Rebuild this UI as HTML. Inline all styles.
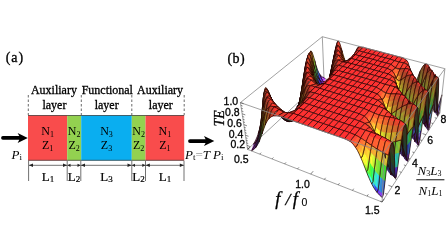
<!DOCTYPE html>
<html><head><meta charset="utf-8"><style>
html,body{margin:0;padding:0;background:#fff;overflow:hidden}
svg{display:block}
.s{font-family:"Liberation Serif",serif;fill:#000}
.h{stroke:#000;stroke-width:0.3px}
.t{font-family:"Liberation Sans",sans-serif;fill:#000;stroke:#000;stroke-width:0.3px}
.bx{stroke:#8a8a8a;stroke-width:0.8}
.m{fill:none;stroke:#200;stroke-width:0.8;stroke-opacity:0.85}

</style></head><body>
<svg width="448" height="252" viewBox="0 0 448 252">
<rect width="448" height="252" fill="#fff"/>

<text x="5.8" y="62.2" class="s h" font-size="14" letter-spacing="0.9">(a)</text>
<g class="s h" font-size="12" text-anchor="middle">
<text x="53.9" y="94">Auxiliary</text>
<text x="107.3" y="94">Functional</text>
<text x="160.1" y="94">Auxiliary</text>
<text x="54.4" y="108.6">layer</text>
<text x="106.7" y="108.6">layer</text>
<text x="160.8" y="108.6">layer</text>
</g>
<g stroke="#444" stroke-width="0.8" stroke-dasharray="2.5 2">
<line x1="28.3" y1="95" x2="28.3" y2="115"/>
<line x1="81.3" y1="95" x2="81.3" y2="115"/>
<line x1="131.8" y1="95" x2="131.8" y2="115"/>
<line x1="184.2" y1="95" x2="184.2" y2="115"/>
</g>
<rect x="28" y="115.3" width="39.2" height="45.2" fill="#f94c4c"/>
<rect x="67.2" y="115.3" width="14" height="45.2" fill="#93d150"/>
<rect x="81.2" y="115.3" width="50.6" height="45.2" fill="#0aaef0"/>
<rect x="131.8" y="115.3" width="13.7" height="45.2" fill="#93d150"/>
<rect x="145.5" y="115.3" width="38.7" height="45.2" fill="#f94c4c"/>
<g stroke="#333" stroke-width="0.7"><line x1="28" y1="115.5" x2="184.2" y2="115.5"/><line x1="28" y1="160.3" x2="184.2" y2="160.3"/></g>
<g class="s" font-size="12" text-anchor="middle">
<text x="47.6" y="135">N<tspan font-size="8" dy="2">1</tspan></text>
<text x="47.6" y="148.5">Z<tspan font-size="8" dy="2">1</tspan></text>
<text x="74.2" y="135">N<tspan font-size="8" dy="2">2</tspan></text>
<text x="74.2" y="148.5">Z<tspan font-size="8" dy="2">2</tspan></text>
<text x="106.5" y="135">N<tspan font-size="8" dy="2">3</tspan></text>
<text x="106.5" y="148.5">Z<tspan font-size="8" dy="2">3</tspan></text>
<text x="138.7" y="135">N<tspan font-size="8" dy="2">2</tspan></text>
<text x="138.7" y="148.5">Z<tspan font-size="8" dy="2">2</tspan></text>
<text x="164.8" y="135">N<tspan font-size="8" dy="2">1</tspan></text>
<text x="164.8" y="148.5">Z<tspan font-size="8" dy="2">1</tspan></text>
</g>
<path d="M2.9 136.1H19.3L17.6 132.9L27.8 137.9L17.6 143L19.3 139.7H2.9A1.8 1.8 0 0 1 2.9 136.1Z" fill="#000"/>
<path d="M190 139.2H205.6L204 136.1L214.3 141.1L204 146.1L205.6 143H190A1.9 1.9 0 0 1 190 139.2Z" fill="#000"/>
<text x="11.5" y="158.5" class="s" font-size="13"><tspan font-style="italic">P</tspan><tspan font-size="9" dy="1">i</tspan></text>
<text x="185" y="158.5" class="s" font-size="13"><tspan font-style="italic">P</tspan><tspan font-size="9" dy="1">t</tspan><tspan dy="-1" fill="#999">=</tspan><tspan font-style="italic">T P</tspan><tspan font-size="9" dy="1">i</tspan></text>
<g stroke="#333" stroke-width="0.7">
<line x1="28.6" y1="161" x2="28.6" y2="181"/><line x1="67.2" y1="161" x2="67.2" y2="181"/>
<line x1="80.8" y1="161" x2="80.8" y2="181"/><line x1="131.8" y1="161" x2="131.8" y2="181"/>
<line x1="145.5" y1="161" x2="145.5" y2="181"/><line x1="184" y1="161" x2="184" y2="181"/>
<line x1="29" y1="165.3" x2="67" y2="165.3"/><line x1="67.5" y1="165.3" x2="80.5" y2="165.3"/>
<line x1="81" y1="165.3" x2="131.5" y2="165.3"/><line x1="132" y1="165.3" x2="145.3" y2="165.3"/>
<line x1="145.8" y1="165.3" x2="183.8" y2="165.3"/>
</g>
<g fill="#222">
<path d="M29 165.3l4-1.8v3.6z"/><path d="M67 165.3l-4-1.8v3.6z"/>
<path d="M67.5 165.3l3-1.6v3.2z"/><path d="M80.5 165.3l-3-1.6v3.2z"/>
<path d="M81 165.3l4-1.8v3.6z"/><path d="M131.5 165.3l-4-1.8v3.6z"/>
<path d="M132 165.3l3-1.6v3.2z"/><path d="M145.3 165.3l-3-1.6v3.2z"/>
<path d="M145.8 165.3l4-1.8v3.6z"/><path d="M183.8 165.3l-4-1.8v3.6z"/>
</g>
<g class="s" font-size="13" text-anchor="middle" style="stroke:#000;stroke-width:0.2px">
<text x="48" y="180.5">L<tspan font-size="9" dy="1.5">1</tspan></text>
<text x="74" y="180.5">L<tspan font-size="9" dy="1.5">2</tspan></text>
<text x="106.5" y="180.5">L<tspan font-size="9" dy="1.5">3</tspan></text>
<text x="138.6" y="180.5">L<tspan font-size="9" dy="1.5">2</tspan></text>
<text x="164.9" y="180.5">L<tspan font-size="9" dy="1.5">1</tspan></text>
</g>
<line x1="324.0" y1="78.5" x2="322.3" y2="36.7" class="bx"/>
<line x1="324.0" y1="78.5" x2="247.6" y2="149.4" class="bx"/>
<line x1="324.0" y1="78.5" x2="439.9" y2="113.1" class="bx"/>
<g class="sf"><path d="M323.9 79.1l1.3 1.2 .3-.1-.3-1.3z" fill="#c332ff"/>
<path d="M322.6 77.1l1.3 2 1.3-.2 0-.1-1.2-1.3z" fill="#b131ff"/>
<path d="M325.2 80.3l.7 .4-.4-.5z" fill="#bd31ff"/>
<path d="M322.6 78.8l1.3 1.7 1.3-.2-1.3-1.2z" fill="#b231ff"/>
<path d="M323.9 80.5l1.3 1.1 1-.5-.3-.4-.7-.4z" fill="#c032ff"/>
<path d="M321.2 76.1l1.4 2.7 1.3 .3-1.3-2z" fill="#9530f4"/>
<path d="M322.5 80.4l1.3 1.5 1.4-.3-1.3-1.1z" fill="#b031ff"/>
<path d="M321.1 78l1.4 2.4 1.4 .1-1.3-1.7z" fill="#9730f7"/>
<path d="M319.7 74.3l1.4 3.7 1.5 .8-1.4-2.7z" fill="#6e2ee4"/>
<path d="M319.7 74.3L321.1 78.0L322.5 80.4L323.8 81.9L325.2 81.6L326.2 81.1M325.2 78.8L324.0 77.5L322.6 77.1L321.2 76.1L319.7 74.3" class="m"/>
<path d="M325.8 81.3l1.9 .2 1.9-2.2-1.2 .5-2.1 1.2z" fill="#952ccb"/>
<path d="M327.7 81.5l1.8-1.4 1.9-3.9-1.8 3.1z" fill="#5c2787"/>
<path d="M323.8 81.9l1.9 1.2 2-1.6-1.9-.2z" fill="#b130fa"/>
<path d="M325.7 83.1l1.9-.3 1.9-2.7-1.8 1.4z" fill="#7a2aaf"/>
<path d="M323.8 81.9L325.7 83.1L327.6 82.8L329.5 80.1L331.4 76.2L329.6 79.3L328.4 79.8M326.3 81.0L325.8 81.3L323.8 81.9" class="m"/>
<path d="M319.5 79.7l2.1 3.8 2 2 2-.9 2-1.8-1.9 .3-1.9-1.2-2.1-.4z" fill="#9730f4"/>
<path d="M321.7 81.5l2 2.3 2-.7-1.9-1.2z" fill="#a931ff"/>
<path d="M323.7 83.8l1.9 .8 2-1.8-1.9 .3z" fill="#972ee0"/>
<path d="M321.6 83.5l2 2 2-.9-1.9-.8z" fill="#9e31ff"/>
<path d="M319.5 79.7l2.1 3.8 2.1 .3-2-2.3z" fill="#802ff1"/>
<path d="M319.5 79.7l2.1 3.8 2 2 2-.9 2-1.8-1.9 .3-1.9-1.2-2.1-.4z" class="m"/>
<path d="M327.6 82.8l.9-.8 .9-1.5 .9-2.2 .9-3.2 .9-3.5 .9-4.1 .9-4.6 .8-5.1-.8 6.3-.8 5.3-.8 4-.9 2.8-.9 2.1-1 1.8-.9 1.5z" fill="#302f57"/>
<path d="M330.5 78.3l.9-2.2 .9-2.7-.9 2.8z" fill="#30224f"/>
<path d="M329.5 80.1l.9-1.7 1-2.3-.9 2.2z" fill="#35224c"/>
<path d="M328.6 81.6l.9-1.3 .9-1.9-.9 1.7z" fill="#532781"/>
<path d="M327.6 82.8l.9-.8 1-1.7-.9 1.3z" fill="#5b2789"/>
<path d="M331.4 76.1l.8-3.2 .9-3.5-.8 4z" fill="#232351"/>
<path d="M330.4 78.4l.9-2.6 .9-2.9-.8 3.2z" fill="#2a224f"/>
<path d="M329.5 80.3l.9-1.9 .9-2.6-.9 2.6z" fill="#30224e"/>
<path d="M328.5 82l.9-1.5 1-2.1-.9 1.9z" fill="#4c267e"/>
<path d="M330.4 78.4l.8-2.9 1-3.2-.9 3.5z" fill="#242350"/>
<path d="M331.3 75.8l.9-3.5 .9-3.8-.9 4.4z" fill="#233251"/>
<path d="M329.4 80.5l.9-2.2 .9-2.8-.8 2.9z" fill="#2b224e"/>
<path d="M332.2 72.9l.9-4.4 .8-4.4-.8 5.3z" fill="#234952"/>
<path d="M330.3 78.3l.9-3.2 .9-3.5-.9 3.9z" fill="#232c50"/>
<path d="M331.2 75.5l.9-3.9 .9-4.1-.8 4.8z" fill="#234151"/>
<path d="M332.2 72.3l.8-4.8 .9-4.6-.8 5.6z" fill="#235149"/>
<path d="M333.1 68.5l.8-5.6 .8-5.1-.8 6.3z" fill="#23522e"/>
<path d="M327.6 82.8l.9-.8 .9-1.5 .9-2.2 .9-3.2 .9-3.5 .9-4.1 .9-4.6 .8-5.1-.8 6.3-.8 5.3-.8 4-.9 2.8-.9 2.1-1 1.8-.9 1.5z" class="m"/>
<path d="M314.7 60.5l1.3 6.8 1.2 5.4 1.2 4 1.1 3 1.1 1.1 1.1 .7 1.1 .4 1 0-1-1.1-1-1.5-1-2.1-1.1-2.9-1.2-2.2-1.2-3-1.3-3.9z" fill="#4e57d4"/>
<path d="M321.8 80.4l1 1.5 1 0-1-1.1z" fill="#9e30fd"/>
<path d="M320.7 78.5l1.1 1.9 1 .4-1-1.5z" fill="#892ff0"/>
<path d="M319.7 75.8l1 2.7 1.1 .8-1-2.1z" fill="#662ee3"/>
<path d="M320.7 79.7l1 1.8 1.1 .4-1-1.5z" fill="#892ff1"/>
<path d="M318.5 72.1l1.2 3.7 1.1 1.4-1.1-2.9z" fill="#372dd7"/>
<path d="M319.6 77.2l1.1 2.5 1.1 .7-1.1-1.9z" fill="#672ee4"/>
<path d="M318.5 73.8l1.1 3.4 1.1 1.3-1-2.7z" fill="#3c2dd9"/>
<path d="M319.6 78.5l1 2.3 1.1 .7-1-1.8z" fill="#672fe6"/>
<path d="M317.3 69.1l1.2 4.7 1.2 2-1.2-3.7z" fill="#2d71d2"/>
<path d="M318.5 75.4l1.1 3.1 1.1 1.2-1.1-2.5z" fill="#3e2eda"/>
<path d="M317.3 71l1.2 4.4 1.1 1.8-1.1-3.4z" fill="#2d64d1"/>
<path d="M318.4 76.7l1.1 3 1.1 1.1-1-2.3z" fill="#3f2edb"/>
<path d="M317.2 72.7l1.2 4 1.2 1.8-1.1-3.1z" fill="#2d5cd1"/>
<path d="M316 65.2l1.3 5.8 1.2 2.8-1.2-4.7z" fill="#2dd1c2"/>
<path d="M316 67.3l1.2 5.4 1.3 2.7-1.2-4.4z" fill="#2dcdcf"/>
<path d="M314.7 60.5l1.3 6.8 1.3 3.7-1.3-5.8z" fill="#2dd046"/>
<path d="M314.7 60.5l1.3 6.8 1.2 5.4 1.2 4 1.1 3 1.1 1.1 1.1 .7 1.1 .4 1 0-1-1.1-1-1.5-1-2.1-1.1-2.9-1.2-2.2-1.2-3-1.3-3.9z" class="m"/>
<path d="M323.6 85.5l1.3 .5 1.2-.2 1.3-1.2 1.3-2.4 1.2-3.2 1.3-3.9-1.2 4-1.2 2.5-1.2 1.2-1.3 1.3-1.4 .9z" fill="#5c2896"/>
<path d="M326.3 84.1l1.2-.6 1.3-1.9-1.2 1.2z" fill="#67299b"/>
<path d="M324.9 85l1.3 0 1.3-1.5-1.2 .6z" fill="#7e2cc0"/>
<path d="M327.5 83.5l1.2-1.6 1.3-2.8-1.2 2.5z" fill="#4d2681"/>
<path d="M326.2 85l1.3-.9 1.2-2.2-1.2 1.6z" fill="#58278c"/>
<path d="M323.6 85.5l1.3 .5 1.3-1-1.3 0z" fill="#8d2ee0"/>
<path d="M328.7 81.9l1.2-2.9 1.3-3.9-1.2 4z" fill="#28224e"/>
<path d="M324.9 86l1.2-.2 1.4-1.7-1.3 .9z" fill="#6e2ab1"/>
<path d="M327.5 84.1l1.2-1.9 1.2-3.2-1.2 2.9z" fill="#40267d"/>
<path d="M326.1 85.8l1.3-1.2 1.3-2.4-1.2 1.9z" fill="#4d2787"/>
<path d="M323.6 85.5l1.3 .5 1.2-.2 1.3-1.2 1.3-2.4 1.2-3.2 1.3-3.9-1.2 4-1.2 2.5-1.2 1.2-1.3 1.3-1.4 .9z" class="m"/>
<path d="M319.2 83.5l2.1 3.2 2 1.6 2.1-1.2 2-2.5-1.9 1.4-1.9-.5-2.2-.2z" fill="#742ee4"/>
<path d="M321.4 85.3l2 1.7 2.1-1-1.9-.5z" fill="#8e30fa"/>
<path d="M323.4 87l2 .1 2-2.5-1.9 1.4z" fill="#6b2bba"/>
<path d="M319.2 83.5l2.1 3.2 2.1 .3-2-1.7z" fill="#622fef"/>
<path d="M321.3 86.7l2 1.6 2.1-1.2-2-.1z" fill="#752fee"/>
<path d="M319.2 83.5l2.1 3.2 2 1.6 2.1-1.2 2-2.5-1.9 1.4-1.9-.5-2.2-.2z" class="m"/>
<path d="M314.5 68.4l1.3 5.3 1.2 4.1 1.1 3.2 1.1 2.5 1.1 1.1 1.1 .7 1.1 .3 1.1-.1-1-.8-1-1.2-1.1-1.6-1-2.2-1.2-1.7-1.2-2.4-1.2-3.2z" fill="#4853d9"/>
<path d="M321.5 84.4l1 1.2 1.1-.1-1-.8z" fill="#9030fc"/>
<path d="M320.5 82.9l1 1.5 1.1 .3-1-1.2z" fill="#7e30f2"/>
<path d="M319.4 80.8l1.1 2.1 1.1 .6-1.1-1.6z" fill="#612fe7"/>
<path d="M318.3 78l1.1 2.8 1.1 1.1-1-2.2z" fill="#3d2edc"/>
<path d="M320.4 83.8l1 1.5 1.1 .3-1-1.2z" fill="#762ff2"/>
<path d="M319.3 81.8l1.1 2 1.1 .6-1-1.5z" fill="#5b2fe7"/>
<path d="M318.3 79.1l1 2.7 1.2 1.1-1.1-2.1z" fill="#3a2edc"/>
<path d="M317.1 75.6l1.2 3.5 1.1 1.7-1.1-2.8z" fill="#2d5bd3"/>
<path d="M319.3 82.7l1 1.9 1.1 .7-1-1.5z" fill="#542fe6"/>
<path d="M318.2 80.1l1.1 2.6 1.1 1.1-1.1-2z" fill="#352edc"/>
<path d="M317 76.8l1.2 3.3 1.1 1.7-1-2.7z" fill="#2d60d3"/>
<path d="M318.1 81l1.1 2.5 1.1 1.1-1-1.9z" fill="#2e2edb"/>
<path d="M315.9 72.4l1.1 4.4 1.3 2.3-1.2-3.5z" fill="#2db8cd"/>
<path d="M317 77.8l1.1 3.2 1.2 1.7-1.1-2.6z" fill="#2d68d3"/>
<path d="M315.8 73.7l1.2 4.1 1.2 2.3-1.2-3.3z" fill="#2dbbcd"/>
<path d="M314.5 68.4l1.3 5.3 1.2 3.1-1.1-4.4z" fill="#2ccb75"/>
<path d="M314.5 68.4l1.3 5.3 1.2 4.1 1.1 3.2 1.1 2.5 1.1 1.1 1.1 .7 1.1 .3 1.1-.1-1-.8-1-1.2-1.1-1.6-1-2.2-1.2-1.7-1.2-2.4-1.2-3.2z" class="m"/>
<path d="M327.4 84.6l.9-1.6 .9-2.4 .8-3.2 .9-4 .9-4.3 .9-4.7 .9-5 .9-5.1-.8 5.7-.9 5.7-.8 5.2-.8 4.2-1 3-.9 2.6-1 2.1z" fill="#284044"/>
<path d="M329.3 80.7l.9-2.8 .9-3.2-.9 3.4z" fill="#22274f"/>
<path d="M330.2 78.1l.9-3.4 .9-3.8-.8 4.2z" fill="#233a50"/>
<path d="M328.3 82.8l.9-2.1 1-2.8-.9 2.8z" fill="#26224e"/>
<path d="M329.2 80.7l.9-3 .9-3.5-.8 3.7z" fill="#22334f"/>
<path d="M328.3 83l.9-2.4 .9-2.9-.9 3z" fill="#22244e"/>
<path d="M330.2 77.9l.8-3.7 .9-4-.8 4.5z" fill="#234750"/>
<path d="M331.1 74.7l.8-4.5 .9-4.5-.8 5.2z" fill="#235143"/>
<path d="M329.2 80.6l.8-3.2 1-3.6-.9 3.9z" fill="#223f4f"/>
<path d="M330.1 77.7l.9-3.9 .9-4.2-.9 4.6z" fill="#23504c"/>
<path d="M331 74.2l.9-4.6 .9-4.6-.9 5.2z" fill="#235035"/>
<path d="M331.9 70.2l.9-5.2 .9-5-.9 5.7z" fill="#295123"/>
<path d="M330 77.4l.9-4 .9-4.3-.8 4.7z" fill="#235040"/>
<path d="M331 73.8l.8-4.7 .9-4.7-.8 5.2z" fill="#235028"/>
<path d="M331.9 69.6l.8-5.2 .9-5-.8 5.6z" fill="#335023"/>
<path d="M332.8 65l.8-5.6 .9-5.1-.8 5.7z" fill="#485023"/>
<path d="M327.4 84.6l.9-1.6 .9-2.4 .8-3.2 .9-4 .9-4.3 .9-4.7 .9-5 .9-5.1-.8 5.7-.9 5.7-.8 5.2-.8 4.2-1 3-.9 2.6-1 2.1z" class="m"/>
<path d="M323.3 88.3l.9 .1 1-.3 1-.9 .9-1.6 1-2.3 .9-2.8 1-3.3 .9-3.8-.9 4-.8 3.2-.9 2.4-.9 1.6-1 1.4-1 1.1-1.1 .8z" fill="#372b79"/>
<path d="M326.4 86l.9-1.1 1-1.9-.9 1.6z" fill="#432783"/>
<path d="M325.4 87.1l.9-.7 1-1.5-.9 1.1z" fill="#4c288f"/>
<path d="M324.3 87.9l1-.3 1-1.2-.9 .7z" fill="#5a2aad"/>
<path d="M326.3 86.4l.9-1.2 1-2.1-.9 1.8z" fill="#392681"/>
<path d="M325.3 87.6l.9-.8 1-1.6-.9 1.2z" fill="#412789"/>
<path d="M323.3 88.3l.9 .1 1.1-.8-1 .3z" fill="#652dcd"/>
<path d="M328.2 83.1l.9-2.5 .9-3.2-.8 3.2z" fill="#222e4e"/>
<path d="M327.2 85.2l.9-2 1-2.6-.9 2.5z" fill="#22224d"/>
<path d="M324.2 88.4l1-.3 1-1.3-.9 .8z" fill="#4d29a5"/>
<path d="M326.2 86.8l1-1.4 .9-2.2-.9 2z" fill="#30267f"/>
<path d="M325.2 88.1l1-.9 1-1.8-1 1.4z" fill="#382787"/>
<path d="M328.1 83.2l.9-2.7 1-3.3-.9 3.4z" fill="#22384e"/>
<path d="M329.1 80.6l.9-3.4 .9-3.8-.9 4z" fill="#224a4f"/>
<path d="M327.2 85.4l.9-2.1 .9-2.8-.9 2.7z" fill="#222a4d"/>
<path d="M326.2 87.2l.9-1.6 1-2.3-.9 2.1z" fill="#27267d"/>
<path d="M323.3 88.3l.9 .1 1-.3 1-.9 .9-1.6 1-2.3 .9-2.8 1-3.3 .9-3.8-.9 4-.8 3.2-.9 2.4-.9 1.6-1 1.4-1 1.1-1.1 .8z" class="m"/>
<path d="M331.2 75.1l.8-4.2 .8-5.2 .9-5.7 .8-5.7 .9-4.8 .9-4 1-3 1-1.6-1 1-.9 3.6-.9 5.7-.8 6.6-.8 5.1-.9 4.6-.9 4.1z" fill="#454728"/>
<path d="M331.2 75.1l.8-4.2 .9-4.3-.8 5z" fill="#235051"/>
<path d="M332.1 71.6l.8-5 .9-4.8-.8 5.7z" fill="#235139"/>
<path d="M333 67.5l.8-5.7 .9-5.2-.8 6.3z" fill="#275123"/>
<path d="M333.9 62.9l.8-6.3 .8-5.4-.8 6.6z" fill="#3f5223"/>
<path d="M332 70.9l.8-5.2 .9-4.9-.8 5.8z" fill="#23512a"/>
<path d="M332.9 66.6l.8-5.8 .9-5.2-.8 6.2z" fill="#335123"/>
<path d="M333.8 61.8l.8-6.2 .9-5.3-.8 6.3z" fill="#4b5123"/>
<path d="M334.7 56.6l.8-6.3 .9-4.8-.9 5.7z" fill="#504523"/>
<path d="M332.8 65.7l.9-5.7 .8-5.2-.8 6z" fill="#3e5023"/>
<path d="M333.7 60.8l.8-6 .9-5-.8 5.8z" fill="#504d23"/>
<path d="M334.6 55.6l.8-5.8 1-4.5-.9 5z" fill="#503e23"/>
<path d="M335.5 50.3l.9-5 .9-3.4-.9 3.6z" fill="#4e3222"/>
<path d="M333.7 60l.8-5.7 .9-4.8-.9 5.3z" fill="#4f4623"/>
<path d="M334.5 54.8l.9-5.3 .9-4-.9 4.3z" fill="#4e3922"/>
<path d="M336.4 45.3l.9-2.8 1-1.6-1 1z" fill="#7f3026"/>
<path d="M335.4 49.8l.9-4.3 1-3-.9 2.8z" fill="#723a25"/>
<path d="M331.2 75.1l.8-4.2 .8-5.2 .9-5.7 .8-5.7 .9-4.8 .9-4 1-3 1-1.6-1 1-.9 3.6-.9 5.7-.8 6.6-.8 5.1-.9 4.6-.9 4.1z" class="m"/>
<path d="M309.8 53.3l.8-2.1 1.3 4.1 1.3 6.6 1.3 6.5 1.4 4 1.2 3.2 1.2 2.4 1.2 1.7-1.1-3-1.2-4-1.2-5.4-1.3-6.8-1.4-4.8-1.3-3.8-1.2-1.1z" fill="#7bb456"/>
<path d="M317.2 74.2l1.1 3.8 1.2 1.7-1.1-3z" fill="#2d5ad2"/>
<path d="M316 69.2l1.2 5 1.2 2.5-1.2-4z" fill="#2dc1ce"/>
<path d="M315.9 70.9l1.2 4.7 1.2 2.4-1.1-3.8z" fill="#2dbace"/>
<path d="M314.7 62.8l1.3 6.4 1.2 3.5-1.2-5.4z" fill="#2dce5a"/>
<path d="M314.6 64.9l1.3 6 1.3 3.3-1.2-5z" fill="#2ccc68"/>
<path d="M314.6 66.7l1.3 5.7 1.2 3.2-1.2-4.7z" fill="#2ccc71"/>
<path d="M313.3 55.7l1.4 7.1 1.3 4.5-1.3-6.8z" fill="#83d02d"/>
<path d="M313.3 57.8l1.3 7.1 1.4 4.3-1.3-6.4z" fill="#71ce2d"/>
<path d="M313.3 59.9l1.3 6.8 1.3 4.2-1.3-6z" fill="#63cc2c"/>
<path d="M313.2 61.9l1.3 6.5 1.4 4-1.3-5.7z" fill="#58cb2c"/>
<path d="M312 51.9l1.3 5.9 1.4 5-1.4-7.1z" fill="#d0bb2d"/>
<path d="M311.9 53.4l1.4 6.5 1.3 5-1.3-7.1z" fill="#cfc42d"/>
<path d="M311.9 55.3l1.3 6.6 1.4 4.8-1.3-6.8z" fill="#cccd2d"/>
<path d="M310.8 50.8l1.1 2.6 1.4 4.4-1.3-5.9z" fill="#d0862d"/>
<path d="M310.6 51.2l1.3 4.1 1.4 4.6-1.4-6.5z" fill="#d08a2d"/>
<path d="M309.8 53.3l.8-2.1 1.3 2.2-1.1-2.6z" fill="#e6762f"/>
<path d="M309.8 53.3l.8-2.1 1.3 4.1 1.3 6.6 1.3 6.5 1.4 4 1.2 3.2 1.2 2.4 1.2 1.7-1.1-3-1.2-4-1.2-5.4-1.3-6.8-1.4-4.8-1.3-3.8-1.2-1.1z" class="m"/>
<path d="M342.6 55.8l1.1 2.8 1 2.5 1.1 2.2 1 1.8 1 1.1 1 .5 1-.3 .9-1-1 1-1 0-1-.7-1-1.5-1-1.8-1-2.1-1-2.3z" fill="#6fd22e"/>
<path d="M346.7 64.5l1.1 1.4 .9 .5-1-.7z" fill="#31e02e"/>
<path d="M347.8 65.9l1 .7 .9-.2-1 0z" fill="#2dd435"/>
<path d="M345.7 62.4l1 2.1 1 1.2-1-1.5z" fill="#48d82d"/>
<path d="M348.8 66.6l1-.2 .9-1-1 1z" fill="#2ca92a"/>
<path d="M346.8 64.7l1 1.3 1 .6-1-.7z" fill="#47df2e"/>
<path d="M345.7 62.8l1.1 1.9 1 1.2-1.1-1.4z" fill="#5bd82d"/>
<path d="M347.8 66l1 .7 1-.3-1 .2z" fill="#3dcf2d"/>
<path d="M344.7 60.3l1 2.5 1 1.7-1-2.1z" fill="#7ad32d"/>
<path d="M346.8 64.9l1 1.3 1 .5-1-.7z" fill="#5dde2e"/>
<path d="M345.8 63.1l1 1.8 1 1.1-1-1.3z" fill="#6fd82d"/>
<path d="M344.7 60.8l1.1 2.3 1 1.6-1.1-1.9z" fill="#8cd32d"/>
<path d="M343.7 58l1 2.8 1 2-1-2.5z" fill="#b2d02d"/>
<path d="M345.8 63.3l1 1.8 1 1.1-1-1.3z" fill="#84d92d"/>
<path d="M344.7 61.1l1.1 2.2 1 1.6-1-1.8z" fill="#9ed42d"/>
<path d="M343.7 58.6l1 2.5 1.1 2-1.1-2.3z" fill="#c2d12d"/>
<path d="M342.6 55.8l1.1 2.8 1 2.2-1-2.8z" fill="#d0bb2d"/>
<path d="M342.6 55.8l1.1 2.8 1 2.5 1.1 2.2 1 1.8 1 1.1 1 .5 1-.3 .9-1-1 1-1 0-1-.7-1-1.5-1-1.8-1-2.1-1-2.3z" class="m"/>
<path d="M318.8 85.9l2.1 3 2 1.2 2.2-1.3 2-3.2-1.9 2.5-1.9 .2-2.2-.3z" fill="#3d2dcd"/>
<path d="M321.1 88l2 1.3 2.1-1.2-1.9 .2z" fill="#562ee0"/>
<path d="M323.1 89.3l2-.5 2-3.2-1.9 2.5z" fill="#37289a"/>
<path d="M318.8 85.9l2.1 3 2.2 .4-2-1.3z" fill="#2f2fe6"/>
<path d="M320.9 88.9l2 1.2 2.2-1.3-2 .5z" fill="#372dd4"/>
<path d="M318.8 85.9l2.1 3 2 1.2 2.2-1.3 2-3.2-1.9 2.5-1.9 .2-2.2-.3z" class="m"/>
<path d="M314.2 73l1.2 4.3 1.2 3.5 1.1 2.8 1.1 2.3 1.1 1.3 1.2 .8 1.1 .3 1.1 0-1-.6-1-1-1.1-1.3-1-1.9-1.2-1.7-1.2-2.2-1.3-3z" fill="#3768d0"/>
<path d="M320.1 86l1.1 1.4 1.1 .3-1-1z" fill="#572fed"/>
<path d="M321.2 87.4l1 .9 1.1 0-1-.6z" fill="#6430f2"/>
<path d="M319.1 84.2l1 1.8 1.2 .7-1.1-1.3z" fill="#412ee4"/>
<path d="M318 81.8l1.1 2.4 1.1 1.2-1-1.9z" fill="#2e36db"/>
<path d="M320 86.6l1.1 1.4 1.1 .3-1-.9z" fill="#4a2feb"/>
<path d="M319 84.8l1 1.8 1.2 .8-1.1-1.4z" fill="#362ee2"/>
<path d="M317.9 82.5l1.1 2.3 1.1 1.2-1-1.8z" fill="#2e48d9"/>
<path d="M316.8 79.6l1.1 2.9 1.2 1.7-1.1-2.4z" fill="#2d83d2"/>
<path d="M318.9 85.4l1 1.8 1.2 .8-1.1-1.4z" fill="#2e33e0"/>
<path d="M317.8 83.1l1.1 2.3 1.1 1.2-1-1.8z" fill="#2d5dd8"/>
<path d="M316.7 80.3l1.1 2.8 1.2 1.7-1.1-2.3z" fill="#2d94d1"/>
<path d="M315.5 76.6l1.2 3.7 1.2 2.2-1.1-2.9z" fill="#2ccbbd"/>
<path d="M317.7 83.6l1.1 2.3 1.1 1.3-1-1.8z" fill="#2d74d6"/>
<path d="M316.6 80.8l1.1 2.8 1.2 1.8-1.1-2.3z" fill="#2da8cf"/>
<path d="M315.4 77.3l1.2 3.5 1.2 2.3-1.1-2.8z" fill="#2ccaac"/>
<path d="M314.2 73l1.2 4.3 1.3 3-1.2-3.7z" fill="#2cc859"/>
<path d="M314.2 73l1.2 4.3 1.2 3.5 1.1 2.8 1.1 2.3 1.1 1.3 1.2 .8 1.1 .3 1.1 0-1-.6-1-1-1.1-1.3-1-1.9-1.2-1.7-1.2-2.2-1.3-3z" class="m"/>
<path d="M346.8 65.1l1.1 1.2 1 .6 1-.2 1-1.6 1-1.8 1-2.5 .9-2.8 1-3.2-1.1 3.4-1 2.9-1 2.5-1 1.8-.9 1-1 .3-1-.5z" fill="#4f8a27"/>
<path d="M349.8 66.4l1-1 .9-1.8-1 1.8z" fill="#368327"/>
<path d="M348.8 66.7l1-.2 1-1.1-1 1z" fill="#3da629"/>
<path d="M350.8 65.4l1-1.7 .9-2.6-1 2.5z" fill="#497b26"/>
<path d="M349.8 66.5l1-1 1-1.8-1 1.7z" fill="#438327"/>
<path d="M347.8 66.2l1 .6 1-.3-1 .2z" fill="#52cd2d"/>
<path d="M351.8 63.7l1-2.5 .9-3-1 2.9z" fill="#617626"/>
<path d="M348.8 66.8l1.1-.2 .9-1.1-1 1z" fill="#4da629"/>
<path d="M350.8 65.5l1-1.8 1-2.5-1 2.5z" fill="#557b26"/>
<path d="M349.9 66.6l1-1 .9-1.9-1 1.8z" fill="#508427"/>
<path d="M346.8 65.1l1.1 1.2 .9 .5-1-.6z" fill="#73de2e"/>
<path d="M347.9 66.3l1 .6 1-.3-1.1 .2z" fill="#67cd2d"/>
<path d="M352.8 61.2l1-3.2 1-3.2-1.1 3.4z" fill="#4f4b22"/>
<path d="M351.8 63.7l1.1-2.9 .9-2.8-1 3.2z" fill="#4a4f23"/>
<path d="M348.9 66.9l1-.2 1-1.1-1 1z" fill="#5ea529"/>
<path d="M350.9 65.6l1-2.3 1-2.5-1.1 2.9z" fill="#435023"/>
<path d="M349.9 66.7l1-1.6 1-1.8-1 2.3z" fill="#3e5023"/>
<path d="M346.8 65.1l1.1 1.2 1 .6 1-.2 1-1.6 1-1.8 1-2.5 .9-2.8 1-3.2-1.1 3.4-1 2.9-1 2.5-1 1.8-.9 1-1 .3-1-.5z" class="m"/>
<path d="M338.3 45.8l1.1 1.7 1.1 2.5 1 2.8 1.1 3 1.1 2.2 1 2.3 1 2.1 1 1.8-1-2.2-1.1-2.7-1-3.2-1.1-3.6-1-2.6-1.1-2.2-1-1.4z" fill="#c69e2d"/>
<path d="M344.7 59.8l1 2.6 1 1.8-1-2.2z" fill="#6ad22d"/>
<path d="M343.6 56.8l1.1 3 1 2.2-1.1-2.7z" fill="#96cf2d"/>
<path d="M342.6 53.4l1 3.4 1 2.5-1-3.2z" fill="#cbcd2d"/>
<path d="M343.6 57.5l1.1 2.8 1 2.1-1-2.6z" fill="#a3cf2d"/>
<path d="M341.5 49.9l1.1 3.5 1 2.7-1.1-3.6z" fill="#cea82d"/>
<path d="M342.6 54.3l1 3.2 1.1 2.3-1.1-3z" fill="#cec82d"/>
<path d="M341.5 51l1.1 3.3 1 2.5-1-3.4z" fill="#cfa52d"/>
<path d="M342.6 55.1l1.1 2.9 1 2.3-1.1-2.8z" fill="#cfc22d"/>
<path d="M340.4 47.7l1.1 3.3 1.1 2.4-1.1-3.5z" fill="#d2822d"/>
<path d="M341.5 51.9l1.1 3.2 1 2.4-1-3.2z" fill="#d0a22d"/>
<path d="M340.5 48.9l1 3 1.1 2.4-1.1-3.3z" fill="#d3812d"/>
<path d="M341.5 52.8l1.1 3 1.1 2.2-1.1-2.9z" fill="#d19d2d"/>
<path d="M339.4 46.3l1.1 2.6 1 2.1-1.1-3.3z" fill="#da622e"/>
<path d="M340.5 50l1 2.8 1.1 2.3-1.1-3.2z" fill="#d57f2d"/>
<path d="M339.4 47.5l1.1 2.5 1 1.9-1-3z" fill="#dc622e"/>
<path d="M338.3 45.8l1.1 1.7 1.1 1.4-1.1-2.6z" fill="#eb4a2f"/>
<path d="M338.3 45.8l1.1 1.7 1.1 2.5 1 2.8 1.1 3 1.1 2.2 1 2.3 1 2.1 1 1.8-1-2.2-1.1-2.7-1-3.2-1.1-3.6-1-2.6-1.1-2.2-1-1.4z" class="m"/>
<path d="M302 96.4l.8-2.5 1-3.2-.8 3.1z" fill="#33224e"/>
<path d="M301 98.6l.8-1.9 1-2.8-.8 2.5z" fill="#37224c"/>
<path d="M299.9 100.6l.9-1.4 1-2.5-.8 1.9z" fill="#5a267f"/>
<path d="M299.2 102l.5-.7 1.1-2.1-.9 1.4-.3 .6z" fill="#622785"/>
<path d="M300.8 99.2l.8-2.2 1-3-.8 2.7z" fill="#35224c"/>
<path d="M301.8 96.7l.8-2.7 .9-3.6-.7 3.5z" fill="#2e224e"/>
<path d="M302.8 93.9l.7-3.5 .9-4.2-.6 4.5z" fill="#242350"/>
<path d="M300.6 99.7l.8-2.4 1-3.3-.8 3z" fill="#31224d"/>
<path d="M301.6 97l.8-3 .9-3.8-.7 3.8z" fill="#28224e"/>
<path d="M302.6 94l.7-3.8 .9-4.6-.7 4.8z" fill="#232b4f"/>
<path d="M303.5 90.4l.7-4.8 .8-5.4-.6 6z" fill="#234750"/>
<path d="M301.4 97.3l.7-3.2 .9-4.1-.6 4z" fill="#23224e"/>
<path d="M302.4 94l.6-4 .9-4.9-.6 5.1z" fill="#22374f"/>
<path d="M303.3 90.2l.6-5.1 .8-5.7-.5 6.2z" fill="#23504b"/>
<path d="M304.2 85.6l.5-6.2 .8-6.5-.5 7.3z" fill="#23502b"/>
<path d="M299.2 102.0L299.7 101.3L300.6 99.7L301.4 97.3L302.1 94.1L303.0 90.0L303.9 85.1L304.7 79.4L305.5 72.9L305.0 80.2L304.4 86.2L303.8 90.7L303.0 93.8L302.0 96.4L301.0 98.6L299.9 100.6L299.6 101.2" class="m"/>
<path d="M322.9 90.1l1 0 1-.6 .9-1.2 1-1.8 1-2.7 .9-3.2 1-3.7 .9-4.2-.9 4.2-.8 3.6-.9 2.9-.9 2.2-1 1.9-1 1.3-1.1 .9z" fill="#26416f"/>
<path d="M326.1 87.5l.9-1.7 1-2.4-.9 2.2z" fill="#26337c"/>
<path d="M325.1 88.8l.9-1 1-2-.9 1.7z" fill="#272884"/>
<path d="M324 89.7l1-.5 1-1.4-.9 1z" fill="#2b2894"/>
<path d="M327 85.8l.9-2.3 1-3-.9 2.9z" fill="#223c4d"/>
<path d="M322.9 90.1l1 0 1.1-.9-1 .5z" fill="#2d2bb8"/>
<path d="M325 89.2l.9-1.2 1-2-.9 1.8z" fill="#273682"/>
<path d="M323.9 90.1l1-.6 1-1.5-.9 1.2z" fill="#283291"/>
<path d="M326.9 86l.9-2.3 1-3.2-.9 3z" fill="#22454d"/>
<path d="M327.9 83.5l.9-3 .9-3.6-.8 3.6z" fill="#224e47"/>
<path d="M324.9 89.5l.9-1.2 1-2-.9 1.7z" fill="#274782"/>
<path d="M326.8 86.3l1-2.5 .9-3.2-.9 3.1z" fill="#224d4d"/>
<path d="M327.8 83.7l.9-3.1 1-3.7-.9 3.6z" fill="#224e3e"/>
<path d="M325.8 88.3l1-1.8 1-2.7-1 2.5z" fill="#26637a"/>
<path d="M328.8 80.5l.9-3.6 .9-4.2-.9 4.2z" fill="#224e2c"/>
<path d="M322.9 90.1l1 0 1-.6 .9-1.2 1-1.8 1-2.7 .9-3.2 1-3.7 .9-4.2-.9 4.2-.8 3.6-.9 2.9-.9 2.2-1 1.9-1 1.3-1.1 .9z" class="m"/>
<path d="M327.1 85.6l.9-2.2 .9-2.9 .8-3.6 .9-4.2 .9-4.5 1-4.6 .9-4.6 1-4.3-1 4.1-.8 4.8-.9 5.1-.8 4.7-.9 3.8-1 3.3-.9 2.8z" fill="#314c32"/>
<path d="M328.1 83.3l.8-2.8 1-3.5-.9 3.5z" fill="#22424e"/>
<path d="M327.1 85.6l.9-2.2 .9-2.9-.8 2.8z" fill="#22334d"/>
<path d="M329 80.5l.9-3.5 .9-3.9-.8 4.1z" fill="#224f49"/>
<path d="M330 77.2l.8-4.1 .9-4.4-.8 4.7z" fill="#224f34"/>
<path d="M328 83.4l.9-2.9 .9-3.6-.9 3.6z" fill="#224c4e"/>
<path d="M328.9 80.5l.9-3.6 .9-4-.8 4.1z" fill="#224f3f"/>
<path d="M329.9 77l.8-4.1 1-4.5-.9 4.7z" fill="#224f2a"/>
<path d="M330.8 73.1l.9-4.7 .9-4.8-.9 5.1z" fill="#304f22"/>
<path d="M328.9 80.5l.8-3.6 1-4.2-.9 4.2z" fill="#224e35"/>
<path d="M329.8 76.9l.9-4.2 .9-4.5-.9 4.7z" fill="#254f22"/>
<path d="M330.7 72.9l.9-4.7 .9-4.7-.8 4.9z" fill="#374e22"/>
<path d="M331.7 68.4l.8-4.9 .9-4.7-.8 4.8z" fill="#4a4e22"/>
<path d="M329.7 76.9l.9-4.2 .9-4.5-.8 4.5z" fill="#2b4e22"/>
<path d="M330.7 72.7l.8-4.5 1-4.6-.9 4.6z" fill="#3d4e22"/>
<path d="M331.6 68.2l.9-4.6 .9-4.6-.9 4.5z" fill="#4e4c22"/>
<path d="M327.1 85.6l.9-2.2 .9-2.9 .8-3.6 .9-4.2 .9-4.5 1-4.6 .9-4.6 1-4.3-1 4.1-.8 4.8-.9 5.1-.8 4.7-.9 3.8-1 3.3-.9 2.8z" class="m"/>
<path d="M298.4 103.6l.2-.2 1.4-2.6-.8 1.2z" fill="#68278a"/>
<path d="M298.2 104.2l.4-.8-.2 .2z" fill="#77299c"/>
<path d="M298.6 103.4l1.2-1.8 1.3-3.4-1.1 2.6z" fill="#57267f"/>
<path d="M297.6 105.3l.8-.8 1.4-2.9-1.2 1.8-.4 .8z" fill="#632787"/>
<path d="M296.8 107l.1-.1 1.5-2.4-.8 .8z" fill="#6f2893"/>
<path d="M299.8 101.6l1-2.9 1.3-4.6-1 4.1z" fill="#2f224c"/>
<path d="M298.4 104.5l1.1-2.1 1.3-3.7-1 2.9z" fill="#50267d"/>
<path d="M296.9 106.9l1.2-1.5 1.4-3-1.1 2.1z" fill="#5d2784"/>
<path d="M296.8 107.0L296.9 106.9L298.1 105.4L299.5 102.4L300.8 98.7L302.1 94.1L301.1 98.2L300.0 100.8L299.2 102.0" class="m"/>
<path d="M334.5 54.3l1.2-6 1.3-2.8 1.3 .3 1.4 .9 1.4 2.4 1.4 3.4-1.4-5-1.4-4.4-1.4-2.2-1.3 2.4-1.3 4.8z" fill="#ca472d"/>
<path d="M339.7 44.9l1.4 4.2 1.4 3.4-1.4-5z" fill="#d4782d"/>
<path d="M338.3 42.5l1.4 2.4 1.4 2.6-1.4-4.4z" fill="#e5502e"/>
<path d="M337 43.3l1.3-.8 1.4 .6-1.4-2.2z" fill="#ff4032"/>
<path d="M335.7 48.1l1.3-3.8 1.3-1.8-1.3 .8z" fill="#813226"/>
<path d="M334.5 54.3l1.2-6 1.3-4-1.3 3.8z" fill="#724025"/>
<path d="M338.3 44.1l1.4 2.6 1.4 2.4-1.4-4.2z" fill="#e4522e"/>
<path d="M337 44.3l1.3-.2 1.4 .8-1.4-2.4z" fill="#ff4032"/>
<path d="M335.7 48.3l1.3-2.8 1.3-1.4-1.3 .2z" fill="#8b3027"/>
<path d="M337 45.5l1.3 .3 1.4 .9-1.4-2.6z" fill="#ff3f32"/>
<path d="M334.5 54.3l1.2-6 1.3-2.8 1.3 .3 1.4 .9 1.4 2.4 1.4 3.4-1.4-5-1.4-4.4-1.4-2.2-1.3 2.4-1.3 4.8z" class="m"/>
<path d="M309.1 53.5l1.2 3 1.3 5.5 1.3 5.8 1.3 5.2 1.3 3.6 1.3 3 1.2 2.2 1.2 1.7-1.1-2.5-1.1-3.2-1.2-4.1-1.3-5.3-1.4-4.7-1.4-4.8-1.4-3.9z" fill="#6eb757"/>
<path d="M316.9 78.8l1.1 3 1.2 1.7-1.1-2.5z" fill="#2d74d2"/>
<path d="M315.7 74.8l1.2 4 1.2 2.2-1.1-3.2z" fill="#2cc1cc"/>
<path d="M314.5 69.8l1.2 5 1.3 3-1.2-4.1z" fill="#2ccb74"/>
<path d="M315.6 75.8l1.2 3.8 1.2 2.2-1.1-3z" fill="#2ccbcb"/>
<path d="M314.4 71l1.2 4.8 1.3 3-1.2-4z" fill="#2cca6f"/>
<path d="M313.1 63.7l1.4 6.1 1.3 3.9-1.3-5.3z" fill="#53ca2c"/>
<path d="M314.3 72.1l1.2 4.5 1.3 3-1.2-3.8z" fill="#2cc966"/>
<path d="M313.1 65.2l1.3 5.8 1.3 3.8-1.2-5z" fill="#51ca2c"/>
<path d="M313 66.6l1.3 5.5 1.3 3.7-1.2-4.8z" fill="#52c92c"/>
<path d="M311.7 58.9l1.4 6.3 1.4 4.6-1.4-6.1z" fill="#b7ca2c"/>
<path d="M312.9 67.8l1.3 5.2 1.3 3.6-1.2-4.5z" fill="#57c82c"/>
<path d="M311.7 60.5l1.3 6.1 1.4 4.4-1.3-5.8z" fill="#b3c92c"/>
<path d="M311.6 62l1.3 5.8 1.4 4.3-1.3-5.5z" fill="#b2c92c"/>
<path d="M310.3 55l1.4 5.5 1.4 4.7-1.4-6.3z" fill="#cb962c"/>
<path d="M310.3 56.5l1.3 5.5 1.4 4.6-1.3-6.1z" fill="#cb992c"/>
<path d="M309.1 53.5l1.2 3 1.4 4-1.4-5.5z" fill="#d0652d"/>
<path d="M309.1 53.5l1.2 3 1.3 5.5 1.3 5.8 1.3 5.2 1.3 3.6 1.3 3 1.2 2.2 1.2 1.7-1.1-2.5-1.1-3.2-1.2-4.1-1.3-5.3-1.4-4.7-1.4-4.8-1.4-3.9z" class="m"/>
<path d="M330.9 73.4l.8-4.7 .9-5.1 .8-4.8 1-4.1 .9-3.7 1-2.9 1-1.7 1-.6-1-.5-1 1.2-.9 3.1-.9 4.7-.9 5.1-.9 5-.9 4.7z" fill="#644224"/>
<path d="M330.9 73.4l.8-4.7 .9-4.8-.8 5.2z" fill="#275023"/>
<path d="M331.8 69.1l.8-5.2 .9-4.9-.8 5.4z" fill="#3b4f23"/>
<path d="M332.7 64.4l.8-5.4 1-4.9-.9 5.3z" fill="#4f4e22"/>
<path d="M333.6 59.4l.9-5.3 .9-4.5-.9 4.7z" fill="#4f4022"/>
<path d="M331.7 68.7l.9-5.1 .9-4.8-.9 5.1z" fill="#434f22"/>
<path d="M332.6 63.9l.9-5.1 .9-4.7-.9 4.9z" fill="#4e4822"/>
<path d="M333.5 59l.9-4.9 1-4.2-.9 4.2z" fill="#4e3c22"/>
<path d="M334.5 54.1l.9-4.2 .9-3.4-.9 3.1z" fill="#724025"/>
<path d="M332.6 63.6l.8-4.8 1-4.5-.9 4.5z" fill="#4e4422"/>
<path d="M333.5 58.8l.9-4.5 .9-4-.9 3.8z" fill="#704b25"/>
<path d="M335.4 49.9l.9-2.7 1-1.9-1 1.2z" fill="#7f3126"/>
<path d="M334.4 54.1l.9-3.8 1-3.1-.9 2.7z" fill="#743c25"/>
<path d="M336.3 47.2l1-.8 1-.6-1-.5z" fill="#ca312c"/>
<path d="M335.3 50.3l1-2.2 1-1.7-1 .8z" fill="#843027"/>
<path d="M333.4 58.8l1-4.1 .9-3.7-.9 3.3z" fill="#724725"/>
<path d="M334.4 54.3l.9-3.3 1-2.9-1 2.2z" fill="#773a26"/>
<path d="M330.9 73.4l.8-4.7 .9-5.1 .8-4.8 1-4.1 .9-3.7 1-2.9 1-1.7 1-.6-1-.5-1 1.2-.9 3.1-.9 4.7-.9 5.1-.9 5-.9 4.7z" class="m"/>
<path d="M303 93.8l.8-3.1 .6-4.5 .6-6 .5-7.3 .8-6.8 .8-6.4 .9-4.6 1.1-1.6-.9 1.6-.6 6.4-.5 8.6-.5 7.9-.8 5.1-.9 4.2-.9 3.6z" fill="#354534"/>
<path d="M303 93.8l.8-3.1 .9-3.9-.7 4.1z" fill="#2a234f"/>
<path d="M304 90.9l.7-4.1 .8-4.7-.6 5.2z" fill="#232951"/>
<path d="M304.9 87.3l.6-5.2 .8-5.6-.5 6.6z" fill="#234652"/>
<path d="M305.8 83.1l.5-6.6 .8-6.4-.5 7.9z" fill="#23523c"/>
<path d="M303.8 90.7l.6-4.5 .9-5.1-.6 5.7z" fill="#233851"/>
<path d="M304.7 86.8l.6-5.7 .8-6-.6 7z" fill="#23514b"/>
<path d="M305.5 82.1l.6-7 .7-6.7-.5 8.1z" fill="#235228"/>
<path d="M304.4 86.2l.6-6 .8-6.3-.5 7.2z" fill="#23513a"/>
<path d="M306.3 76.5l.5-8.1 .8-6.9-.5 8.6z" fill="#3d5223"/>
<path d="M305.3 81.1l.5-7.2 .7-6.9-.4 8.1z" fill="#2d5123"/>
<path d="M306.1 75.1l.4-8.1 .8-6.6-.5 8z" fill="#4b5123"/>
<path d="M305 80.2l.5-7.3 .8-6.8-.5 7.8z" fill="#395123"/>
<path d="M306.8 68.4l.5-8 .9-5.3-.6 6.4z" fill="#514223"/>
<path d="M305.8 73.9l.5-7.8 .8-6.4-.6 7.3z" fill="#504c23"/>
<path d="M306.5 67l.6-7.3 .9-4.6-.7 5.3z" fill="#503b23"/>
<path d="M307.3 60.4l.7-5.3 1.1-1.6-.9 1.6z" fill="#4d2e22"/>
<path d="M303 93.8l.8-3.1 .6-4.5 .6-6 .5-7.3 .8-6.8 .8-6.4 .9-4.6 1.1-1.6-.9 1.6-.6 6.4-.5 8.6-.5 7.9-.8 5.1-.9 4.2-.9 3.6z" class="m"/>
<path d="M295.4 109.4l.5-.2 2.2-3.8-1.4 1.5z" fill="#702897"/>
<path d="M294.7 110.8l1.2-1.6-.5 .2z" fill="#8a2bb8"/>
<path d="M294.7 110.8L295.9 109.2L298.1 105.4L296.7 106.9" class="m"/>
<path d="M342.7 58.2l1.4 2.8 1.4 2.6 1.4 1.5 1.4 1.2 1.3 0 1.3-1.2-1.3 1.7-1.4-.2-1.4-1.5-1.3-2.1-1.4-2.5z" fill="#919e29"/>
<path d="M345.5 63l1.4 2.3 1.3 1.3-1.4-1.5z" fill="#9fd92e"/>
<path d="M346.9 65.3l1.4 1.4 1.3 .1-1.4-.2z" fill="#8ddc2e"/>
<path d="M348.3 66.7l1.3-.4 1.3-1.2-1.3 1.7z" fill="#3c4c22"/>
<path d="M345.5 63.3l1.4 2.2 1.4 1.2-1.4-1.4z" fill="#bcda2e"/>
<path d="M346.9 65.5l1.4 .8 1.3 0-1.3 .4z" fill="#3a4221"/>
<path d="M344.1 60.5l1.4 2.8 1.4 2-1.4-2.3z" fill="#d5cf2d"/>
<path d="M345.5 63.6l1.4 1.5 1.4 1.2-1.4-.8z" fill="#3b3a21"/>
<path d="M344.1 61l1.4 2.6 1.4 1.9-1.4-2.2z" fill="#d7c02d"/>
<path d="M342.7 58.2l1.4 2.8 1.4 2.3-1.4-2.8z" fill="#d6a42d"/>
<path d="M342.7 58.2l1.4 2.8 1.4 2.6 1.4 1.5 1.4 1.2 1.3 0 1.3-1.2-1.3 1.7-1.4-.2-1.4-1.5-1.3-2.1-1.4-2.5z" class="m"/>
<path d="M313.6 75.1l1.3 3.7 1.1 3.2 1.2 2.6 1.1 2.2 1.2 1.6 1.2 1.1 1.1 .6 1.1 0-1-.4-1-.8-1.1-1.3-1-1.7-1.2-1.9-1.3-2.4-1.3-3z" fill="#2f9fb2"/>
<path d="M319.7 87.9l1.1 1.3 1.1 .5-1-.8z" fill="#2e4ae1"/>
<path d="M320.8 89.2l1 .9 1.1 0-1-.4z" fill="#2e39e2"/>
<path d="M318.7 86.2l1 1.7 1.2 1-1.1-1.3z" fill="#2e66db"/>
<path d="M317.6 84l1.1 2.2 1.1 1.4-1-1.7z" fill="#2d8dd4"/>
<path d="M319.6 88.2l1.1 1.3 1.1 .6-1-.9z" fill="#2e68de"/>
<path d="M318.5 86.5l1.1 1.7 1.2 1-1.1-1.3z" fill="#2d83d8"/>
<path d="M317.4 84.3l1.1 2.2 1.2 1.4-1-1.7z" fill="#2da8d2"/>
<path d="M316.3 81.6l1.1 2.7 1.3 1.9-1.1-2.2z" fill="#2dccc2"/>
<path d="M318.4 86.7l1.1 1.7 1.2 1.1-1.1-1.3z" fill="#2da1d5"/>
<path d="M317.3 84.5l1.1 2.2 1.2 1.5-1.1-1.7z" fill="#2dc5d0"/>
<path d="M316.2 81.8l1.1 2.7 1.2 2-1.1-2.2z" fill="#2ccba5"/>
<path d="M315 78.6l1.2 3.2 1.2 2.5-1.1-2.7z" fill="#2cc768"/>
<path d="M317.2 84.6l1.1 2.2 1.2 1.6-1.1-1.7z" fill="#2dcdb9"/>
<path d="M316 82l1.2 2.6 1.2 2.1-1.1-2.2z" fill="#2cc987"/>
<path d="M314.9 78.8l1.1 3.2 1.3 2.5-1.1-2.7z" fill="#2cc64c"/>
<path d="M313.6 75.1l1.3 3.7 1.3 3-1.2-3.2z" fill="#48c42c"/>
<path d="M313.6 75.1l1.3 3.7 1.1 3.2 1.2 2.6 1.1 2.2 1.2 1.6 1.2 1.1 1.1 .6 1.1 0-1-.4-1-.8-1.1-1.3-1-1.7-1.2-1.9-1.3-2.4-1.3-3z" class="m"/>
<path d="M318.3 86.8l2.1 3 2.1 1.3 2.2-1.1 2.1-3.5-1.9 3-2 .6-2.2-.6z" fill="#2b74c0"/>
<path d="M320.7 89.5l2 1.2 2.2-1.2-2 .6z" fill="#2d4dcf"/>
<path d="M322.7 90.7l2-.7 2.1-3.5-1.9 3z" fill="#27558e"/>
<path d="M318.3 86.8l2.1 3 2.3 .9-2-1.2z" fill="#2da3d8"/>
<path d="M320.4 89.8l2.1 1.3 2.2-1.1-2 .7z" fill="#2c8aca"/>
<path d="M318.3 86.8l2.1 3 2.1 1.3 2.2-1.1 2.1-3.5-1.9 3-2 .6-2.2-.6z" class="m"/>
<path d="M350.9 65.1l1-2.8 1.1-3.6 1-3.5 1.1-2.6 .9-1.6 1-1.6 1-1.4 .9-1.3-1 .7-1.1 1.5-1 2.6-1 3.3-1 3.2-.9 2.8-1 2.5z" fill="#5e3c24"/>
<path d="M353.8 58l1-3.6 1-2.9-1 3.3z" fill="#504023"/>
<path d="M352.9 60.8l1-3.6 .9-2.8-1 3.6z" fill="#514723"/>
<path d="M351.9 63.3l1-3.4 1-2.7-1 3.6z" fill="#524e23"/>
<path d="M350.9 65.1l1-2.8 1-2.4-1 3.4z" fill="#505323"/>
<path d="M354.8 54.4l1.1-3.1 .9-2.4-1 2.6z" fill="#4e3422"/>
<path d="M353.9 57.2l1-3.5 1-2.4-1.1 3.1z" fill="#513b23"/>
<path d="M352.9 59.9l1-3.6 1-2.6-1 3.5z" fill="#524123"/>
<path d="M351.9 62.3l1.1-3.6 .9-2.4-1 3.6z" fill="#544823"/>
<path d="M355.9 51.3l1-2.2 1-1.7-1.1 1.5z" fill="#7f3926"/>
<path d="M354.9 53.7l1-2.7 1-1.9-1 2.2z" fill="#4e2f22"/>
<path d="M356.9 49.1l1.1-1.1 .9-1.3-1 .7z" fill="#953228"/>
<path d="M353.9 56.3l1.1-3.2 .9-2.1-1 2.7z" fill="#513523"/>
<path d="M353 58.7l1-3.5 1-2.1-1.1 3.2z" fill="#533a23"/>
<path d="M355.9 51l1.1-1.6 1-1.4-1.1 1.1z" fill="#863427"/>
<path d="M355 53.1l1-2.1 1-1.6-1.1 1.6z" fill="#7e3826"/>
<path d="M354 55.2l1.1-2.6 .9-1.6-1 2.1z" fill="#4f2e23"/>
<path d="M350.9 65.1l1-2.8 1.1-3.6 1-3.5 1.1-2.6 .9-1.6 1-1.6 1-1.4 .9-1.3-1 .7-1.1 1.5-1 2.6-1 3.3-1 3.2-.9 2.8-1 2.5z" class="m"/>
<path d="M306.6 78l.5-7.9 .5-8.6 .6-6.4 .9-1.6 1.2 1.5 1.4 3.9 1.4 4.8 1.4 4.7-1.3-6.5-1.3-6.6-1.3-4.1-.8 2.1-.9 5.4-.7 6.7-.8 6.7z" fill="#8e5d28"/>
<path d="M306.6 78l.5-7.9 .8-6.9-.5 8.9z" fill="#2d5323"/>
<path d="M311.8 57.1l1.3 6.6 1.4 4.7-1.3-6.5z" fill="#c0cb2c"/>
<path d="M307.4 72.1l.5-8.9 .7-6.4-.4 8.6z" fill="#4c5323"/>
<path d="M308.2 65.4l.4-8.6 .9-4.4-.6 6.3z" fill="#534423"/>
<path d="M310.5 52.2l1.3 4.9 1.4 4.8-1.3-6.6z" fill="#ce8e2d"/>
<path d="M308.9 58.7l.6-6.3 1.1-1.2-.8 2.1z" fill="#513823"/>
<path d="M309.5 52.4l1-.2 1.4 3.1-1.3-4.1z" fill="#eb702f"/>
<path d="M307.1 70.1l.5-8.6 .8-5.9-.5 7.6z" fill="#524b23"/>
<path d="M310.4 53.6l1.3 5.3 1.4 4.8-1.3-6.6z" fill="#cd932d"/>
<path d="M307.9 63.2l.5-7.6 1-3.4-.8 4.6z" fill="#513b23"/>
<path d="M308.6 56.8l.8-4.6 1.1 0-1 .2z" fill="#4d3022"/>
<path d="M309.4 52.2l1 1.4 1.4 3.5-1.3-4.9z" fill="#da672e"/>
<path d="M309.2 52.7l1.1 2.3 1.4 3.9-1.3-5.3z" fill="#d3642d"/>
<path d="M308.4 55.6l.8-2.9 1.2 .9-1-1.4z" fill="#9a4528"/>
<path d="M307.6 61.5l.6-6.4 1-2.4-.8 2.9z" fill="#503323"/>
<path d="M308.2 55.1l.9-1.6 1.2 1.5-1.1-2.3z" fill="#fc5930"/>
<path d="M306.6 78l.5-7.9 .5-8.6 .6-6.4 .9-1.6 1.2 1.5 1.4 3.9 1.4 4.8 1.4 4.7-1.3-6.5-1.3-6.6-1.3-4.1-.8 2.1-.9 5.4-.7 6.7-.8 6.7z" class="m"/>
<path d="M338.4 50.6l1 1.4 1.1 1.8 1.1 2.2 1.1 2.2 1 1.7 1.1 1.9 1 1.8 1 1.5-1-1.8-1.1-2.2-1-2.5-1.1-2.8-1-2.1-1.1-1.7-1.1-1.1z" fill="#d7902e"/>
<path d="M344.8 61.5l1 2.1 1 1.5-1-1.8z" fill="#b2d42d"/>
<path d="M343.7 59l1.1 2.5 1 1.8-1.1-2.2z" fill="#d2d02d"/>
<path d="M342.6 56.4l1.1 2.6 1 2.1-1-2.5z" fill="#d1b42d"/>
<path d="M341.6 53.7l1 2.7 1.1 2.2-1.1-2.8z" fill="#d3982d"/>
<path d="M343.7 59.5l1.1 2.3 1 1.8-1-2.1z" fill="#d3c52d"/>
<path d="M342.7 57l1 2.5 1.1 2-1.1-2.5z" fill="#d3ac2d"/>
<path d="M341.6 54.5l1.1 2.5 1 2-1.1-2.6z" fill="#d4922d"/>
<path d="M340.5 52l1.1 2.5 1 1.9-1-2.7z" fill="#d8782d"/>
<path d="M342.7 57.6l1 2.3 1.1 1.9-1.1-2.3z" fill="#d4a42d"/>
<path d="M341.6 55.2l1.1 2.4 1 1.9-1-2.5z" fill="#d68c2d"/>
<path d="M340.5 52.9l1.1 2.3 1.1 1.8-1.1-2.5z" fill="#db742e"/>
<path d="M339.4 50.9l1.1 2 1.1 1.6-1.1-2.5z" fill="#e25d2e"/>
<path d="M341.6 56l1.1 2.2 1 1.7-1-2.3z" fill="#d9862d"/>
<path d="M340.5 53.8l1.1 2.2 1.1 1.6-1.1-2.4z" fill="#dd702e"/>
<path d="M339.4 52l1.1 1.8 1.1 1.4-1.1-2.3z" fill="#e55a2e"/>
<path d="M338.4 50.6l1 1.4 1.1 .9-1.1-2z" fill="#f44830"/>
<path d="M338.4 50.6l1 1.4 1.1 1.8 1.1 2.2 1.1 2.2 1 1.7 1.1 1.9 1 1.8 1 1.5-1-1.8-1.1-2.2-1-2.5-1.1-2.8-1-2.1-1.1-1.7-1.1-1.1z" class="m"/>
<path d="M334.4 54.7l1.2-3.6 1.4-1.3 1.4 .8 1.4 .6 1.4 1.9 1.4 2.7-1.4-3.9-1.4-3.6-1.5-2.5-1.3 1-1.4 3.1z" fill="#d9452e"/>
<path d="M339.8 49.8l1.4 3.3 1.4 2.7-1.4-3.9z" fill="#d9732e"/>
<path d="M338.4 47.4l1.4 2.4 1.4 2.1-1.4-3.6z" fill="#e7532f"/>
<path d="M337 46.8l1.4 .6 1.4 .9-1.5-2.5z" fill="#ff3f32"/>
<path d="M335.6 49.9l1.4-1.6 1.4-.9-1.4-.6z" fill="#b7322b"/>
<path d="M338.4 49l1.4 2.2 1.4 1.9-1.4-3.3z" fill="#ea522f"/>
<path d="M337 48.3l1.4 .7 1.4 .8-1.4-2.4z" fill="#ff3f32"/>
<path d="M334.4 54.7l1.2-3.6 1.4-2.8-1.4 1.6z" fill="#7e3526"/>
<path d="M335.6 51.1l1.4-1.3 1.4-.8-1.4-.7z" fill="#c8332c"/>
<path d="M337 49.8l1.4 .8 1.4 .6-1.4-2.2z" fill="#ff3e32"/>
<path d="M334.4 54.7l1.2-3.6 1.4-1.3 1.4 .8 1.4 .6 1.4 1.9 1.4 2.7-1.4-3.9-1.4-3.6-1.5-2.5-1.3 1-1.4 3.1z" class="m"/>
<path d="M284.8 114.4l4 1.8 .8-.6-3.7-1.7z" fill="#aa2fe6"/>
<path d="M284.8 114.4L288.8 116.2L289.6 115.6M285.9 113.9L284.8 114.4" class="m"/>
<path d="M346.9 65.1l1.1-.1 1-1.3 1.1-2.2 1-2.7 1-1.2 1-1.6 1-1.7 1-1.7-1.1 2.6-1 3.5-1.1 3.6-1 2.8-.9 1.1-1 .3-1-.4z" fill="#534723"/>
<path d="M350 66.2l1-2.2 .9-1.7-1 2.8z" fill="#4c5423"/>
<path d="M349 66.5l1-1.5 1-1-1 2.2z" fill="#4c5423"/>
<path d="M351 64l1-3.2 1-2.1-1.1 3.6z" fill="#554d23"/>
<path d="M348 66.1l1-.8 1-.3-1 1.5z" fill="#4e5223"/>
<path d="M350 65l1-2.6 1-1.6-1 3.2z" fill="#565123"/>
<path d="M349 65.3l1-1.9 1-1-1 2.6z" fill="#575123"/>
<path d="M352 60.8l1-3.5 1-2.1-1 3.5z" fill="#544023"/>
<path d="M346.9 65.1l1.1-.1 1 .3-1 .8z" fill="#4f4d22"/>
<path d="M351 62.4l1-3.3 1-1.8-1 3.5z" fill="#564423"/>
<path d="M348 65l1-1.3 1-.3-1 1.9z" fill="#554e23"/>
<path d="M350 63.4l1.1-2.8 .9-1.5-1 3.3z" fill="#574723"/>
<path d="M353 57.3l1.1-3 1-1.7-1.1 2.6z" fill="#523323"/>
<path d="M352 59.1l1.1-3.1 1-1.7-1.1 3z" fill="#543623"/>
<path d="M349 63.7l1.1-2.2 1-.9-1.1 2.8z" fill="#584723"/>
<path d="M351.1 60.6l1-3 1-1.6-1.1 3.1z" fill="#563a23"/>
<path d="M350.1 61.5l1-2.7 1-1.2-1 3z" fill="#573b23"/>
<path d="M346.9 65.1l1.1-.1 1-1.3 1.1-2.2 1-2.7 1-1.2 1-1.6 1-1.7 1-1.7-1.1 2.6-1 3.5-1.1 3.6-1 2.8-.9 1.1-1 .3-1-.4z" class="m"/>
<path d="M297 107.4l.9-1.2 1-2.4-.8 1.6z" fill="#582782"/>
<path d="M295.9 109.2l.9-.9 1.1-2.1-.9 1.2z" fill="#612789"/>
<path d="M294.8 110.7l.9-.6 1.1-1.8-.9 .9-1 1.4z" fill="#6c2892"/>
<path d="M297.9 106.2l.8-1.8 1.1-2.8-.9 2.2z" fill="#49267c"/>
<path d="M294.1 112l.5-.3 1.1-1.6-.9 .6z" fill="#7a29a3"/>
<path d="M296.8 108.3l.9-1.4 1-2.5-.8 1.8z" fill="#542681"/>
<path d="M295.7 110.1l.9-1 1.1-2.2-.9 1.4z" fill="#5d2787"/>
<path d="M294.6 111.7l.9-.7 1.1-1.9-.9 1z" fill="#66288e"/>
<path d="M297.7 106.9l.8-1.8 1-3-.8 2.3z" fill="#43267b"/>
<path d="M298.7 104.4l.8-2.3 1-3.5-.7 3z" fill="#29224b"/>
<path d="M296.6 109.1l.9-1.4 1-2.6-.8 1.8z" fill="#502680"/>
<path d="M295.5 111l.9-1.1 1.1-2.2-.9 1.4z" fill="#592786"/>
<path d="M297.5 107.7l.8-1.9 1-3.1-.8 2.4z" fill="#3c267a"/>
<path d="M298.5 105.1l.8-2.4 1-3.7-.8 3.1z" fill="#25224b"/>
<path d="M296.4 109.9l.9-1.5 1-2.6-.8 1.9z" fill="#4b267f"/>
<path d="M299.5 102.1l.8-3.1 .9-4.2-.7 3.8z" fill="#222d4c"/>
<path d="M294.1 112.0L294.6 111.7L295.5 111.0L296.4 109.9L297.3 108.4L298.3 105.8L299.3 102.7L300.3 99.0L301.2 94.8L300.5 98.6L299.8 101.6L298.9 103.8L298.1 105.4L297.0 107.4L295.9 109.2L294.9 110.6" class="m"/>
<path d="M308.6 58.2l1.2 3.5 1.3 4.5 1.3 4.6 1.2 4.3 1.4 3.5 1.3 3 1.3 2.4 1.2 1.9-1.1-2.3-1.1-2.8-1.2-3.5-1.2-4.3-1.4-4.2-1.4-4.4-1.4-3.8z" fill="#78b945"/>
<path d="M316.4 81.3l1.2 2.7 1.2 1.9-1.1-2.3z" fill="#2dbfce"/>
<path d="M315.3 77.9l1.1 3.4 1.3 2.3-1.1-2.8z" fill="#2cc998"/>
<path d="M314 73.7l1.3 4.2 1.3 2.9-1.2-3.5z" fill="#2cc749"/>
<path d="M315.1 78.3l1.2 3.3 1.3 2.4-1.2-2.7z" fill="#2cc881"/>
<path d="M312.8 68.8l1.2 4.9 1.4 3.6-1.2-4.3z" fill="#5fc72c"/>
<path d="M313.9 74.3l1.2 4 1.3 3-1.1-3.4z" fill="#2cc636"/>
<path d="M312.7 69.6l1.2 4.7 1.4 3.6-1.3-4.2z" fill="#6ac72c"/>
<path d="M313.8 74.8l1.2 3.8 1.3 3-1.2-3.3z" fill="#36c52c"/>
<path d="M311.4 64.4l1.3 5.2 1.3 4.1-1.2-4.9z" fill="#bac82c"/>
<path d="M312.5 70.3l1.3 4.5 1.3 3.5-1.2-4z" fill="#77c62c"/>
<path d="M311.3 65.4l1.2 4.9 1.4 4-1.2-4.7z" fill="#c3c72c"/>
<path d="M312.4 70.8l1.2 4.3 1.4 3.5-1.2-3.8z" fill="#86c52c"/>
<path d="M310 60.6l1.3 4.8 1.4 4.2-1.3-5.2z" fill="#c9952c"/>
<path d="M311.1 66.2l1.3 4.6 1.4 4-1.3-4.5z" fill="#c6c02c"/>
<path d="M309.8 61.7l1.3 4.5 1.4 4.1-1.2-4.9z" fill="#c9912c"/>
<path d="M308.6 58.2l1.2 3.5 1.5 3.7-1.3-4.8z" fill="#cd652d"/>
<path d="M308.6 58.2l1.2 3.5 1.3 4.5 1.3 4.6 1.2 4.3 1.4 3.5 1.3 3 1.3 2.4 1.2 1.9-1.1-2.3-1.1-2.8-1.2-3.5-1.2-4.3-1.4-4.2-1.4-4.4-1.4-3.8z" class="m"/>
<path d="M298.1 105.4l.8-1.6 .9-2.2 .7-3 .7-3.8 .9-4.8 .9-5.6 .8-6.2 .8-6.4-.6 6.4-.6 6.2-.6 5.4-.7 4.3-.9 3.5-1 3-1.1 2.6z" fill="#293847"/>
<path d="M299.1 103.2l.9-2.1 1-3.2-.8 2.7z" fill="#30224b"/>
<path d="M300.2 100.6l.8-2.7 .9-3.7-.7 3.4z" fill="#28224d"/>
<path d="M298.1 105.4l.8-1.6 1.1-2.7-.9 2.1z" fill="#4f267d"/>
<path d="M301.2 97.6l.7-3.4 .9-4.4-.7 4.3z" fill="#222a4e"/>
<path d="M298.9 103.8l.9-2.2 .9-3.4-.7 2.9z" fill="#2c224b"/>
<path d="M300 101.1l.7-2.9 1-3.9-.7 3.6z" fill="#24224d"/>
<path d="M301 97.9l.7-3.6 .9-4.6-.7 4.5z" fill="#22334e"/>
<path d="M301.9 94.2l.7-4.5 .8-5.3-.6 5.4z" fill="#224e4f"/>
<path d="M299.8 101.6l.7-3 1-4.1-.8 3.7z" fill="#22264d"/>
<path d="M300.7 98.2l.8-3.7 .8-4.7-.6 4.5z" fill="#223c4e"/>
<path d="M301.7 94.3l.6-4.5 .9-5.5-.6 5.4z" fill="#224e46"/>
<path d="M300.5 98.6l.7-3.8 .9-4.8-.6 4.5z" fill="#22444d"/>
<path d="M302.6 89.7l.6-5.4 .8-6.1-.6 6.2z" fill="#224f28"/>
<path d="M301.5 94.5l.6-4.5 .9-5.6-.7 5.4z" fill="#224e3d"/>
<path d="M302.3 89.8l.7-5.4 .8-6.2-.6 6.1z" fill="#254e22"/>
<path d="M303.2 84.3l.6-6.1 .8-6.4-.6 6.4z" fill="#3e4e22"/>
<path d="M298.1 105.4l.8-1.6 .9-2.2 .7-3 .7-3.8 .9-4.8 .9-5.6 .8-6.2 .8-6.4-.6 6.4-.6 6.2-.6 5.4-.7 4.3-.9 3.5-1 3-1.1 2.6z" class="m"/>
<path d="M322.5 91.1l1-.1 1-.6 1-1.1 1-1.8 1-2.6 1-3.3 .9-3.7 1-4.1-.9 3.7-.9 3.5-.9 3-.9 2.5-1 2-1.1 1.5-1.1 .8z" fill="#287865"/>
<path d="M325.8 88.5l.9-1.8 1-2.7-.9 2.5z" fill="#26737a"/>
<path d="M324.7 90l1-1.2 1-2.1-.9 1.8z" fill="#266981"/>
<path d="M323.6 90.8l1-.6 1.1-1.4-1 1.2z" fill="#286c8f"/>
<path d="M325.7 88.8l.9-1.9 1-2.6-.9 2.4z" fill="#267b72"/>
<path d="M322.5 91.1l1-.1 1.1-.8-1 .6z" fill="#2b8ab4"/>
<path d="M324.6 90.2l1-1.2 1-2.1-.9 1.9z" fill="#277b82"/>
<path d="M323.5 91l1-.6 1.1-1.4-1 1.2z" fill="#288190"/>
<path d="M326.6 86.9l.9-2.4 1-3.2-.9 3z" fill="#26764c"/>
<path d="M327.6 84.3l.9-3 1-3.8-.9 3.5z" fill="#25732f"/>
<path d="M325.6 89l.9-1.8 1-2.7-.9 2.4z" fill="#267b64"/>
<path d="M324.5 90.4l1-1.1 1-2.1-.9 1.8z" fill="#278278"/>
<path d="M326.5 87.2l1-2.3 1-3.3-1 2.9z" fill="#26773f"/>
<path d="M327.5 84.5l1-2.9 .9-3.7-.9 3.4z" fill="#287425"/>
<path d="M325.5 89.3l1-1.8 1-2.6-1 2.3z" fill="#267c57"/>
<path d="M328.5 81.3l.9-3.4 1-4.1-.9 3.7z" fill="#407225"/>
<path d="M322.5 91.1l1-.1 1-.6 1-1.1 1-1.8 1-2.6 1-3.3 .9-3.7 1-4.1-.9 3.7-.9 3.5-.9 3-.9 2.5-1 2-1.1 1.5-1.1 .8z" class="m"/>
<path d="M326.8 86.5l.9-2.5 .9-3 .9-3.5 .9-3.7 1-4.2 .9-4.3 1-4 1-3.6-1 2.8-.9 3.7-.9 4.2-.9 4.3-.9 4.2-1 3.7-.9 3.2z" fill="#4a5c28"/>
<path d="M327.8 83.8l.9-3 .9-3.8-.9 3.6z" fill="#224d36"/>
<path d="M328.7 80.6l.9-3.6 1-4.2-.9 4.1z" fill="#224d24"/>
<path d="M329.7 76.9l.9-4.1 .9-4.4-.9 4.3z" fill="#314e22"/>
<path d="M328.7 80.8l.9-3.6 .9-4.1-.9 3.9z" fill="#274d22"/>
<path d="M329.6 77l.9-3.9 .9-4.5-.8 4.2z" fill="#374d22"/>
<path d="M330.6 72.8l.8-4.2 1-4.4-.9 4.2z" fill="#667025"/>
<path d="M328.6 81l.9-3.5 .9-4.1-.8 3.8z" fill="#377125"/>
<path d="M329.6 77.2l.8-3.8 1-4.4-.9 4.1z" fill="#527025"/>
<path d="M330.5 73.1l.9-4.1 1-4.3-1 3.9z" fill="#6f7025"/>
<path d="M331.4 68.6l1-3.9 .9-4.2-.9 3.7z" fill="#715f25"/>
<path d="M329.5 77.5l.9-3.7 1-4.2-1 3.8z" fill="#5a7125"/>
<path d="M330.4 73.4l1-3.8 .9-4.3-.9 3.7z" fill="#716d25"/>
<path d="M331.4 69l.9-3.7 1-4-.9 3.4z" fill="#725c25"/>
<path d="M332.4 64.7l.9-3.4 1-3.6-1 2.8z" fill="#754c26"/>
<path d="M326.8 86.5l.9-2.5 .9-3 .9-3.5 .9-3.7 1-4.2 .9-4.3 1-4 1-3.6-1 2.8-.9 3.7-.9 4.2-.9 4.3-.9 4.2-1 3.7-.9 3.2z" class="m"/>
<path d="M355.1 52.6l4.2-1.6 3.9-3.7-4.3-.6z" fill="#d0362d"/>
<path d="M355.1 52.6l4.2-1.6 3.9-3.7-4.3-.6z" class="m"/>
<path d="M330.6 72.7l.9-4.3 .9-4.2 .9-3.7 1-2.8 1-3 1-2.3 1-1.3 1.1-.5-1.1-.7-1 .3-1 1.6-.9 2.9-1 4.3-.9 4.6-1 4.6z" fill="#804426"/>
<path d="M330.6 72.7l.9-4.3 .9-4.6-.9 4.4z" fill="#434d22"/>
<path d="M332.5 63.6l.9-4.3 .9-4.1-.9 3.8z" fill="#715425"/>
<path d="M333.4 59l.9-3.8 1-3.4-.9 2.9z" fill="#744425"/>
<path d="M331.5 68.4l.9-4.2 .9-4.3-.9 3.9z" fill="#706225"/>
<path d="M332.4 63.8l.9-3.9 1-4-.9 3.4z" fill="#725125"/>
<path d="M334.3 55.2l1-2.6 1-2.4-1 1.6z" fill="#7d3626"/>
<path d="M333.4 59.3l.9-3.4 1-3.3-1 2.6z" fill="#764226"/>
<path d="M335.3 52.6l1-1.3 1-1.4-1 .3z" fill="#962f28"/>
<path d="M332.4 64.2l.9-3.7 1-3.7-1 3.1z" fill="#734e25"/>
<path d="M334.3 55.9l1-2.3 1-2.3-1 1.3z" fill="#803526"/>
<path d="M333.3 59.9l1-3.1 1-3.2-1 2.3z" fill="#784026"/>
<path d="M336.3 51.3l1-.2 1.1-.5-1.1-.7z" fill="#fa3430"/>
<path d="M335.3 53.6l1-1.2 1-1.3-1 .2z" fill="#9e2f29"/>
<path d="M334.3 56.8l1-2.1 1-2.3-1 1.2z" fill="#833427"/>
<path d="M333.3 60.5l1-2.8 1-3-1 2.1z" fill="#7a3f26"/>
<path d="M330.6 72.7l.9-4.3 .9-4.2 .9-3.7 1-2.8 1-3 1-2.3 1-1.3 1.1-.5-1.1-.7-1 .3-1 1.6-.9 2.9-1 4.3-.9 4.6-1 4.6z" class="m"/>
<path d="M292.1 114.3l1.1-.2 2.3-3.1-1.5 .9z" fill="#822ab1"/>
<path d="M288.8 116.2l2 .2 2.4-2.3-1.1 .2-3 1.7z" fill="#982dcf"/>
<path d="M293.2 114.1l1.9-1.3 2.2-4.4-1.8 2.6z" fill="#5e278b"/>
<path d="M290.8 116.4l2-.5 2.3-3.1-1.9 1.3z" fill="#782aac"/>
<path d="M288.8 116.2L290.8 116.4L292.8 115.9L295.1 112.8L297.3 108.4L295.5 111.0L294.0 111.9M289.1 116.0L288.8 116.2" class="m"/>
<path d="M434.7 112.2l.4 .8 .8-.1 .8-3.1-1.3 2-.3 .2z" fill="#8e2cc5"/>
<path d="M436.9 113.5l1.4-7.7-1.6 4-.8 3.1z" fill="#61288f"/>
<path d="M435.3 111.5l.7 3.1-.5-1.1z" fill="#a72fea"/>
<path d="M437.5 114.7l.8-3.8-1.4 2.6z" fill="#7529a0"/>
<path d="M434.7 106l.6 5.5 .2 2-.4-.5-.4-.8z" fill="#2b2035"/>
<path d="M436.7 114.6l.5 1.7 1.1-.8 .1-.4-.1 .2-1.3 .2z" fill="#c132ff"/>
<path d="M438.3 115.3l.1-.2 1.6-8.3-1.7 4.1-.8 3.8z" fill="#5e288e"/>
<path d="M436.9 113.5l1.4-2.6 1.8-10.3-1.8 5.2-1.4 7.7z" fill="#472789"/>
<path d="M436 109.8l.7 4.8 .3 .9-.9-.8z" fill="#2c2034"/>
<path d="M435.5 103.4l.5 6.4 .1 4.9-.1-.1-.7-3.1z" fill="#282137"/>
<path d="M438.3 110.9l1.7-4.1 1.9-12-1.8 5.8z" fill="#273987"/>
<path d="M436.9 107.2l.5 5.9 .2 3.6-.4-.4-.5-1.7z" fill="#2b2137"/>
<path d="M435.1 96.1l.4 7.3-.2 8.1-.6-5.5z" fill="#212637"/>
<path d="M436.4 100.2l.5 7-.2 7.4-.7-4.8z" fill="#222137"/>
<path d="M436 92.9l.4 7.3-.4 9.6-.5-6.4z" fill="#213638"/>
<path d="M435.5 86.1l.5 6.8-.5 10.5-.4-7.3z" fill="#213722"/>
<path d="M435.5 86.1L436.0 92.9L436.4 100.2L436.9 107.2L437.4 113.1L437.6 116.7M438.3 115.5L438.4 115.1L440.0 106.8L441.9 94.8L440.1 100.6L438.3 105.8L436.7 109.8L435.4 111.8M435.1 112.0L434.7 112.2L434.7 106.0L435.1 96.1L435.5 86.1" class="m"/>
<path d="M359.3 51l4.3 1.1 3.8-3.6-4.2-1.2z" fill="#ff3131"/>
<path d="M359.3 51l4.3 1.1 3.8-3.6-4.2-1.2z" class="m"/>
<path d="M412 79.1l.7 7.2 .5 8.2 .7 6.8 .9 3.3 1.1-5.8 1.6-10.5 1.5-10 1.4-7.6-1.5 3.5-1.5 4.3-1.6 5-1.5 4.9-1.2 6.9-.7-1.3-.2-7.4z" fill="#31636f"/>
<path d="M412.4 94l.9 4.3 1.1-5.1-1.3 2.1z" fill="#37b5ff"/>
<path d="M412.8 94.6l.7 5.7 .9-2.6-1.1 .6z" fill="#3061f2"/>
<path d="M413.3 98.3l1.1-.6 1.5-9.2-1.5 4.7z" fill="#286b91"/>
<path d="M413.5 100.3l1.1 1.3 1.3-7.9-1.5 4z" fill="#29419e"/>
<path d="M413.1 95.3l1.3-2.1 1.4-9.7-1.5 4.9z" fill="#278b7d"/>
<path d="M413.9 101.3l.9 3.3 1.1-5.8-1.3 2.8z" fill="#3930fe"/>
<path d="M413.2 94.5l.7 6.8 .7 .3-1.1-1.3z" fill="#20232f"/>
<path d="M412.2 86.6l.6 8 .5 3.7-.9-4.3z" fill="#203031"/>
<path d="M414.6 101.6l1.3-2.8 1.6-10.5-1.6 5.4z" fill="#276e88"/>
<path d="M414.4 97.7l1.5-4 1.6-10.5-1.6 5.3z" fill="#278569"/>
<path d="M414.4 93.2l1.5-4.7 1.5-10-1.6 5z" fill="#278336"/>
<path d="M412.7 86.3l.5 8.2 .3 5.8-.7-5.7z" fill="#203331"/>
<path d="M415.9 93.7l1.6-5.4 1.5-10-1.5 4.9z" fill="#2e8327"/>
<path d="M415.9 88.5l1.6-5.3 1.4-9-1.5 4.3z" fill="#538227"/>
<path d="M412 79.1l.7 7.2 .1 8.3-.6-8z" fill="#223320"/>
<path d="M417.5 83.2l1.5-4.9 1.4-7.6-1.5 3.5z" fill="#838127"/>
<path d="M412 79.1l.7 7.2 .5 8.2 .7 6.8 .9 3.3 1.1-5.8 1.6-10.5 1.5-10 1.4-7.6-1.5 3.5-1.5 4.3-1.6 5-1.5 4.9-1.2 6.9-.7-1.3-.2-7.4z" class="m"/>
<path d="M363.6 52.1l4.3 1.2 3.8-3.7-4.3-1.1z" fill="#ff3131"/>
<path d="M363.6 52.1l4.3 1.2 3.8-3.7-4.3-1.1z" class="m"/>
<path d="M305.5 72.9l.5-7.4 .7-5.8 .8-2.5 1.1 1 1.4 2.4 1.4 3.8 1.4 4.4 1.4 4.2-1.3-5.2-1.3-5.8-1.3-5.5-1.2-3-1.1 1.6-.9 4.6-.8 6.4z" fill="#ac5a2a"/>
<path d="M311.5 63.3l1.3 5.5 1.4 4.2-1.3-5.2z" fill="#b5c82c"/>
<path d="M310.2 58l1.3 5.3 1.4 4.5-1.3-5.8z" fill="#ca992c"/>
<path d="M310.1 59.3l1.3 5.1 1.4 4.4-1.3-5.5z" fill="#c9982c"/>
<path d="M309 54.6l1.2 3.4 1.4 4-1.3-5.5z" fill="#cf662d"/>
<path d="M305.5 72.9l.5-7.4 .9-6-.6 6.6z" fill="#504523"/>
<path d="M308 55.1l1-.5 1.3 1.9-1.2-3z" fill="#ff5631"/>
<path d="M306.3 66.1l.6-6.6 .9-3.9-.7 4.1z" fill="#4e3522"/>
<path d="M308.8 55.8l1.3 3.5 1.4 4-1.3-5.3z" fill="#ce672d"/>
<path d="M307.8 55.6l1 .2 1.4 2.2-1.2-3.4z" fill="#f44f30"/>
<path d="M308.7 57l1.3 3.6 1.4 3.8-1.3-5.1z" fill="#cd662d"/>
<path d="M306 65.5l.7-5.8 1-3.4-.8 3.2z" fill="#4d3022"/>
<path d="M306.9 59.5l.8-3.2 1.1-.5-1-.2z" fill="#843527"/>
<path d="M307.7 56.3l1 .7 1.4 2.3-1.3-3.5z" fill="#ec4c2f"/>
<path d="M306.7 59.7l.8-2.5 1.2-.2-1-.7z" fill="#953528"/>
<path d="M307.5 57.2l1.1 1 1.4 2.4-1.3-3.6z" fill="#e84a2f"/>
<path d="M305.5 72.9l.5-7.4 .7-5.8 .8-2.5 1.1 1 1.4 2.4 1.4 3.8 1.4 4.4 1.4 4.2-1.3-5.2-1.3-5.8-1.3-5.5-1.2-3-1.1 1.6-.9 4.6-.8 6.4z" class="m"/>
<path d="M302.1 94.1l.7-4.3 .6-5.4 .6-6.2 .6-6.4 .8-6.1 .9-4.8 1.1-2.7 1.2 0-1.1-1-.8 2.5-.7 5.8-.5 7.4-.8 6.5-.8 5.7-.9 4.9z" fill="#484529"/>
<path d="M302.1 94.1l.7-4.3 .9-5.1-.7 5.3z" fill="#22434f"/>
<path d="M303 90l.7-5.3 .8-5.9-.6 6.3z" fill="#23503e"/>
<path d="M303.9 85.1l.6-6.3 .8-6.6-.6 7.2z" fill="#275023"/>
<path d="M302.8 89.8l.6-5.4 .8-6-.5 6.3z" fill="#224f33"/>
<path d="M304.7 79.4l.6-7.2 .7-6.7-.5 7.4z" fill="#435023"/>
<path d="M303.7 84.7l.5-6.3 .8-6.6-.5 7z" fill="#304f22"/>
<path d="M304.5 78.8l.5-7 .8-6.6-.5 7z" fill="#4c4f22"/>
<path d="M303.4 84.4l.6-6.2 .8-6.5-.6 6.7z" fill="#384f22"/>
<path d="M305.3 72.2l.5-7 .9-5.5-.7 5.8z" fill="#4f3f22"/>
<path d="M304.2 78.4l.6-6.7 .8-6.4-.6 6.5z" fill="#4e4b22"/>
<path d="M305 71.8l.6-6.5 .9-5.1-.7 5z" fill="#4e3a22"/>
<path d="M304 78.2l.6-6.4 .8-6.1-.6 6z" fill="#4e4622"/>
<path d="M305.8 65.2l.7-5 1-3-.8 2.5z" fill="#4b2d22"/>
<path d="M304.8 71.7l.6-6 .9-4.8-.7 4.4z" fill="#4c3722"/>
<path d="M306.5 60.2l.9-2 1.2 0-1.1-1z" fill="#b4372b"/>
<path d="M305.6 65.3l.7-4.4 1.1-2.7-.9 2z" fill="#753725"/>
<path d="M302.1 94.1l.7-4.3 .6-5.4 .6-6.2 .6-6.4 .8-6.1 .9-4.8 1.1-2.7 1.2 0-1.1-1-.8 2.5-.7 5.8-.5 7.4-.8 6.5-.8 5.7-.9 4.9z" class="m"/>
<path d="M313 75.6l1.2 3.2 1.2 2.8 1.2 2.5 1.1 2.1 1.3 2.1 1.2 1.5 1.2 .9 1.1 .4-1-.4-1.1-.9-1-1.3-1.1-1.7-1.3-2.2-1.3-2.6-1.3-3.1z" fill="#3ec76c"/>
<path d="M319.2 88.5l1.1 1.3 1.2 .9-1.1-.9z" fill="#2dcbd3"/>
<path d="M320.3 89.8l1.1 .9 1.1 .4-1-.4z" fill="#2dbbd3"/>
<path d="M318.1 86.8l1.1 1.7 1.2 1.3-1-1.3z" fill="#2dcfbd"/>
<path d="M317 84.6l1.1 2.2 1.3 1.7-1.1-1.7z" fill="#2ccb96"/>
<path d="M319.1 88.4l1.1 1.4 1.2 .9-1.1-.9z" fill="#2dd0b4"/>
<path d="M318 86.7l1.1 1.7 1.2 1.4-1.1-1.3z" fill="#2ccc98"/>
<path d="M316.9 84.5l1.1 2.2 1.2 1.8-1.1-1.7z" fill="#2cc973"/>
<path d="M315.7 82l1.2 2.5 1.2 2.3-1.1-2.2z" fill="#2cc645"/>
<path d="M317.9 86.5l1.1 1.8 1.2 1.5-1.1-1.4z" fill="#2cca71"/>
<path d="M316.7 84.4l1.2 2.1 1.2 1.9-1.1-1.7z" fill="#2cc74e"/>
<path d="M315.6 81.8l1.1 2.6 1.3 2.3-1.1-2.2z" fill="#34c42c"/>
<path d="M314.4 78.9l1.2 2.9 1.3 2.7-1.2-2.5z" fill="#5bc32c"/>
<path d="M315.4 81.6l1.2 2.5 1.3 2.4-1.2-2.1z" fill="#4fc32c"/>
<path d="M314.2 78.8l1.2 2.8 1.3 2.8-1.1-2.6z" fill="#74c22c"/>
<path d="M313 75.6l1.2 3.2 1.4 3-1.2-2.9z" fill="#a0c22c"/>
<path d="M313 75.6l1.2 3.2 1.2 2.8 1.2 2.5 1.1 2.1 1.3 2.1 1.2 1.5 1.2 .9 1.1 .4-1-.4-1.1-.9-1-1.3-1.1-1.7-1.3-2.2-1.3-2.6-1.3-3.1z" class="m"/>
<path d="M317.7 86.2l1.5 2.3 1.4 1.6 1.5 1 1.5 .1 1.5-1.2 1.4-2.5-1.3 2.2-1.3 1.2-1.4 .2-1.5-.6-1.6-1.7z" fill="#278a79"/>
<path d="M321 90.5l1.4 .7 1.5-.3-1.4 .2z" fill="#2cb7c7"/>
<path d="M322.4 91.2l1.3-.1 1.5-1.4-1.3 1.2z" fill="#2aaaaa"/>
<path d="M323.7 91.1l1.4-1.1 1.4-2.5-1.3 2.2z" fill="#27866f"/>
<path d="M319.4 88.8l1.4 1.6 1.6 .8-1.4-.7z" fill="#2dcfaa"/>
<path d="M320.8 90.4l1.4 .8 1.5-.1-1.3 .1z" fill="#2cc5a9"/>
<path d="M322.2 91.2l1.4 0 1.5-1.2-1.4 1.1z" fill="#2aaf8c"/>
<path d="M319.2 88.5l1.4 1.6 1.6 1.1-1.4-.8z" fill="#213b2d"/>
<path d="M317.7 86.2l1.5 2.3 1.6 1.9-1.4-1.6z" fill="#213827"/>
<path d="M320.6 90.1l1.5 1 1.5 .1-1.4 0z" fill="#213e30"/>
<path d="M317.7 86.2l1.5 2.3 1.4 1.6 1.5 1 1.5 .1 1.5-1.2 1.4-2.5-1.3 2.2-1.3 1.2-1.4 .2-1.5-.6-1.6-1.7z" class="m"/>
<path d="M338.4 55.2l1.1 1 1.1 1.3 1.1 1.4 1 1.4 1.1 1 1.1 1.3 1 1.3 1 1.2-1-.9-1.1-1.8-1-2.1-1.1-2.1-1.1-1.5-1-1.1-1.1-.5z" fill="#cf682d"/>
<path d="M344.9 62.6l1 1.3 1 1.2-1-.9z" fill="#393421"/>
<path d="M343.8 60.7l1.1 1.9 1 1.6-1.1-1.8z" fill="#d8a72d"/>
<path d="M342.7 58.7l1.1 2 1 1.7-1-2.1z" fill="#d9932d"/>
<path d="M341.6 56.7l1.1 2 1.1 1.6-1.1-2.1z" fill="#db7f2e"/>
<path d="M343.8 61.2l1.1 1.4 1 1.3-1-1.3z" fill="#372f21"/>
<path d="M342.7 59.3l1.1 1.9 1.1 1.4-1.1-1.9z" fill="#db8b2e"/>
<path d="M341.6 57.4l1.1 1.9 1.1 1.4-1.1-2z" fill="#df782e"/>
<path d="M340.6 55.6l1 1.8 1.1 1.3-1.1-2z" fill="#e4662e"/>
<path d="M342.7 59.9l1.1 1.4 1.1 1.3-1.1-1.4z" fill="#db7e2e"/>
<path d="M341.6 58.2l1.1 1.7 1.1 1.3-1.1-1.9z" fill="#e2722e"/>
<path d="M340.6 56.5l1 1.7 1.1 1.1-1.1-1.9z" fill="#e8612f"/>
<path d="M339.5 55.1l1.1 1.4 1 .9-1-1.8z" fill="#f1512f"/>
<path d="M341.7 58.9l1 1.4 1.1 1-1.1-1.4z" fill="#e4692e"/>
<path d="M340.6 57.5l1.1 1.4 1 1-1.1-1.7z" fill="#ed5c2f"/>
<path d="M339.5 56.2l1.1 1.3 1 .7-1-1.7z" fill="#f64d30"/>
<path d="M338.4 55.2l1.1 1 1.1 .3-1.1-1.4z" fill="#ff4131"/>
<path d="M338.4 55.2l1.1 1 1.1 1.3 1.1 1.4 1 1.4 1.1 1 1.1 1.3 1 1.3 1 1.2-1-.9-1.1-1.8-1-2.1-1.1-2.1-1.1-1.5-1-1.1-1.1-.5z" class="m"/>
<path d="M279.2 112.6l2.2 2.7 2.2 1.9 2.7 0 2.5-1-2-.7-2-1.1-2.7-.1z" fill="#972feb"/>
<path d="M282.1 114.3l2.1 1.7 2.6-.5-2-1.1z" fill="#a630f4"/>
<path d="M284.2 116l2.1 1.2 2.5-1-2-.7z" fill="#aa2ff0"/>
<path d="M279.2 112.6l2.2 2.7 2.8 .7-2.1-1.7z" fill="#7f2ee2"/>
<path d="M281.4 115.3l2.2 1.9 2.7 0-2.1-1.2z" fill="#8e2fe8"/>
<path d="M279.2 112.6l2.2 2.7 2.2 1.9 2.7 0 2.5-1-2-.7-2-1.1-2.7-.1z" class="m"/>
<path d="M367.9 53.3l4.4 1.1 3.7-3.7-4.3-1.1z" fill="#ff3131"/>
<path d="M367.9 53.3l4.4 1.1 3.7-3.7-4.3-1.1z" class="m"/>
<path d="M351.1 58.8l2.1-4 2.2-.1 1.9-1.9 2-1.8-2.1-.4-2.1 2-2 3.4z" fill="#a73029"/>
<path d="M353.1 56l2.1-3.3 2-2.1-2.1 2z" fill="#863427"/>
<path d="M355.2 52.7l2.1 .1 2-1.8-2.1-.4z" fill="#eb312f"/>
<path d="M351.1 58.8l2.1-4 2-2.1-2.1 3.3z" fill="#502b23"/>
<path d="M353.2 54.8l2.2-.1 1.9-1.9-2.1-.1z" fill="#db312e"/>
<path d="M351.1 58.8l2.1-4 2.2-.1 1.9-1.9 2-1.8-2.1-.4-2.1 2-2 3.4z" class="m"/>
<path d="M334.3 57.7l2-2.8 2.1 .3 2.2 .4 2.1 2.6-2.2-4.4-2.1-3.2-2.1 1.8z" fill="#e4452f"/>
<path d="M338.4 52.9l2.2 2.7 2.1 2.6-2.2-4.4z" fill="#ed5a2f"/>
<path d="M336.3 52.4l2.1 .5 2.1 .9-2.1-3.2z" fill="#ff4332"/>
<path d="M334.3 57.7l2-2.8 2.1-2-2.1-.5z" fill="#a63529"/>
<path d="M336.3 54.9l2.1 .3 2.2 .4-2.2-2.7z" fill="#ff4032"/>
<path d="M334.3 57.7l2-2.8 2.1 .3 2.2 .4 2.1 2.6-2.2-4.4-2.1-3.2-2.1 1.8z" class="m"/>
<path d="M342.7 60.3l1.5 1.1 1.4 .2 1.4-.9 1.4-.2 1.4-.6 1.3-1.1-1.4 3.5-1.4 2.4-1.4 .4-1.3-1.6-1.4-1.8z" fill="#4c3822"/>
<path d="M345.6 63.5l1.4 .3 1.3 .9-1.4 .4z" fill="#494022"/>
<path d="M347 63.8l1.4-1.3 1.3-.2-1.4 2.4z" fill="#544523"/>
<path d="M344.2 61.7l1.4 .9 1.4 1.2-1.4-.3z" fill="#3f3321"/>
<path d="M348.4 62.5l1.4-2.6 1.3-1.1-1.4 3.5z" fill="#573c23"/>
<path d="M345.6 62.6l1.4-.5 1.4 .4-1.4 1.3z" fill="#513d23"/>
<path d="M347 62.1l1.4-1.6 1.4-.6-1.4 2.6z" fill="#553823"/>
<path d="M342.7 60.3l1.5 1.1 1.4 1.2-1.4-.9z" fill="#3b2b21"/>
<path d="M344.2 61.4l1.4 .2 1.4 .5-1.4 .5z" fill="#493222"/>
<path d="M345.6 61.6l1.4-.9 1.4-.2-1.4 1.6z" fill="#513223"/>
<path d="M342.7 60.3l1.5 1.1 1.4 .2 1.4-.9 1.4-.2 1.4-.6 1.3-1.1-1.4 3.5-1.4 2.4-1.4 .4-1.3-1.6-1.4-1.8z" class="m"/>
<path d="M372.3 54.4l4.4 1.2 3.7-3.8-4.4-1.1z" fill="#ff3131"/>
<path d="M372.3 54.4l4.4 1.2 3.7-3.8-4.4-1.1z" class="m"/>
<path d="M283.6 117.2l4.2 2.2 5-3.5-4 .3z" fill="#902edc"/>
<path d="M283.6 117.2l4.2 2.2 5-3.5-4 .3z" class="m"/>
<path d="M292.8 115.9l.9-.5 .9-.9 .9-1.2 .9-1.6 1.1-2.9 1-3.4 1-3.9 .9-4.4-.7 3.7-.8 3.1-.8 2.6-.8 1.9-1.1 2.4-1.1 2-1.2 1.7z" fill="#3e2a7b"/>
<path d="M296.2 110.8l.8-1.6 1.1-2.7-.8 1.9z" fill="#45267f"/>
<path d="M295.1 112.8l.9-1.2 1-2.4-.8 1.6z" fill="#512784"/>
<path d="M293.9 114.5l.9-.9 1.2-2-.9 1.2z" fill="#5a278b"/>
<path d="M292.8 115.9l.9-.5 1.1-1.8-.9 .9z" fill="#652899"/>
<path d="M297 109.2l.9-2 1-3.3-.8 2.6z" fill="#312679"/>
<path d="M296 111.6l.8-1.6 1.1-2.8-.9 2z" fill="#40267e"/>
<path d="M294.8 113.6l.9-1.2 1.1-2.4-.8 1.6z" fill="#4d2784"/>
<path d="M293.7 115.4l.9-.9 1.1-2.1-.9 1.2z" fill="#56278a"/>
<path d="M296.8 110l.9-2 1-3.3-.8 2.5z" fill="#2b2679"/>
<path d="M295.7 112.4l.9-1.5 1.1-2.9-.9 2z" fill="#3a267e"/>
<path d="M294.6 114.5l.9-1.2 1.1-2.4-.9 1.5z" fill="#472784"/>
<path d="M296.6 110.9l.9-2.1 1-3.4-.8 2.6z" fill="#262679"/>
<path d="M295.5 113.3l.9-1.6 1.1-2.9-.9 2.1z" fill="#35267e"/>
<path d="M297.7 108l.8-2.6 1-3.9-.8 3.2z" fill="#264175"/>
<path d="M298.7 104.7l.8-3.2 .9-4.4-.7 3.7z" fill="#22434b"/>
<path d="M292.8 115.9l.9-.5 .9-.9 .9-1.2 .9-1.6 1.1-2.9 1-3.4 1-3.9 .9-4.4-.7 3.7-.8 3.1-.8 2.6-.8 1.9-1.1 2.4-1.1 2-1.2 1.7z" class="m"/>
<path d="M355.4 54.7l4.3 1.2 3.9-3.8-4.3-1.1z" fill="#ff3131"/>
<path d="M355.4 54.7l4.3 1.2 3.9-3.8-4.3-1.1z" class="m"/>
<path d="M413.8 78.4l.8 4.8 .7 6.2 .7 7.3 .6 7.5 .1 6.7 .9-1.8 1.5-9.2 1.6-11.3-1.6 5.4-1.6 5.4-1.5 4.1-1.2 1.1-.5-3.3-.1-8.8-.1-8.4z" fill="#313469"/>
<path d="M414.3 101.3l.8 5 .9-2.8-1.2 1.1z" fill="#4930f7"/>
<path d="M415.1 106.3l1 1 1.4-7.9-1.5 4.1z" fill="#352899"/>
<path d="M415.5 106.7l.9 3.1 1.1-5.2-1.4 2.7z" fill="#6731ff"/>
<path d="M414.8 100.3l.7 6.4 .6 .6-1-1z" fill="#222031"/>
<path d="M416.4 109.8l1.2-.7 1.5-9.2-1.6 4.7z" fill="#33288f"/>
<path d="M416 105.9l.7 5 .9-1.8-1.2 .7z" fill="#632ee0"/>
<path d="M416.1 107.3l1.4-2.7 1.6-10.6-1.6 5.4z" fill="#274489"/>
<path d="M415.4 98.7l.6 7.2 .4 3.9-.9-3.1z" fill="#202134"/>
<path d="M414.2 92.5l.6 7.8 .3 6-.8-5z" fill="#202c34"/>
<path d="M417.5 104.6l1.6-4.7 1.6-11.3-1.6 5.4z" fill="#27867c"/>
<path d="M416 96.7l.6 7.5 .1 6.7-.7-5z" fill="#202836"/>
<path d="M414.8 91l.6 7.7 .1 8-.7-6.4z" fill="#203435"/>
<path d="M415.3 89.4l.7 7.3 0 9.2-.6-7.2z" fill="#20362d"/>
<path d="M414.1 84.1l.7 6.9 0 9.3-.6-7.8z" fill="#213520"/>
<path d="M414.6 83.2l.7 6.2 .1 9.3-.6-7.7z" fill="#283520"/>
<path d="M413.8 78.4l.8 4.8 .2 7.8-.7-6.9z" fill="#343320"/>
<path d="M413.8 78.4l.8 4.8 .7 6.2 .7 7.3 .6 7.5 .1 6.7 .9-1.8 1.5-9.2 1.6-11.3-1.6 5.4-1.6 5.4-1.5 4.1-1.2 1.1-.5-3.3-.1-8.8-.1-8.4z" class="m"/>
<path d="M376.7 55.6l4.4 1.2 3.6-3.8-4.3-1.2z" fill="#ff3131"/>
<path d="M376.7 55.6l4.4 1.2 3.6-3.8-4.3-1.2z" class="m"/>
<path d="M308.1 62.8l1.2 2.6 1.3 3.3 1.2 3.5 1.2 3.4 1.4 3.3 1.3 3.1 1.3 2.6 1.3 2.2-1.1-2.2-1.2-2.6-1.1-3.2-1.3-3.7-1.3-3.8-1.4-3.7-1.4-3.1z" fill="#96ac30"/>
<path d="M315.9 82l1.1 2.6 1.3 2.2-1.1-2.2z" fill="#2cc767"/>
<path d="M314.7 78.9l1.2 3.1 1.3 2.6-1.2-2.6z" fill="#2cc52f"/>
<path d="M313.5 75.4l1.2 3.5 1.3 3.1-1.1-3.2z" fill="#5cc32c"/>
<path d="M314.5 79l1.2 3 1.3 2.6-1.1-2.6z" fill="#42c42c"/>
<path d="M312.3 71.3l1.2 4.1 1.4 3.4-1.3-3.7z" fill="#97c42c"/>
<path d="M313.3 75.5l1.2 3.5 1.4 3-1.2-3.1z" fill="#71c22c"/>
<path d="M312.1 71.7l1.2 3.8 1.4 3.4-1.2-3.5z" fill="#a9c42c"/>
<path d="M313.2 75.6l1.2 3.3 1.3 3.1-1.2-3z" fill="#88c22c"/>
<path d="M310.9 67.6l1.2 4.1 1.4 3.7-1.2-4.1z" fill="#c5ad2c"/>
<path d="M312 72l1.2 3.6 1.3 3.4-1.2-3.5z" fill="#bdc32c"/>
<path d="M310.7 68.2l1.3 3.8 1.3 3.5-1.2-3.8z" fill="#c5a22c"/>
<path d="M311.8 72.2l1.2 3.4 1.4 3.3-1.2-3.3z" fill="#c3b72c"/>
<path d="M309.5 64.5l1.2 3.7 1.4 3.5-1.2-4.1z" fill="#c87d2c"/>
<path d="M310.6 68.7l1.2 3.5 1.4 3.4-1.2-3.6z" fill="#c5972c"/>
<path d="M309.3 65.4l1.3 3.3 1.4 3.3-1.3-3.8z" fill="#c9752c"/>
<path d="M308.1 62.8l1.2 2.6 1.4 2.8-1.2-3.7z" fill="#d2582d"/>
<path d="M308.1 62.8l1.2 2.6 1.3 3.3 1.2 3.5 1.2 3.4 1.4 3.3 1.3 3.1 1.3 2.6 1.3 2.2-1.1-2.2-1.2-2.6-1.1-3.2-1.3-3.7-1.3-3.8-1.4-3.7-1.4-3.1z" class="m"/>
<path d="M408.3 65.3l1 1.7 1 2.6 1 3.9 .7 5.6 .2 7.5 .2 7.4 .7 1.3 1.2-6.9-1.4 3.2-1-1.2-.7-5.7-.6-7.6-.4-5.6-.5-3.6-.7-1.9z" fill="#364338"/>
<path d="M412.1 92.6l1 2.7 1.2-6.9-1.4 3.2z" fill="#2ca4c8"/>
<path d="M411.5 85.9l.6 6.7 .8-1-1-1.2z" fill="#2eddd7"/>
<path d="M411.8 86.5l.6 7.5 .7 1.3-1-2.7z" fill="#202e2f"/>
<path d="M410.9 78l.6 7.9 .4 4.5-.7-5.7z" fill="#203023"/>
<path d="M411.2 78.6l.6 7.9 .3 6.1-.6-6.7z" fill="#203123"/>
<path d="M410.2 71.5l.7 6.5 .3 6.7-.6-7.6z" fill="#2b3120"/>
<path d="M411.6 79l.6 7.6 .2 7.4-.6-7.5z" fill="#203221"/>
<path d="M410.5 72.3l.7 6.3 .3 7.3-.6-7.9z" fill="#2c3120"/>
<path d="M410.9 73l.7 6 .2 7.5-.6-7.9z" fill="#2e3220"/>
<path d="M409.7 67.9l.8 4.4 .4 5.7-.7-6.5z" fill="#302c20"/>
<path d="M411.3 73.5l.7 5.6 .2 7.5-.6-7.6z" fill="#303220"/>
<path d="M410 68.8l.9 4.2 .3 5.6-.7-6.3z" fill="#302c20"/>
<path d="M409 66l1 2.8 .5 3.5-.8-4.4z" fill="#2f2620"/>
<path d="M410.3 69.6l1 3.9 .3 5.5-.7-6z" fill="#312b20"/>
<path d="M409.3 67l1 2.6 .6 3.4-.9-4.2z" fill="#2f2620"/>
<path d="M408.3 65.3l1 1.7 .7 1.8-1-2.8z" fill="#e3562e"/>
<path d="M408.3 65.3l1 1.7 1 2.6 1 3.9 .7 5.6 .2 7.5 .2 7.4 .7 1.3 1.2-6.9-1.4 3.2-1-1.2-.7-5.7-.6-7.6-.4-5.6-.5-3.6-.7-1.9z" class="m"/>
<path d="M326.5 87.5l.9-2.2 .9-2.7 1-3 .9-3 1-3.9 1-3.8 1-3.6 1-3.2-1 2.1-.9 2.7-1 3.3-.9 3.6-1 4.1-.9 3.7-1 3.3z" fill="#5f6b26"/>
<path d="M326.5 87.5l.9-2.2 1-3.2-.9 2.8z" fill="#267833"/>
<path d="M327.5 84.9l.9-2.8 1-3.7-.9 3.2z" fill="#307525"/>
<path d="M328.5 81.6l.9-3.2 .9-4-.9 3.5z" fill="#487325"/>
<path d="M329.4 77.9l.9-3.5 1-4.2-.9 3.6z" fill="#627225"/>
<path d="M327.4 85.3l.9-2.7 1-3.6-.9 3.1z" fill="#387526"/>
<path d="M328.4 82.1l.9-3.1 1-4-.9 3.4z" fill="#4f7425"/>
<path d="M329.4 78.4l.9-3.4 1-4.1-1 3.5z" fill="#697325"/>
<path d="M330.3 74.4l1-3.5 1-4-1 3.3z" fill="#736725"/>
<path d="M328.3 82.6l1-3 1-3.9-1 3.3z" fill="#567525"/>
<path d="M329.3 79l1-3.3 .9-3.9-.9 3.2z" fill="#6f7425"/>
<path d="M330.3 75l.9-3.2 1-4-.9 3.1z" fill="#756525"/>
<path d="M331.3 70.9l.9-3.1 1-3.6-.9 2.7z" fill="#765626"/>
<path d="M329.3 79.6l.9-3 1-3.9-.9 3z" fill="#757526"/>
<path d="M330.3 75.7l.9-3 1-3.8-1 2.9z" fill="#766426"/>
<path d="M331.2 71.8l1-2.9 1-3.6-1 2.5z" fill="#775526"/>
<path d="M332.2 67.8l1-2.5 1-3.2-1 2.1z" fill="#7b4826"/>
<path d="M326.5 87.5l.9-2.2 .9-2.7 1-3 .9-3 1-3.9 1-3.8 1-3.6 1-3.2-1 2.1-.9 2.7-1 3.3-.9 3.6-1 4.1-.9 3.7-1 3.3z" class="m"/>
<path d="M297.3 108.4l.8-1.9 .8-2.6 .8-3.1 .7-3.7 .9-5.1 .9-5.6 .8-5.9 .9-5.8-.7 5-.6 5.4-.7 5.2-.7 4.5-.9 4.2-1 3.7-1 3.1z" fill="#28413e"/>
<path d="M297.3 108.4l.8-1.9 1-3.2-.8 2.5z" fill="#36267a"/>
<path d="M298.3 105.8l.8-2.5 1-3.7-.8 3.1z" fill="#22224b"/>
<path d="M299.3 102.7l.8-3.1 .9-4.4-.7 3.8z" fill="#22334c"/>
<path d="M300.3 99l.7-3.8 .9-4.9-.7 4.5z" fill="#224b4d"/>
<path d="M298.1 106.5l.8-2.6 1-3.8-.8 3.2z" fill="#22264b"/>
<path d="M299.1 103.3l.8-3.2 .9-4.4-.7 3.9z" fill="#22394c"/>
<path d="M300.1 99.6l.7-3.9 .9-5-.7 4.5z" fill="#224c48"/>
<path d="M301 95.2l.7-4.5 .9-5.6-.7 5.2z" fill="#224d2f"/>
<path d="M298.9 103.9l.8-3.1 .9-4.5-.7 3.8z" fill="#223f4b"/>
<path d="M299.9 100.1l.7-3.8 .9-5-.7 4.4z" fill="#224c42"/>
<path d="M300.8 95.7l.7-4.4 .9-5.6-.7 5z" fill="#224c29"/>
<path d="M299.7 100.8l.7-3.7 .9-5.1-.7 4.3z" fill="#224b3d"/>
<path d="M301.7 90.7l.7-5 .8-6-.6 5.4z" fill="#334c22"/>
<path d="M300.6 96.3l.7-4.3 .9-5.6-.7 4.9z" fill="#224c24"/>
<path d="M301.5 91.3l.7-4.9 .8-5.9-.6 5.2z" fill="#364b22"/>
<path d="M302.4 85.7l.6-5.2 .9-5.8-.7 5z" fill="#4b4a22"/>
<path d="M297.3 108.4l.8-1.9 .8-2.6 .8-3.1 .7-3.7 .9-5.1 .9-5.6 .8-5.9 .9-5.8-.7 5-.6 5.4-.7 5.2-.7 4.5-.9 4.2-1 3.7-1 3.1z" class="m"/>
<path d="M322.1 91.1l1 .2 1-.3 1-.8 1-1.3 1.1-2.2 1-3 1-3.4 1-3.7-.9 3-1 3-.9 2.7-.9 2.2-1.1 2-1.1 1.2-1.1 .6z" fill="#2f7e39"/>
<path d="M325.4 89.5l1-1.7 1-2.5-.9 2.2z" fill="#267d49"/>
<path d="M324.3 90.7l1-1 1.1-1.9-1 1.7z" fill="#27845a"/>
<path d="M323.2 91.3l1-.4 1.1-1.2-1 1z" fill="#299d6a"/>
<path d="M326.4 87.8l.9-2.1 1-3.1-.9 2.7z" fill="#267927"/>
<path d="M325.3 89.7l1-1.5 1-2.5-.9 2.1z" fill="#267e3c"/>
<path d="M324.2 90.9l1-.9 1.1-1.8-1 1.5z" fill="#27864a"/>
<path d="M327.3 85.7l1-2.6 1-3.5-1 3z" fill="#407626"/>
<path d="M326.3 88.2l1-2 1-3.1-1 2.6z" fill="#2e7a26"/>
<path d="M323.1 91.3l1-.3 1.1-1-1 .9z" fill="#29a356"/>
<path d="M325.2 90l1-1.5 1.1-2.3-1 2z" fill="#26802e"/>
<path d="M324.1 91l1-.8 1.1-1.7-1 1.5z" fill="#278839"/>
<path d="M327.3 86.2l.9-2.5 1-3.4-.9 2.8z" fill="#487826"/>
<path d="M328.3 83.1l.9-2.8 1-3.7-.9 3z" fill="#5d7626"/>
<path d="M326.2 88.5l1-1.8 1-3-.9 2.5z" fill="#377b26"/>
<path d="M325.1 90.2l1-1.3 1.1-2.2-1 1.8z" fill="#2c8127"/>
<path d="M322.1 91.1l1 .2 1-.3 1-.8 1-1.3 1.1-2.2 1-3 1-3.4 1-3.7-.9 3-1 3-.9 2.7-.9 2.2-1.1 2-1.1 1.2-1.1 .6z" class="m"/>
<path d="M330.4 73.8l.9-3.6 1-3.3 .9-2.7 1-2.1 1.1-2.7 1-2 1.1-1.4 1-.8-1.1-.5-1 .2-1 .9-1 1.9-1 3.6-1 4-.9 4.3z" fill="#8a4127"/>
<path d="M330.4 73.8l.9-3.6 1-4.1-.9 3.5z" fill="#726a25"/>
<path d="M331.4 69.6l.9-3.5 1-3.9-1 3.1z" fill="#745925"/>
<path d="M332.3 65.3l1-3.1 1-3.5-1 2.6z" fill="#764a26"/>
<path d="M333.3 61.3l1-2.6 1-2.9-1 1.9z" fill="#7c3e26"/>
<path d="M334.3 58.7l1-1.7 1-2.1-1 .9z" fill="#873327"/>
<path d="M331.3 70.2l1-3.3 .9-3.8-.9 3z" fill="#755826"/>
<path d="M333.3 62.2l1-2.4 1-2.8-1 1.7z" fill="#7d3d26"/>
<path d="M332.3 66.1l.9-3 1.1-3.3-1 2.4z" fill="#784926"/>
<path d="M335.3 57l1-.9 1-1.4-1 .2z" fill="#ad302a"/>
<path d="M336.3 56.1l1.1-.1 1-.8-1.1-.5z" fill="#f33230"/>
<path d="M334.3 59.8l1-1.6 1-2.1-1 .9z" fill="#893327"/>
<path d="M333.2 63.1l1-2.2 1.1-2.7-1 1.6z" fill="#7f3c26"/>
<path d="M332.3 66.9l.9-2.7 1-3.3-1 2.2z" fill="#794826"/>
<path d="M335.3 58.2l1-.8 1.1-1.4-1.1 .1z" fill="#af302a"/>
<path d="M334.2 60.9l1.1-1.5 1-2-1 .8z" fill="#8b3327"/>
<path d="M333.2 64.2l1-2.1 1.1-2.7-1.1 1.5z" fill="#813c26"/>
<path d="M330.4 73.8l.9-3.6 1-3.3 .9-2.7 1-2.1 1.1-2.7 1-2 1.1-1.4 1-.8-1.1-.5-1 .2-1 .9-1 1.9-1 3.6-1 4-.9 4.3z" class="m"/>
<path d="M359.7 55.9l4.4 1.2 3.8-3.8-4.3-1.2z" fill="#ff3131"/>
<path d="M359.7 55.9l4.4 1.2 3.8-3.8-4.3-1.2z" class="m"/>
<path d="M381.1 56.8l4.4 1.1 3.7-3.8-4.5-1.1z" fill="#ff3131"/>
<path d="M381.1 56.8l4.4 1.1 3.7-3.8-4.5-1.1z" class="m"/>
<path d="M287.8 119.4l2 .3 2-.5 2.4-3 2.2-4.5-1.8 2.8-1.8 1.4-2.5 2.3z" fill="#682aaa"/>
<path d="M290.3 118.2l2-.5 2.3-3.2-1.8 1.4z" fill="#6e2aaa"/>
<path d="M287.8 119.4l2 .3 2.5-2-2 .5z" fill="#802ccb"/>
<path d="M292.3 117.7l1.9-1.5 2.2-4.5-1.8 2.8z" fill="#4d2789"/>
<path d="M289.8 119.7l2-.5 2.4-3-1.9 1.5z" fill="#642aab"/>
<path d="M287.8 119.4l2 .3 2-.5 2.4-3 2.2-4.5-1.8 2.8-1.8 1.4-2.5 2.3z" class="m"/>
<path d="M433.9 107.9l.8 4.3 .4-.2-1-.5z" fill="#2b2033"/>
<path d="M433.4 101.5l.5 6.4 .2 3.6-.1-.2-.7-2.4z" fill="#292035"/>
<path d="M433 94.1l.4 7.4-.1 7.4-.6-5.3z" fill="#202236"/>
<path d="M434.2 99l.5 7 0 6.2-.8-4.3z" fill="#252136"/>
<path d="M432.5 86.5l.5 7.6-.3 9.5-.5-7.1z" fill="#203633"/>
<path d="M433.8 91.5l.4 7.5-.3 8.9-.5-6.4z" fill="#212f37"/>
<path d="M433.3 84.3l.5 7.2-.4 10-.4-7.4z" fill="#213727"/>
<path d="M434.6 88.8l.5 7.3-.4 9.9-.5-7z" fill="#213731"/>
<path d="M432.7 78.2l.6 6.1-.3 9.8-.5-7.6z" fill="#2d3620"/>
<path d="M434.1 82.2l.5 6.6-.4 10.2-.4-7.5z" fill="#263721"/>
<path d="M433.4 76.8l.7 5.4-.3 9.3-.5-7.2z" fill="#363620"/>
<path d="M434.8 80.2l.7 5.9-.4 10-.5-7.3z" fill="#303721"/>
<path d="M432.5 72.8l.9 4-.1 7.5-.6-6.1z" fill="#352e20"/>
<path d="M434 75.6l.8 4.6-.2 8.6-.5-6.6z" fill="#363120"/>
<path d="M433.1 72.5l.9 3.1 .1 6.6-.7-5.4z" fill="#352a20"/>
<path d="M432.1 70.7l1 1.8 .3 4.3-.9-4z" fill="#332420"/>
<path d="M432.1 70.7L433.1 72.5L434.0 75.6L434.8 80.2L435.5 86.1L435.1 96.1L434.7 106.0L434.7 112.2L435.1 112.0M434.0 111.3L433.3 108.9L432.7 103.6L432.2 96.5L432.5 86.5L432.7 78.2L432.5 72.8L432.1 70.7" class="m"/>
<path d="M347 60.7l2.1-2.1 2.2-.1 2.1-1.9 2-1.9-2.2 .1-2.1 4-2 1.4z" fill="#922e28"/>
<path d="M349.1 60.2l2.1-3.4 2-2-2.1 4z" fill="#522c23"/>
<path d="M351.2 56.8l2.2-.2 2-1.9-2.2 .1z" fill="#d4312d"/>
<path d="M347 60.7l2.1-2.1 2.1-1.8-2.1 3.4z" fill="#4f2a22"/>
<path d="M349.1 58.6l2.2-.1 2.1-1.9-2.2 .2z" fill="#d3312d"/>
<path d="M347 60.7l2.1-2.1 2.2-.1 2.1-1.9 2-1.9-2.2 .1-2.1 4-2 1.4z" class="m"/>
<path d="M416.6 104.2l.6 6.3 .9 3.6 1.1 .5 1.4-2.2 1.6-10.5 1.7-11.6 1.6-9.7 1.4-7.1-1.5 2.7-1.5 3.4-1.6 4.1-1.6 4.9-1.6 11.3-1.5 9.2-.9 1.8z" fill="#485b65"/>
<path d="M416.7 110.9l1.1 1.5 1.2-6.8-1.4 3.5z" fill="#4f29a1"/>
<path d="M417.2 110.5l.9 3.6 1-3.4-1.3 1.7z" fill="#9233ff"/>
<path d="M418.1 114.1l1.1 .5 1.4-7.8-1.5 3.9z" fill="#4e2898"/>
<path d="M417.8 112.4l1.3-1.7 1.5-10-1.6 4.9z" fill="#30278d"/>
<path d="M416.6 104.2l.6 6.3 .6 1.9-1.1-1.5z" fill="#242034"/>
<path d="M417.6 109.1l1.4-3.5 1.7-11.1-1.6 5.4z" fill="#275189"/>
<path d="M419.2 114.6l1.4-2.2 1.6-10.5-1.6 4.9z" fill="#2e278d"/>
<path d="M419.1 110.7l1.5-3.9 1.7-11.4-1.7 5.3z" fill="#275c89"/>
<path d="M419 105.6l1.6-4.9 1.7-11.4-1.6 5.2z" fill="#27876d"/>
<path d="M419.1 99.9l1.6-5.4 1.6-10.8-1.6 4.9z" fill="#27862c"/>
<path d="M420.6 106.8l1.6-4.9 1.7-11.6-1.6 5.1z" fill="#278964"/>
<path d="M420.6 100.7l1.7-5.3 1.6-10.8-1.6 4.7z" fill="#2e8727"/>
<path d="M420.7 94.5l1.6-5.2 1.6-9.7-1.6 4.1z" fill="#5d8727"/>
<path d="M422.3 95.4l1.6-5.1 1.6-9.7-1.6 4z" fill="#678827"/>
<path d="M422.3 89.3l1.6-4.7 1.5-8.4-1.5 3.4z" fill="#888127"/>
<path d="M423.9 84.6l1.6-4 1.4-7.1-1.5 2.7z" fill="#8a6727"/>
<path d="M416.6 104.2l.6 6.3 .9 3.6 1.1 .5 1.4-2.2 1.6-10.5 1.7-11.6 1.6-9.7 1.4-7.1-1.5 2.7-1.5 3.4-1.6 4.1-1.6 4.9-1.6 11.3-1.5 9.2-.9 1.8z" class="m"/>
<path d="M364.1 57.1l4.4 1.1 3.8-3.8-4.4-1.1z" fill="#ff3131"/>
<path d="M364.1 57.1l4.4 1.1 3.8-3.8-4.4-1.1z" class="m"/>
<path d="M385.5 57.9l4.5 1.2 3.6-3.8-4.4-1.2z" fill="#ff3131"/>
<path d="M385.5 57.9l4.5 1.2 3.6-3.8-4.4-1.2z" class="m"/>
<path d="M414.8 104.6l1.2-1.1 1.5-4.1 1.6-5.4 1.6-5.4 1.6-9.7 1.3-7.2 1.1-4.9 1-2.9-1.3 .7-1.3 1.4-1.3 2-1.4 2.7-1.4 7.6-1.5 10-1.6 10.5z" fill="#656a38"/>
<path d="M414.8 104.6l1.2-1.1 1.5-9.7-1.6 5z" fill="#273b8d"/>
<path d="M416 103.5l1.5-4.1 1.6-11.1-1.6 5.5z" fill="#277e86"/>
<path d="M415.9 98.8l1.6-5 1.6-10.8-1.6 5.3z" fill="#278453"/>
<path d="M417.5 99.4l1.6-5.4 1.6-10.8-1.6 5.1z" fill="#27853e"/>
<path d="M417.5 93.8l1.6-5.5 1.5-9.8-1.5 4.5z" fill="#408427"/>
<path d="M417.5 88.3l1.6-5.3 1.4-8.7-1.5 4z" fill="#668327"/>
<path d="M419.1 94l1.6-5.4 1.6-9.7-1.6 4.3z" fill="#508527"/>
<path d="M419 78.3l1.5-4 1.3-6.3-1.4 2.7z" fill="#856727"/>
<path d="M419.1 88.3l1.6-5.1 1.4-8.5-1.5 3.8z" fill="#778527"/>
<path d="M419.1 83l1.5-4.5 1.4-7.4-1.5 3.2z" fill="#857827"/>
<path d="M420.5 74.3l1.5-3.2 1.1-5.1-1.3 2z" fill="#885327"/>
<path d="M420.6 78.5l1.5-3.8 1.3-6.1-1.4 2.5z" fill="#876027"/>
<path d="M420.7 83.2l1.6-4.3 1.3-7.2-1.5 3z" fill="#877127"/>
<path d="M422 71.1l1.4-2.5 1-4-1.3 1.4z" fill="#8c4227"/>
<path d="M422.1 74.7l1.5-3 1.1-4.9-1.3 1.8z" fill="#8a4c27"/>
<path d="M423.4 68.6l1.3-1.8 1-2.9-1.3 .7z" fill="#933628"/>
<path d="M414.8 104.6l1.2-1.1 1.5-4.1 1.6-5.4 1.6-5.4 1.6-9.7 1.3-7.2 1.1-4.9 1-2.9-1.3 .7-1.3 1.4-1.3 2-1.4 2.7-1.4 7.6-1.5 10-1.6 10.5z" class="m"/>
<path d="M304.6 71.8l.7-5.4 .8-3.6 .9-1 1.1 1 1.4 1.7 1.4 3.1 1.4 3.7 1.3 3.8-1.2-4.3-1.3-4.6-1.3-4.5-1.2-3.5-1.2 0-1.1 2.7-.9 4.8z" fill="#c2542c"/>
<path d="M311 66.9l1.3 4.4 1.3 3.8-1.2-4.3z" fill="#c6b72c"/>
<path d="M309.7 62.7l1.3 4.2 1.4 3.9-1.3-4.6z" fill="#c88c2c"/>
<path d="M308.5 59.4l1.2 3.3 1.4 3.5-1.3-4.5z" fill="#cd622d"/>
<path d="M309.6 63.7l1.3 3.9 1.4 3.7-1.3-4.4z" fill="#c8852c"/>
<path d="M307.4 58.2l1.1 1.2 1.3 2.3-1.2-3.5z" fill="#e6482f"/>
<path d="M308.4 60.6l1.2 3.1 1.4 3.2-1.3-4.2z" fill="#ce5f2d"/>
<path d="M304.6 71.8l.7-5.4 .9-4.6-.8 3.9z" fill="#4b3422"/>
<path d="M306.3 60.9l1-1.5 1.2 0-1.1-1.2z" fill="#cb392c"/>
<path d="M307.3 59.4l1.1 1.2 1.3 2.1-1.2-3.3z" fill="#e7472f"/>
<path d="M305.4 65.7l.8-3.9 1.1-2.4-1 1.5z" fill="#783526"/>
<path d="M308.3 61.7l1.2 2.8 1.4 3.1-1.3-3.9z" fill="#d05c2d"/>
<path d="M306.2 61.8l1-1.3 1.2 .1-1.1-1.2z" fill="#d8392d"/>
<path d="M307.2 60.5l1.1 1.2 1.3 2-1.2-3.1z" fill="#e9452f"/>
<path d="M305.3 66.4l.8-3.6 1.1-2.3-1 1.3z" fill="#7b3326"/>
<path d="M306.1 62.8l.9-1 1.3-.1-1.1-1.2z" fill="#df382e"/>
<path d="M307 61.8l1.1 1 1.4 1.7-1.2-2.8z" fill="#ed432f"/>
<path d="M304.6 71.8l.7-5.4 .8-3.6 .9-1 1.1 1 1.4 1.7 1.4 3.1 1.4 3.7 1.3 3.8-1.2-4.3-1.3-4.6-1.3-4.5-1.2-3.5-1.2 0-1.1 2.7-.9 4.8z" class="m"/>
<path d="M419.3 94l.6 6.4 .7 6.8 .6 6.6 .7 5.4 .5 2.7 1.2-5.5 1.7-11 1.8-12-1.7 4.9-1.6 5.1-1.7 4.9-1.5 4.1-1.1 4.5-.4-4 .1-9.4z" fill="#3c326f"/>
<path d="M419.5 116.9l1.2-.1 1.4-8.5-1.5 4.1z" fill="#4f2895"/>
<path d="M419.9 117.4l1 2.1 1.2-5.2-1.4 2.5z" fill="#752bc0"/>
<path d="M419.1 112.9l.8 4.5 .8-.6-1.2 .1z" fill="#292033"/>
<path d="M420.9 119.5l1.3-.5 1.5-8.8-1.6 4.1z" fill="#522895"/>
<path d="M420.5 116.3l.9 4 .8-1.3-1.3 .5z" fill="#892ee0"/>
<path d="M421.4 120.3l1 1.6 1.2-5.5-1.4 2.6z" fill="#702aaf"/>
<path d="M420.7 116.8l1.4-2.5 1.7-10.9-1.7 4.9z" fill="#2e278e"/>
<path d="M419.8 110.4l.7 5.9 .4 3.2-1-2.1z" fill="#282036"/>
<path d="M422.2 119l1.4-2.6 1.7-11-1.6 4.8z" fill="#30288f"/>
<path d="M421.2 113.8l.7 5.4 .5 2.7-1-1.6z" fill="#2a2036"/>
<path d="M422.1 114.3l1.6-4.1 1.7-11.9-1.6 5.1z" fill="#27658c"/>
<path d="M419.2 103.5l.6 6.9 .1 7-.8-4.5z" fill="#212337"/>
<path d="M420.6 107.2l.6 6.6 .2 6.5-.9-4z" fill="#222138"/>
<path d="M423.7 110.2l1.6-4.8 1.8-12-1.7 4.9z" fill="#278b61"/>
<path d="M419.9 100.4l.7 6.8-.1 9.1-.7-5.9z" fill="#213338"/>
<path d="M419.3 94l.6 6.4-.1 10-.6-6.9z" fill="#213826"/>
<path d="M419.3 94l.6 6.4 .7 6.8 .6 6.6 .7 5.4 .5 2.7 1.2-5.5 1.7-11 1.8-12-1.7 4.9-1.6 5.1-1.7 4.9-1.5 4.1-1.1 4.5-.4-4 .1-9.4z" class="m"/>
<path d="M368.5 58.2l4.4 1.2 3.8-3.8-4.4-1.2z" fill="#ff3131"/>
<path d="M368.5 58.2l4.4 1.2 3.8-3.8-4.4-1.2z" class="m"/>
<path d="M334.2 62.1l4.2-2 4.3 .2-4.3-5.1z" fill="#ff4d31"/>
<path d="M334.2 62.1l4.2-2 4.3 .2-4.3-5.1z" class="m"/>
<path d="M390 59.1l4.5 1.6 3.6-4.1-4.5-1.3z" fill="#ff3331"/>
<path d="M390 59.1l4.5 1.6 3.6-4.1-4.5-1.3z" class="m"/>
<path d="M351.3 58.5l4.4 1.2 4-3.8-4.3-1.2z" fill="#ff3131"/>
<path d="M351.3 58.5l4.4 1.2 4-3.8-4.3-1.2z" class="m"/>
<path d="M301.2 94.8l.7-4.5 .7-5.2 .6-5.4 .7-5 .9-5.4 1-4 1.1-2.3 1.2-.2-1.1-1-.9 1-.8 3.6-.7 5.4-.8 6.4-.8 6.2-.9 5.6z" fill="#584125"/>
<path d="M301.2 94.8l.7-4.5 .9-5.6-.7 5.3z" fill="#224d35"/>
<path d="M302.1 90l.7-5.3 .8-6.2-.6 5.9z" fill="#2b4d22"/>
<path d="M303 84.4l.6-5.9 .8-6.3-.6 6z" fill="#434d22"/>
<path d="M301.9 90.3l.7-5.2 .8-6.1-.6 5.7z" fill="#2f4d22"/>
<path d="M303.8 78.2l.6-6 .9-5.8-.7 5.4z" fill="#4d4322"/>
<path d="M302.8 84.7l.6-5.7 .8-6.2-.6 5.7z" fill="#474c22"/>
<path d="M303.6 78.5l.6-5.7 .9-5.6-.7 5z" fill="#4c4022"/>
<path d="M302.6 85.1l.6-5.4 .9-6-.7 5.3z" fill="#4a4c22"/>
<path d="M304.4 72.2l.7-5 1-4.4-.8 3.6z" fill="#4a3222"/>
<path d="M303.4 79l.7-5.3 .8-5.5-.7 4.6z" fill="#4b3d22"/>
<path d="M304.2 72.8l.7-4.6 1-4.2-.8 3.2z" fill="#724125"/>
<path d="M305.1 67.2l.8-3.2 1.1-2.2-.9 1z" fill="#7d3226"/>
<path d="M305.9 64l1-1 1.2-.2-1.1-1z" fill="#dd362e"/>
<path d="M304.1 73.7l.7-4.4 1-4-.9 2.9z" fill="#734025"/>
<path d="M304.9 68.2l.9-2.9 1.1-2.3-1 1z" fill="#7f3226"/>
<path d="M301.2 94.8l.7-4.5 .7-5.2 .6-5.4 .7-5 .9-5.4 1-4 1.1-2.3 1.2-.2-1.1-1-.9 1-.8 3.6-.7 5.4-.8 6.4-.8 6.2-.9 5.6z" class="m"/>
<path d="M394.5 60.7l4.6 1.4 3.5-4.5-4.5-1z" fill="#ff3531"/>
<path d="M394.5 60.7l4.6 1.4 3.5-4.5-4.5-1z" class="m"/>
<path d="M372.9 59.4l4.4 1.2 3.8-3.8-4.4-1.2z" fill="#ff3131"/>
<path d="M372.9 59.4l4.4 1.2 3.8-3.8-4.4-1.2z" class="m"/>
<path d="M338.4 60.1l2.2 1.1 2.2 .8 2.1-.9 2.1-.4-2.1 1-2.2-1.4-2.1-1z" fill="#c5402c"/>
<path d="M340.6 59.3l2.2 1.6 2.1 .8-2.2-1.4z" fill="#e8572f"/>
<path d="M342.8 60.9l2.1 .2 2.1-.4-2.1 1z" fill="#472a22"/>
<path d="M338.4 60.1l2.2 1.1 2.2-.3-2.2-1.6z" fill="#ff4031"/>
<path d="M340.6 61.2l2.2 .8 2.1-.9-2.1-.2z" fill="#e53f2e"/>
<path d="M338.4 60.1l2.2 1.1 2.2 .8 2.1-.9 2.1-.4-2.1 1-2.2-1.4-2.1-1z" class="m"/>
<path d="M277.5 111.9l1.6 2.4 1.6 2 1.5 1.6 1.9 1.2 1.9 .5 1.8-.2-1.4-.5-1.4-.7-1.4-1-1.9-.8-2-1.6z" fill="#5731d1"/>
<path d="M281.7 116.4l1.5 1.3 1.8 .5-1.4-1z" fill="#772edd"/>
<path d="M283.2 117.7l1.4 1.1 1.8 .1-1.4-.7z" fill="#7f2edf"/>
<path d="M284.6 118.8l1.4 .8 1.8-.2-1.4-.5z" fill="#812edd"/>
<path d="M279.7 114.8l1.5 1.7 2 1.2-1.5-1.3z" fill="#4a2dcf"/>
<path d="M281.2 116.5l1.5 1.5 1.9 .8-1.4-1.1z" fill="#592dd3"/>
<path d="M282.7 118l1.4 1.1 1.9 .5-1.4-.8z" fill="#632dd5"/>
<path d="M280.7 116.3l1.5 1.6 1.9 1.2-1.4-1.1z" fill="#392cc8"/>
<path d="M279.1 114.3l1.6 2 2 1.7-1.5-1.5z" fill="#2c2ec5"/>
<path d="M277.5 111.9l1.6 2.4 2.1 2.2-1.5-1.7z" fill="#2c4ec1"/>
<path d="M277.5 111.9l1.6 2.4 1.6 2 1.5 1.6 1.9 1.2 1.9 .5 1.8-.2-1.4-.5-1.4-.7-1.4-1-1.9-.8-2-1.6z" class="m"/>
<path d="M355.7 59.7l4.4 1.2 4-3.8-4.4-1.2z" fill="#ff3131"/>
<path d="M355.7 59.7l4.4 1.2 4-3.8-4.4-1.2z" class="m"/>
<path d="M272.3 100.6l1.4 3.5 1.3 3 1.3 2.6 1.2 2.2 1.7 2.3 1.5 1.5 1.5 1 1.4 .5-1.1-.9-1.1-1-1.1-1.2-1.1-1.5-1.6-1.7-1.6-2.5-1.8-3.4z" fill="#3a5dbe"/>
<path d="M280 114.3l1.1 1.3 1.4 .7-1.1-1z" fill="#642dd7"/>
<path d="M281.1 115.6l1.1 1.1 1.4 .5-1.1-.9z" fill="#712edb"/>
<path d="M278.8 112.8l1.2 1.5 1.4 1-1.1-1.2z" fill="#542dd3"/>
<path d="M277.6 110.9l1.2 1.9 1.5 1.3-1.1-1.5z" fill="#412dcd"/>
<path d="M279.6 114.3l1.1 1.4 1.5 1-1.1-1.1z" fill="#4d2dd0"/>
<path d="M278.4 112.7l1.2 1.6 1.5 1.3-1.1-1.3z" fill="#3e2ccc"/>
<path d="M277.2 110.7l1.2 2 1.6 1.6-1.2-1.5z" fill="#2c2dc7"/>
<path d="M276 108.4l1.2 2.3 1.6 2.1-1.2-1.9z" fill="#2c50c2"/>
<path d="M278 112.4l1.2 1.8 1.5 1.5-1.1-1.4z" fill="#2c32c5"/>
<path d="M276.8 110.3l1.2 2.1 1.6 1.9-1.2-1.6z" fill="#2c53c1"/>
<path d="M275.5 107.9l1.3 2.4 1.6 2.4-1.2-2z" fill="#2b7bbd"/>
<path d="M274.2 105l1.3 2.9 1.7 2.8-1.2-2.3z" fill="#2ba9b9"/>
<path d="M276.3 109.7l1.2 2.2 1.7 2.3-1.2-1.8z" fill="#2b80bb"/>
<path d="M275 107.1l1.3 2.6 1.7 2.7-1.2-2.1z" fill="#2ba9b8"/>
<path d="M273.7 104.1l1.3 3 1.8 3.2-1.3-2.4z" fill="#2bb595"/>
<path d="M272.3 100.6l1.4 3.5 1.8 3.8-1.3-2.9z" fill="#2bb55e"/>
<path d="M272.3 100.6l1.4 3.5 1.3 3 1.3 2.6 1.2 2.2 1.7 2.3 1.5 1.5 1.5 1 1.4 .5-1.1-.9-1.1-1-1.1-1.2-1.1-1.5-1.6-1.7-1.6-2.5-1.8-3.4z" class="m"/>
<path d="M399.1 62.1l4.6 .7 3.3-2.2-4.4-3z" fill="#ff3a32"/>
<path d="M399.1 62.1l4.6 .7 3.3-2.2-4.4-3z" class="m"/>
<path d="M403.7 62.8l1.2 .3 1.1 .4 1.2 .7 1.1 1.1 .7 .7 .7 1.9 .5 3.6 .4 5.6-.7-6.7-.9-4.8-.9-3.1-1.1-1.9-.7 0-.9 .4-.8 .8z" fill="#d2402d"/>
<path d="M409.3 66.8l.9 4.7 .4 5.6-.7-6.7z" fill="#302c20"/>
<path d="M408.4 63.8l.9 3 .6 3.6-.9-4.8z" fill="#2e2620"/>
<path d="M407.3 61.8l1.1 2 .6 1.8-.9-3.1z" fill="#e25c2e"/>
<path d="M408.7 64.9l1 3 .5 3.6-.9-4.7z" fill="#2e2620"/>
<path d="M406.3 60.6l1 1.2 .8 .7-1.1-1.9z" fill="#fc4b30"/>
<path d="M407.6 63l1.1 1.9 .6 1.9-.9-3z" fill="#e25b2e"/>
<path d="M406.6 61.8l1 1.2 .8 .8-1.1-2z" fill="#fb4a30"/>
<path d="M405.4 61l1.2 .8 .7 0-1-1.2z" fill="#ff3f32"/>
<path d="M408 64.2l1 1.8 .7 1.9-1-3z" fill="#e2592e"/>
<path d="M406.9 63l1.1 1.2 .7 .7-1.1-1.9z" fill="#fb4930"/>
<path d="M404.6 61.8l1.1 .5 .9-.5-1.2-.8z" fill="#ff3732"/>
<path d="M405.7 62.3l1.2 .7 .7 0-1-1.2z" fill="#ff3e32"/>
<path d="M403.7 62.8l1.2 .3 .8-.8-1.1-.5z" fill="#ff3231"/>
<path d="M407.2 64.2l1.1 1.1 .7 .7-1-1.8z" fill="#fc4730"/>
<path d="M404.9 63.1l1.1 .4 .9-.5-1.2-.7z" fill="#ff3632"/>
<path d="M406 63.5l1.2 .7 .8 0-1.1-1.2z" fill="#ff3d32"/>
<path d="M403.7 62.8l1.2 .3 1.1 .4 1.2 .7 1.1 1.1 .7 .7 .7 1.9 .5 3.6 .4 5.6-.7-6.7-.9-4.8-.9-3.1-1.1-1.9-.7 0-.9 .4-.8 .8z" class="m"/>
<path d="M317 84.7l1.6 2.3 1.5 1.8 1.4 1.3 1.6 .9 1.6-.3 1.4-1.8-1.3 1.6-1.4 .7-1.3-.1-1.7-1.3-1.6-2.2z" fill="#274823"/>
<path d="M320.4 89.8l1.5 1 1.5 .4-1.3-.1z" fill="#213e27"/>
<path d="M321.9 90.8l1.4 .4 1.5-.7-1.4 .7z" fill="#224728"/>
<path d="M323.3 91.2l1.4-.5 1.4-1.8-1.3 1.6z" fill="#28992a"/>
<path d="M318.8 87.6l1.5 1.7 1.6 1.5-1.5-1z" fill="#253b21"/>
<path d="M320.3 89.3l1.4 1.2 1.6 .7-1.4-.4z" fill="#243d21"/>
<path d="M321.7 90.5l1.4 .5 1.6-.3-1.4 .5z" fill="#254422"/>
<path d="M318.6 87l1.5 1.8 1.6 1.7-1.4-1.2z" fill="#2c3a21"/>
<path d="M317 84.7l1.6 2.3 1.7 2.3-1.5-1.7z" fill="#2e3821"/>
<path d="M320.1 88.8l1.4 1.3 1.6 .9-1.4-.5z" fill="#2b3d21"/>
<path d="M317 84.7l1.6 2.3 1.5 1.8 1.4 1.3 1.6 .9 1.6-.3 1.4-1.8-1.3 1.6-1.4 .7-1.3-.1-1.7-1.3-1.6-2.2z" class="m"/>
<path d="M312.3 75.7l1.2 2.5 1.2 2.3 1.2 2.2 1.1 2 1.3 2.2 1.3 1.9 1.3 1.4 1.2 .9-1.1-.7-1.1-1-1.1-1.4-1.1-1.8-1.3-2.4-1.3-2.7-1.4-2.8z" fill="#464d23"/>
<path d="M318.7 87.7l1.1 1.4 1.2 1.3-1.1-1z" fill="#213923"/>
<path d="M319.8 89.1l1.1 1.1 1.2 .9-1.1-.7z" fill="#213b27"/>
<path d="M317.5 85.9l1.2 1.8 1.2 1.7-1.1-1.4z" fill="#223821"/>
<path d="M316.4 83.8l1.1 2.1 1.3 2.1-1.1-1.8z" fill="#253620"/>
<path d="M318.5 87.3l1.1 1.5 1.3 1.4-1.1-1.1z" fill="#243921"/>
<path d="M317.4 85.5l1.1 1.8 1.3 1.8-1.1-1.4z" fill="#263821"/>
<path d="M316.2 83.5l1.2 2 1.3 2.2-1.2-1.8z" fill="#2a3621"/>
<path d="M317.2 85.1l1.1 1.8 1.3 1.9-1.1-1.5z" fill="#2b3821"/>
<path d="M316.1 83.1l1.1 2 1.3 2.2-1.1-1.8z" fill="#2e3721"/>
<path d="M314.9 80.8l1.2 2.3 1.3 2.4-1.2-2z" fill="#313620"/>
<path d="M313.7 78.3l1.2 2.5 1.3 2.7-1.1-2.4z" fill="#c2be2c"/>
<path d="M315.9 82.7l1.1 2 1.3 2.2-1.1-1.8z" fill="#333721"/>
<path d="M314.7 80.5l1.2 2.2 1.3 2.4-1.1-2z" fill="#363620"/>
<path d="M313.5 78.2l1.2 2.3 1.4 2.6-1.2-2.3z" fill="#c4ad2c"/>
<path d="M312.3 75.7l1.2 2.5 1.4 2.6-1.2-2.5z" fill="#c6982c"/>
<path d="M312.3 75.7l1.2 2.5 1.2 2.3 1.2 2.2 1.1 2 1.3 2.2 1.3 1.9 1.3 1.4 1.2 .9-1.1-.7-1.1-1-1.1-1.4-1.1-1.8-1.3-2.4-1.3-2.7-1.4-2.8z" class="m"/>
<path d="M377.3 60.6l4.5 1.3 3.7-4-4.4-1.1z" fill="#ff3131"/>
<path d="M377.3 60.6l4.5 1.3 3.7-4-4.4-1.1z" class="m"/>
<path d="M291.8 119.2l1-.5 .9-.9 .9-1.1 .9-1.4 1.1-2.8 1.1-3.4 1-3.8 1-4.4-.8 3.3-.8 3-.8 2.5-.9 2-1.1 2.5-1.1 2-1.2 1.7z" fill="#303780"/>
<path d="M295.3 114.2l.9-1.6 1.1-2.9-.9 2z" fill="#30267e"/>
<path d="M294.2 116.2l.9-1.2 1.1-2.4-.9 1.6z" fill="#3c2784"/>
<path d="M293 117.9l.9-.9 1.2-2-.9 1.2z" fill="#46278a"/>
<path d="M291.8 119.2l1-.5 1.1-1.7-.9 .9z" fill="#51289a"/>
<path d="M296.2 112.6l.8-2 1.1-3.4-.8 2.5z" fill="#26347a"/>
<path d="M295.1 115l.9-1.5 1-2.9-.8 2z" fill="#2b267f"/>
<path d="M293.9 117l1-1.1 1.1-2.4-.9 1.5z" fill="#372784"/>
<path d="M292.8 118.7l.9-.9 1.2-1.9-1 1.1z" fill="#40278b"/>
<path d="M296 113.5l.8-2 1.1-3.4-.9 2.5z" fill="#263c7a"/>
<path d="M294.9 115.9l.9-1.5 1-2.9-.8 2z" fill="#26277f"/>
<path d="M297 110.6l.9-2.5 1-3.9-.8 3z" fill="#265a77"/>
<path d="M293.7 117.8l.9-1.1 1.2-2.3-.9 1.5z" fill="#312785"/>
<path d="M295.8 114.4l.8-1.9 1.1-3.4-.9 2.4z" fill="#26457b"/>
<path d="M294.6 116.7l.9-1.4 1.1-2.8-.8 1.9z" fill="#262e80"/>
<path d="M296.8 111.5l.9-2.4 1-3.8-.8 2.8z" fill="#266177"/>
<path d="M297.9 108.1l.8-2.8 1-4.4-.8 3.3z" fill="#257467"/>
<path d="M291.8 119.2l1-.5 .9-.9 .9-1.1 .9-1.4 1.1-2.8 1.1-3.4 1-3.8 1-4.4-.8 3.3-.8 3-.8 2.5-.9 2-1.1 2.5-1.1 2-1.2 1.7z" class="m"/>
<path d="M282.2 117.9l2.2 1.8 2.1 1.2 2.8-.1 2.5-1.6-2 .5-2-.3-2.7 .1z" fill="#612dcd"/>
<path d="M285.1 119.5l2.1 .9 2.6-.7-2-.3z" fill="#782dd4"/>
<path d="M287.2 120.4l2.1 .4 2.5-1.6-2 .5z" fill="#6e2cca"/>
<path d="M282.2 117.9l2.2 1.8 2.8 .7-2.1-.9z" fill="#4d2dce"/>
<path d="M284.4 119.7l2.1 1.2 2.8-.1-2.1-.4z" fill="#522cca"/>
<path d="M282.2 117.9l2.2 1.8 2.1 1.2 2.8-.1 2.5-1.6-2 .5-2-.3-2.7 .1z" class="m"/>
<path d="M342.8 62l4.4 .5 4.1-4-4.3 2.2z" fill="#c7372c"/>
<path d="M342.8 62l4.4 .5 4.1-4-4.3 2.2z" class="m"/>
<path d="M360.1 60.9l4.4 1.3 4-4-4.4-1.1z" fill="#ff3131"/>
<path d="M360.1 60.9l4.4 1.3 4-4-4.4-1.1z" class="m"/>
<path d="M330.2 76.6l1-2.9 1-2.6 1-2.1 1-1.8 1-2.5 1.1-2 1.1-1.6 1-1-1-.3-1.1 .2-1 .7-1.1 1.4-1 3.2-1 3.6-1 3.8z" fill="#8d4027"/>
<path d="M330.2 76.6l1-2.9 1-3.8-1 2.8z" fill="#776326"/>
<path d="M333.2 65.3l1-1.9 1.1-2.7-1.1 1.4z" fill="#823c27"/>
<path d="M331.2 72.7l1-2.8 1-3.4-1 2.4z" fill="#795426"/>
<path d="M332.2 68.9l1-2.4 1-3.1-1 1.9z" fill="#7c4726"/>
<path d="M334.2 63.4l1.1-1.3 1-2.1-1 .7z" fill="#8d3427"/>
<path d="M333.2 66.5l1-1.9 1.1-2.5-1.1 1.3z" fill="#843c27"/>
<path d="M331.2 73.7l1-2.6 1-3.4-1 2.2z" fill="#7a5426"/>
<path d="M332.2 69.9l1-2.2 1-3.1-1 1.9z" fill="#7e4726"/>
<path d="M335.3 62.1l1-.7 1.1-1.6-1.1 .2z" fill="#b1312a"/>
<path d="M336.3 61.4l1.1-.3 1-1-1-.3z" fill="#da302e"/>
<path d="M334.2 64.6l1.1-1.2 1-2-1 .7z" fill="#8e3428"/>
<path d="M333.2 67.7l1-1.7 1.1-2.6-1.1 1.2z" fill="#853d27"/>
<path d="M332.2 71.1l1-2.1 1-3-1 1.7z" fill="#7f4726"/>
<path d="M335.3 63.4l1-.7 1.1-1.6-1.1 .3z" fill="#af312a"/>
<path d="M334.2 66l1-1.3 1.1-2-1 .7z" fill="#8e3527"/>
<path d="M333.2 69l1-1.8 1-2.5-1 1.3z" fill="#843c27"/>
<path d="M330.2 76.6l1-2.9 1-2.6 1-2.1 1-1.8 1-2.5 1.1-2 1.1-1.6 1-1-1-.3-1.1 .2-1 .7-1.1 1.4-1 3.2-1 3.6-1 3.8z" class="m"/>
<path d="M381.8 61.9l4.6 1.2 3.6-4-4.5-1.2z" fill="#ff3131"/>
<path d="M381.8 61.9l4.6 1.2 3.6-4-4.5-1.2z" class="m"/>
<path d="M326.1 88.9l1-1.7 1-2.1 1-2.3 1-2.9 1-3.4 1-3.3 1.1-3.2 1-2.8-1 1.8-1 2.1-1 2.6-1 2.9-1 3.7-1 3.4-1 3z" fill="#6e6a26"/>
<path d="M327.2 86.7l1-2.3 1-3.3-1 2.6z" fill="#507926"/>
<path d="M328.2 83.7l1-2.6 1-3.7-1 2.9z" fill="#647726"/>
<path d="M326.1 88.9l1-1.7 1.1-2.8-1 2.3z" fill="#407d26"/>
<path d="M329.2 80.3l1-2.9 1-3.7-1 2.9z" fill="#767226"/>
<path d="M328.2 84.4l.9-2.5 1-3.5-.9 2.7z" fill="#6a7826"/>
<path d="M327.1 87.2l1-2.1 1-3.2-.9 2.5z" fill="#577a26"/>
<path d="M329.2 81.1l.9-2.7 1.1-3.7-1 2.7z" fill="#777126"/>
<path d="M330.2 77.4l1-2.7 1-3.6-1 2.6z" fill="#786226"/>
<path d="M328.1 85.1l1-2.3 1-3.4-1 2.5z" fill="#707926"/>
<path d="M329.1 81.9l1-2.5 1-3.6-1 2.6z" fill="#796f26"/>
<path d="M330.1 78.4l1-2.6 1-3.5-.9 2.4z" fill="#796126"/>
<path d="M331.2 74.7l.9-2.4 1.1-3.3-1 2.1z" fill="#7b5326"/>
<path d="M332.1 72.3l1.1-2.3 1-2.8-1 1.8z" fill="#7e4626"/>
<path d="M329.1 82.8l1-2.9 1-3.4-1 2.9z" fill="#766a26"/>
<path d="M330.1 79.4l1-2.9 1-3.3-1 2.6z" fill="#775d26"/>
<path d="M331.1 75.8l1-2.6 1.1-3.2-1.1 2.3z" fill="#7a5126"/>
<path d="M326.1 88.9l1-1.7 1-2.1 1-2.3 1-2.9 1-3.4 1-3.3 1.1-3.2 1-2.8-1 1.8-1 2.1-1 2.6-1 2.9-1 3.7-1 3.4-1 3z" class="m"/>
<path d="M296.4 111.7l.9-2 .8-2.5 .8-3 .8-3.3 .9-4.9 .9-5.2 .9-5.5 .9-5.4-.7 4-.8 4.5-.7 4.4-.7 4.3-.9 4.4-1 3.9-1 3.4z" fill="#315e46"/>
<path d="M296.4 111.7l.9-2 1-3.4-.8 2.5z" fill="#262b7a"/>
<path d="M297.5 108.8l.8-2.5 1-3.9-.8 3z" fill="#264a76"/>
<path d="M298.5 105.4l.8-3 .9-4.5-.7 3.6z" fill="#22474a"/>
<path d="M299.5 101.5l.7-3.6 .9-5.1-.7 4.3z" fill="#224b38"/>
<path d="M297.3 109.7l.8-2.5 1-3.9-.8 3z" fill="#265276"/>
<path d="M298.3 106.3l.8-3 .9-4.5-.7 3.6z" fill="#257372"/>
<path d="M299.3 102.4l.7-3.6 .9-5-.7 4.1z" fill="#224a35"/>
<path d="M298.1 107.2l.8-3 .9-4.4-.7 3.5z" fill="#25746c"/>
<path d="M300.2 97.9l.7-4.1 .9-5.4-.7 4.4z" fill="#264a22"/>
<path d="M299.1 103.3l.7-3.5 1-4.9-.8 3.9z" fill="#257243"/>
<path d="M300 98.8l.8-3.9 .9-5.4-.8 4.3z" fill="#307025"/>
<path d="M298.9 104.2l.8-3.3 .9-4.9-.8 3.8z" fill="#25723f"/>
<path d="M300.9 93.8l.8-4.3 .9-5.6-.8 4.5z" fill="#547025"/>
<path d="M299.8 99.8l.8-3.8 .9-5.2-.7 4.1z" fill="#337125"/>
<path d="M300.8 94.9l.7-4.1 .9-5.5-.7 4.2z" fill="#567025"/>
<path d="M301.7 89.5l.7-4.2 .9-5.4-.7 4z" fill="#716925"/>
<path d="M296.4 111.7l.9-2 .8-2.5 .8-3 .8-3.3 .9-4.9 .9-5.2 .9-5.5 .9-5.4-.7 4-.8 4.5-.7 4.4-.7 4.3-.9 4.4-1 3.9-1 3.4z" class="m"/>
<path d="M409.6 69.7l1.1 1.1 1.1 1.6 1 2.5 1 3.5 .3 5.7 .1 8.4 .1 8.8 .5 3.3-.9-3.3-.7-6.8-.5-8.2-.7-7.2-.4-5.2-.5-2.8-.7-1.2z" fill="#392e24"/>
<path d="M413.7 93.7l.6 7.6 .5 3.3-.9-3.3z" fill="#202633"/>
<path d="M413.1 85.7l.6 8 .2 7.6-.7-6.8z" fill="#20342e"/>
<path d="M413.6 85l.6 7.5 .1 8.8-.6-7.6z" fill="#203428"/>
<path d="M412.5 79l.6 6.7 .1 8.8-.5-8.2z" fill="#263320"/>
<path d="M412.9 78.8l.7 6.2 .1 8.7-.6-8z" fill="#2b3420"/>
<path d="M411.6 73.9l.9 5.1 .2 7.3-.7-7.2z" fill="#323220"/>
<path d="M413.3 78.6l.8 5.5 .1 8.4-.6-7.5z" fill="#303420"/>
<path d="M412 74.3l.9 4.5 .2 6.9-.6-6.7z" fill="#333020"/>
<path d="M411.1 71.1l.9 3.2 .5 4.7-.9-5.1z" fill="#312920"/>
<path d="M412.4 74.6l.9 4 .3 6.4-.7-6.2z" fill="#332e20"/>
<path d="M411.4 71.8l1 2.8 .5 4.2-.9-4.5z" fill="#312820"/>
<path d="M412.8 74.9l1 3.5 .3 5.7-.8-5.5z" fill="#332c20"/>
<path d="M410.4 69.9l1 1.9 .6 2.5-.9-3.2z" fill="#312420"/>
<path d="M411.8 72.4l1 2.5 .5 3.7-.9-4z" fill="#312720"/>
<path d="M410.7 70.8l1.1 1.6 .6 2.2-1-2.8z" fill="#312420"/>
<path d="M409.6 69.7l1.1 1.1 .7 1-1-1.9z" fill="#f34430"/>
<path d="M409.6 69.7l1.1 1.1 1.1 1.6 1 2.5 1 3.5 .3 5.7 .1 8.4 .1 8.8 .5 3.3-.9-3.3-.7-6.8-.5-8.2-.7-7.2-.4-5.2-.5-2.8-.7-1.2z" class="m"/>
<path d="M364.5 62.2l4.5 1.2 3.9-4-4.4-1.2z" fill="#ff3131"/>
<path d="M364.5 62.2l4.5 1.2 3.9-4-4.4-1.2z" class="m"/>
<path d="M307.6 67.4l1.2 1.3 1.1 2.1 1.2 2.4 1.2 2.5 1.4 2.6 1.4 2.8 1.3 2.7 1.3 2.4-1.1-2.1-1.2-2.5-1.2-2.8-1.2-3.2-1.4-3.2-1.4-2.7-1.3-1.8z" fill="#bf922c"/>
<path d="M314 78.6l1.2 2.8 1.4 2.7-1.2-2.5z" fill="#8fc22c"/>
<path d="M312.8 75.6l1.2 3 1.4 3-1.2-2.8z" fill="#b9c22c"/>
<path d="M311.6 72.4l1.2 3.2 1.4 3.2-1.2-3.2z" fill="#c3a92c"/>
<path d="M313.9 78.5l1.2 2.6 1.3 2.7-1.2-2.4z" fill="#abc22c"/>
<path d="M312.7 75.6l1.2 2.9 1.3 2.9-1.2-2.8z" fill="#c3b62c"/>
<path d="M311.5 72.6l1.2 3 1.3 3-1.2-3z" fill="#c49c2c"/>
<path d="M310.2 69.7l1.3 2.9 1.3 3-1.2-3.2z" fill="#c8812c"/>
<path d="M312.5 75.6l1.2 2.7 1.4 2.8-1.2-2.6z" fill="#c4a72c"/>
<path d="M311.3 72.9l1.2 2.7 1.4 2.9-1.2-2.9z" fill="#c68f2c"/>
<path d="M310.1 70.2l1.2 2.7 1.4 2.7-1.2-3z" fill="#ca762c"/>
<path d="M308.9 67.9l1.2 2.3 1.4 2.4-1.3-2.9z" fill="#d25e2d"/>
<path d="M311.1 73.2l1.2 2.5 1.4 2.6-1.2-2.7z" fill="#c9822c"/>
<path d="M309.9 70.8l1.2 2.4 1.4 2.4-1.2-2.7z" fill="#ce6c2d"/>
<path d="M308.8 68.7l1.1 2.1 1.4 2.1-1.2-2.7z" fill="#d7572d"/>
<path d="M307.6 67.4l1.2 1.3 1.3 1.5-1.2-2.3z" fill="#e8452f"/>
<path d="M307.6 67.4l1.2 1.3 1.1 2.1 1.2 2.4 1.2 2.5 1.4 2.6 1.4 2.8 1.3 2.7 1.3 2.4-1.1-2.1-1.2-2.5-1.2-2.8-1.2-3.2-1.4-3.2-1.4-2.7-1.3-1.8z" class="m"/>
<path d="M421.9 119.2l.9 3.7 1.1 1.4 1.2-.6 1.5-2.3 1.7-10.8 1.9-12.5 1.8-11 1.5-8-1.6 2.6-1.5 3.3-1.6 4-1.7 4.4-1.8 12-1.7 11-1.2 5.5z" fill="#535e6d"/>
<path d="M421.9 119.2l.9 3.7 .8-1.6-1.2 .6z" fill="#962fea"/>
<path d="M422.4 121.9l1.2-.6 1.6-8.9-1.6 4z" fill="#562895"/>
<path d="M422.8 122.9l1.1 1.4 1.2-5.5-1.5 2.5z" fill="#732aac"/>
<path d="M423.9 124.3l1.2-.6 1.5-8.7-1.5 3.8z" fill="#5b2897"/>
<path d="M423.6 121.3l1.5-2.5 1.7-11-1.6 4.6z" fill="#342890"/>
<path d="M425.1 123.7l1.5-2.3 1.7-10.8-1.7 4.4z" fill="#3c2892"/>
<path d="M423.6 116.4l1.6-4 1.8-12-1.7 5z" fill="#27628d"/>
<path d="M425.1 118.8l1.5-3.8 1.9-12.1-1.7 4.9z" fill="#28588f"/>
<path d="M425.2 112.4l1.6-4.6 1.9-12.2-1.7 4.8z" fill="#278d68"/>
<path d="M426.6 115l1.7-4.4 1.9-12.5-1.7 4.8z" fill="#288e74"/>
<path d="M425.3 105.4l1.7-5 1.8-11.4-1.7 4.4z" fill="#388c27"/>
<path d="M426.8 107.8l1.7-4.9 1.8-11.8-1.6 4.5z" fill="#338d27"/>
<path d="M427 100.4l1.7-4.8 1.7-10.6-1.6 4z" fill="#708d27"/>
<path d="M428.5 102.9l1.7-4.8 1.8-11-1.7 4z" fill="#6b8e28"/>
<path d="M428.7 95.6l1.6-4.5 1.6-9.4-1.5 3.3z" fill="#8e7e27"/>
<path d="M430.3 91.1l1.7-4 1.5-8-1.6 2.6z" fill="#8f6428"/>
<path d="M421.9 119.2l.9 3.7 1.1 1.4 1.2-.6 1.5-2.3 1.7-10.8 1.9-12.5 1.8-11 1.5-8-1.6 2.6-1.5 3.3-1.6 4-1.7 4.4-1.8 12-1.7 11-1.2 5.5z" class="m"/>
<path d="M386.4 63.1l4.5 1.3 3.6-3.7-4.5-1.6z" fill="#ff3331"/>
<path d="M386.4 63.1l4.5 1.3 3.6-3.7-4.5-1.6z" class="m"/>
<path d="M425.4 126.7l1.2-.4 1.5-8.4-1.5 3.5-1.2 5.3z" fill="#612899"/>
<path d="M424.9 124.1l.9 3.4 .8-1.2-1.2 .4 0 0z" fill="#9b2ee2"/>
<path d="M425.8 127.5l.7 1 .5 0 1-4.2-1.4 2z" fill="#882cc2"/>
<path d="M428 129l.1 0 1.5-7.9-1.6 3.2-1 4.2z" fill="#67299c"/>
<path d="M427.4 129.5l.5 .9 .8-.1 .8-2.9-1.4 1.6z" fill="#a62fe9"/>
<path d="M426.5 126.1l.9 3.4 .7-.5-.1 0-1.2-.2z" fill="#2d2035"/>
<path d="M426.6 126.3l1.4-2 1.8-10.6-1.7 4.2z" fill="#462894"/>
<path d="M425.7 121.2l.8 4.9 .3 2.7-.3-.3-.7-1z" fill="#2c2137"/>
<path d="M428.1 129l1.4-1.6 1.7-10.2-1.6 3.9z" fill="#522896"/>
<path d="M427.3 122.9l.8 4.8 .3 3.1-.5-.4-.5-.9z" fill="#2c2138"/>
<path d="M428 124.3l1.6-3.2 1.9-12-1.7 4.6z" fill="#283392"/>
<path d="M425.1 115.4l.6 5.8 .1 6.3-.9-3.4z" fill="#262139"/>
<path d="M426.7 117.1l.6 5.8 .1 6.6-.9-3.4z" fill="#26213a"/>
<path d="M429.6 121.1l1.6-3.9 2-12.9-1.7 4.8z" fill="#288291"/>
<path d="M426 110.9l.7 6.2-.2 9-.8-4.9z" fill="#21293a"/>
<path d="M425.3 104.8l.7 6.1-.3 10.3-.6-5.8z" fill="#213a34"/>
<path d="M425.3 104.8L426.0 110.9L426.7 117.1L427.3 122.9L428.1 127.7L428.4 130.8M428.7 130.3L429.5 127.4L431.2 117.2L433.2 104.3L431.5 109.1L429.8 113.7L428.1 117.9L426.6 121.4L425.4 126.7L424.9 124.1L425.1 115.4L425.3 104.8" class="m"/>
<path d="M321.5 90.1l1.5 .7 1.4 .1 1.4-1.3 1.4-2.1 1.5-3.4 1.4-4.2-1.3 3.7-1.4 2.9-1.3 2.4-1.4 1.8-1.6 .3z" fill="#497826"/>
<path d="M324.7 90.7l1.3-1.3 1.4-2.9-1.3 2.4z" fill="#3a8427"/>
<path d="M323.1 91l1.4-.2 1.5-1.4-1.3 1.3z" fill="#41a529"/>
<path d="M326 89.4l1.4-2.1 1.4-3.7-1.4 2.9z" fill="#537e26"/>
<path d="M324.5 90.8l1.4-1 1.5-2.5-1.4 2.1z" fill="#4b8827"/>
<path d="M321.5 90.1l1.5 .7 1.5 0-1.4 .2z" fill="#2c4221"/>
<path d="M327.4 87.3l1.3-3.2 1.4-4.2-1.3 3.7z" fill="#6f7826"/>
<path d="M325.9 89.8l1.3-2.3 1.5-3.4-1.3 3.2z" fill="#3e4c22"/>
<path d="M324.4 90.9l1.4-1.3 1.4-2.1-1.3 2.3z" fill="#3b4d22"/>
<path d="M321.5 90.1l1.5 .7 1.4 .1 1.4-1.3 1.4-2.1 1.5-3.4 1.4-4.2-1.3 3.7-1.4 2.9-1.3 2.4-1.4 1.8-1.6 .3z" class="m"/>
<path d="M286.5 120.9l2.1 .6 2.1-.1 2.5-2.1 2.3-4-1.8 2.5-1.9 1.4-2.5 1.6z" fill="#442aad"/>
<path d="M289.3 120.8l2-.3 2.4-2.7-1.9 1.4z" fill="#532aaf"/>
<path d="M291.3 120.5l1.9-1.2 2.3-4-1.8 2.5z" fill="#33278b"/>
<path d="M286.5 120.9l2.1 .6 2.7-1-2 .3z" fill="#4d2cc7"/>
<path d="M288.6 121.5l2.1-.1 2.5-2.1-1.9 1.2z" fill="#3c2bb4"/>
<path d="M286.5 120.9l2.1 .6 2.1-.1 2.5-2.1 2.3-4-1.8 2.5-1.9 1.4-2.5 1.6z" class="m"/>
<path d="M347.2 62.5l4.4 1.2 4.1-4-4.4-1.2z" fill="#ff3131"/>
<path d="M347.2 62.5l4.4 1.2 4.1-4-4.4-1.2z" class="m"/>
<path d="M415.6 78.4l1 2.4 1 3.4 .9 4.3 .8 5.5-.1 9.5-.1 9.4 .4 4 1.1-4.5-1.4 2.2-1.1-.5-.9-3.6-.6-6.3 0-9.6-.1-8.1-.4-5.3z" fill="#2f2f37"/>
<path d="M418.5 114.2l1 2.7 1.1-4.5-1.4 2.2z" fill="#9030fe"/>
<path d="M417.8 108.9l.7 5.3 .7 .4-1.1-.5z" fill="#272033"/>
<path d="M417.2 101.9l.6 7 .3 5.2-.9-3.6z" fill="#212036"/>
<path d="M418.5 106.5l.6 6.4 .4 4-1-2.7z" fill="#252036"/>
<path d="M416.6 94.6l.6 7.3 0 8.6-.6-6.3z" fill="#213436"/>
<path d="M417.9 99.3l.6 7.2 0 7.7-.7-5.3z" fill="#212b37"/>
<path d="M417.2 92.4l.7 6.9-.1 9.6-.6-7z" fill="#21372c"/>
<path d="M418.6 96.6l.6 6.9-.1 9.4-.6-6.4z" fill="#213735"/>
<path d="M416.5 86.5l.7 5.9 0 9.5-.6-7.3z" fill="#283620"/>
<path d="M417.9 90.4l.7 6.2-.1 9.9-.6-7.2z" fill="#223721"/>
<path d="M417 85.2l.9 5.2 0 8.9-.7-6.9z" fill="#303620"/>
<path d="M418.5 88.5l.8 5.5-.1 9.5-.6-6.9z" fill="#2c3721"/>
<path d="M416.1 81.2l.9 4 .2 7.2-.7-5.9z" fill="#353120"/>
<path d="M417.6 84.2l.9 4.3 .1 8.1-.7-6.2z" fill="#363420"/>
<path d="M416.6 80.8l1 3.4 .3 6.2-.9-5.2z" fill="#352d20"/>
<path d="M415.6 78.4l1 2.4 .4 4.4-.9-4z" fill="#332720"/>
<path d="M415.6 78.4l1 2.4 1 3.4 .9 4.3 .8 5.5-.1 9.5-.1 9.4 .4 4 1.1-4.5-1.4 2.2-1.1-.5-.9-3.6-.6-6.3 0-9.6-.1-8.1-.4-5.3z" class="m"/>
<path d="M390.9 64.4l4.5 3.5 3.7-5.8-4.6-1.4z" fill="#ff4234"/>
<path d="M390.9 64.4l4.5 3.5 3.7-5.8-4.6-1.4z" class="m"/>
<path d="M420.7 88.6l1.6-4.9 1.6-4.1 1.5-3.4 1.5-2.7 1.1-4.5 .9-2 .6 .3 .5 3.1-.9-3.4-1.1-2-1.1-1-1.2-.1-1 2.9-1.1 4.9-1.3 7.2z" fill="#a34329"/>
<path d="M420.7 88.6l1.6-4.9 1.5-8.4-1.5 3.6z" fill="#868627"/>
<path d="M422.3 78.9l1.5-3.6 1.2-5.9-1.4 2.3z" fill="#895a27"/>
<path d="M422.3 83.7l1.6-4.1 1.3-7.1-1.4 2.8z" fill="#886b27"/>
<path d="M428.5 65.8l1 1.5 .5 3.1-.9-3.4z" fill="#322320"/>
<path d="M424.7 66.8l1.3-1.1 .9-1.7-1.2-.1z" fill="#ab312a"/>
<path d="M423.6 71.7l1.4-2.3 1-3.7-1.3 1.1z" fill="#8f3e28"/>
<path d="M426 65.7l1.3-.3 .7-.4-1.1-1z" fill="#fe3630"/>
<path d="M427.3 65.4l1.2 .4 .6 1.2-1.1-2z" fill="#f83b30"/>
<path d="M423.8 75.3l1.4-2.8 1.2-4.7-1.4 1.6z" fill="#8d4727"/>
<path d="M425 69.4l1.4-1.6 .9-2.4-1.3 .3z" fill="#973328"/>
<path d="M423.9 79.6l1.5-3.4 1.2-5.8-1.4 2.1z" fill="#8b5527"/>
<path d="M426.4 67.8l1.3-.8 .8-1.2-1.2-.4z" fill="#c4312c"/>
<path d="M427.7 67l1.2 0 .6 .3-1-1.5z" fill="#ff3932"/>
<path d="M425.2 72.5l1.4-2.1 1.1-3.4-1.3 .8z" fill="#923a28"/>
<path d="M425.4 76.2l1.5-2.7 1.1-4.5-1.4 1.4z" fill="#8f4328"/>
<path d="M426.6 70.4l1.4-1.4 .9-2-1.2 0z" fill="#a13129"/>
<path d="M420.7 88.6l1.6-4.9 1.6-4.1 1.5-3.4 1.5-2.7 1.1-4.5 .9-2 .6 .3 .5 3.1-.9-3.4-1.1-2-1.1-1-1.2-.1-1 2.9-1.1 4.9-1.3 7.2z" class="m"/>
<path d="M426.9 73.5l1.4-2 1.3-1.2 1.3-.3 1.2 .7 .4 2.1 .2 5.4-.2 8.3-.3 10-.4-7.8-.5-7.3-.6-6.3-.7-4.7-.5-3.1-.6-.3-.9 2z" fill="#652e24"/>
<path d="M432 79.7l.5 6.8-.3 10-.4-7.8z" fill="#243620"/>
<path d="M431.3 74.2l.7 5.5-.2 9-.5-7.3z" fill="#343520"/>
<path d="M430.5 70.1l.8 4.1 0 7.2-.6-6.3z" fill="#342d20"/>
<path d="M431.9 73.4l.8 4.8-.2 8.3-.5-6.8z" fill="#353220"/>
<path d="M429.5 67.3l1 2.8 .2 5-.7-4.7z" fill="#332720"/>
<path d="M431 70l.9 3.4 .1 6.3-.7-5.5z" fill="#342a20"/>
<path d="M430 67.9l1 2.1 .3 4.2-.8-4.1z" fill="#322520"/>
<path d="M428.9 67l1.1 .9 .5 2.2-1-2.8z" fill="#332220"/>
<path d="M431.6 70.1l.9 2.7 .2 5.4-.8-4.8z" fill="#342720"/>
<path d="M430.5 68.7l1.1 1.4 .3 3.3-.9-3.4z" fill="#332320"/>
<path d="M428 69l1.3-.6 .7-.5-1.1-.9z" fill="#ef352f"/>
<path d="M429.3 68.4l1.2 .3 .5 1.3-1-2.1z" fill="#f93b30"/>
<path d="M426.9 73.5l1.4-2 1-3.1-1.3 .6z" fill="#953728"/>
<path d="M428.3 71.5l1.3-1.2 .9-1.6-1.2-.3z" fill="#b2322a"/>
<path d="M430.9 70l1.2 .7 .4 2.1-.9-2.7z" fill="#332220"/>
<path d="M429.6 70.3l1.3-.3 .7 .1-1.1-1.4z" fill="#ff3932"/>
<path d="M426.9 73.5l1.4-2 1.3-1.2 1.3-.3 1.2 .7 .4 2.1 .2 5.4-.2 8.3-.3 10-.4-7.8-.5-7.3-.6-6.3-.7-4.7-.5-3.1-.6-.3-.9 2z" class="m"/>
<path d="M369 63.4l4.5 1.2 3.8-4-4.4-1.2z" fill="#ff3131"/>
<path d="M369 63.4l4.5 1.2 3.8-4-4.4-1.2z" class="m"/>
<path d="M334.2 67.2l4.3-1.9 4.3-3.3-4.4-1.9z" fill="#d9392d"/>
<path d="M334.2 67.2l4.3-1.9 4.3-3.3-4.4-1.9z" class="m"/>
<path d="M303.9 74.7l1.1-5.1 1.2-2.4 1.4 .2 1.7 .9 1.9 3.1 1.8 4.2-1.6-4.6-1.7-4.6-1.6-3.6-1.6 .7-1.4 4.3z" fill="#ca4a2c"/>
<path d="M309.5 67.4l1.7 4 1.8 4.2-1.6-4.6z" fill="#c8812c"/>
<path d="M308 64.3l1.5 3.1 1.9 3.6-1.7-4.6z" fill="#d35d2d"/>
<path d="M306.5 63.5l1.5 .8 1.7 2.1-1.6-3.6z" fill="#f64530"/>
<path d="M305.1 67.8l1.3-2.5 1.6-1-1.5-.8z" fill="#a23329"/>
<path d="M307.8 65.8l1.5 2.5 1.9 3.1-1.7-4z" fill="#d9552d"/>
<path d="M303.9 74.7l1.1-5.1 1.4-4.3-1.3 2.5z" fill="#773c26"/>
<path d="M306.4 65.3l1.4 .5 1.7 1.6-1.5-3.1z" fill="#ff4231"/>
<path d="M305 69.6l1.2-2.4 1.6-1.4-1.4-.5z" fill="#9c3229"/>
<path d="M306.2 67.2l1.4 .2 1.7 .9-1.5-2.5z" fill="#ff3f32"/>
<path d="M303.9 74.7l1.1-5.1 1.2-2.4 1.4 .2 1.7 .9 1.9 3.1 1.8 4.2-1.6-4.6-1.7-4.6-1.6-3.6-1.6 .7-1.4 4.3z" class="m"/>
<path d="M351.6 63.7l4.4 1.2 4.1-4-4.4-1.2z" fill="#ff3131"/>
<path d="M351.6 63.7l4.4 1.2 4.1-4-4.4-1.2z" class="m"/>
<path d="M395.4 67.9l4.7 1.1 3.6-6.2-4.6-.7z" fill="#fb4230"/>
<path d="M395.4 67.9l4.7 1.1 3.6-6.2-4.6-.7z" class="m"/>
<path d="M373.5 64.6l4.6 1.3 3.7-4-4.5-1.3z" fill="#ff3131"/>
<path d="M373.5 64.6l4.6 1.3 3.7-4-4.5-1.3z" class="m"/>
<path d="M420.6 112.4l1.5-4.1 1.7-4.9 1.6-5.1 1.7-4.9 1.7-10.1 1.3-7.3 1.2-4.2 .8-1.1-1.2-.7-1.3 .3-1.3 1.2-1.4 2-1.4 7.1-1.6 9.7-1.7 11.6z" fill="#766631"/>
<path d="M420.6 112.4l1.5-4.1 1.8-11.6-1.7 5.2z" fill="#27638a"/>
<path d="M422.1 108.3l1.7-4.9 1.7-11.7-1.6 5z" fill="#278a60"/>
<path d="M422.2 101.9l1.7-5.2 1.7-11-1.7 4.6z" fill="#358927"/>
<path d="M423.8 103.4l1.6-5.1 1.8-11.1-1.7 4.5z" fill="#388a27"/>
<path d="M423.9 96.7l1.6-5 1.6-9.9-1.5 3.9z" fill="#6d8a27"/>
<path d="M423.9 90.3l1.7-4.6 1.4-8.4-1.5 3.3z" fill="#8a7e27"/>
<path d="M425.4 98.3l1.7-4.9 1.7-10.1-1.6 3.9z" fill="#708b27"/>
<path d="M425.5 91.7l1.7-4.5 1.5-8.7-1.6 3.3z" fill="#8b7c27"/>
<path d="M425.5 80.6l1.5-3.3 1.3-5.8-1.4 2z" fill="#8d5127"/>
<path d="M425.6 85.7l1.5-3.9 1.4-7.1-1.5 2.6z" fill="#8c6427"/>
<path d="M427 77.3l1.5-2.6 1.1-4.4-1.3 1.2z" fill="#914028"/>
<path d="M427.1 81.8l1.6-3.3 1.2-5.7-1.4 1.9z" fill="#8e4f28"/>
<path d="M427.2 87.2l1.6-3.9 1.3-7.3-1.4 2.5z" fill="#8d6227"/>
<path d="M428.5 74.7l1.4-1.9 1-2.8-1.3 .3z" fill="#993528"/>
<path d="M429.9 72.8l1.4-1 .8-1.1-1.2-.7z" fill="#c6332c"/>
<path d="M428.7 78.5l1.4-2.5 1.2-4.2-1.4 1z" fill="#933e28"/>
<path d="M420.6 112.4l1.5-4.1 1.7-4.9 1.6-5.1 1.7-4.9 1.7-10.1 1.3-7.3 1.2-4.2 .8-1.1-1.2-.7-1.3 .3-1.3 1.2-1.4 2-1.4 7.1-1.6 9.7-1.7 11.6z" class="m"/>
<path d="M300.4 97.1l.7-4.3 .7-4.4 .8-4.5 .7-4 1-4.9 1-3.9 1.1-2.7 1.2-1-1.1-.4-1 1-.8 2.6-.8 4.1-.9 5.8-.8 5.9-.9 5.6z" fill="#6a4a25"/>
<path d="M300.4 97.1l.7-4.3 .9-5.5-.7 4.7z" fill="#244b22"/>
<path d="M301.3 92l.7-4.7 .9-5.8-.7 4.9z" fill="#384b22"/>
<path d="M302.2 86.4l.7-4.9 .8-5.7-.7 4.7z" fill="#4a4822"/>
<path d="M301.1 92.8l.7-4.4 .9-5.7-.7 4.6z" fill="#3a4a22"/>
<path d="M303 80.5l.7-4.7 1-5.2-.8 4.1z" fill="#705325"/>
<path d="M302 87.3l.7-4.6 .9-5.6-.7 4.4z" fill="#6f6925"/>
<path d="M302.9 81.5l.7-4.4 .9-5.1-.8 3.8z" fill="#715325"/>
<path d="M301.8 88.4l.8-4.5 .9-5.5-.8 4.3z" fill="#706925"/>
<path d="M303.7 75.8l.8-3.8 1-4-.8 2.6z" fill="#754026"/>
<path d="M302.7 82.7l.8-4.3 .9-4.9-.8 3.6z" fill="#725325"/>
<path d="M303.6 77.1l.8-3.6 1-4-.9 2.5z" fill="#764026"/>
<path d="M304.5 72l.9-2.5 1.1-2.5-1 1z" fill="#813326"/>
<path d="M302.6 83.9l.7-4 1-4.9-.8 3.4z" fill="#725425"/>
<path d="M305.4 69.5l1-1.1 1.2-1-1.1-.4z" fill="#b7302b"/>
<path d="M303.5 78.4l.8-3.4 1-3.9-.9 2.4z" fill="#774126"/>
<path d="M304.4 73.5l.9-2.4 1.1-2.7-1 1.1z" fill="#813326"/>
<path d="M300.4 97.1l.7-4.3 .7-4.4 .8-4.5 .7-4 1-4.9 1-3.9 1.1-2.7 1.2-1-1.1-.4-1 1-.8 2.6-.8 4.1-.9 5.8-.8 5.9-.9 5.6z" class="m"/>
<path d="M400.1 69l4.8-.5 3.4-3.2-4.6-2.5z" fill="#fb3e30"/>
<path d="M400.1 69l4.8-.5 3.4-3.2-4.6-2.5z" class="m"/>
<path d="M356 64.9l4.5 1.3 4-4-4.4-1.3z" fill="#ff3131"/>
<path d="M356 64.9l4.5 1.3 4-4-4.4-1.3z" class="m"/>
<path d="M338.5 65.3l4.4 1.2 4.3-4-4.4-.5z" fill="#f23230"/>
<path d="M338.5 65.3l4.4 1.2 4.3-4-4.4-.5z" class="m"/>
<path d="M378.1 65.9l4.5 1.2 3.8-4-4.6-1.2z" fill="#ff3131"/>
<path d="M378.1 65.9l4.5 1.2 3.8-4-4.6-1.2z" class="m"/>
<path d="M404.9 68.5l1.2 0 1.1 .2 1.2 .4 1.2 .6 .8 .2 .7 1.2 .5 2.8 .4 5.2-.7-5.6-1-3.9-1-2.6-1-1.7-.8 .1-.9 .6-.8 1.1z" fill="#d3392d"/>
<path d="M410.7 70.4l.9 3.5 .4 5.2-.7-5.6z" fill="#312a20"/>
<path d="M409.7 68l1 2.4 .6 3.1-1-3.9z" fill="#302520"/>
<path d="M408.6 66.4l1.1 1.6 .6 1.6-1-2.6z" fill="#e6522f"/>
<path d="M407.5 65.4l1.1 1 .7 .6-1-1.7z" fill="#ff4431"/>
<path d="M410 68.9l1.1 2.2 .5 2.8-.9-3.5z" fill="#302520"/>
<path d="M408.9 67.5l1.1 1.4 .7 1.5-1-2.4z" fill="#e94e2f"/>
<path d="M407.8 66.6l1.1 .9 .8 .5-1.1-1.6z" fill="#ff4131"/>
<path d="M406.6 66l1.2 .6 .8-.2-1.1-1z" fill="#ff3932"/>
<path d="M409.2 68.6l1.2 1.3 .7 1.2-1.1-2.2z" fill="#ee492f"/>
<path d="M405.8 67.1l1.1 .2 .9-.7-1.2-.6z" fill="#ff3331"/>
<path d="M406.9 67.3l1.2 .5 .8-.3-1.1-.9z" fill="#ff3732"/>
<path d="M408.1 67.8l1.1 .8 .8 .3-1.1-1.4z" fill="#ff3e31"/>
<path d="M404.9 68.5l1.2 0 .8-1.2-1.1-.2z" fill="#eb312f"/>
<path d="M406.1 68.5l1.1 .2 .9-.9-1.2-.5z" fill="#ff3231"/>
<path d="M407.2 68.7l1.2 .4 .8-.5-1.1-.8z" fill="#ff3532"/>
<path d="M408.4 69.1l1.2 .6 .8 .2-1.2-1.3z" fill="#ff3b31"/>
<path d="M404.9 68.5l1.2 0 1.1 .2 1.2 .4 1.2 .6 .8 .2 .7 1.2 .5 2.8 .4 5.2-.7-5.6-1-3.9-1-2.6-1-1.7-.8 .1-.9 .6-.8 1.1z" class="m"/>
<path d="M360.5 66.2l4.5 1.2 4-4-4.5-1.2z" fill="#ff3131"/>
<path d="M360.5 66.2l4.5 1.2 4-4-4.5-1.2z" class="m"/>
<path d="M423.4 121.8l.9 3.5 .8-1.6-1.2 .6z" fill="#9c2feb"/>
<path d="M424.3 125.3l1 1.4 .1 0 1.2-5.3-1.5 2.3z" fill="#7a2ab2"/>
<path d="M422.7 116.7l.7 5.1 .5 2.5-1.1-1.4z" fill="#2b2036"/>
<path d="M424.2 119.2l.7 4.9 .5 2.6-.1 0-1-1.4z" fill="#2b2137"/>
<path d="M422 110.4l.7 6.3 .1 6.2-.9-3.7z" fill="#242138"/>
<path d="M423.5 113.1l.7 6.1 .1 6.1-.9-3.5z" fill="#262139"/>
<path d="M422.9 106.6l.6 6.5-.1 8.7-.7-5.1z" fill="#212b39"/>
<path d="M424.4 109l.7 6.4-.2 8.7-.7-4.9z" fill="#212939"/>
<path d="M422.2 100.2l.7 6.4-.2 10.1-.7-6.3z" fill="#213931"/>
<path d="M423.7 102.7l.7 6.3-.2 10.2-.7-6.1z" fill="#213933"/>
<path d="M423 97l.7 5.7-.2 10.4-.6-6.5z" fill="#233921"/>
<path d="M424.6 99.1l.7 5.7-.2 10.6-.7-6.4z" fill="#223a21"/>
<path d="M422.2 92.1l.8 4.9-.1 9.6-.7-6.4z" fill="#323821"/>
<path d="M423.8 94.1l.8 5-.2 9.9-.7-6.3z" fill="#313921"/>
<path d="M422.8 90.1l1 4-.1 8.6-.7-5.7z" fill="#383521"/>
<path d="M421.8 87l1 3.1 .2 6.9-.8-4.9z" fill="#372e21"/>
<path d="M421.8 87.0L422.8 90.1L423.8 94.1L424.6 99.1L425.3 104.8L425.1 115.4L424.9 124.1L425.4 126.7L426.6 121.4L425.1 123.7L423.9 124.3L422.8 122.9L421.9 119.2L422.0 110.4L422.2 100.2L422.2 92.1L421.8 87.0" class="m"/>
<path d="M290.7 121.4l1-.3 1-.6 .9-.8 1-1.1 1.2-2.3 1.1-2.9 1-3.5 1.1-4-.9 2.8-.8 2.5-.9 2.2-.9 1.9-1.1 2.2-1.2 1.8-1.2 1.3z" fill="#274d84"/>
<path d="M294.4 117.5l.9-1.4 1.1-2.7-.9 1.9z" fill="#263881"/>
<path d="M293.2 119.3l.9-1 1.2-2.2-.9 1.4z" fill="#272987"/>
<path d="M292 120.6l.9-.6 1.2-1.7-.9 1z" fill="#2a2892"/>
<path d="M295.3 116.1l.9-1.7 1.1-3.2-.9 2.2z" fill="#26567d"/>
<path d="M294.1 118.3l1-1.3 1.1-2.6-.9 1.7z" fill="#274282"/>
<path d="M290.7 121.4l1-.3 1.2-1.1-.9 .6z" fill="#2d2aa8"/>
<path d="M292.9 120l1-1 1.2-2-1 1.3z" fill="#273688"/>
<path d="M291.7 121.1l1-.6 1.2-1.5-1 1z" fill="#283298"/>
<path d="M295.1 117l.9-1.6 1.1-3.1-.9 2.1z" fill="#265f7e"/>
<path d="M296.2 114.4l.9-2.1 1-3.6-.8 2.5z" fill="#26777a"/>
<path d="M293.9 119l.9-1.2 1.2-2.4-.9 1.6z" fill="#274e84"/>
<path d="M292.7 120.5l.9-.8 1.2-1.9-.9 1.2z" fill="#27458a"/>
<path d="M296 115.4l.9-2 1-3.5-.8 2.4z" fill="#267b78"/>
<path d="M294.8 117.8l1-1.5 1.1-2.9-.9 2z" fill="#266980"/>
<path d="M297.1 112.3l.8-2.4 1.1-4-.9 2.8z" fill="#267858"/>
<path d="M293.6 119.7l1-1.1 1.2-2.3-1 1.5z" fill="#275b85"/>
<path d="M290.7 121.4l1-.3 1-.6 .9-.8 1-1.1 1.2-2.3 1.1-2.9 1-3.5 1.1-4-.9 2.8-.8 2.5-.9 2.2-.9 1.9-1.1 2.2-1.2 1.8-1.2 1.3z" class="m"/>
<path d="M382.6 67.1l4.6 1.3 3.7-4-4.5-1.3z" fill="#ff3131"/>
<path d="M382.6 67.1l4.6 1.3 3.7-4-4.5-1.3z" class="m"/>
<path d="M342.9 66.5l4.5 1.2 4.2-4-4.4-1.2z" fill="#ff3131"/>
<path d="M342.9 66.5l4.5 1.2 4.2-4-4.4-1.2z" class="m"/>
<path d="M330.1 79.9l1.3-4.1 1.3-3.3 1.4-1.9 1.5-2 1.4-1.8 1.5-1.5-1.5-.2-1.4 .5-1.4 1.6-1.4 3.8-1.4 4.4z" fill="#933c28"/>
<path d="M332.8 71l1.4-2.5 1.4-2.9-1.4 1.6z" fill="#843b27"/>
<path d="M331.4 75.4l1.4-3.5 1.4-3.4-1.4 2.5z" fill="#7c4626"/>
<path d="M330.1 79.9l1.3-4.1 1.4-3.9-1.4 3.5z" fill="#775326"/>
<path d="M334.2 68.5l1.4-1.4 1.4-2-1.4 .5z" fill="#a03429"/>
<path d="M332.8 71.9l1.3-2.3 1.5-2.5-1.4 1.4z" fill="#873827"/>
<path d="M335.6 67.1l1.4-.3 1.5-1.5-1.5-.2z" fill="#d3312d"/>
<path d="M331.4 75.8l1.3-3.3 1.4-2.9-1.3 2.3z" fill="#7d4126"/>
<path d="M334.1 69.6l1.5-1 1.4-1.8-1.4 .3z" fill="#af332a"/>
<path d="M332.7 72.5l1.4-1.9 1.5-2-1.5 1z" fill="#8c3427"/>
<path d="M330.1 79.9l1.3-4.1 1.3-3.3 1.4-1.9 1.5-2 1.4-1.8 1.5-1.5-1.5-.2-1.4 .5-1.4 1.6-1.4 3.8-1.4 4.4z" class="m"/>
<path d="M433.5 79.1l1.4-1.7 1.3-.8 1.3 .4 1.1 1.7 .1 5.2-.3 9.2-.6 10.8-.4 9.2-.5-5.9-.5-7-.4-7.3-.5-6.8 .1-7.6-.3-3.8-.7 .2z" fill="#452f24"/>
<path d="M437.4 96.7l.4 7.2-.4 9.2-.5-5.9z" fill="#212f38"/>
<path d="M436.9 89.7l.5 7-.5 10.5-.5-7z" fill="#213829"/>
<path d="M436.3 83.5l.6 6.2-.5 10.5-.4-7.3z" fill="#2b3821"/>
<path d="M437.8 86.6l.6 6.5-.6 10.8-.4-7.2z" fill="#273821"/>
<path d="M435.6 78.5l.7 5-.3 9.4-.5-6.8z" fill="#373521"/>
<path d="M437.1 81.3l.7 5.3-.4 10.1-.5-7z" fill="#373821"/>
<path d="M436.3 77.3l.8 4-.2 8.4-.6-6.2z" fill="#372f21"/>
<path d="M437.9 79.6l.8 4.3-.3 9.2-.6-6.5z" fill="#383121"/>
<path d="M435.3 74.7l1 2.6 0 6.2-.7-5z" fill="#352820"/>
<path d="M436.9 76.7l1 2.9-.1 7-.7-5.3z" fill="#362921"/>
<path d="M435.8 75.2l1.1 1.5 .2 4.6-.8-4z" fill="#352420"/>
<path d="M434.6 74.9l1.2 .3 .5 2.1-1-2.6z" fill="#352220"/>
<path d="M437.5 77l1.1 1.7 .1 5.2-.8-4.3z" fill="#352520"/>
<path d="M433.5 79.1l1.4-1.7 .9-2.2-1.2-.3z" fill="#a33329"/>
<path d="M436.2 76.6l1.3 .4 .4 2.6-1-2.9z" fill="#352220"/>
<path d="M434.9 77.4l1.3-.8 .7 .1-1.1-1.5z" fill="#ff3b31"/>
<path d="M433.5 79.1l1.4-1.7 1.3-.8 1.3 .4 1.1 1.7 .1 5.2-.3 9.2-.6 10.8-.4 9.2-.5-5.9-.5-7-.4-7.3-.5-6.8 .1-7.6-.3-3.8-.7 .2z" class="m"/>
<path d="M295.5 115.3l.9-1.9 .9-2.2 .8-2.5 .9-2.8 .9-4.5 1-4.8 1-5 .9-5-.8 3.3-.8 3.6-.8 3.8-.7 3.6-1 4.4-1 3.8-1.1 3.4z" fill="#357044"/>
<path d="M295.5 115.3l.9-1.9 1.1-3.2-.9 2.3z" fill="#264d7c"/>
<path d="M296.6 112.5l.9-2.3 1-3.8-.8 2.7z" fill="#266978"/>
<path d="M297.7 109.1l.8-2.7 1-4.3-.8 3.2z" fill="#267562"/>
<path d="M298.7 105.3l.8-3.2 .9-4.8-.7 3.6z" fill="#25733b"/>
<path d="M296.4 113.4l.9-2.2 1-3.7-.8 2.7z" fill="#267079"/>
<path d="M297.5 110.2l.8-2.7 1-4.2-.8 3.1z" fill="#26765e"/>
<path d="M298.5 106.4l.8-3.1 1-4.7-.8 3.5z" fill="#257438"/>
<path d="M299.5 102.1l.8-3.5 .9-5.1-.8 3.8z" fill="#377225"/>
<path d="M297.3 111.2l.8-2.5 1-4.1-.8 2.9z" fill="#26775b"/>
<path d="M298.3 107.5l.8-2.9 1-4.6-.8 3.3z" fill="#257535"/>
<path d="M299.3 103.3l.8-3.3 1-5-.8 3.6z" fill="#397325"/>
<path d="M298.1 108.7l.9-2.8 .9-4.5-.8 3.2z" fill="#267633"/>
<path d="M300.3 98.6l.8-3.6 .9-5.1-.8 3.6z" fill="#5a7325"/>
<path d="M299.1 104.6l.8-3.2 1-4.8-.8 3.4z" fill="#3a7425"/>
<path d="M300.1 100l.8-3.4 1-5-.8 3.4z" fill="#5a7425"/>
<path d="M301.1 95l.8-3.4 .9-5-.8 3.3z" fill="#746e25"/>
<path d="M295.5 115.3l.9-1.9 .9-2.2 .8-2.5 .9-2.8 .9-4.5 1-4.8 1-5 .9-5-.8 3.3-.8 3.6-.8 3.8-.7 3.6-1 4.4-1 3.8-1.1 3.4z" class="m"/>
<path d="M391.9 70.6l2.2 3 2.1 4.6 1.9-4.2 2-5-2.4-.1-2.3-1-1.8 1.8z" fill="#ff7134"/>
<path d="M393.6 69.7l2.2 3 1.9-3.8-2.3-1z" fill="#ff6b36"/>
<path d="M395.8 72.7l2.3 1.3 2-5-2.4-.1z" fill="#ff6b32"/>
<path d="M394.1 73.6l2.1 4.6 1.9-4.2-2.3-1.3z" fill="#ff9136"/>
<path d="M391.9 70.6l2.2 3 1.7-.9-2.2-3z" fill="#ff5e33"/>
<path d="M391.9 70.6l2.2 3 2.1 4.6 1.9-4.2 2-5-2.4-.1-2.3-1-1.8 1.8z" class="m"/>
<path d="M387.2 68.4l4.7 2.2 3.5-2.7-4.5-3.5z" fill="#ff4033"/>
<path d="M387.2 68.4l4.7 2.2 3.5-2.7-4.5-3.5z" class="m"/>
<path d="M365 67.4l4.6 1.3 3.9-4.1-4.5-1.2z" fill="#ff3131"/>
<path d="M365 67.4l4.6 1.3 3.9-4.1-4.5-1.2z" class="m"/>
<path d="M275.4 107.4l1.2 2.4 1.3 2 1.2 1.8 1.2 1.5 1.7 2.3 1.6 1.7 1.5 1.2 1.4 .6-1-.5-1.1-.7-1.1-.8-1.1-1-1.6-1.6-1.6-2.2-1.8-3z" fill="#243459"/>
<path d="M280.6 116.3l1.2 1.3 1.5 1.3-1.1-1z" fill="#2b41bf"/>
<path d="M281.8 117.6l1.1 1 1.5 1.1-1.1-.8z" fill="#2c31c1"/>
<path d="M282.9 118.6l1.1 .9 1.5 .9-1.1-.7z" fill="#2d2cc2"/>
<path d="M284 119.5l1.1 .8 1.4 .6-1-.5z" fill="#312cc2"/>
<path d="M280.1 115.7l1.2 1.3 1.6 1.6-1.1-1z" fill="#212e3b"/>
<path d="M281.3 117l1.1 1.2 1.6 1.3-1.1-.9z" fill="#212b3c"/>
<path d="M279 114.1l1.1 1.6 1.7 1.9-1.2-1.3z" fill="#21313a"/>
<path d="M282.4 118.2l1.2 .9 1.5 1.2-1.1-.8z" fill="#21283d"/>
<path d="M280.8 116.2l1.2 1.2 1.6 1.7-1.2-.9z" fill="#21353c"/>
<path d="M279.6 114.7l1.2 1.5 1.6 2-1.1-1.2z" fill="#21383b"/>
<path d="M278.4 113.1l1.2 1.6 1.7 2.3-1.2-1.3z" fill="#213b3a"/>
<path d="M277.2 111.1l1.2 2 1.7 2.6-1.1-1.6z" fill="#213a34"/>
<path d="M279.1 113.6l1.2 1.5 1.7 2.3-1.2-1.2z" fill="#213c35"/>
<path d="M277.9 111.8l1.2 1.8 1.7 2.6-1.2-1.5z" fill="#213b30"/>
<path d="M276.6 109.8l1.3 2 1.7 2.9-1.2-1.6z" fill="#213a2a"/>
<path d="M275.4 107.4l1.2 2.4 1.8 3.3-1.2-2z" fill="#213924"/>
<path d="M275.4 107.4l1.2 2.4 1.3 2 1.2 1.8 1.2 1.5 1.7 2.3 1.6 1.7 1.5 1.2 1.4 .6-1-.5-1.1-.7-1.1-.8-1.1-1-1.6-1.6-1.6-2.2-1.8-3z" class="m"/>
<path d="M396.2 78.2l1.5 2.2 1.5 .4 1.7-.8 1.4-5.3 1.3-3.6 1.3-2.6-1.6 .1-1.6 .2-1.6 .2-1.3 3.2-1.3 3.7z" fill="#cd622d"/>
<path d="M398.8 72.2l1.6-.3 1.3-3.1-1.6 .2z" fill="#cd4b2d"/>
<path d="M397.5 75.9l1.5 .2 1.4-4.2-1.6 .3z" fill="#e36b2e"/>
<path d="M400.4 71.9l1.6-.4 1.3-2.9-1.6 .2z" fill="#c5422c"/>
<path d="M396.2 78.2l1.5 2.2 1.3-4.3-1.5-.2z" fill="#ffb936"/>
<path d="M399 76.1l1.7-.6 1.3-4-1.6 .4z" fill="#bd562b"/>
<path d="M402 71.5l1.6-.4 1.3-2.6-1.6 .1z" fill="#c63b2c"/>
<path d="M397.7 80.4l1.5 .4 1.5-5.3-1.7 .6z" fill="#dd862e"/>
<path d="M400.7 75.5l1.6-.8 1.3-3.6-1.6 .4z" fill="#b64a2b"/>
<path d="M399.2 80.8l1.7-.8 1.4-5.3-1.6 .8z" fill="#ae642a"/>
<path d="M396.2 78.2l1.5 2.2 1.5 .4 1.7-.8 1.4-5.3 1.3-3.6 1.3-2.6-1.6 .1-1.6 .2-1.6 .2-1.3 3.2-1.3 3.7z" class="m"/>
<path d="M347.4 67.7l4.4 1.3 4.2-4.1-4.4-1.2z" fill="#ff3131"/>
<path d="M347.4 67.7l4.4 1.3 4.2-4.1-4.4-1.2z" class="m"/>
<path d="M316.4 83.5l1.5 2 1.5 1.7 1.5 1 1.7 1.4 1.6 .6 1.6-.6-1.4 1.3-1.4-.1-1.5-.7-1.7-1.9-1.7-2.3z" fill="#3a3e21"/>
<path d="M319.8 88.2l1.5 1.4 1.7 1.2-1.5-.7z" fill="#323c21"/>
<path d="M321.3 89.6l1.5 .9 1.6 .4-1.4-.1z" fill="#323f21"/>
<path d="M322.8 90.5l1.4-.3 1.6-.6-1.4 1.3z" fill="#3e4e22"/>
<path d="M318.1 85.9l1.5 1.8 1.7 1.9-1.5-1.4z" fill="#393a21"/>
<path d="M319.6 87.7l1.5 1.5 1.7 1.3-1.5-.9z" fill="#383c21"/>
<path d="M321.1 89.2l1.5 .4 1.6 .6-1.4 .3z" fill="#424722"/>
<path d="M317.9 85.5l1.5 1.7 1.7 2-1.5-1.5z" fill="#3a3621"/>
<path d="M316.4 83.5l1.5 2 1.7 2.2-1.5-1.8z" fill="#383221"/>
<path d="M319.4 87.2l1.5 1 1.7 1.4-1.5-.4z" fill="#3f3c21"/>
<path d="M316.4 83.5l1.5 2 1.5 1.7 1.5 1 1.7 1.4 1.6 .6 1.6-.6-1.4 1.3-1.4-.1-1.5-.7-1.7-1.9-1.7-2.3z" class="m"/>
<path d="M280.3 115.1l1.6 1.8 1.5 1.4 1.5 1.2 2.1 1.6 1.9 .6 1.8-.3-1.4 .2-1.4-.2-1.4-.5-1.9-.9-2.1-1.9z" fill="#263069"/>
<path d="M284.6 120l1.4 .8 1.9 .6-1.4-.5z" fill="#2f2bbf"/>
<path d="M286 120.8l1.5 .6 1.8 .2-1.4-.2z" fill="#302bbf"/>
<path d="M287.5 121.4l1.4 .3 1.8-.3-1.4 .2z" fill="#2c2bbf"/>
<path d="M282.5 118.1l1.5 1.2 2 1.5-1.4-.8z" fill="#212c3e"/>
<path d="M284 119.3l1.5 1 2 1.1-1.5-.6z" fill="#212b3f"/>
<path d="M285.5 120.3l1.5 .8 1.9 .6-1.4-.3z" fill="#212a40"/>
<path d="M280.3 115.1l1.6 1.8 2.1 2.4-1.5-1.2z" fill="#213d3c"/>
<path d="M281.9 116.9l1.5 1.4 2.1 2-1.5-1z" fill="#213a3e"/>
<path d="M283.4 118.3l1.5 1.2 2.1 1.6-1.5-.8z" fill="#21383f"/>
<path d="M280.3 115.1l1.6 1.8 1.5 1.4 1.5 1.2 2.1 1.6 1.9 .6 1.8-.3-1.4 .2-1.4-.2-1.4-.5-1.9-.9-2.1-1.9z" class="m"/>
<path d="M311.7 76.8l1.1 1.7 1.2 1.7 1.2 1.7 1.2 1.6 1.3 1.8 1.3 1.8 1.3 1.7 1.2 1.3-1.1-.9-1.1-1.2-1.1-1.5-1.2-1.8-1.3-2.3-1.3-2.2-1.4-2z" fill="#785826"/>
<path d="M319.1 87.5l1.2 1.3 1.2 1.3-1.1-.9z" fill="#313b21"/>
<path d="M318 86l1.1 1.5 1.3 1.7-1.1-1.2z" fill="#333921"/>
<path d="M316.9 84.3l1.1 1.7 1.3 2-1.1-1.5z" fill="#353821"/>
<path d="M315.7 82.4l1.2 1.9 1.3 2.2-1.2-1.8z" fill="#373721"/>
<path d="M317.8 85.6l1.2 1.5 1.3 1.7-1.2-1.3z" fill="#383921"/>
<path d="M316.7 83.9l1.1 1.7 1.3 1.9-1.1-1.5z" fill="#383721"/>
<path d="M315.5 82.1l1.2 1.8 1.3 2.1-1.1-1.7z" fill="#373421"/>
<path d="M316.5 83.7l1.2 1.6 1.3 1.8-1.2-1.5z" fill="#383421"/>
<path d="M315.4 81.9l1.1 1.8 1.3 1.9-1.1-1.7z" fill="#373121"/>
<path d="M314.2 80.1l1.2 1.8 1.3 2-1.2-1.8z" fill="#c98f2c"/>
<path d="M313 78.2l1.2 1.9 1.3 2-1.1-1.9z" fill="#cc802c"/>
<path d="M315.2 81.9l1.2 1.6 1.3 1.8-1.2-1.6z" fill="#ca8e2c"/>
<path d="M314 80.2l1.2 1.7 1.3 1.8-1.1-1.8z" fill="#cd812d"/>
<path d="M312.8 78.5l1.2 1.7 1.4 1.7-1.2-1.8z" fill="#d1732d"/>
<path d="M311.7 76.8l1.1 1.7 1.4 1.6-1.2-1.9z" fill="#d6652d"/>
<path d="M311.7 76.8l1.1 1.7 1.2 1.7 1.2 1.7 1.2 1.6 1.3 1.8 1.3 1.8 1.3 1.7 1.2 1.3-1.1-.9-1.1-1.2-1.1-1.5-1.2-1.8-1.3-2.3-1.3-2.2-1.4-2z" class="m"/>
<path d="M325.8 89.6l1-2.3 .9-3.1 1-3.3 1-3 1.1-1.9 1.1-1.9 1.1-1.8 1.1-1.7-1 1.3-1.1 2.1-1 2.8-.9 3.1-1.1 3.2-1 2.8-1.1 2.2z" fill="#533f23"/>
<path d="M329 83.1l1-3.2 1-3.1-.9 3.1z" fill="#4e4422"/>
<path d="M328 85.9l.9-3.1 1.1-2.9-1 3.2z" fill="#504b23"/>
<path d="M326.9 88.1l1-2.8 1-2.5-.9 3.1z" fill="#4f5123"/>
<path d="M325.8 89.6l1-2.3 1.1-2-1 2.8z" fill="#4c5323"/>
<path d="M330 79.9l1-3.2 1-2.7-1 2.8z" fill="#4e3a22"/>
<path d="M328.9 82.8l1-3.4 1.1-2.7-1 3.2z" fill="#504123"/>
<path d="M327.9 85.3l.9-3.3 1.1-2.6-1 3.4z" fill="#524723"/>
<path d="M326.8 87.3l.9-3.1 1.1-2.2-.9 3.3z" fill="#544d23"/>
<path d="M331 76.7l1-2.6 1.1-2.2-1.1 2.1z" fill="#4c3022"/>
<path d="M329.9 79.4l1-3 1.1-2.3-1 2.6z" fill="#4f3623"/>
<path d="M328.8 82l1-3.3 1.1-2.3-1 3z" fill="#523b23"/>
<path d="M327.7 84.2l1-3.3 1.1-2.2-1 3.3z" fill="#544123"/>
<path d="M332 74.1l1-1.8 1.1-1.7-1 1.3z" fill="#843727"/>
<path d="M330.9 76.4l1-2.3 1.1-1.8-1 1.8z" fill="#4c2c22"/>
<path d="M329.8 78.7l1-2.7 1.1-1.9-1 2.3z" fill="#503023"/>
<path d="M328.7 80.9l1-3 1.1-1.9-1 2.7z" fill="#523523"/>
<path d="M325.8 89.6l1-2.3 .9-3.1 1-3.3 1-3 1.1-1.9 1.1-1.9 1.1-1.8 1.1-1.7-1 1.3-1.1 2.1-1 2.8-.9 3.1-1.1 3.2-1 2.8-1.1 2.2z" class="m"/>
<path d="M369.6 68.7l4.6 1.3 3.9-4.1-4.6-1.3z" fill="#ff3131"/>
<path d="M369.6 68.7l4.6 1.3 3.9-4.1-4.6-1.3z" class="m"/>
<path d="M269.8 95l1.5 3.5 1.4 3.3 1.3 3 1.4 2.6 1.8 3.7 1.8 3 1.6 2.2 1.6 1.6-1.1-1.2-1.2-1.3-1.2-1.6-1.2-1.9-1.7-3.1-1.9-4-2-4.8z" fill="#274a4d"/>
<path d="M279.4 114.8l1.2 1.5 1.6 1.6-1.1-1.2z" fill="#2b56bd"/>
<path d="M278.3 113.1l1.1 1.7 1.7 1.9-1.2-1.3z" fill="#2b6fbb"/>
<path d="M277 111.1l1.3 2 1.6 2.3-1.2-1.6z" fill="#2b8cb9"/>
<path d="M275.8 108.8l1.2 2.3 1.7 2.7-1.2-1.9z" fill="#2bafb6"/>
<path d="M277.7 112.3l1.3 1.8 1.6 2.2-1.2-1.5z" fill="#21353a"/>
<path d="M276.5 110.1l1.2 2.2 1.7 2.5-1.1-1.7z" fill="#213937"/>
<path d="M275.2 107.7l1.3 2.4 1.8 3-1.3-2z" fill="#213830"/>
<path d="M273.9 104.8l1.3 2.9 1.8 3.4-1.2-2.3z" fill="#213729"/>
<path d="M275.9 108.9l1.3 2.2 1.8 3-1.3-1.8z" fill="#21392e"/>
<path d="M274.6 106.3l1.3 2.6 1.8 3.4-1.2-2.2z" fill="#213827"/>
<path d="M273.3 103.3l1.3 3 1.9 3.8-1.3-2.4z" fill="#223721"/>
<path d="M271.9 100l1.4 3.3 1.9 4.4-1.3-2.9z" fill="#283721"/>
<path d="M274 104.8l1.4 2.6 1.8 3.7-1.3-2.2z" fill="#243821"/>
<path d="M272.7 101.8l1.3 3 1.9 4.1-1.3-2.6z" fill="#293821"/>
<path d="M271.3 98.5l1.4 3.3 1.9 4.5-1.3-3z" fill="#303721"/>
<path d="M269.8 95l1.5 3.5 2 4.8-1.4-3.3z" fill="#363721"/>
<path d="M269.8 95l1.5 3.5 1.4 3.3 1.3 3 1.4 2.6 1.8 3.7 1.8 3 1.6 2.2 1.6 1.6-1.1-1.2-1.2-1.3-1.2-1.6-1.2-1.9-1.7-3.1-1.9-4-2-4.8z" class="m"/>
<path d="M427.1 93.4l1.7-4.4 1.6-4 1.5-3.3 1.6-2.6 1.1-4.2 .7-.2 .3 3.8-.1 7.6-.7-5.9-.8-4.6-.9-3.1-1-1.8-.8 1.1-1.2 4.2-1.3 7.3z" fill="#943d28"/>
<path d="M434.7 74.9l.9 3.6-.1 7.6-.7-5.9z" fill="#362c20"/>
<path d="M427.1 93.4l1.7-4.4 1.5-9-1.5 3.3z" fill="#8c7c27"/>
<path d="M433.7 72.7l1 2.2 .1 5.3-.8-4.6z" fill="#342620"/>
<path d="M432.5 71.7l1.2 1 .3 2.9-.9-3.1z" fill="#342320"/>
<path d="M431.3 71.8l1.2-.1 .6 .8-1-1.8z" fill="#ff3b31"/>
<path d="M428.8 83.3l1.5-3.3 1.3-5.8-1.5 1.8z" fill="#904d28"/>
<path d="M428.8 89l1.6-4 1.4-7.5-1.5 2.5z" fill="#8e6228"/>
<path d="M430.1 76l1.5-1.8 .9-2.5-1.2 .1z" fill="#9c3329"/>
<path d="M434.1 73.4l1.2 1.3 .3 3.8-.9-3.6z" fill="#342420"/>
<path d="M431.6 74.2l1.3-.9 .8-.6-1.2-1z" fill="#dd352e"/>
<path d="M432.9 73.3l1.2 .1 .6 1.5-1-2.2z" fill="#f43c30"/>
<path d="M430.3 80l1.5-2.5 1.1-4.2-1.3 .9z" fill="#953d28"/>
<path d="M430.4 85l1.5-3.3 1.3-6-1.4 1.8z" fill="#914d28"/>
<path d="M431.8 77.5l1.4-1.8 .9-2.3-1.2-.1z" fill="#9f3329"/>
<path d="M433.2 75.7l1.4-.8 .7-.2-1.2-1.3z" fill="#f73830"/>
<path d="M431.9 81.7l1.6-2.6 1.1-4.2-1.4 .8z" fill="#963d28"/>
<path d="M427.1 93.4l1.7-4.4 1.6-4 1.5-3.3 1.6-2.6 1.1-4.2 .7-.2 .3 3.8-.1 7.6-.7-5.9-.8-4.6-.9-3.1-1-1.8-.8 1.1-1.2 4.2-1.3 7.3z" class="m"/>
<path d="M351.8 69l4.6 1.3 4.1-4.1-4.5-1.3z" fill="#ff3131"/>
<path d="M351.8 69l4.6 1.3 4.1-4.1-4.5-1.3z" class="m"/>
<path d="M334.1 70.6l4.4 0 4.4-4.1-4.4-1.2z" fill="#ed332f"/>
<path d="M334.1 70.6l4.4 0 4.4-4.1-4.4-1.2z" class="m"/>
<path d="M307.1 72.6l1.1 .4 1.1 1 1.2 1.3 1.2 1.5 1.3 1.4 1.4 2 1.3 2.2 1.3 2.3-1.1-2-1.2-2.2-1.2-2.3-1.2-2.5-1.3-2.1-1.4-1.4-1.3-.4z" fill="#d0622d"/>
<path d="M314.5 80.3l1.2 2.1 1.3 2.3-1.1-2z" fill="#363320"/>
<path d="M313.3 78.1l1.2 2.2 1.4 2.4-1.2-2.2z" fill="#c69d2c"/>
<path d="M312.2 75.8l1.1 2.3 1.4 2.4-1.2-2.3z" fill="#c88a2c"/>
<path d="M311 73.6l1.2 2.2 1.3 2.4-1.2-2.5z" fill="#cc762c"/>
<path d="M313.2 78.1l1.2 2.1 1.3 2.2-1.2-2.1z" fill="#c88e2c"/>
<path d="M312 76l1.2 2.1 1.3 2.2-1.2-2.2z" fill="#cc7d2c"/>
<path d="M310.8 74l1.2 2 1.3 2.1-1.1-2.3z" fill="#d16b2d"/>
<path d="M309.6 72.2l1.2 1.8 1.4 1.8-1.2-2.2z" fill="#d95a2d"/>
<path d="M311.8 76.4l1.2 1.8 1.4 2-1.2-2.1z" fill="#d0712d"/>
<path d="M310.6 74.6l1.2 1.8 1.4 1.7-1.2-2.1z" fill="#d7612d"/>
<path d="M309.5 73l1.1 1.6 1.4 1.4-1.2-2z" fill="#e0522e"/>
<path d="M308.3 71.8l1.2 1.2 1.3 1-1.2-1.8z" fill="#ef442f"/>
<path d="M310.5 75.3l1.2 1.5 1.3 1.4-1.2-1.8z" fill="#de572e"/>
<path d="M307.1 72.6l1.1 .4 1.3 0-1.2-1.2z" fill="#ff3832"/>
<path d="M309.3 74l1.2 1.3 1.3 1.1-1.2-1.8z" fill="#e94a2f"/>
<path d="M308.2 73l1.1 1 1.3 .6-1.1-1.6z" fill="#fa3f30"/>
<path d="M307.1 72.6l1.1 .4 1.1 1 1.2 1.3 1.2 1.5 1.3 1.4 1.4 2 1.3 2.2 1.3 2.3-1.1-2-1.2-2.2-1.2-2.3-1.2-2.5-1.3-2.1-1.4-1.4-1.3-.4z" class="m"/>
<path d="M303.3 79.9l1.2-4.1 1.2-2.4 1.4-.8 1.7-.8 1.7 1.2 1.8 2.7-1.6-3.3-1.6-3-1.5-2-1.6 1.7-1.4 4.5z" fill="#cd3e2d"/>
<path d="M308.9 70.5l1.6 2.5 1.8 2.7-1.6-3.3z" fill="#d75c2d"/>
<path d="M306 69.1l1.4-.1 1.7 .4-1.5-2z" fill="#ff3d32"/>
<path d="M307.4 69l1.5 1.5 1.8 1.9-1.6-3z" fill="#ec472f"/>
<path d="M304.6 73.6l1.3-2.4 1.5-2.2-1.4 .1z" fill="#8e3128"/>
<path d="M303.3 79.9l1.2-4.1 1.4-4.6-1.3 2.4z" fill="#7b3f26"/>
<path d="M305.9 71.2l1.4-.4 1.6-.3-1.5-1.5z" fill="#ff3931"/>
<path d="M307.3 70.8l1.5 1 1.7 1.2-1.6-2.5z" fill="#f94130"/>
<path d="M304.5 75.8l1.2-2.4 1.6-2.6-1.4 .4z" fill="#8c3227"/>
<path d="M305.7 73.4l1.4-.8 1.7-.8-1.5-1z" fill="#e9352f"/>
<path d="M303.3 79.9l1.2-4.1 1.2-2.4 1.4-.8 1.7-.8 1.7 1.2 1.8 2.7-1.6-3.3-1.6-3-1.5-2-1.6 1.7-1.4 4.5z" class="m"/>
<path d="M397.1 87.3l.9 4.9 1 4.6 1 3 1.1 .7 1.3-7.5 1.3-7.2 1.1-5.5 1.1-3.8-1.3 .7-1.2 .9-1.3 1-1.2 .9-1.1 5-1.1 4.2-.9 .8z" fill="#aeab2c"/>
<path d="M399 96.8l1 3 1.1-5.2-1.2 .4z" fill="#a2ff36"/>
<path d="M400 99.8l1.1 .7 1.3-7.5-1.3 1.6z" fill="#65be2b"/>
<path d="M398.8 93.4l1.1 1.6 1.2-6-1.3 .8z" fill="#cbf830"/>
<path d="M397.8 90l1 3.4 1-3.6-1.1-.6z" fill="#ffff36"/>
<path d="M398.7 89.2l1.1 .6 1.2-5.7-1.2 .9z" fill="#d0be2d"/>
<path d="M398 92.2l1 4.6 .9-1.8-1.1-1.6z" fill="#b9ff32"/>
<path d="M399.9 95l1.2-.4 1.3-7.1-1.3 1.5z" fill="#99ad2a"/>
<path d="M399.8 85l1.2-.9 1.1-5-1.2 .9z" fill="#aa792a"/>
<path d="M399.8 89.8l1.3-.8 1.2-6.1-1.3 1.2z" fill="#aa942a"/>
<path d="M401.1 94.6l1.3-1.6 1.3-7.2-1.3 1.7z" fill="#a19e29"/>
<path d="M401 84.1l1.3-1.2 1.1-4.8-1.3 1z" fill="#a46a29"/>
<path d="M397.1 87.3l.9 4.9 .8 1.2-1-3.4z" fill="#d7da2e"/>
<path d="M401.1 89l1.3-1.5 1.1-5.9-1.2 1.3z" fill="#a28029"/>
<path d="M402.3 82.9l1.2-1.3 1.1-4.4-1.2 .9z" fill="#a15d29"/>
<path d="M402.4 87.5l1.3-1.7 1.1-5.5-1.3 1.3z" fill="#9f6f29"/>
<path d="M403.5 81.6l1.3-1.3 1.1-3.8-1.3 .7z" fill="#a15229"/>
<path d="M397.1 87.3l.9 4.9 1 4.6 1 3 1.1 .7 1.3-7.5 1.3-7.2 1.1-5.5 1.1-3.8-1.3 .7-1.2 .9-1.3 1-1.2 .9-1.1 5-1.1 4.2-.9 .8z" class="m"/>
<path d="M410.9 75l1.2 .2 1.2 .6 1.2 1 1.1 1.6 .5 2.8 .4 5.3 .1 8.1 0 9.6-.6-7.5-.7-7.3-.7-6.2-.8-4.8-.6-3.2-.6-1.3-.8 0z" fill="#633024"/>
<path d="M415.9 87.9l.7 6.7 0 9.6-.6-7.5z" fill="#203622"/>
<path d="M415.1 82.4l.8 5.5 .1 8.8-.7-7.3z" fill="#2e3520"/>
<path d="M414.2 78.3l.9 4.1 .2 7-.7-6.2z" fill="#343020"/>
<path d="M415.6 81.7l.9 4.8 .1 8.1-.7-6.7z" fill="#353520"/>
<path d="M413.2 75.2l1 3.1 .4 4.9-.8-4.8z" fill="#322a20"/>
<path d="M414.7 78.2l.9 3.5 .3 6.2-.8-5.5z" fill="#342d20"/>
<path d="M413.7 75.6l1 2.6 .4 4.2-.9-4.1z" fill="#322720"/>
<path d="M412.6 73.9l1.1 1.7 .5 2.7-1-3.1z" fill="#322420"/>
<path d="M415.1 78.2l1 3 .4 5.3-.9-4.8z" fill="#342a20"/>
<path d="M414.1 76.1l1 2.1 .5 3.5-.9-3.5z" fill="#332620"/>
<path d="M412.9 74.8l1.2 1.3 .6 2.1-1-2.6z" fill="#332320"/>
<path d="M411.8 73.9l1.1 .9 .8 .8-1.1-1.7z" fill="#f53f30"/>
<path d="M414.5 76.8l1.1 1.6 .5 2.8-1-3z" fill="#332420"/>
<path d="M413.3 75.8l1.2 1 .6 1.4-1-2.1z" fill="#e7422f"/>
<path d="M410.9 75l1.2 .2 .8-.4-1.1-.9z" fill="#ff3532"/>
<path d="M412.1 75.2l1.2 .6 .8 .3-1.2-1.3z" fill="#ff3a31"/>
<path d="M410.9 75l1.2 .2 1.2 .6 1.2 1 1.1 1.6 .5 2.8 .4 5.3 .1 8.1 0 9.6-.6-7.5-.7-7.3-.7-6.2-.8-4.8-.6-3.2-.6-1.3-.8 0z" class="m"/>
<path d="M374.2 70l4.6 1.3 3.8-4.2-4.5-1.2z" fill="#ff3131"/>
<path d="M374.2 70l4.6 1.3 3.8-4.2-4.5-1.2z" class="m"/>
<path d="M400.9 80l2.5-1.9 2.5-1.6 1.9-4.8 1.8-2-2.4-1-2.3-.2-1.9 4.3z" fill="#c43f2c"/>
<path d="M403 72.8l2.4-.8 1.8-3.3-2.3-.2z" fill="#c9382c"/>
<path d="M405.4 72l2.4-.3 1.8-2-2.4-1z" fill="#ef352f"/>
<path d="M400.9 80l2.5-1.9 2-6.1-2.4 .8z" fill="#a94e2a"/>
<path d="M403.4 78.1l2.5-1.6 1.9-4.8-2.4 .3z" fill="#b0402a"/>
<path d="M400.9 80l2.5-1.9 2.5-1.6 1.9-4.8 1.8-2-2.4-1-2.3-.2-1.9 4.3z" class="m"/>
<path d="M299.7 100.9l.7-3.6 .8-3.8 .8-3.6 .8-3.3 1-4.7 1.1-4 1-3.2 1.2-2.1-1 .4-1 1.3-.9 2.4-.9 3.2-.9 5.4-.9 5.5-.9 5.2z" fill="#725726"/>
<path d="M299.7 100.9l.7-3.6 1-5.2-.8 3.9z" fill="#367225"/>
<path d="M300.6 96l.8-3.9 .9-5.3-.8 4z" fill="#587125"/>
<path d="M301.5 90.8l.8-4 .9-5.3-.8 3.8z" fill="#726a25"/>
<path d="M300.4 97.3l.8-3.8 .9-5.2-.7 3.8z" fill="#597225"/>
<path d="M302.4 85.3l.8-3.8 1-4.8-.9 3.2z" fill="#735525"/>
<path d="M301.4 92.1l.7-3.8 1-5.2-.8 3.7z" fill="#726b25"/>
<path d="M302.3 86.8l.8-3.7 1-4.7-.9 3.1z" fill="#755725"/>
<path d="M301.2 93.5l.8-3.6 1-5.1-.9 3.5z" fill="#736c25"/>
<path d="M303.2 81.5l.9-3.1 1-4.1-.9 2.4z" fill="#794526"/>
<path d="M302.1 88.3l.9-3.5 .9-4.7-.8 3z" fill="#765926"/>
<path d="M303.1 83.1l.8-3 1.1-4-.9 2.3z" fill="#7a4726"/>
<path d="M304.1 78.4l.9-2.3 1.1-3.1-1 1.3z" fill="#823827"/>
<path d="M302 89.9l.8-3.3 1-4.7-.8 2.9z" fill="#775b26"/>
<path d="M303 84.8l.8-2.9 1.1-4-1 2.2z" fill="#7b4926"/>
<path d="M305 76.1l.9-1.4 1.2-2.1-1 .4z" fill="#913028"/>
<path d="M303.9 80.1l1-2.2 1-3.2-.9 1.4z" fill="#833a27"/>
<path d="M299.7 100.9l.7-3.6 .8-3.8 .8-3.6 .8-3.3 1-4.7 1.1-4 1-3.2 1.2-2.1-1 .4-1 1.3-.9 2.4-.9 3.2-.9 5.4-.9 5.5-.9 5.2z" class="m"/>
<path d="M398.4 89.4l1 4 .9 5.1 .9 6.1 .8 6.6 .5 4.6 1.1-4.8 1.5-10 1.4-9.2-1.4 2.5-1.4 2.7-1.3 2.3-1.3 1.2-1 3.1-.6-3.9-.5-6z" fill="#329352"/>
<path d="M401.6 111.7l.9 4.1 1.1-4.8-1.2 .8z" fill="#37ffff"/>
<path d="M401.3 110l1.1 1.8 1.3-7.9-1.3 2z" fill="#2dce91"/>
<path d="M400.4 105.6l.9 4.4 1.1-4.1-1.2 .1z" fill="#36ffbf"/>
<path d="M400.1 103.6l1.1 2.4 1.2-6.7-1.3 1.2z" fill="#31ff3e"/>
<path d="M400.7 105.8l.9 5.9 .8 .1-1.1-1.8z" fill="#2dd2a7"/>
<path d="M401.2 106l1.2-.1 1.3-8.9-1.3 2.3z" fill="#2eaa2a"/>
<path d="M402.4 111.8l1.2-.8 1.5-10-1.4 2.9z" fill="#29a35d"/>
<path d="M399.5 99.7l.9 5.9 .8 .4-1.1-2.4z" fill="#2dd43e"/>
<path d="M402.4 105.9l1.3-2 1.4-9.6-1.4 2.7z" fill="#499e29"/>
<path d="M401.2 104.6l.8 6.6 .5 4.6-.9-4.1z" fill="#20342d"/>
<path d="M399.9 99.4l.8 6.4 .6 4.2-.9-4.4z" fill="#203222"/>
<path d="M403.7 103.9l1.4-2.9 1.4-9.2-1.4 2.5z" fill="#6b9928"/>
<path d="M400.3 98.5l.9 6.1 .4 7.1-.9-5.9z" fill="#233520"/>
<path d="M399 93.7l.9 5.7 .5 6.2-.9-5.9z" fill="#2a3320"/>
<path d="M399.4 93.4l.9 5.1 .4 7.3-.8-6.4z" fill="#2f3420"/>
<path d="M398.4 89.4l1 4 .5 6-.9-5.7z" fill="#333020"/>
<path d="M398.4 89.4l1 4 .9 5.1 .9 6.1 .8 6.6 .5 4.6 1.1-4.8 1.5-10 1.4-9.2-1.4 2.5-1.4 2.7-1.3 2.3-1.3 1.2-1 3.1-.6-3.9-.5-6z" class="m"/>
<path d="M284.9 119.5l2.2 1.2 2.2 .6 2.8-.1 2.5-2.6-1.9 1.9-2 .9-2.8 .1z" fill="#264478"/>
<path d="M287.9 121.5l2.1 .2 2.7-1.2-2 .9z" fill="#2b43b8"/>
<path d="M290 121.7l2.1-.5 2.5-2.6-1.9 1.9z" fill="#295ca0"/>
<path d="M284.9 119.5l2.2 1.2 2.9 1-2.1-.2z" fill="#213642"/>
<path d="M287.1 120.7l2.2 .6 2.8-.1-2.1 .5z" fill="#223c47"/>
<path d="M284.9 119.5l2.2 1.2 2.2 .6 2.8-.1 2.5-2.6-1.9 1.9-2 .9-2.8 .1z" class="m"/>
<path d="M426.6 121.4l1.5-3.5 1.7-4.2 1.7-4.6 1.7-4.8 1.9-12.1 1.7-9.1 1.1-4.7 .7 .3-1.1-1.7-1.3-.4-1.3 .8-1.4 1.7-1.5 8-1.8 11-1.9 12.5z" fill="#796836"/>
<path d="M426.6 121.4l1.5-3.5 1.9-12.1-1.7 4.8z" fill="#284990"/>
<path d="M428.1 117.9l1.7-4.2 1.9-12.7-1.7 4.8z" fill="#289087"/>
<path d="M428.3 110.6l1.7-4.8 1.9-12.3-1.7 4.6z" fill="#298f28"/>
<path d="M429.8 113.7l1.7-4.6 1.9-12.7-1.7 4.6z" fill="#289039"/>
<path d="M430 105.8l1.7-4.8 1.9-11.6-1.7 4.1z" fill="#628f28"/>
<path d="M431.5 109.1l1.7-4.8 1.9-12.1-1.7 4.2z" fill="#559028"/>
<path d="M430.2 98.1l1.7-4.6 1.7-9.8-1.6 3.4z" fill="#8f8328"/>
<path d="M431.7 101l1.7-4.6 1.8-10.5-1.6 3.5z" fill="#908928"/>
<path d="M431.9 93.5l1.7-4.1 1.5-8.4-1.5 2.7z" fill="#906728"/>
<path d="M432 87.1l1.6-3.4 1.3-6.3-1.4 1.7z" fill="#924e28"/>
<path d="M433.4 96.4l1.7-4.2 1.7-9.1-1.6 2.8z" fill="#916c28"/>
<path d="M433.6 83.7l1.5-2.7 1.1-4.4-1.3 .8z" fill="#973d28"/>
<path d="M433.6 89.4l1.6-3.5 1.4-6.7-1.5 1.8z" fill="#935028"/>
<path d="M435.1 81l1.5-1.8 .9-2.2-1.3-.4z" fill="#a43429"/>
<path d="M436.6 79.2l1.3-.8 .7 .3-1.1-1.7z" fill="#ff3c31"/>
<path d="M435.2 85.9l1.6-2.8 1.1-4.7-1.3 .8z" fill="#983f28"/>
<path d="M426.6 121.4l1.5-3.5 1.7-4.2 1.7-4.6 1.7-4.8 1.9-12.1 1.7-9.1 1.1-4.7 .7 .3-1.1-1.7-1.3-.4-1.3 .8-1.4 1.7-1.5 8-1.8 11-1.9 12.5z" class="m"/>
<path d="M392.8 76.6l1.1 1.5 1.1 2.1 1.1 3.1 1 4 .7 2.7 .9-.8 1.1-4.2 1.1-5-1.3 .7-1.2 .1-1.1-.8-1.1-1.8-.8-.1-.9-.8-.8-.6z" fill="#eca830"/>
<path d="M397.5 83.6l1.1 1.3 1-4.2-1.2 .1z" fill="#ffd633"/>
<path d="M396.4 81.1l1.1 2.5 .9-2.8-1.1-.8z" fill="#ffe736"/>
<path d="M397.6 87l1.1 2.2 1.1-4.2-1.2-.1z" fill="#ffff36"/>
<path d="M398.6 84.9l1.2 .1 1.1-5-1.3 .7z" fill="#c1922c"/>
<path d="M396.6 83.6l1 3.4 1-2.1-1.1-1.3z" fill="#fff534"/>
<path d="M395.4 78.1l1 3 .9-1.1-1.1-1.8z" fill="#ffac33"/>
<path d="M396.8 85.8l1 4.2 .9-.8-1.1-2.2z" fill="#ffec31"/>
<path d="M395.6 80.1l1 3.5 .9 0-1.1-2.5z" fill="#faae30"/>
<path d="M395.8 81.9l1 3.9 .8 1.2-1-3.4z" fill="#e0aa2e"/>
<path d="M394.5 77.3l1.1 2.8 .8 1-1-3z" fill="#ec822f"/>
<path d="M396.1 83.3l1 4 .7 2.7-1-4.2z" fill="#d0a42d"/>
<path d="M394.8 78.8l1 3.1 .8 1.7-1-3.5z" fill="#dd822e"/>
<path d="M393.7 76.7l1.1 2.1 .8 1.3-1.1-2.8z" fill="#e9672f"/>
<path d="M395 80.2l1.1 3.1 .7 2.5-1-3.9z" fill="#d5802d"/>
<path d="M393.9 78.1l1.1 2.1 .8 1.7-1-3.1z" fill="#e3672e"/>
<path d="M392.8 76.6l1.1 1.5 .9 .7-1.1-2.1z" fill="#f85530"/>
<path d="M392.8 76.6l1.1 1.5 1.1 2.1 1.1 3.1 1 4 .7 2.7 .9-.8 1.1-4.2 1.1-5-1.3 .7-1.2 .1-1.1-.8-1.1-1.8-.8-.1-.9-.8-.8-.6z" class="m"/>
<path d="M356.4 70.3l4.5 1.3 4.1-4.2-4.5-1.2z" fill="#ff3131"/>
<path d="M356.4 70.3l4.5 1.3 4.1-4.2-4.5-1.2z" class="m"/>
<path d="M255.9 139.6l.9-1.2 1.1-3.1-.8 1.5z" fill="#542784"/>
<path d="M254.7 142l.9-.8 1.2-2.8-.9 1.2z" fill="#60278a"/>
<path d="M257.1 136.8l.8-1.5 1.1-3.7-.7 2z" fill="#45267f"/>
<path d="M253.5 144.1l.8-.5 1.3-2.4-.9 .8-1.1 1.9z" fill="#6b2893"/>
<path d="M255.6 141.2l.8-1.1 1.2-3.1-.8 1.4z" fill="#552786"/>
<path d="M254.3 143.6l.9-.8 1.2-2.7-.8 1.1z" fill="#60278b"/>
<path d="M256.8 138.4l.8-1.4 1.1-3.6-.8 1.9z" fill="#452680"/>
<path d="M257.9 135.3l.8-1.9 1-4.2-.7 2.4z" fill="#31267b"/>
<path d="M255.2 142.8l.8-1 1.2-3.1-.8 1.4z" fill="#552787"/>
<path d="M256.4 140.1l.8-1.4 1.1-3.5-.7 1.8z" fill="#462681"/>
<path d="M257.6 137l.7-1.8 1.1-4.1-.7 2.3z" fill="#33267c"/>
<path d="M258.7 133.4l.7-2.3 .9-4.8-.6 2.9z" fill="#263579"/>
<path d="M256 141.8l.9-1.3 1.1-3.4-.8 1.6z" fill="#472783"/>
<path d="M257.2 138.7l.8-1.6 1.1-4-.8 2.1z" fill="#34267d"/>
<path d="M258.3 135.2l.8-2.1 .9-4.7-.6 2.7z" fill="#26317a"/>
<path d="M259.4 131.1l.6-2.7 .9-5.5-.6 3.4z" fill="#266078"/>
<path d="M253.5 144.1L254.3 143.6L255.2 142.8L256.0 141.8L256.9 140.5L258.0 137.1L259.1 133.1L260.0 128.4L260.9 122.9L260.3 126.3L259.7 129.2L259.0 131.6L258.3 133.6L257.1 136.8L255.9 139.6L254.7 142.0L253.6 143.9" class="m"/>
<path d="M338.5 70.6l4.5 1.3 4.4-4.2-4.5-1.2z" fill="#ff3131"/>
<path d="M338.5 70.6l4.5 1.3 4.4-4.2-4.5-1.2z" class="m"/>
<path d="M252.4 147.5l.2-.1 2.6-4.6-1.7 1.3z" fill="#7729a1"/>
<path d="M252.2 148l.4-.6-.2 .1z" fill="#8c2bba"/>
<path d="M252.6 147.4l1.8-1.3 2.5-5.6-1.7 2.3z" fill="#5f278d"/>
<path d="M251.1 150.8l.7-.2 2.6-4.5-1.8 1.3-.4 .6z" fill="#7929a6"/>
<path d="M251.1 150.8L251.8 150.6L254.4 146.1L256.9 140.5L255.2 142.8L253.5 144.1" class="m"/>
<path d="M378.8 71.3l4.6 1.3 3.8-4.2-4.6-1.3z" fill="#ff3131"/>
<path d="M378.8 71.3l4.6 1.3 3.8-4.2-4.6-1.3z" class="m"/>
<path d="M405.9 76.5l2.5-1.1 2.5-.4 1.7-1.1 1.2 4.5-2-6-2.2-2.7-1.8 2z" fill="#ea402f"/>
<path d="M410.2 72.1l2.4 1.8 1.2 4.5-2-6z" fill="#e2512e"/>
<path d="M407.8 71.7l2.4 .4 1.6 .3-2.2-2.7z" fill="#ff3e32"/>
<path d="M405.9 76.5l2.5-1.1 1.8-3.3-2.4-.4z" fill="#c7382c"/>
<path d="M408.4 75.4l2.5-.4 1.7-1.1-2.4-1.8z" fill="#ff3a31"/>
<path d="M405.9 76.5l2.5-1.1 2.5-.4 1.7-1.1 1.2 4.5-2-6-2.2-2.7-1.8 2z" class="m"/>
<path d="M402 111.2l.8 5.8 1 3.8 1.1 1.1 1.3-1.3 1.6-11 1.5-10.9 1.4-8.4 1.2-5.8-1.3 1.4-1.4 1.7-1.3 1.9-1.4 2.3-1.4 9.2-1.5 10-1.1 4.8z" fill="#558d62"/>
<path d="M402.8 117l1 3.8 1.1-4.9-1.3 1.2z" fill="#379bff"/>
<path d="M402.5 115.8l1.1 1.3 1.4-8.6-1.4 2.5z" fill="#2ba5b7"/>
<path d="M403.8 120.8l1.1 1.1 1.4-8.8-1.4 2.8z" fill="#2a5dae"/>
<path d="M402 111.2l.8 5.8 .8 .1-1.1-1.3z" fill="#2d9ece"/>
<path d="M403.6 117.1l1.3-1.2 1.5-10.7-1.4 3.3z" fill="#29a08e"/>
<path d="M404.9 121.9l1.3-1.3 1.6-11-1.5 3.5z" fill="#297c9e"/>
<path d="M403.6 111l1.4-2.5 1.5-10.5-1.4 3z" fill="#299b2b"/>
<path d="M404.9 115.9l1.4-2.8 1.6-11.3-1.5 3.4z" fill="#289955"/>
<path d="M405 108.5l1.4-3.3 1.5-10.1-1.4 2.9z" fill="#509828"/>
<path d="M406.3 113.1l1.5-3.5 1.5-10.9-1.4 3.1z" fill="#359728"/>
<path d="M405.1 101l1.4-3 1.4-8.5-1.4 2.3z" fill="#909828"/>
<path d="M406.4 105.2l1.5-3.4 1.4-9.3-1.4 2.6z" fill="#7a9728"/>
<path d="M406.5 98l1.4-2.9 1.3-7.5-1.3 1.9z" fill="#988528"/>
<path d="M407.9 101.8l1.4-3.1 1.4-8.4-1.4 2.2z" fill="#979028"/>
<path d="M407.9 95.1l1.4-2.6 1.3-6.6-1.4 1.7z" fill="#997228"/>
<path d="M409.3 92.5l1.4-2.2 1.2-5.8-1.3 1.4z" fill="#9b6129"/>
<path d="M402 111.2l.8 5.8 1 3.8 1.1 1.1 1.3-1.3 1.6-11 1.5-10.9 1.4-8.4 1.2-5.8-1.3 1.4-1.4 1.7-1.3 1.9-1.4 2.3-1.4 9.2-1.5 10-1.1 4.8z" class="m"/>
<path d="M404.2 101.6l.9 4.7 .9 5.5 .8 5.9 .9 6 .2 7.4 1-1.9 1.5-10.2 1.7-12.2-1.5 3.6-1.5 3.8-1.5 3.6-1.4 2.8-1.1 4.4-.4-5.7-.2-9.8z" fill="#2f3c72"/>
<path d="M405.1 125l1.1 1.1 1.4-8.3-1.4 2.8z" fill="#2a2aad"/>
<path d="M405.5 124.7l1 3.7 1-3.4-1.3 1.1z" fill="#6334ff"/>
<path d="M406.5 128.4l1.1 1.4 1.3-7.4-1.4 2.6z" fill="#432ab0"/>
<path d="M404.7 119.3l.8 5.4 .7 1.4-1.1-1.1z" fill="#212034"/>
<path d="M407 127.2l.9 3.9 1-1.9-1.3 .6z" fill="#6a2ff1"/>
<path d="M406.2 126.1l1.3-1.1 1.6-10.8-1.5 3.6z" fill="#294b9e"/>
<path d="M407.6 129.8l1.3-.6 1.5-10.2-1.5 3.4z" fill="#2d29a0"/>
<path d="M406.1 121.9l.9 5.3 .6 2.6-1.1-1.4z" fill="#232136"/>
<path d="M407.5 125l1.4-2.6 1.7-12-1.5 3.8z" fill="#288499"/>
<path d="M405.3 115.7l.8 6.2 .4 6.5-1-3.7z" fill="#212a39"/>
<path d="M406.8 117.7l.9 6 .2 7.4-.9-3.9z" fill="#21293a"/>
<path d="M408.9 122.4l1.5-3.4 1.7-12.2-1.5 3.6z" fill="#28986c"/>
<path d="M404.5 109.5l.8 6.2 .2 9-.8-5.4z" fill="#213934"/>
<path d="M406 111.8l.8 5.9 .2 9.5-.9-5.3z" fill="#213a37"/>
<path d="M405.1 106.3l.9 5.5 .1 10.1-.8-6.2z" fill="#213922"/>
<path d="M404.2 101.6l.9 4.7 .2 9.4-.8-6.2z" fill="#2d3921"/>
<path d="M404.2 101.6l.9 4.7 .9 5.5 .8 5.9 .9 6 .2 7.4 1-1.9 1.5-10.2 1.7-12.2-1.5 3.6-1.5 3.8-1.5 3.6-1.4 2.8-1.1 4.4-.4-5.7-.2-9.8z" class="m"/>
<path d="M320.9 88.2l1.1-.3 1.1-1 1-1.8 1-2.1 1.2-.7 1.1-1.2 1.2-1.5 1.1-1.7-1 3-1 3.3-.9 3.1-1 2.3-1.2 .6-1.2-.1-1.2-.8z" fill="#554823"/>
<path d="M324.6 90.2l1-1.8 1.2-1.1-1 2.3z" fill="#4c5423"/>
<path d="M323.4 90.1l1.1-1.2 1.1-.5-1 1.8z" fill="#4e5423"/>
<path d="M325.6 88.4l1-2.6 1.1-1.6-.9 3.1z" fill="#565123"/>
<path d="M324.5 88.9l1-2.1 1.1-1-1 2.6z" fill="#575223"/>
<path d="M322.2 89.3l1-.7 1.3 .3-1.1 1.2z" fill="#535223"/>
<path d="M326.6 85.8l1-3.1 1.1-1.8-1 3.3z" fill="#564523"/>
<path d="M323.2 88.6l1.1-1.5 1.2-.3-1 2.1z" fill="#574f23"/>
<path d="M325.5 86.8l.9-2.8 1.2-1.3-1 3.1z" fill="#574723"/>
<path d="M320.9 88.2l1.1-.3 1.2 .7-1 .7z" fill="#504923"/>
<path d="M327.6 82.7l1-3.1 1.1-1.7-1 3z" fill="#543823"/>
<path d="M324.3 87.1l1-2.3 1.1-.8-.9 2.8z" fill="#584723"/>
<path d="M322 87.9l1.1-1 1.2 .2-1.1 1.5z" fill="#554923"/>
<path d="M326.4 84l1-2.9 1.2-1.5-1 3.1z" fill="#563b23"/>
<path d="M323.1 86.9l1-1.8 1.2-.3-1 2.3z" fill="#574423"/>
<path d="M325.3 84.8l1-2.5 1.1-1.2-1 2.9z" fill="#573c23"/>
<path d="M324.1 85.1l1-2.1 1.2-.7-1 2.5z" fill="#573b23"/>
<path d="M320.9 88.2l1.1-.3 1.1-1 1-1.8 1-2.1 1.2-.7 1.1-1.2 1.2-1.5 1.1-1.7-1 3-1 3.3-.9 3.1-1 2.3-1.2 .6-1.2-.1-1.2-.8z" class="m"/>
<path d="M360.9 71.6l4.6 1.3 4.1-4.2-4.6-1.3z" fill="#ff3131"/>
<path d="M360.9 71.6l4.6 1.3 4.1-4.2-4.6-1.3z" class="m"/>
<path d="M264.9 88.6l1-.8 1.2 1.2 1.3 2.7 1.4 3.3 2.1 5 2 4.8 1.9 4 1.7 3.1-1.2-2.2-1.3-2.6-1.3-3-1.4-3.5-2.1-5-2-4.8-1.8-2.8z" fill="#819e34"/>
<path d="M274.5 106l1.3 2.8 1.7 3.1-1.2-2.2z" fill="#2bb492"/>
<path d="M273.1 102.9l1.4 3.1 1.8 3.7-1.3-2.6z" fill="#2ab361"/>
<path d="M271.7 99.3l1.4 3.6 1.9 4.2-1.3-3z" fill="#2cb32a"/>
<path d="M270.2 95.6l1.5 3.7 2 4.8-1.4-3.5z" fill="#5cb32b"/>
<path d="M271.1 97.9l1.4 3.6 2 4.5-1.4-3.1z" fill="#56b22a"/>
<path d="M269.6 94.2l1.5 3.7 2 5-1.4-3.6z" fill="#86b32a"/>
<path d="M268.2 90.8l1.4 3.4 2.1 5.1-1.5-3.7z" fill="#b3ae2a"/>
<path d="M269 92.9l1.4 3.6 2.1 5-1.4-3.6z" fill="#b1b22a"/>
<path d="M267.6 89.8l1.4 3.1 2.1 5-1.5-3.7z" fill="#b3942a"/>
<path d="M266.4 88l1.2 1.8 2 4.4-1.4-3.4z" fill="#b47c2b"/>
<path d="M268.4 91.7l1.4 3.3 2.1 5-1.5-3.5z" fill="#b2962a"/>
<path d="M267.1 89l1.3 2.7 2 4.8-1.4-3.6z" fill="#b47c2b"/>
<path d="M265.9 87.8l1.2 1.2 1.9 3.9-1.4-3.1z" fill="#bb6a2b"/>
<path d="M264.9 88.6l1-.8 1.2 1.2 1.3 2.7 1.4 3.3 2.1 5 2 4.8 1.9 4 1.7 3.1-1.2-2.2-1.3-2.6-1.3-3-1.4-3.5-2.1-5-2-4.8-1.8-2.8z" class="m"/>
<path d="M383.4 72.6l4.7 1.3 3.8-3.3-4.7-2.2z" fill="#ff3531"/>
<path d="M383.4 72.6l4.7 1.3 3.8-3.3-4.7-2.2z" class="m"/>
<path d="M343 71.9l4.6 1.3 4.2-4.2-4.4-1.3z" fill="#ff3131"/>
<path d="M343 71.9l4.6 1.3 4.2-4.2-4.4-1.3z" class="m"/>
<path d="M388.1 73.9l2.4 1 2.3 1.7 1.7 .7 1.7 .9-2.1-4.6-2.2-3-1.9 1.4z" fill="#ff4e32"/>
<path d="M392.3 73.7l2.2 3.6 1.7 .9-2.1-4.6z" fill="#fd6930"/>
<path d="M390 72l2.3 1.7 1.8-.1-2.2-3z" fill="#ff4932"/>
<path d="M390.5 74.9l2.3 1.7 1.7 .7-2.2-3.6z" fill="#ff4c32"/>
<path d="M388.1 73.9l2.4 1 1.8-1.2-2.3-1.7z" fill="#ff3a32"/>
<path d="M388.1 73.9l2.4 1 2.3 1.7 1.7 .7 1.7 .9-2.1-4.6-2.2-3-1.9 1.4z" class="m"/>
<path d="M294.6 118.6l.9-1.4 .9-1.7 .9-1.9 .9-2.2 1.1-3.8 1-4.3 1-4.6 1.1-4.6-.9 2.8-.9 3-.8 3-.8 3-1.1 4-1 3.5-1.1 2.9z" fill="#35793f"/>
<path d="M295.8 116.3l.9-1.8 1-3.3-.8 2.2z" fill="#267d73"/>
<path d="M294.6 118.6l.9-1.4 1.2-2.7-.9 1.8z" fill="#267481"/>
<path d="M296.9 113.4l.8-2.2 1.1-3.9-.9 2.6z" fill="#267954"/>
<path d="M297.9 109.9l.9-2.6 1-4.4-.8 3z" fill="#267731"/>
<path d="M295.5 117.2l.9-1.7 1.1-3.1-.8 2.1z" fill="#267e6e"/>
<path d="M296.7 114.5l.8-2.1 1.1-3.7-.9 2.5z" fill="#267a51"/>
<path d="M297.7 111.2l.9-2.5 1-4.2-.8 2.8z" fill="#26782f"/>
<path d="M298.8 107.3l.8-2.8 1-4.6-.8 3z" fill="#3b7626"/>
<path d="M296.4 115.5l.9-1.9 1.1-3.6-.9 2.4z" fill="#267c4d"/>
<path d="M297.5 112.4l.9-2.4 1.1-4-.9 2.7z" fill="#26792e"/>
<path d="M298.6 108.7l.9-2.7 1-4.4-.9 2.9z" fill="#3b7726"/>
<path d="M299.6 104.5l.9-2.9 1-4.7-.9 3z" fill="#587626"/>
<path d="M297.3 113.6l.9-2.2 1.1-3.8-.9 2.4z" fill="#267a2b"/>
<path d="M298.4 110l.9-2.4 1-4.3-.8 2.7z" fill="#3b7826"/>
<path d="M299.5 106l.8-2.7 1-4.6-.8 2.9z" fill="#577726"/>
<path d="M300.5 101.6l.8-2.9 1.1-4.6-.9 2.8z" fill="#777926"/>
<path d="M294.6 118.6l.9-1.4 .9-1.7 .9-1.9 .9-2.2 1.1-3.8 1-4.3 1-4.6 1.1-4.6-.9 2.8-.9 3-.8 3-.8 3-1.1 4-1 3.5-1.1 2.9z" class="m"/>
<path d="M401.1 100.5l1.3-1.2 1.3-2.3 1.4-2.7 1.4-2.5 1.3-6.8 1.1-4.7 1-3.2 1-2.1-1.2 .1-1.3 .3-1.2 .4-1.3 .7-1.1 3.8-1.1 5.5-1.3 7.2z" fill="#9c6429"/>
<path d="M401.1 100.5l1.3-1.2 1.3-8.4-1.3 2.1z" fill="#6da329"/>
<path d="M402.4 99.3l1.3-2.3 1.4-8.3-1.4 2.2z" fill="#879c29"/>
<path d="M402.4 93l1.3-2.1 1.3-6.8-1.3 1.7z" fill="#9d8829"/>
<path d="M403.7 97l1.4-2.7 1.3-7.6-1.3 2z" fill="#9a9128"/>
<path d="M403.7 85.8l1.3-1.7 1.1-4.8-1.3 1z" fill="#9e6129"/>
<path d="M403.7 90.9l1.4-2.2 1.2-6.1-1.3 1.5z" fill="#9b7529"/>
<path d="M404.8 80.3l1.3-1 1.1-3.5-1.3 .7z" fill="#a14729"/>
<path d="M405 84.1l1.3-1.5 1.1-4.3-1.3 1z" fill="#9f5429"/>
<path d="M406.1 79.3l1.3-1 1-2.9-1.2 .4z" fill="#a53f29"/>
<path d="M405.1 94.3l1.4-2.5 1.3-6.8-1.4 1.7z" fill="#997d28"/>
<path d="M405.1 88.7l1.3-2 1.2-5.4-1.3 1.3z" fill="#9c6529"/>
<path d="M407.4 78.3l1.3-.7 1-2.5-1.3 .3z" fill="#af392a"/>
<path d="M406.3 82.6l1.3-1.3 1.1-3.7-1.3 .7z" fill="#a04929"/>
<path d="M408.7 77.6l1.2-.5 1-2.1-1.2 .1z" fill="#bd352b"/>
<path d="M406.4 86.7l1.4-1.7 1.1-4.7-1.3 1z" fill="#9d5729"/>
<path d="M407.6 81.3l1.3-1 1-3.2-1.2 .5z" fill="#a14029"/>
<path d="M401.1 100.5l1.3-1.2 1.3-2.3 1.4-2.7 1.4-2.5 1.3-6.8 1.1-4.7 1-3.2 1-2.1-1.2 .1-1.3 .3-1.2 .4-1.3 .7-1.1 3.8-1.1 5.5-1.3 7.2z" class="m"/>
<path d="M365.5 72.9l4.7 1.3 4-4.2-4.6-1.3z" fill="#ff3131"/>
<path d="M365.5 72.9l4.7 1.3 4-4.2-4.6-1.3z" class="m"/>
<path d="M329.7 77.9l2.1-3.2 2.2 .2 2.3-2.2 2.2-2.1-2.2-.5-2.2 .5-2.2 3.5z" fill="#c4322c"/>
<path d="M331.9 74.1l2.2-1.8 2.2-2.2-2.2 .5z" fill="#aa332a"/>
<path d="M334.1 72.3l2.2 .4 2.2-2.1-2.2-.5z" fill="#f63130"/>
<path d="M329.7 77.9l2.1-3.2 2.3-2.4-2.2 1.8z" fill="#883427"/>
<path d="M331.8 74.7l2.2 .2 2.3-2.2-2.2-.4z" fill="#e9312f"/>
<path d="M329.7 77.9l2.1-3.2 2.2 .2 2.3-2.2 2.2-2.1-2.2-.5-2.2 .5-2.2 3.5z" class="m"/>
<path d="M407.7 123.7l.8 5.3 1 4.1 1 2.5 1.2 .8 1.3-7.4 1.8-12.2 1.7-11.9 1.5-9.3-1.4 2.3-1.5 2.6-1.5 3-1.5 3.3-1.7 12.2-1.5 10.2-1 1.9z" fill="#485f72"/>
<path d="M407.9 131.1l1.1 1.9 1.2-6-1.3 2.2z" fill="#622ccc"/>
<path d="M409.5 133.1l1 2.5 1.1-4.1-1.4 1.5z" fill="#9e33ff"/>
<path d="M409 133l1.2 0 1.5-9.1-1.5 3.1z" fill="#4529a3"/>
<path d="M408.5 129l1 4.1 .7-.1-1.2 0z" fill="#282035"/>
<path d="M410.5 135.6l1.2 .8 1.3-7.4-1.4 2.5z" fill="#5d2aab"/>
<path d="M407.7 123.7l.8 5.3 .5 4-1.1-1.9z" fill="#242139"/>
<path d="M408.9 129.2l1.3-2.2 1.7-11.8-1.5 3.8z" fill="#29549b"/>
<path d="M410.2 133l1.4-1.5 1.6-11.1-1.5 3.5z" fill="#2a299d"/>
<path d="M411.6 131.5l1.4-2.5 1.8-12.2-1.6 3.6z" fill="#295e9b"/>
<path d="M410.2 127l1.5-3.1 1.7-12.3-1.5 3.6z" fill="#289599"/>
<path d="M410.4 119l1.5-3.8 1.7-11.7-1.5 3.3z" fill="#28982c"/>
<path d="M411.7 123.9l1.5-3.5 1.8-12.3-1.6 3.5z" fill="#28995c"/>
<path d="M411.9 115.2l1.5-3.6 1.7-11.1-1.5 3z" fill="#569828"/>
<path d="M413.2 120.4l1.6-3.6 1.7-11.9-1.5 3.2z" fill="#329928"/>
<path d="M413.4 111.6l1.6-3.5 1.6-10.2-1.5 2.6z" fill="#829928"/>
<path d="M415 108.1l1.5-3.2 1.5-9.3-1.4 2.3z" fill="#9a8d28"/>
<path d="M407.7 123.7l.8 5.3 1 4.1 1 2.5 1.2 .8 1.3-7.4 1.8-12.2 1.7-11.9 1.5-9.3-1.4 2.3-1.5 2.6-1.5 3-1.5 3.3-1.7 12.2-1.5 10.2-1 1.9z" class="m"/>
<path d="M289.3 121.3l1.4 0 1.4-.3 1.4-.6 1.7-1.7 1.6-3 1.4-4.3-1.2 2.8-1.2 2.4-1.2 2-1.7 2-1.7 .9z" fill="#267671"/>
<path d="M292.9 120.6l1.3-1.2 1.6-2.8-1.2 2z" fill="#276f88"/>
<path d="M291.2 121.5l1.3-.5 1.7-1.6-1.3 1.2z" fill="#297c9e"/>
<path d="M294.2 119.4l1.3-1.6 1.5-3.6-1.2 2.4z" fill="#278379"/>
<path d="M292.5 121l1.4-1 1.6-2.2-1.3 1.6z" fill="#27898c"/>
<path d="M289.3 121.3l1.4 0 1.8-.3-1.3 .5z" fill="#22454a"/>
<path d="M295.5 117.8l1.3-2.1 1.4-4.3-1.2 2.8z" fill="#267f51"/>
<path d="M290.7 121.3l1.4-.3 1.8-1-1.4 1z" fill="#224b4a"/>
<path d="M293.9 120l1.3-1.3 1.6-3-1.3 2.1z" fill="#27866c"/>
<path d="M292.1 121l1.4-.6 1.7-1.7-1.3 1.3z" fill="#28987f"/>
<path d="M289.3 121.3l1.4 0 1.4-.3 1.4-.6 1.7-1.7 1.6-3 1.4-4.3-1.2 2.8-1.2 2.4-1.2 2-1.7 2-1.7 .9z" class="m"/>
<path d="M347.6 73.2l4.5 1.3 4.3-4.2-4.6-1.3z" fill="#ff3131"/>
<path d="M347.6 73.2l4.5 1.3 4.3-4.2-4.6-1.3z" class="m"/>
<path d="M417.2 82l1.2 .3 1.2 .9 1.2 1.5 1 2.3 .4 5.1 0 8.1-.2 10.2-.1 8.8-.7-5.4-.6-6.6-.7-6.8-.6-6.4-.2-7-.5-4.1-.6-1.5z" fill="#3e2f24"/>
<path d="M421.4 103.7l.6 6.7-.1 8.8-.7-5.4z" fill="#212e38"/>
<path d="M420.7 97.3l.7 6.4-.2 10.1-.6-6.6z" fill="#21382c"/>
<path d="M419.9 91.7l.8 5.6-.1 9.9-.7-6.8z" fill="#283821"/>
<path d="M421.4 94.5l.8 5.7-.2 10.2-.6-6.7z" fill="#253821"/>
<path d="M419.1 87l.8 4.7 0 8.7-.6-6.4z" fill="#363721"/>
<path d="M420.6 89.7l.8 4.8 0 9.2-.7-6.4z" fill="#333821"/>
<path d="M419.7 85.8l.9 3.9 .1 7.6-.8-5.6z" fill="#373221"/>
<path d="M421.2 88.1l1 4 0 8.1-.8-5.7z" fill="#383421"/>
<path d="M418.6 82.9l1.1 2.9 .2 5.9-.8-4.7z" fill="#362b20"/>
<path d="M420.2 85l1 3.1 .2 6.4-.8-4.8z" fill="#362d21"/>
<path d="M419.1 82.8l1.1 2.2 .4 4.7-.9-3.9z" fill="#352720"/>
<path d="M418 81.4l1.1 1.4 .6 3-1.1-2.9z" fill="#352420"/>
<path d="M420.8 84.7l1 2.3 .4 5.1-1-4z" fill="#362820"/>
<path d="M419.6 83.2l1.2 1.5 .4 3.4-1-3.1z" fill="#352520"/>
<path d="M418.4 82.3l1.2 .9 .6 1.8-1.1-2.2z" fill="#352220"/>
<path d="M417.2 82l1.2 .3 .7 .5-1.1-1.4z" fill="#ff3931"/>
<path d="M417.2 82l1.2 .3 1.2 .9 1.2 1.5 1 2.3 .4 5.1 0 8.1-.2 10.2-.1 8.8-.7-5.4-.6-6.6-.7-6.8-.6-6.4-.2-7-.5-4.1-.6-1.5z" class="m"/>
<path d="M370.2 74.2l4.6 1.3 4-4.2-4.6-1.3z" fill="#ff3131"/>
<path d="M370.2 74.2l4.6 1.3 4-4.2-4.6-1.3z" class="m"/>
<path d="M258.3 133.6l.7-2 .7-2.4 .6-2.9 .6-3.4 .7-6.3 .7-7.2 .6-7.4 .8-6.8-.6 4-.4 4.9-.4 5.2-.4 5-.7 6.1-.9 5.2-1 4.4z" fill="#355a48"/>
<path d="M258.3 133.6l.7-2 1-4.3-.7 2.7z" fill="#30267a"/>
<path d="M259.3 130l.7-2.7 .9-5.1-.6 3.4z" fill="#263975"/>
<path d="M260.3 125.6l.6-3.4 .7-6-.4 4.2z" fill="#224347"/>
<path d="M259 131.6l.7-2.4 .9-5-.6 3.1z" fill="#263777"/>
<path d="M260 127.3l.6-3.1 .8-5.9-.5 3.9z" fill="#256874"/>
<path d="M261.2 120.4l.4-4.2 .7-6.9-.4 5z" fill="#224830"/>
<path d="M259.7 129.2l.6-2.9 .8-5.7-.5 3.6z" fill="#266576"/>
<path d="M260.9 122.2l.5-3.9 .7-6.8-.5 4.7z" fill="#224732"/>
<path d="M260.6 124.2l.5-3.6 .7-6.6-.4 4.3z" fill="#26754f"/>
<path d="M261.6 116.2l.5-4.7 .6-7.4-.4 5.2z" fill="#2d4822"/>
<path d="M260.3 126.3l.6-3.4 .7-6.3-.5 4z" fill="#267759"/>
<path d="M261.4 118.3l.4-4.3 .7-7.4-.4 4.9z" fill="#367525"/>
<path d="M261.1 120.6l.5-4 .7-7.2-.5 4.6z" fill="#2f7726"/>
<path d="M262.1 111.5l.4-4.9 .6-7.4-.4 4.9z" fill="#6b7526"/>
<path d="M261.8 114l.5-4.6 .6-7.4-.4 4.6z" fill="#647726"/>
<path d="M262.5 106.6l.4-4.6 .8-6.8-.6 4z" fill="#796226"/>
<path d="M258.3 133.6l.7-2 .7-2.4 .6-2.9 .6-3.4 .7-6.3 .7-7.2 .6-7.4 .8-6.8-.6 4-.4 4.9-.4 5.2-.4 5-.7 6.1-.9 5.2-1 4.4z" class="m"/>
<path d="M352.1 74.5l4.6 1.4 4.2-4.3-4.5-1.3z" fill="#ff3131"/>
<path d="M352.1 74.5l4.6 1.4 4.2-4.3-4.5-1.3z" class="m"/>
<path d="M299 105.9l.8-3 .8-3 .9-3 .9-2.8 1-4.5 1-4.1 1.1-3.5 1.2-2.8-1.1 .9-1 1.5-.9 2.2-.9 2.8-.9 5-1 5-1 4.8z" fill="#746026"/>
<path d="M299 105.9l.8-3 1-4.7-.9 3.2z" fill="#3a7526"/>
<path d="M299.9 101.4l.9-3.2 .9-4.9-.8 3.3z" fill="#597425"/>
<path d="M300.9 96.6l.8-3.3 1-4.9-.8 3.2z" fill="#767126"/>
<path d="M299.8 102.9l.8-3 1-4.8-.8 3.1z" fill="#597526"/>
<path d="M301.9 91.6l.8-3.2 1-4.6-.9 2.8z" fill="#785e26"/>
<path d="M300.8 98.2l.8-3.1 1-4.8-.9 3z" fill="#777326"/>
<path d="M301.7 93.3l.9-3 1-4.6-.9 2.7z" fill="#796026"/>
<path d="M300.6 99.9l.9-3 1-4.7-.9 2.9z" fill="#787626"/>
<path d="M302.7 88.4l.9-2.7 1-4.1-.9 2.2z" fill="#7d4f26"/>
<path d="M301.6 95.1l.9-2.9 1-4.5-.9 2.6z" fill="#7a6326"/>
<path d="M302.6 90.3l.9-2.6 1-4.2-.9 2.2z" fill="#7e5226"/>
<path d="M303.6 85.7l.9-2.2 1.1-3.4-1 1.5z" fill="#844327"/>
<path d="M301.5 96.9l.9-2.8 1-4.5-.9 2.6z" fill="#7b6626"/>
<path d="M302.5 92.2l.9-2.6 1-4.1-.9 2.2z" fill="#7f5526"/>
<path d="M303.5 87.7l.9-2.2 1.1-3.5-1 1.5z" fill="#844627"/>
<path d="M304.5 83.5l1-1.5 1.2-2.8-1.1 .9z" fill="#8c3927"/>
<path d="M299 105.9l.8-3 .8-3 .9-3 .9-2.8 1-4.5 1-4.1 1.1-3.5 1.2-2.8-1.1 .9-1 1.5-.9 2.2-.9 2.8-.9 5-1 5-1 4.8z" class="m"/>
<path d="M393.9 81.8l1.1 1.1 1.2 1.5 1.1 2.1 1.1 2.9 .6 4.3 .5 6 .6 3.9 1-3.1-1.1-.7-1-3-1-4.6-.9-4.9-.7-3-.8-1.8-.9-.7z" fill="#594b25"/>
<path d="M399.2 99l.9 4.6 1-3.1-1.1-.7z" fill="#4dff34"/>
<path d="M398.3 93.4l.9 5.6 .8 .8-1-3z" fill="#7ad72d"/>
<path d="M398.6 93.9l.9 5.8 .6 3.9-.9-4.6z" fill="#273120"/>
<path d="M397.4 88.4l.9 5 .7 3.4-1-4.6z" fill="#2e2f20"/>
<path d="M397.7 88.9l.9 5 .6 5.1-.9-5.6z" fill="#313120"/>
<path d="M396.4 84.3l1 4.1 .6 3.8-.9-4.9z" fill="#2f2b20"/>
<path d="M396.7 85.2l1 3.7 .6 4.5-.9-5z" fill="#312c20"/>
<path d="M398 89.2l1 4.5 .5 6-.9-5.8z" fill="#333120"/>
<path d="M395.6 82.5l1.1 2.7 .7 3.2-1-4.1z" fill="#302720"/>
<path d="M397 85.9l1 3.3 .6 4.7-.9-5z" fill="#312b20"/>
<path d="M395.9 83.5l1.1 2.4 .7 3-1-3.7z" fill="#302720"/>
<path d="M397.3 86.5l1.1 2.9 .6 4.3-1-4.5z" fill="#322a20"/>
<path d="M394.7 81.8l1.2 1.7 .8 1.7-1.1-2.7z" fill="#e25c2e"/>
<path d="M396.2 84.4l1.1 2.1 .7 2.7-1-3.3z" fill="#312620"/>
<path d="M395 82.9l1.2 1.5 .8 1.5-1.1-2.4z" fill="#e6572f"/>
<path d="M393.9 81.8l1.1 1.1 .9 .6-1.2-1.7z" fill="#fb4b30"/>
<path d="M393.9 81.8l1.1 1.1 1.2 1.5 1.1 2.1 1.1 2.9 .6 4.3 .5 6 .6 3.9 1-3.1-1.1-.7-1-3-1-4.6-.9-4.9-.7-3-.8-1.8-.9-.7z" class="m"/>
<path d="M334 74.9l4.6 1.3 4.4-4.3-4.5-1.3z" fill="#ff3131"/>
<path d="M334 74.9l4.6 1.3 4.4-4.3-4.5-1.3z" class="m"/>
<path d="M302.8 86.6l1.2-3.6 1.3-2.5 1.4-1.3 1.5-2.4 1.7-.8 1.8 .8-1.6-2-1.5-1.5-1.5-.7-1.5 3-1.4 4.9z" fill="#bf392c"/>
<path d="M305.6 75.6l1.4-.9 1.6-1.4-1.5-.7z" fill="#cb322c"/>
<path d="M302.8 86.6l1.2-3.6 1.4-5-1.2 2.5z" fill="#7e4826"/>
<path d="M307 74.7l1.4 .2 1.7-.1-1.5-1.5z" fill="#ff3932"/>
<path d="M304.2 80.5l1.2-2.5 1.6-3.3-1.4 .9z" fill="#8a3627"/>
<path d="M308.4 74.9l1.5 1.1 1.8 .8-1.6-2z" fill="#fb4130"/>
<path d="M305.4 78l1.4-1.2 1.6-1.9-1.4-.2z" fill="#b6322b"/>
<path d="M304 83l1.3-2.5 1.5-3.7-1.4 1.2z" fill="#8a3a27"/>
<path d="M306.8 76.8l1.4 0 1.7-.8-1.5-1.1z" fill="#ff3631"/>
<path d="M305.3 80.5l1.4-1.3 1.5-2.4-1.4 0z" fill="#a7322a"/>
<path d="M302.8 86.6l1.2-3.6 1.3-2.5 1.4-1.3 1.5-2.4 1.7-.8 1.8 .8-1.6-2-1.5-1.5-1.5-.7-1.5 3-1.4 4.9z" class="m"/>
<path d="M251.8 150.6l1-.5 .9-.6 .9-.8 .9-.9 1.2-3 1.1-3.5 1.1-4 1-4.6-.7 2.4-.7 2.1-.8 1.8-.8 1.5-1.2 3-1.3 2.6-1.2 2.4z" fill="#492988"/>
<path d="M254.4 146.1l.9-.9 1.2-2.9-.8 1.2z" fill="#57278a"/>
<path d="M255.7 143.5l.8-1.2 1.2-3.3-.8 1.5z" fill="#492784"/>
<path d="M253.2 148.5l.9-.7 1.2-2.6-.9 .9z" fill="#612890"/>
<path d="M251.8 150.6l1-.5 1.3-2.3-.9 .7z" fill="#70299e"/>
<path d="M254.1 147.8l.9-.8 1.2-2.8-.9 1z" fill="#57278b"/>
<path d="M255.3 145.2l.9-1 1.2-3.3-.9 1.4z" fill="#4a2786"/>
<path d="M252.8 150.1l.9-.6 1.3-2.5-.9 .8z" fill="#632894"/>
<path d="M256.5 142.3l.9-1.4 1.1-3.7-.8 1.8z" fill="#382680"/>
<path d="M255 147l.8-1 1.2-3.1-.8 1.3z" fill="#4c2787"/>
<path d="M253.7 149.5l.9-.8 1.2-2.7-.8 1z" fill="#58278d"/>
<path d="M256.2 144.2l.8-1.3 1.2-3.7-.8 1.7z" fill="#3a2782"/>
<path d="M257.4 140.9l.8-1.7 1-4.1-.7 2.1z" fill="#27267f"/>
<path d="M254.6 148.7l.9-.9 1.2-3-.9 1.2z" fill="#4d2789"/>
<path d="M255.8 146l.9-1.2 1.1-3.5-.8 1.6z" fill="#3c2784"/>
<path d="M257 142.9l.8-1.6 1.1-4-.7 1.9z" fill="#292681"/>
<path d="M258.2 139.2l.7-1.9 1-4.6-.7 2.4z" fill="#26467f"/>
<path d="M251.8 150.6l1-.5 .9-.6 .9-.8 .9-.9 1.2-3 1.1-3.5 1.1-4 1-4.6-.7 2.4-.7 2.1-.8 1.8-.8 1.5-1.2 3-1.3 2.6-1.2 2.4z" class="m"/>
<path d="M374.8 75.5l4.7 1.4 3.9-4.3-4.6-1.3z" fill="#ff3131"/>
<path d="M374.8 75.5l4.7 1.4 3.9-4.3-4.6-1.3z" class="m"/>
<path d="M414.7 141.5l1.1 1.2 1.3-5.9-1.4 1.9z" fill="#772bb7"/>
<path d="M415.8 142.7l1.3 0 1.5-8.4-1.5 2.5z" fill="#6529a7"/>
<path d="M416.3 142.9l1.1 2.1 1-3.2-1.3 .9z" fill="#be33ff"/>
<path d="M415.3 139.7l1 3.2 .8-.2-1.3 0z" fill="#2d2137"/>
<path d="M417.4 145l1 .8 .2 .1 1.2-5.9-1.4 1.8z" fill="#792ab3"/>
<path d="M414.4 135.6l.9 4.1 .5 3-1.1-1.2z" fill="#2c2139"/>
<path d="M417.1 142.7l1.3-.9 1.7-10.5-1.5 3z" fill="#4f29a2"/>
<path d="M415.7 138.7l1.4-1.9 1.7-11.8-1.5 3.3z" fill="#2c299e"/>
<path d="M417.1 139.7l.9 3.7 .6 2.5-.2-.1-1-.8z" fill="#2e2139"/>
<path d="M418.4 141.8l1.4-1.8 1.9-11.9-1.6 3.2z" fill="#3229a0"/>
<path d="M416.2 135.2l.9 4.5 .3 5.3-1.1-2.1z" fill="#2b213c"/>
<path d="M417.1 136.8l1.5-2.5 1.8-12.8-1.6 3.5z" fill="#295d9d"/>
<path d="M415.3 130.2l.9 5 .1 7.7-1-3.2z" fill="#23213c"/>
<path d="M418.6 134.3l1.5-3 1.9-13.2-1.6 3.4z" fill="#299d9b"/>
<path d="M414.5 125.1l.8 5.1 0 9.5-.9-4.1z" fill="#212e3d"/>
<path d="M420.1 131.3l1.6-3.2 1.9-13.3-1.6 3.3z" fill="#299d5d"/>
<path d="M414.5 125.1L415.3 130.2L416.2 135.2L417.1 139.7L418.0 143.4L418.6 145.9M418.6 145.9L419.8 140.0L421.7 128.1L423.6 114.8L422.0 118.1L420.4 121.5L418.8 125.0L417.3 128.3L415.7 138.7L414.7 141.5L414.4 135.6L414.5 125.1" class="m"/>
<path d="M356.7 75.9l4.7 1.3 4.1-4.3-4.6-1.3z" fill="#ff3131"/>
<path d="M356.7 75.9l4.7 1.3 4.1-4.3-4.6-1.3z" class="m"/>
<path d="M406.5 91.8l1.8-3 1.8-2.4 1.8-1.9 1.5-4.7 1.2-2.1 1 .7-1.5-2-1.6-1.1-1.6-.3-1.3 3-1.4 5.2z" fill="#c0412c"/>
<path d="M406.5 91.8l1.8-3 1.6-7.2-1.7 1.6z" fill="#9b6429"/>
<path d="M409.6 78l1.7-.6 1.2-2.1-1.6-.3z" fill="#cd332d"/>
<path d="M411.3 77.4l1.6-.1 1.2-.9-1.6-1.1z" fill="#ff3631"/>
<path d="M408.2 83.2l1.7-1.6 1.4-4.2-1.7 .6z" fill="#a14029"/>
<path d="M412.9 77.3l1.7 .4 1 .7-1.5-2z" fill="#ff3c31"/>
<path d="M408.3 88.8l1.8-2.4 1.5-5.9-1.7 1.1z" fill="#9d5129"/>
<path d="M409.9 81.6l1.7-1.1 1.3-3.2-1.6 .1z" fill="#b1382a"/>
<path d="M411.6 80.5l1.8-.7 1.2-2.1-1.7-.4z" fill="#ce342d"/>
<path d="M410.1 86.4l1.8-1.9 1.5-4.7-1.8 .7z" fill="#a04229"/>
<path d="M406.5 91.8l1.8-3 1.8-2.4 1.8-1.9 1.5-4.7 1.2-2.1 1 .7-1.5-2-1.6-1.1-1.6-.3-1.3 3-1.4 5.2z" class="m"/>
<path d="M306.7 79.2l2.1-.3 2.3 1.2 2.6 .6 2.7 2.8-2.4-3.3-2.3-3.4-2.6-.6z" fill="#f14c30"/>
<path d="M311.4 78.1l2.3 2.6 2.7 2.8-2.4-3.3z" fill="#db652e"/>
<path d="M309.1 76.2l2.3 1.9 2.6 2.1-2.3-3.4z" fill="#ec502f"/>
<path d="M306.7 79.2l2.1-.3 2.6-.8-2.3-1.9z" fill="#ff3a31"/>
<path d="M308.8 78.9l2.3 1.2 2.6 .6-2.3-2.6z" fill="#ff4331"/>
<path d="M306.7 79.2l2.1-.3 2.3 1.2 2.6 .6 2.7 2.8-2.4-3.3-2.3-3.4-2.6-.6z" class="m"/>
<path d="M338.6 76.2l4.5 1.3 4.5-4.3-4.6-1.3z" fill="#ff3131"/>
<path d="M338.6 76.2l4.5 1.3 4.5-4.3-4.6-1.3z" class="m"/>
<path d="M311.1 80.1l1.5 1.2 1.6 1.4 1.5 1.3 1.8 1 1.7 1.5 1.7 1.7-1.5-1-1.5-1.7-1.5-2-1.8-2-1.8-1.3z" fill="#ba5a2b"/>
<path d="M316.1 83.4l1.6 1.8 1.7 2-1.5-1.7z" fill="#cc8b2c"/>
<path d="M317.7 85.2l1.5 1.3 1.7 1.7-1.5-1z" fill="#3d3321"/>
<path d="M314.6 81.5l1.5 1.9 1.8 2.1-1.5-2z" fill="#d07d2d"/>
<path d="M314.4 81.9l1.5 1.7 1.8 1.6-1.6-1.8z" fill="#d86d2d"/>
<path d="M315.9 83.6l1.6 1.4 1.7 1.5-1.5-1.3z" fill="#3b2c21"/>
<path d="M312.8 80.2l1.6 1.7 1.7 1.5-1.5-1.9z" fill="#df5f2e"/>
<path d="M311.1 80.1l1.5 1.2 1.8 .6-1.6-1.7z" fill="#f54830"/>
<path d="M312.6 81.3l1.6 1.4 1.7 .9-1.5-1.7z" fill="#ea532f"/>
<path d="M314.2 82.7l1.5 1.3 1.8 1-1.6-1.4z" fill="#de5b2e"/>
<path d="M311.1 80.1l1.5 1.2 1.6 1.4 1.5 1.3 1.8 1 1.7 1.5 1.7 1.7-1.5-1-1.5-1.7-1.5-2-1.8-2-1.8-1.3z" class="m"/>
<path d="M379.5 76.9l4.8 1.3 3.8-4.3-4.7-1.3z" fill="#ff3131"/>
<path d="M379.5 76.9l4.8 1.3 3.8-4.3-4.7-1.3z" class="m"/>
<path d="M399.8 90.6l1.1 1.7 1.2 2.4 1 3 1.1 3.9 .3 7.9 .2 9.8 .4 5.7 1.1-4.4-1.3 1.3-1.1-1.1-1-3.8-.8-5.8-.4-8.4-.4-6.6-.6-3.9z" fill="#2c3234"/>
<path d="M404.1 121.3l1 3.7 1.1-4.4-1.3 1.3z" fill="#3b37ff"/>
<path d="M403.3 115.7l.8 5.6 .8 .6-1.1-1.1z" fill="#202431"/>
<path d="M402.5 109.2l.8 6.5 .5 5.1-1-3.8z" fill="#203336"/>
<path d="M403.9 112.9l.8 6.4 .4 5.7-1-3.7z" fill="#212d37"/>
<path d="M401.6 102.8l.9 6.4 .3 7.8-.8-5.8z" fill="#213627"/>
<path d="M403 106.5l.9 6.4 .2 8.4-.8-5.6z" fill="#21382f"/>
<path d="M402.2 100.8l.8 5.7 .3 9.2-.8-6.5z" fill="#243721"/>
<path d="M403.6 103.9l.9 5.6 .2 9.8-.8-6.4z" fill="#213821"/>
<path d="M401.2 96.2l1 4.6 .3 8.4-.9-6.4z" fill="#323621"/>
<path d="M402.7 99.1l.9 4.8 .3 9-.9-6.4z" fill="#2f3821"/>
<path d="M401.6 95.3l1.1 3.8 .3 7.4-.8-5.7z" fill="#363421"/>
<path d="M403.1 97.7l1.1 3.9 .3 7.9-.9-5.6z" fill="#383621"/>
<path d="M400.6 92.3l1 3 .6 5.5-1-4.6z" fill="#352d20"/>
<path d="M402.1 94.7l1 3 .5 6.2-.9-4.8z" fill="#362f20"/>
<path d="M400.9 92.3l1.2 2.4 .6 4.4-1.1-3.8z" fill="#342a20"/>
<path d="M399.8 90.6l1.1 1.7 .7 3-1-3z" fill="#342720"/>
<path d="M399.8 90.6l1.1 1.7 1.2 2.4 1 3 1.1 3.9 .3 7.9 .2 9.8 .4 5.7 1.1-4.4-1.3 1.3-1.1-1.1-1-3.8-.8-5.8-.4-8.4-.4-6.6-.6-3.9z" class="m"/>
<path d="M410.6 107.1l1.1 3.7 .9 4.4 1 4.8 .9 5.1-.1 10.5 .3 5.9 1-2.8 1.6-10.4-1.5 3.1-1.5 2.6-1.4 1.8-1.2 .6-.7-1.9-.1-9.1 0-10.4z" fill="#412f64"/>
<path d="M411 134.5l1 3.2 .9-1.9-1.2 .6z" fill="#9230f9"/>
<path d="M412 137.7l1.1 1.6 1.2-5.3-1.4 1.8z" fill="#7f2dd2"/>
<path d="M413.1 139.3l1.2 .3 1.5-8.2-1.5 2.6z" fill="#612aa7"/>
<path d="M413.6 139.1l1.1 2.4 1-2.8-1.4 .9z" fill="#b333ff"/>
<path d="M412.7 135.4l.9 3.7 .7 .5-1.2-.3z" fill="#2c2137"/>
<path d="M414.3 139.6l1.4-.9 1.6-10.4-1.5 3.1z" fill="#4929a1"/>
<path d="M411.8 130.7l.9 4.7 .4 3.9-1.1-1.6z" fill="#29213a"/>
<path d="M410.9 125.4l.9 5.3 .2 7-1-3.2z" fill="#22213b"/>
<path d="M413.5 130.7l.9 4.9 .3 5.9-1.1-2.4z" fill="#27213b"/>
<path d="M412.7 125.5l.8 5.2 .1 8.4-.9-3.7z" fill="#21253c"/>
<path d="M411.8 120.1l.9 5.4 0 9.9-.9-4.7z" fill="#21383c"/>
<path d="M410.9 115l.9 5.1 0 10.6-.9-5.3z" fill="#213c2d"/>
<path d="M413.6 120l.9 5.1-.1 10.5-.9-4.9z" fill="#213d38"/>
<path d="M412.6 115.2l1 4.8-.1 10.7-.8-5.2z" fill="#213c25"/>
<path d="M411.7 110.8l.9 4.4 .1 10.3-.9-5.4z" fill="#2c3c21"/>
<path d="M410.6 107.1l1.1 3.7 .1 9.3-.9-5.1z" fill="#373b21"/>
<path d="M410.6 107.1l1.1 3.7 .9 4.4 1 4.8 .9 5.1-.1 10.5 .3 5.9 1-2.8 1.6-10.4-1.5 3.1-1.5 2.6-1.4 1.8-1.2 .6-.7-1.9-.1-9.1 0-10.4z" class="m"/>
<path d="M325.1 83l2.1-3.6 2.2-.2 2.4-2.2 2.2-2.1-2.2-.2-2.1 3.2-2.3 3.2z" fill="#942e28"/>
<path d="M327.4 81.1l2.1-4 2.3-2.4-2.1 3.2z" fill="#4f2b22"/>
<path d="M329.5 77.1l2.3-.1 2.2-2.1-2.2-.2z" fill="#da312e"/>
<path d="M325.1 83l2.1-3.6 2.3-2.3-2.1 4z" fill="#522c23"/>
<path d="M327.2 79.4l2.2-.2 2.4-2.2-2.3 .1z" fill="#d3312d"/>
<path d="M325.1 83l2.1-3.6 2.2-.2 2.4-2.2 2.2-2.1-2.2-.2-2.1 3.2-2.3 3.2z" class="m"/>
<path d="M411.9 84.5l1.4-1.1 1.3-.8 1.3-.5 1.3-.1 .8-.6 .6 1.5 .5 4.1 .2 7-.8-5.5-.9-4.3-1-3.4-1-2.4-.8-.8-.8 .8-1 2.3z" fill="#952f28"/>
<path d="M418.1 83.4l1 3.6 .2 7-.8-5.5z" fill="#363020"/>
<path d="M417.1 80.7l1 2.7 .4 5.1-.9-4.3z" fill="#342920"/>
<path d="M416 78.8l1.1 1.9 .5 3.5-1-3.4z" fill="#342520"/>
<path d="M414.8 77.6l1.2 1.2 .6 2-1-2.4z" fill="#342320"/>
<path d="M417.6 80.9l1 2 .5 4.1-1-3.6z" fill="#342620"/>
<path d="M416.4 79.5l1.2 1.4 .5 2.5-1-2.7z" fill="#342420"/>
<path d="M415.2 78.7l1.2 .8 .7 1.2-1.1-1.9z" fill="#ed3d2f"/>
<path d="M414 78.4l1.2 .3 .8 .1-1.2-1.2z" fill="#ff3731"/>
<path d="M413 80.7l1.3-.4 .9-1.6-1.2-.3z" fill="#d1322d"/>
<path d="M414.3 80.3l1.3-.1 .8-.7-1.2-.8z" fill="#ff3431"/>
<path d="M416.8 80.5l1.2 .9 .6 1.5-1-2z" fill="#352220"/>
<path d="M415.6 80.2l1.2 .3 .8 .4-1.2-1.4z" fill="#ff3831"/>
<path d="M411.9 84.5l1.4-1.1 1-3.1-1.3 .4z" fill="#a33a29"/>
<path d="M413.3 83.4l1.3-.8 1-2.4-1.3 .1z" fill="#b5352b"/>
<path d="M414.6 82.6l1.3-.5 .9-1.6-1.2-.3z" fill="#cf322d"/>
<path d="M415.9 82.1l1.3-.1 .8-.6-1.2-.9z" fill="#ff3531"/>
<path d="M411.9 84.5l1.4-1.1 1.3-.8 1.3-.5 1.3-.1 .8-.6 .6 1.5 .5 4.1 .2 7-.8-5.5-.9-4.3-1-3.4-1-2.4-.8-.8-.8 .8-1 2.3z" class="m"/>
<path d="M406.2 120.6l1.4-2.8 1.5-3.6 1.5-3.8 1.5-3.6 1.5-10.1 1.4-7.3 1.2-4.7 1-2.7-1.3 .1-1.3 .5-1.3 .8-1.4 1.1-1.2 5.8-1.4 8.4-1.5 10.9z" fill="#827130"/>
<path d="M406.2 120.6l1.4-2.8 1.6-11.8-1.4 3.6z" fill="#289980"/>
<path d="M407.6 117.8l1.5-3.6 1.6-11.7-1.5 3.5z" fill="#289741"/>
<path d="M407.8 109.6l1.4-3.6 1.6-10.2-1.5 2.9z" fill="#619728"/>
<path d="M409.1 114.2l1.5-3.8 1.6-10.9-1.5 3z" fill="#469728"/>
<path d="M409.2 106l1.5-3.5 1.5-9.2-1.4 2.5z" fill="#8c9728"/>
<path d="M410.6 110.4l1.5-3.6 1.5-10.1-1.4 2.8z" fill="#739728"/>
<path d="M409.3 98.7l1.5-2.9 1.3-7.4-1.4 1.9z" fill="#997b28"/>
<path d="M410.7 102.5l1.5-3 1.4-8.3-1.4 2.1z" fill="#988628"/>
<path d="M410.7 90.3l1.4-1.9 1.2-5-1.4 1.1z" fill="#9c5229"/>
<path d="M410.8 95.8l1.4-2.5 1.3-6.4-1.4 1.5z" fill="#9a6828"/>
<path d="M412.1 88.4l1.4-1.5 1.1-4.3-1.3 .8z" fill="#9f4629"/>
<path d="M412.2 99.5l1.4-2.8 1.4-7.3-1.4 1.8z" fill="#9a7128"/>
<path d="M412.2 93.3l1.4-2.1 1.2-5.6-1.3 1.3z" fill="#9c5829"/>
<path d="M413.5 86.9l1.3-1.3 1.1-3.5-1.3 .5z" fill="#a23c29"/>
<path d="M413.6 91.2l1.4-1.8 1.2-4.7-1.4 .9z" fill="#9e4a29"/>
<path d="M414.8 85.6l1.4-.9 1-2.7-1.3 .1z" fill="#b0352a"/>
<path d="M406.2 120.6l1.4-2.8 1.5-3.6 1.5-3.8 1.5-3.6 1.5-10.1 1.4-7.3 1.2-4.7 1-2.7-1.3 .1-1.3 .5-1.3 .8-1.4 1.1-1.2 5.8-1.4 8.4-1.5 10.9z" class="m"/>
<path d="M361.4 77.2l4.6 1.3 4.2-4.3-4.7-1.3z" fill="#ff3131"/>
<path d="M361.4 77.2l4.6 1.3 4.2-4.3-4.7-1.3z" class="m"/>
<path d="M384.3 78.2l4.8 1.4 3.7-3-4.7-2.7z" fill="#ff3732"/>
<path d="M384.3 78.2l4.8 1.4 3.7-3-4.7-2.7z" class="m"/>
<path d="M343.1 77.5l4.7 1.4 4.3-4.4-4.5-1.3z" fill="#ff3131"/>
<path d="M343.1 77.5l4.7 1.4 4.3-4.4-4.5-1.3z" class="m"/>
<path d="M315.7 84l1.5 .7 1.5 .2 1.5-.5 1.7-.4 1.6-.4 1.6-.6-1.4 2.8-1.3 1.9-1.5 .5-1.7-1.7-1.7-1.5z" fill="#4c3422"/>
<path d="M319.2 86.5l1.5 .1 1.7 1.1-1.5 .5z" fill="#4c3e22"/>
<path d="M320.7 86.6l1.4-1.1 1.6 .3-1.3 1.9z" fill="#543f23"/>
<path d="M317.5 85l1.5 .5 1.7 1.1-1.5-.1z" fill="#443222"/>
<path d="M322.1 85.5l1.4-1.9 1.6-.6-1.4 2.8z" fill="#563823"/>
<path d="M319 85.5l1.4-.4 1.7 .4-1.4 1.1z" fill="#503623"/>
<path d="M320.4 85.1l1.5-1.1 1.6-.4-1.4 1.9z" fill="#523223"/>
<path d="M315.7 84l1.5 .7 1.8 .8-1.5-.5z" fill="#3e2921"/>
<path d="M317.2 84.7l1.5 .2 1.7 .2-1.4 .4z" fill="#482d22"/>
<path d="M318.7 84.9l1.5-.5 1.7-.4-1.5 1.1z" fill="#4d2c22"/>
<path d="M315.7 84l1.5 .7 1.5 .2 1.5-.5 1.7-.4 1.6-.4 1.6-.6-1.4 2.8-1.3 1.9-1.5 .5-1.7-1.7-1.7-1.5z" class="m"/>
<path d="M389.1 79.6l1.6 .5 1.6 .7 1.6 1 1.1 .1 1.1 1.7 1 3.7-1.4-5.2-1.4-3.4-1.5-2.1-1.2 .6-1.3 1.1z" fill="#f74b31"/>
<path d="M394.7 80.4l1.4 3.2 1 3.7-1.4-5.2z" fill="#d5752d"/>
<path d="M393.1 78.4l1.6 2 1 1.7-1.4-3.4z" fill="#ee5a2f"/>
<path d="M391.6 77.2l1.5 1.2 1.2 .3-1.5-2.1z" fill="#ff4931"/>
<path d="M393.5 80.2l1.5 1.7 1.1 1.7-1.4-3.2z" fill="#ef562f"/>
<path d="M390.3 78.3l1.6 .7 1.2-.6-1.5-1.2z" fill="#ff3c32"/>
<path d="M391.9 79l1.6 1.2 1.2 .2-1.6-2z" fill="#ff4731"/>
<path d="M389.1 79.6l1.6 .5 1.2-1.1-1.6-.7z" fill="#ff3432"/>
<path d="M390.7 80.1l1.6 .7 1.2-.6-1.6-1.2z" fill="#ff3a32"/>
<path d="M392.3 80.8l1.6 1 1.1 .1-1.5-1.7z" fill="#ff4331"/>
<path d="M389.1 79.6l1.6 .5 1.6 .7 1.6 1 1.1 .1 1.1 1.7 1 3.7-1.4-5.2-1.4-3.4-1.5-2.1-1.2 .6-1.3 1.1z" class="m"/>
<path d="M256.9 140.5l.8-1.5 .8-1.8 .7-2.1 .7-2.4 .9-5.4 .8-6 .8-6.7 .7-7-.6 3.7-.5 4-.6 3.9-.5 3.7-.9 5.5-.9 4.7-1.1 4z" fill="#2e645f"/>
<path d="M256.9 140.5l.8-1.5 1.1-3.9-.8 2z" fill="#36267f"/>
<path d="M258 137.1l.8-2 .9-4.5-.6 2.5z" fill="#262d7c"/>
<path d="M259.1 133.1l.6-2.5 .9-5.3-.6 3.1z" fill="#265a7a"/>
<path d="M257.7 139l.8-1.8 1-4.4-.7 2.3z" fill="#26297e"/>
<path d="M258.8 135.1l.7-2.3 .9-5-.7 2.8z" fill="#26547c"/>
<path d="M260 128.4l.6-3.1 .8-6.1-.5 3.7z" fill="#267963"/>
<path d="M258.5 137.2l.7-2.1 1-4.9-.7 2.6z" fill="#264d7e"/>
<path d="M259.7 130.6l.7-2.8 .8-5.9-.6 3.4z" fill="#267b6e"/>
<path d="M259.5 132.8l.7-2.6 .8-5.6-.6 3.2z" fill="#267c79"/>
<path d="M260.6 125.3l.6-3.4 .8-6.6-.6 3.9z" fill="#267a33"/>
<path d="M259.2 135.1l.7-2.4 .9-5.4-.6 2.9z" fill="#26767e"/>
<path d="M260.4 127.8l.6-3.2 .8-6.3-.6 3.6z" fill="#267c40"/>
<path d="M260.2 130.2l.6-2.9 .8-6-.6 3.3z" fill="#267d4e"/>
<path d="M261.2 121.9l.6-3.6 .7-7-.5 4z" fill="#437c26"/>
<path d="M261 124.6l.6-3.3 .8-6.7-.6 3.7z" fill="#377d26"/>
<path d="M261.8 118.3l.6-3.7 .7-7-.6 3.7z" fill="#6c7e26"/>
<path d="M256.9 140.5l.8-1.5 .8-1.8 .7-2.1 .7-2.4 .9-5.4 .8-6 .8-6.7 .7-7-.6 3.7-.5 4-.6 3.9-.5 3.7-.9 5.5-.9 4.7-1.1 4z" class="m"/>
<path d="M278 109.1l1.3 1.6 1.2 1.4 1.2 1.3 1.2 1.1 1.7 2.5 1.6 2 1.6 1.4 1.5 .9-1.1-.2-1.1-.4-1.1-.5-1.1-.7-1.6-1.9-1.7-2.4-1.8-2.9z" fill="#253f2b"/>
<path d="M283.3 117.6l1.1 .9 1.6 1.7-1.1-.7z" fill="#213f38"/>
<path d="M284.4 118.5l1.2 .8 1.5 1.4-1.1-.5z" fill="#21403b"/>
<path d="M285.6 119.3l1.1 .6 1.5 1.2-1.1-.4z" fill="#21413d"/>
<path d="M286.7 119.9l1.1 .5 1.5 .9-1.1-.2z" fill="#22433f"/>
<path d="M281.6 115.2l1.2 1.2 1.6 2.1-1.1-.9z" fill="#213e2a"/>
<path d="M282.8 116.4l1.1 1 1.7 1.9-1.2-.8z" fill="#213f2d"/>
<path d="M283.9 117.4l1.2 .8 1.6 1.7-1.1-.6z" fill="#213f2f"/>
<path d="M285.1 118.2l1.1 .8 1.6 1.4-1.1-.5z" fill="#214031"/>
<path d="M279.8 112.3l1.2 1.4 1.8 2.7-1.2-1.2z" fill="#273d21"/>
<path d="M281 113.7l1.2 1.2 1.7 2.5-1.1-1z" fill="#243e21"/>
<path d="M282.2 114.9l1.2 1.1 1.7 2.2-1.2-.8z" fill="#223f21"/>
<path d="M283.4 116l1.2 1 1.6 2-1.1-.8z" fill="#213f22"/>
<path d="M280.5 112.1l1.2 1.3 1.7 2.6-1.2-1.1z" fill="#2e3e21"/>
<path d="M279.3 110.7l1.2 1.4 1.7 2.8-1.2-1.2z" fill="#303d21"/>
<path d="M281.7 113.4l1.2 1.1 1.7 2.5-1.2-1z" fill="#2c3e21"/>
<path d="M278 109.1l1.3 1.6 1.7 3-1.2-1.4z" fill="#333c21"/>
<path d="M278 109.1l1.3 1.6 1.2 1.4 1.2 1.3 1.2 1.1 1.7 2.5 1.6 2 1.6 1.4 1.5 .9-1.1-.2-1.1-.4-1.1-.5-1.1-.7-1.6-1.9-1.7-2.4-1.8-2.9z" class="m"/>
<path d="M272.9 101l1.3 2.3 1.3 2.1 1.3 1.9 1.2 1.8 1.8 3.2 1.8 2.9 1.7 2.4 1.6 1.9-1.1-.9-1.2-1-1.1-1.1-1.2-1.4-1.7-2.9-1.9-3.5-1.9-3.8z" fill="#2b3b25"/>
<path d="M281 115.3l1.1 1.2 1.7 2.1-1.2-1z" fill="#213d32"/>
<path d="M279.8 113.8l1.2 1.5 1.6 2.3-1.1-1.1z" fill="#213c2e"/>
<path d="M282.1 116.5l1.2 1.1 1.6 1.9-1.1-.9z" fill="#213e36"/>
<path d="M278.6 112.2l1.2 1.6 1.7 2.7-1.2-1.4z" fill="#213c2a"/>
<path d="M280.4 113.9l1.2 1.3 1.7 2.4-1.2-1.1z" fill="#213d26"/>
<path d="M279.2 112.3l1.2 1.6 1.7 2.6-1.1-1.2z" fill="#213c22"/>
<path d="M278 110.6l1.2 1.7 1.8 3-1.2-1.5z" fill="#233c21"/>
<path d="M276.7 108.7l1.3 1.9 1.8 3.2-1.2-1.6z" fill="#273b21"/>
<path d="M278.6 110.7l1.2 1.6 1.8 2.9-1.2-1.3z" fill="#293c21"/>
<path d="M277.4 109l1.2 1.7 1.8 3.2-1.2-1.6z" fill="#2d3c21"/>
<path d="M276.1 107l1.3 2 1.8 3.3-1.2-1.7z" fill="#303b21"/>
<path d="M274.8 104.9l1.3 2.1 1.9 3.6-1.3-1.9z" fill="#343a21"/>
<path d="M276.8 107.3l1.2 1.8 1.8 3.2-1.2-1.6z" fill="#363c21"/>
<path d="M275.5 105.4l1.3 1.9 1.8 3.4-1.2-1.7z" fill="#393b21"/>
<path d="M274.2 103.3l1.3 2.1 1.9 3.6-1.3-2z" fill="#3a3821"/>
<path d="M272.9 101l1.3 2.3 1.9 3.7-1.3-2.1z" fill="#393421"/>
<path d="M272.9 101l1.3 2.3 1.3 2.1 1.3 1.9 1.2 1.8 1.8 3.2 1.8 2.9 1.7 2.4 1.6 1.9-1.1-.9-1.2-1-1.1-1.1-1.2-1.4-1.7-2.9-1.9-3.5-1.9-3.8z" class="m"/>
<path d="M293.5 120.4l1-.8 1-.9 1-1.2 .9-1.3 1.2-2.8 1.1-3.4 1.1-3.9 1.1-4.1-.9 2.3-1 2.4-.9 2.4-.9 2.3-1.1 3.3-1.1 2.6-1.2 1.9z" fill="#378133"/>
<path d="M296 117.3l.9-1.5 1.2-3.1-1 2z" fill="#268043"/>
<path d="M297.1 114.7l1-2 1-3.6-.9 2.3z" fill="#267c29"/>
<path d="M294.8 119.2l.9-1.1 1.2-2.3-.9 1.5z" fill="#278556"/>
<path d="M293.5 120.4l1-.8 1.2-1.5-.9 1.1z" fill="#288e63"/>
<path d="M296.9 115.8l1-1.8 1.1-3.4-.9 2.1z" fill="#287e26"/>
<path d="M295.7 118.1l1-1.4 1.2-2.7-1 1.8z" fill="#27823b"/>
<path d="M298.1 112.7l.9-2.1 1-3.9-.9 2.4z" fill="#3d7b26"/>
<path d="M294.5 119.6l1-.9 1.2-2-1 1.4z" fill="#27884a"/>
<path d="M296.7 116.7l1-1.6 1.1-3.1-.9 2z" fill="#2c8026"/>
<path d="M297.9 114l.9-2 1.1-3.6-.9 2.2z" fill="#3f7d26"/>
<path d="M295.5 118.7l1-1.2 1.2-2.4-1 1.6z" fill="#278532"/>
<path d="M299 110.6l.9-2.2 1.1-4.1-1 2.4z" fill="#567b26"/>
<path d="M297.7 115.1l.9-1.7 1.1-3.4-.9 2z" fill="#417f26"/>
<path d="M296.5 117.5l.9-1.3 1.2-2.8-.9 1.7z" fill="#328327"/>
<path d="M298.8 112l.9-2 1.1-3.9-.9 2.3z" fill="#567c26"/>
<path d="M299.9 108.4l.9-2.3 1.1-4.1-.9 2.3z" fill="#6f7c26"/>
<path d="M293.5 120.4l1-.8 1-.9 1-1.2 .9-1.3 1.2-2.8 1.1-3.4 1.1-3.9 1.1-4.1-.9 2.3-1 2.4-.9 2.4-.9 2.3-1.1 3.3-1.1 2.6-1.2 1.9z" class="m"/>
<path d="M366 78.5l4.8 1.4 4-4.4-4.6-1.3z" fill="#ff3131"/>
<path d="M366 78.5l4.8 1.4 4-4.4-4.6-1.3z" class="m"/>
<path d="M347.8 78.9l4.6 1.3 4.3-4.3-4.6-1.4z" fill="#ff3131"/>
<path d="M347.8 78.9l4.6 1.3 4.3-4.3-4.6-1.4z" class="m"/>
<path d="M329.4 79.2l4.6 1.4 4.6-4.4-4.6-1.3z" fill="#ff3131"/>
<path d="M329.4 79.2l4.6 1.4 4.6-4.4-4.6-1.3z" class="m"/>
<path d="M282.9 114.5l1.5 1.4 1.6 1.1 1.5 .9 2.1 1.9 2 .9 1.9-.3-1.4 .6-1.4 .3-1.4 0-2-1.3-2.2-2.3z" fill="#24442e"/>
<path d="M287.3 120l1.4 .5 2 .8-1.4 0z" fill="#22463e"/>
<path d="M288.7 120.5l1.5 .3 1.9 .2-1.4 .3z" fill="#22493f"/>
<path d="M290.2 120.8l1.4-.1 1.9-.3-1.4 .6z" fill="#224b3c"/>
<path d="M285.1 117.7l1.6 .9 2 1.9-1.4-.5z" fill="#21412b"/>
<path d="M286.7 118.6l1.5 .7 2 1.5-1.5-.3z" fill="#22442d"/>
<path d="M288.2 119.3l1.4 .5 2 .9-1.4 .1z" fill="#22472d"/>
<path d="M282.9 114.5l1.5 1.4 2.3 2.7-1.6-.9z" fill="#283f21"/>
<path d="M284.4 115.9l1.6 1.1 2.2 2.3-1.5-.7z" fill="#274021"/>
<path d="M286 117l1.5 .9 2.1 1.9-1.4-.5z" fill="#264221"/>
<path d="M282.9 114.5l1.5 1.4 1.6 1.1 1.5 .9 2.1 1.9 2 .9 1.9-.3-1.4 .6-1.4 .3-1.4 0-2-1.3-2.2-2.3z" class="m"/>
<path d="M261.9 114.3l.4-5 .4-5.2 .4-4.9 .6-4 1-4.7 1.4-1.5 1.7 1.9 2 4.1-1.4-3.3-1.3-2.7-1.2-1.2-1 .8-1 4.4-.7 6.7-.6 7.5z" fill="#7d4926"/>
<path d="M261.9 114.3l.4-5 .6-7.6-.3 5.5z" fill="#304822"/>
<path d="M262.6 107.2l.3-5.5 .7-7.1-.4 5.1z" fill="#484722"/>
<path d="M262.3 109.3l.4-5.2 .6-7.4-.4 5z" fill="#464822"/>
<path d="M263.2 99.7l.4-5.1 .9-5.2-.6 3.6z" fill="#483822"/>
<path d="M263.9 93l.6-3.6 1.4-1.6-1 .8z" fill="#483022"/>
<path d="M262.9 101.7l.4-5 .9-5.9-.6 3.8z" fill="#473922"/>
<path d="M266.5 88.8l1.3 2.1 2 4.1-1.4-3.3z" fill="#b8672b"/>
<path d="M264.5 89.4l.9-1.3 1.7 .9-1.2-1.2z" fill="#ca572c"/>
<path d="M265.4 88.1l1.1 .7 1.9 2.9-1.3-2.7z" fill="#c75b2c"/>
<path d="M263.6 94.6l.6-3.8 1.2-2.7-.9 1.3z" fill="#7a4226"/>
<path d="M262.7 104.1l.4-4.9 .8-6.4-.6 3.9z" fill="#775b26"/>
<path d="M264.2 90.8l.8-1.8 1.5-.2-1.1-.7z" fill="#aa452a"/>
<path d="M263.3 96.7l.6-3.9 1.1-3.8-.8 1.8z" fill="#7a4326"/>
<path d="M265 89l1.1 0 1.7 1.9-1.3-2.1z" fill="#dc512e"/>
<path d="M263.1 99.2l.6-4 1-4.7-.8 2.3z" fill="#7c4726"/>
<path d="M263.9 92.8l.8-2.3 1.4-1.5-1.1 0z" fill="#8b3a27"/>
<path d="M261.9 114.3l.4-5 .4-5.2 .4-4.9 .6-4 1-4.7 1.4-1.5 1.7 1.9 2 4.1-1.4-3.3-1.3-2.7-1.2-1.2-1 .8-1 4.4-.7 6.7-.6 7.5z" class="m"/>
<path d="M411.7 136.4l1.2-.6 1.4-1.8 1.5-2.6 1.5-3.1 1.9-12.9 1.7-11.6 1.5-8.6 1.3-5.1-1.4 .8-1.4 1.2-1.4 1.6-1.5 1.9-1.5 9.3-1.7 11.9-1.8 12.2z" fill="#65764f"/>
<path d="M411.7 136.4l1.2-.6 1.6-9.9-1.5 3.1z" fill="#4629a1"/>
<path d="M412.9 135.8l1.4-1.8 1.7-11.6-1.5 3.5z" fill="#29299d"/>
<path d="M414.3 134l1.5-2.6 1.8-12.5-1.6 3.5z" fill="#29629c"/>
<path d="M413 129l1.5-3.1 1.8-12.7-1.5 3.6z" fill="#289a94"/>
<path d="M415.8 131.4l1.5-3.1 1.9-12.9-1.6 3.5z" fill="#299b93"/>
<path d="M414.5 125.9l1.5-3.5 1.8-12.6-1.5 3.4z" fill="#289a54"/>
<path d="M416 122.4l1.6-3.5 1.8-12.2-1.6 3.1z" fill="#389a29"/>
<path d="M414.8 116.8l1.5-3.6 1.7-11.2-1.5 2.9z" fill="#609a28"/>
<path d="M416.3 113.2l1.5-3.4 1.7-10.4-1.5 2.6z" fill="#8c9a28"/>
<path d="M417.6 118.9l1.6-3.5 1.7-11.6-1.5 2.9z" fill="#669b29"/>
<path d="M416.5 104.9l1.5-2.9 1.5-8.3-1.5 1.9z" fill="#9b7829"/>
<path d="M417.8 109.8l1.6-3.1 1.6-9.5-1.5 2.2z" fill="#9b8929"/>
<path d="M418 102l1.5-2.6 1.4-7.3-1.4 1.6z" fill="#9d6429"/>
<path d="M419.4 106.7l1.5-2.9 1.5-8.6-1.4 2z" fill="#9c7429"/>
<path d="M419.5 99.4l1.5-2.2 1.3-6.3-1.4 1.2z" fill="#9f5329"/>
<path d="M421 97.2l1.4-2 1.3-5.1-1.4 .8z" fill="#a14529"/>
<path d="M411.7 136.4l1.2-.6 1.4-1.8 1.5-2.6 1.5-3.1 1.9-12.9 1.7-11.6 1.5-8.6 1.3-5.1-1.4 .8-1.4 1.2-1.4 1.6-1.5 1.9-1.5 9.3-1.7 11.9-1.8 12.2z" class="m"/>
<path d="M298.2 111.4l.9-2.3 .9-2.4 1-2.4 .9-2.3 1-4.2 1.1-4.1 1.1-3.7 1.1-3.3-1 1.2-1 1.7-.9 2-.9 2.5-1.1 4.6-1 4.6-1 4.3z" fill="#756a26"/>
<path d="M298.2 111.4l.9-2.3 1.1-4.1-.9 2.6z" fill="#3c7926"/>
<path d="M299.3 107.6l.9-2.6 1-4.4-.9 2.7z" fill="#567826"/>
<path d="M300.3 103.3l.9-2.7 1-4.5-.9 2.6z" fill="#757a26"/>
<path d="M301.3 98.7l.9-2.6 1.1-4.5-.9 2.5z" fill="#7c6a26"/>
<path d="M299.1 109.1l.9-2.4 1.1-4.3-.9 2.6z" fill="#567926"/>
<path d="M300.2 105l.9-2.6 1-4.4-.9 2.6z" fill="#737a26"/>
<path d="M301.2 100.6l.9-2.6 1.1-4.3-1 2.4z" fill="#7d6d26"/>
<path d="M302.2 96.1l1-2.4 1-4.1-.9 2z" fill="#805c26"/>
<path d="M300 106.7l1-2.4 1-4.3-.9 2.4z" fill="#717b26"/>
<path d="M301.1 102.4l.9-2.4 1.1-4.3-1 2.3z" fill="#7d7026"/>
<path d="M302.1 98l1-2.3 1-4.1-.9 2.1z" fill="#816026"/>
<path d="M303.2 93.7l.9-2.1 1.1-3.7-1 1.7z" fill="#855027"/>
<path d="M301 104.3l.9-2.3 1-4.2-.9 2.2z" fill="#7e7326"/>
<path d="M302 100l.9-2.2 1.1-4.1-.9 2z" fill="#816326"/>
<path d="M303.1 95.7l.9-2 1.1-3.7-1 1.6z" fill="#855427"/>
<path d="M304.1 91.6l1-1.6 1.1-3.3-1 1.2z" fill="#8b4627"/>
<path d="M298.2 111.4l.9-2.3 .9-2.4 1-2.4 .9-2.3 1-4.2 1.1-4.1 1.1-3.7 1.1-3.3-1 1.2-1 1.7-.9 2-.9 2.5-1.1 4.6-1 4.6-1 4.3z" class="m"/>
<path d="M267.6 92.4l1.3 1.8 1.3 2.2 1.3 2.3 1.4 2.3 1.9 3.9 1.9 3.8 1.9 3.5 1.7 2.9-1.2-1.5-1.2-1.8-1.3-2-1.2-2.4-2-4.3-2-4.5-2-3.9z" fill="#423b22"/>
<path d="M277.3 110.3l1.3 1.9 1.7 2.9-1.2-1.5z" fill="#213b25"/>
<path d="M276 108.2l1.3 2.1 1.8 3.3-1.2-1.8z" fill="#223a21"/>
<path d="M274.7 105.8l1.3 2.4 1.9 3.6-1.3-2z" fill="#273921"/>
<path d="M273.4 103.1l1.3 2.7 1.9 4-1.2-2.4z" fill="#2c3821"/>
<path d="M275.4 106.5l1.3 2.2 1.9 3.5-1.3-1.9z" fill="#2b3a21"/>
<path d="M274.1 104.1l1.3 2.4 1.9 3.8-1.3-2.1z" fill="#2f3921"/>
<path d="M272.8 101.5l1.3 2.6 1.9 4.1-1.3-2.4z" fill="#343821"/>
<path d="M271.4 98.6l1.4 2.9 1.9 4.3-1.3-2.7z" fill="#383721"/>
<path d="M273.5 102.5l1.3 2.4 1.9 3.8-1.3-2.2z" fill="#383921"/>
<path d="M272.1 100l1.4 2.5 1.9 4-1.3-2.4z" fill="#383621"/>
<path d="M270.8 97.3l1.3 2.7 2 4.1-1.3-2.6z" fill="#383221"/>
<path d="M269.4 94.7l1.4 2.6 2 4.2-1.4-2.9z" fill="#372e21"/>
<path d="M271.5 98.7l1.4 2.3 1.9 3.9-1.3-2.4z" fill="#393121"/>
<path d="M270.2 96.4l1.3 2.3 2 3.8-1.4-2.5z" fill="#382d21"/>
<path d="M268.9 94.2l1.3 2.2 1.9 3.6-1.3-2.7z" fill="#b6632b"/>
<path d="M267.6 92.4l1.3 1.8 1.9 3.1-1.4-2.6z" fill="#be542b"/>
<path d="M267.6 92.4l1.3 1.8 1.3 2.2 1.3 2.3 1.4 2.3 1.9 3.9 1.9 3.8 1.9 3.5 1.7 2.9-1.2-1.5-1.2-1.8-1.3-2-1.2-2.4-2-4.3-2-4.5-2-3.9z" class="m"/>
<path d="M370.8 79.9l4.7 1.4 4-4.4-4.7-1.4z" fill="#ff3131"/>
<path d="M370.8 79.9l4.7 1.4 4-4.4-4.7-1.4z" class="m"/>
<path d="M423.7 90.1l1.3-.3 1.3 .3 1.2 1.1 1.1 1.7 .3 5.4-.2 9.2-.4 11-.2 9.2-.8-4.8-.6-5.8-.7-6.2-.7-6.1 .1-8.9-.2-5.6-.6-1.9z" fill="#3e3025"/>
<path d="M427.7 112.4l.6 6.1-.2 9.2-.8-4.8z" fill="#212b3a"/>
<path d="M427 106.4l.7 6-.4 10.5-.6-5.8z" fill="#213a34"/>
<path d="M426.2 100.8l.8 5.6-.3 10.7-.7-6.2z" fill="#233a21"/>
<path d="M427.9 102.1l.8 5.4-.4 11-.6-6.1z" fill="#253b21"/>
<path d="M425.4 95.9l.8 4.9-.2 10.1-.7-6.1z" fill="#313a21"/>
<path d="M427.1 97.3l.8 4.8-.2 10.3-.7-6z" fill="#333a21"/>
<path d="M426.2 93.4l.9 3.9-.1 9.1-.8-5.6z" fill="#3a3521"/>
<path d="M425.2 90.3l1 3.1 0 7.4-.8-4.9z" fill="#392e21"/>
<path d="M427.9 94.6l1 3.7-.2 9.2-.8-5.4z" fill="#3a3521"/>
<path d="M426.9 91.7l1 2.9 0 7.5-.8-4.8z" fill="#392e21"/>
<path d="M425.8 89.7l1.1 2 .2 5.6-.9-3.9z" fill="#372821"/>
<path d="M424.6 88.4l1.2 1.3 .4 3.7-1-3.1z" fill="#372421"/>
<path d="M427.5 91.2l1.1 1.7 .3 5.4-1-3.7z" fill="#382721"/>
<path d="M426.3 90.1l1.2 1.1 .4 3.4-1-2.9z" fill="#382421"/>
<path d="M423.7 90.1l1.3-.3 .8-.1-1.2-1.3z" fill="#ff3931"/>
<path d="M423.7 90.1l1.3-.3 1.3 .3 1.2 1.1 1.1 1.7 .3 5.4-.2 9.2-.4 11-.2 9.2-.8-4.8-.6-5.8-.7-6.2-.7-6.1 .1-8.9-.2-5.6-.6-1.9z" class="m"/>
<path d="M302.4 94.1l1.2-3.2 1.3-2.5 1.3-1.7 1.6-3.4 1.6-2.2 1.7-1-1.5-.9-1.5-.4-1.4 .4-1.5 3.9-1.5 5.1z" fill="#a73c2a"/>
<path d="M302.4 94.1l1.2-3.2 1.4-5.2-1.3 2.5z" fill="#815426"/>
<path d="M305.2 83.1l1.3-1.5 1.6-2.8-1.4 .4z" fill="#9d3429"/>
<path d="M303.7 88.2l1.3-2.5 1.5-4.1-1.3 1.5z" fill="#894127"/>
<path d="M306.5 81.6l1.4-.6 1.7-1.8-1.5-.4z" fill="#cd322d"/>
<path d="M307.9 81l1.5 .1 1.7-1-1.5-.9z" fill="#ff3431"/>
<path d="M305 85.7l1.4-1.6 1.5-3.1-1.4 .6z" fill="#963728"/>
<path d="M303.6 90.9l1.3-2.5 1.5-4.3-1.4 1.6z" fill="#894627"/>
<path d="M306.4 84.1l1.4-.8 1.6-2.2-1.5-.1z" fill="#bb332b"/>
<path d="M304.9 88.4l1.3-1.7 1.6-3.4-1.4 .8z" fill="#933a28"/>
<path d="M302.4 94.1l1.2-3.2 1.3-2.5 1.3-1.7 1.6-3.4 1.6-2.2 1.7-1-1.5-.9-1.5-.4-1.4 .4-1.5 3.9-1.5 5.1z" class="m"/>
<path d="M352.4 80.2l4.7 1.4 4.3-4.4-4.7-1.3z" fill="#ff3131"/>
<path d="M352.4 80.2l4.7 1.4 4.3-4.4-4.7-1.3z" class="m"/>
<path d="M334 80.6l4.6 1.4 4.5-4.5-4.5-1.3z" fill="#ff3131"/>
<path d="M334 80.6l4.6 1.4 4.5-4.5-4.5-1.3z" class="m"/>
<path d="M375.5 81.3l4.8 1.4 4-4.5-4.8-1.3z" fill="#ff3131"/>
<path d="M375.5 81.3l4.8 1.4 4-4.5-4.8-1.3z" class="m"/>
<path d="M320.2 84.4l2.2-.9 2.3 .2 2.4-2.2 2.3-2.3-2.2 .2-2.1 3.6-2.4 .8z" fill="#932d28"/>
<path d="M322.7 83.8l2.1-2.3 2.4-2.1-2.1 3.6z" fill="#502b23"/>
<path d="M324.8 81.5l2.3 0 2.3-2.3-2.2 .2z" fill="#d4312d"/>
<path d="M320.2 84.4l2.2-.9 2.4-2-2.1 2.3z" fill="#4b2722"/>
<path d="M322.4 83.5l2.3 .2 2.4-2.2-2.3 0z" fill="#db312e"/>
<path d="M320.2 84.4l2.2-.9 2.3 .2 2.4-2.2 2.3-2.3-2.2 .2-2.1 3.6-2.4 .8z" class="m"/>
<path d="M255.5 147.8l.9-1.1 .8-1.3 .8-1.5 .9-1.7 1-4.3 1-5 .9-5.6 .8-6.1-.7 3-.6 3-.7 2.8-.7 2.7-1 4.6-1.1 4-1.1 3.5z" fill="#2a5a73"/>
<path d="M255.5 147.8l.9-1.1 1.1-3.3-.8 1.4z" fill="#3e2786"/>
<path d="M256.7 144.8l.8-1.4 1.1-3.9-.8 1.8z" fill="#2c2782"/>
<path d="M257.8 141.3l.8-1.8 1.1-4.4-.8 2.2z" fill="#263f80"/>
<path d="M256.4 146.7l.8-1.3 1.1-3.7-.8 1.7z" fill="#2f2783"/>
<path d="M258.9 137.3l.8-2.2 .9-5.1-.7 2.7z" fill="#266d7f"/>
<path d="M257.5 143.4l.8-1.7 1.1-4.2-.8 2z" fill="#273982"/>
<path d="M258.6 139.5l.8-2 1-4.8-.7 2.4z" fill="#266481"/>
<path d="M257.2 145.4l.8-1.5 1.1-4-.8 1.8z" fill="#273383"/>
<path d="M258.3 141.7l.8-1.8 1.1-4.6-.8 2.2z" fill="#275b82"/>
<path d="M259.7 135.1l.7-2.4 .9-5.5-.7 2.8z" fill="#26806a"/>
<path d="M259.4 137.5l.8-2.2 .9-5.2-.7 2.6z" fill="#268177"/>
<path d="M258 143.9l.9-1.7 1-4.3-.8 2z" fill="#275383"/>
<path d="M259.1 139.9l.8-2 1-5-.7 2.4z" fill="#278182"/>
<path d="M260.4 132.7l.7-2.6 .8-5.9-.6 3z" fill="#268141"/>
<path d="M260.2 135.3l.7-2.4 .9-5.6-.7 2.8z" fill="#278250"/>
<path d="M261.1 130.1l.7-2.8 .8-6.1-.7 3z" fill="#338227"/>
<path d="M255.5 147.8l.9-1.1 .8-1.3 .8-1.5 .9-1.7 1-4.3 1-5 .9-5.6 .8-6.1-.7 3-.6 3-.7 2.8-.7 2.7-1 4.6-1.1 4-1.1 3.5z" class="m"/>
<path d="M263.7 95.2l.7-2.7 .9-1.3 1.1 .1 1.2 1.1 1.8 2.3 2 3.9 2 4.5 2 4.3-1.4-2.6-1.3-3-1.4-3.3-1.5-3.5-2-4.1-1.7-1.9-1.4 1.5z" fill="#9f4e29"/>
<path d="M272 100.2l1.4 2.9 2 4.3-1.4-2.6z" fill="#313821"/>
<path d="M270.6 97l1.4 3.2 2 4.6-1.3-3z" fill="#373721"/>
<path d="M269.2 93.8l1.4 3.2 2.1 4.8-1.4-3.3z" fill="#373221"/>
<path d="M267.8 90.9l1.4 2.9 2.1 4.7-1.5-3.5z" fill="#b37d2a"/>
<path d="M270 95.7l1.4 2.9 2 4.5-1.4-2.9z" fill="#373221"/>
<path d="M268.6 92.9l1.4 2.8 2 4.5-1.4-3.2z" fill="#b17b2a"/>
<path d="M267.3 90.5l1.3 2.4 2 4.1-1.4-3.2z" fill="#b6672b"/>
<path d="M266.1 89l1.2 1.5 1.9 3.3-1.4-2.9z" fill="#c1572c"/>
<path d="M268.1 92.4l1.3 2.3 2 3.9-1.4-2.9z" fill="#b5662b"/>
<path d="M266.8 90.6l1.3 1.8 1.9 3.3-1.4-2.8z" fill="#bf562b"/>
<path d="M264.7 90.5l1-.7 1.6 .7-1.2-1.5z" fill="#ed4a2f"/>
<path d="M265.7 89.8l1.1 .8 1.8 2.3-1.3-2.4z" fill="#d34b2d"/>
<path d="M263.7 95.2l.7-2.7 1.3-2.7-1 .7z" fill="#863927"/>
<path d="M264.4 92.5l.9-1.3 1.5-.6-1.1-.8z" fill="#c33c2c"/>
<path d="M265.3 91.2l1.1 .1 1.7 1.1-1.3-1.8z" fill="#f0442f"/>
<path d="M266.4 91.3l1.2 1.1 1.8 2.3-1.3-2.3z" fill="#cf492d"/>
<path d="M263.7 95.2l.7-2.7 .9-1.3 1.1 .1 1.2 1.1 1.8 2.3 2 3.9 2 4.5 2 4.3-1.4-2.6-1.3-3-1.4-3.3-1.5-3.5-2-4.1-1.7-1.9-1.4 1.5z" class="m"/>
<path d="M357.1 81.6l4.7 1.4 4.2-4.5-4.6-1.3z" fill="#ff3131"/>
<path d="M357.1 81.6l4.7 1.4 4.2-4.5-4.6-1.3z" class="m"/>
<path d="M287.5 117.9l2.3 .9 2.2 .4 2.9 .1 2.5-3.1-1.9 2.5-2 1.7-2.9 0z" fill="#265c28"/>
<path d="M290.6 120.4l2.2-.2 2.7-1.5-2 1.7z" fill="#224c31"/>
<path d="M292.8 120.2l2.1-.9 2.5-3.1-1.9 2.5z" fill="#28942d"/>
<path d="M287.5 117.9l2.3 .9 3 1.4-2.2 .2z" fill="#254722"/>
<path d="M289.8 118.8l2.2 .4 2.9 .1-2.1 .9z" fill="#294b22"/>
<path d="M287.5 117.9l2.3 .9 2.2 .4 2.9 .1 2.5-3.1-1.9 2.5-2 1.7-2.9 0z" class="m"/>
<path d="M412.1 106.8l1.5-3.3 1.5-3 1.5-2.6 1.4-2.3 1.3-6.3 1.1-3.5 .8-.8 .6 2-1-2.3-1.2-1.5-1.2-.9-1.2-.3-1 2.7-1.2 4.7-1.4 7.3z" fill="#af4a2a"/>
<path d="M412.1 106.8l1.5-3.3 1.5-9.1-1.5 2.3z" fill="#989428"/>
<path d="M413.6 103.5l1.5-3 1.4-8.2-1.4 2.1z" fill="#9a7e28"/>
<path d="M413.6 96.7l1.5-2.3 1.3-6.4-1.4 1.4z" fill="#9b6029"/>
<path d="M416.2 84.7l1.3-.6 .9-1.8-1.2-.3z" fill="#cb332c"/>
<path d="M415 89.4l1.4-1.4 1.1-3.9-1.3 .6z" fill="#a23f29"/>
<path d="M420 84.2l1.2 .8 .6 2-1-2.3z" fill="#362320"/>
<path d="M415.1 100.5l1.5-2.6 1.3-7.3-1.4 1.7z" fill="#9b6a29"/>
<path d="M417.5 84.1l1.3-.2 .8-.7-1.2-.9z" fill="#ff3531"/>
<path d="M418.8 83.9l1.2 .3 .8 .5-1.2-1.5z" fill="#fe3930"/>
<path d="M415.1 94.4l1.4-2.1 1.2-5.4-1.3 1.1z" fill="#9e5029"/>
<path d="M416.4 88l1.3-1.1 1.1-3-1.3 .2z" fill="#a9372a"/>
<path d="M417.7 86.9l1.4-.8 .9-1.9-1.2-.3z" fill="#c4332c"/>
<path d="M416.5 92.3l1.4-1.7 1.2-4.5-1.4 .8z" fill="#a14329"/>
<path d="M416.6 97.9l1.4-2.3 1.3-6.3-1.4 1.3z" fill="#9d5929"/>
<path d="M419.1 86.1l1.3-.3 .8-.8-1.2-.8z" fill="#f63530"/>
<path d="M417.9 90.6l1.4-1.3 1.1-3.5-1.3 .3z" fill="#a53929"/>
<path d="M412.1 106.8l1.5-3.3 1.5-3 1.5-2.6 1.4-2.3 1.3-6.3 1.1-3.5 .8-.8 .6 2-1-2.3-1.2-1.5-1.2-.9-1.2-.3-1 2.7-1.2 4.7-1.4 7.3z" class="m"/>
<path d="M338.6 82l4.7 1.4 4.5-4.5-4.7-1.4z" fill="#ff3131"/>
<path d="M338.6 82l4.7 1.4 4.5-4.5-4.7-1.4z" class="m"/>
<path d="M380.3 82.7l4.8 1.7 4-4.8-4.8-1.4z" fill="#ff3231"/>
<path d="M380.3 82.7l4.8 1.7 4-4.8-4.8-1.4z" class="m"/>
<path d="M306.2 86.7l4.4-1.2 5.1-1.5-4.6-3.9z" fill="#fc4630"/>
<path d="M306.2 86.7l4.4-1.2 5.1-1.5-4.6-3.9z" class="m"/>
<path d="M394.9 86.9l1.3 .6 1.2 .7 1.2 1 1.2 1.4 .8 1.7 .6 3.9 .4 6.6 .4 8.4-.8-6.6-.9-6.1-.9-5.1-1-4-.8-2.3-.8-.9-.9 .1z" fill="#7a3626"/>
<path d="M400.7 97.3l.9 5.5 .4 8.4-.8-6.6z" fill="#293620"/>
<path d="M399.8 92.9l.9 4.4 .5 7.3-.9-6.1z" fill="#353520"/>
<path d="M398.7 89.6l1.1 3.3 .5 5.6-.9-5.1z" fill="#342d20"/>
<path d="M400.2 92.5l1 3.7 .4 6.6-.9-5.5z" fill="#353120"/>
<path d="M397.6 87.1l1.1 2.5 .7 3.8-1-4z" fill="#322820"/>
<path d="M399.1 89.8l1.1 2.7 .5 4.8-.9-4.4z" fill="#332b20"/>
<path d="M397.9 87.7l1.2 2.1 .7 3.1-1.1-3.3z" fill="#332720"/>
<path d="M396.8 86.2l1.1 1.5 .8 1.9-1.1-2.5z" fill="#dd562e"/>
<path d="M399.4 90.1l1.2 2.2 .6 3.9-1-3.7z" fill="#342920"/>
<path d="M398.3 88.4l1.1 1.7 .8 2.4-1.1-2.7z" fill="#342620"/>
<path d="M397.1 87.2l1.2 1.2 .8 1.4-1.2-2.1z" fill="#e54e2e"/>
<path d="M395.9 86.3l1.2 .9 .8 .5-1.1-1.5z" fill="#f94530"/>
<path d="M398.6 89.2l1.2 1.4 .8 1.7-1.2-2.2z" fill="#342420"/>
<path d="M397.4 88.2l1.2 1 .8 .9-1.1-1.7z" fill="#ef462f"/>
<path d="M394.9 86.9l1.3 .6 .9-.3-1.2-.9z" fill="#ff3931"/>
<path d="M396.2 87.5l1.2 .7 .9 .2-1.2-1.2z" fill="#ff3f31"/>
<path d="M394.9 86.9l1.3 .6 1.2 .7 1.2 1 1.2 1.4 .8 1.7 .6 3.9 .4 6.6 .4 8.4-.8-6.6-.9-6.1-.9-5.1-1-4-.8-2.3-.8-.9-.9 .1z" class="m"/>
<path d="M406.1 97.7l1.2 1.6 1.1 2 1.2 2.6 1 3.2 .3 7.9 0 10.4 .1 9.1 .7 1.9-1.2-.8-1-2.5-1-4.1-.8-5.3-.1-10.3-.3-8.3-.5-5z" fill="#2d3229"/>
<path d="M410.1 130.1l.9 4.4 .7 1.9-1.2-.8z" fill="#292137"/>
<path d="M409.3 124.8l.8 5.3 .4 5.5-1-2.5z" fill="#24213a"/>
<path d="M408.4 119.1l.9 5.7 .2 8.3-1-4.1z" fill="#212c3b"/>
<path d="M410.1 119.8l.8 5.6 .1 9.1-.9-4.4z" fill="#21303b"/>
<path d="M407.6 113.4l.8 5.7 .1 9.9-.8-5.3z" fill="#213b36"/>
<path d="M409.2 114.4l.9 5.4 0 10.3-.8-5.3z" fill="#213b32"/>
<path d="M408.3 109.5l.9 4.9 .1 10.4-.9-5.7z" fill="#223b21"/>
<path d="M407.3 105.1l1 4.4 .1 9.6-.8-5.7z" fill="#303a21"/>
<path d="M409.9 110.3l1 4.7 0 10.4-.8-5.6z" fill="#263b21"/>
<path d="M408.9 106.3l1 4 .2 9.5-.9-5.4z" fill="#333b21"/>
<path d="M407.9 102.9l1 3.4 .3 8.1-.9-4.9z" fill="#3a3721"/>
<path d="M406.8 100.1l1.1 2.8 .4 6.6-1-4.4z" fill="#393021"/>
<path d="M409.6 103.9l1 3.2 .3 7.9-1-4.7z" fill="#3a3621"/>
<path d="M408.4 101.3l1.2 2.6 .3 6.4-1-4z" fill="#392f21"/>
<path d="M407.3 99.3l1.1 2 .5 5-1-3.4z" fill="#382a21"/>
<path d="M406.1 97.7l1.2 1.6 .6 3.6-1.1-2.8z" fill="#372721"/>
<path d="M406.1 97.7l1.2 1.6 1.1 2 1.2 2.6 1 3.2 .3 7.9 0 10.4 .1 9.1 .7 1.9-1.2-.8-1-2.5-1-4.1-.8-5.3-.1-10.3-.3-8.3-.5-5z" class="m"/>
<path d="M361.8 83l4.8 1.4 4.2-4.5-4.8-1.4z" fill="#ff3131"/>
<path d="M361.8 83l4.8 1.4 4.2-4.5-4.8-1.4z" class="m"/>
<path d="M385.1 84.4l4.9 1.2 3.9-3.8-4.8-2.2z" fill="#ff3631"/>
<path d="M385.1 84.4l4.9 1.2 3.9-3.8-4.8-2.2z" class="m"/>
<path d="M418 95.6l1.5-1.9 1.4-1.6 1.4-1.2 1.4-.8 .9-1.7 .6 1.9 .2 5.6-.1 8.9-.7-5.7-.8-5-1-4-1-3.1-.6-2-.8 .8-1.1 3.5z" fill="#813127"/>
<path d="M424.5 91.9l.9 4-.1 8.9-.7-5.7z" fill="#393621"/>
<path d="M423.5 88.8l1 3.1 .1 7.2-.8-5z" fill="#382e21"/>
<path d="M422.4 86.5l1.1 2.3 .3 5.3-1-4z" fill="#362821"/>
<path d="M421.2 85l1.2 1.5 .4 3.6-1-3.1z" fill="#362520"/>
<path d="M424.1 88.1l1.1 2.2 .2 5.6-.9-4z" fill="#372821"/>
<path d="M422.9 86.7l1.2 1.4 .4 3.8-1-3.1z" fill="#362521"/>
<path d="M421.7 86l1.2 .7 .6 2.1-1.1-2.3z" fill="#362320"/>
<path d="M420.4 85.8l1.3 .2 .7 .5-1.2-1.5z" fill="#ff3931"/>
<path d="M418 95.6l1.5-1.9 1.2-5.3-1.4 .9z" fill="#9f4a29"/>
<path d="M419.3 89.3l1.4-.9 1-2.4-1.3-.2z" fill="#b9342b"/>
<path d="M420.7 88.4l1.3-.5 .9-1.2-1.2-.7z" fill="#e5352e"/>
<path d="M423.3 87.8l1.3 .6 .6 1.9-1.1-2.2z" fill="#372221"/>
<path d="M422 87.9l1.3-.1 .8 .3-1.2-1.4z" fill="#ff3931"/>
<path d="M419.5 93.7l1.4-1.6 1.1-4.2-1.3 .5z" fill="#a33e29"/>
<path d="M420.9 92.1l1.4-1.2 1-3.1-1.3 .1z" fill="#ac362a"/>
<path d="M422.3 90.9l1.4-.8 .9-1.7-1.3-.6z" fill="#ce342d"/>
<path d="M418 95.6l1.5-1.9 1.4-1.6 1.4-1.2 1.4-.8 .9-1.7 .6 1.9 .2 5.6-.1 8.9-.7-5.7-.8-5-1-4-1-3.1-.6-2-.8 .8-1.1 3.5z" class="m"/>
<path d="M343.3 83.4l4.7 1.4 4.4-4.6-4.6-1.3z" fill="#ff3131"/>
<path d="M343.3 83.4l4.7 1.4 4.4-4.6-4.6-1.3z" class="m"/>
<path d="M324.7 83.7l4.6 1.4 4.7-4.5-4.6-1.4z" fill="#ff3131"/>
<path d="M324.7 83.7l4.6 1.4 4.7-4.5-4.6-1.4z" class="m"/>
<path d="M390 85.6l2.5 .6 2.4 .7 1.9-.7 1.6 3.2-2.2-5-2.3-2.6-1.9 1.4z" fill="#fa4131"/>
<path d="M394.4 84.3l2.4 1.9 1.6 3.2-2.2-5z" fill="#ea552f"/>
<path d="M392 83.2l2.4 1.1 1.8 .1-2.3-2.6z" fill="#ff4132"/>
<path d="M390 85.6l2.5 .6 1.9-1.9-2.4-1.1z" fill="#ff3331"/>
<path d="M392.5 86.2l2.4 .7 1.9-.7-2.4-1.9z" fill="#ff3a32"/>
<path d="M390 85.6l2.5 .6 2.4 .7 1.9-.7 1.6 3.2-2.2-5-2.3-2.6-1.9 1.4z" class="m"/>
<path d="M260.9 122.9l.5-3.7 .6-3.9 .5-4 .6-3.7 .8-6.7 .9-5.3 1.3-3 1.5-.2-1.2-1.1-1.1-.1-.9 1.3-.7 2.7-.8 6.8-.6 7.4-.7 7.2z" fill="#7e5a27"/>
<path d="M260.9 122.9l.5-3.7 .7-6.9-.5 4.3z" fill="#267826"/>
<path d="M261.6 116.6l.5-4.3 .7-7.3-.5 4.4z" fill="#5a7926"/>
<path d="M261.4 119.2l.6-3.9 .6-7.2-.5 4.2z" fill="#4f7a26"/>
<path d="M262.3 109.4l.5-4.4 .7-7.1-.6 4.1z" fill="#7a6a26"/>
<path d="M262.1 112.3l.5-4.2 .7-7.1-.5 4z" fill="#7c7426"/>
<path d="M262 115.3l.5-4 .7-7.1-.6 3.9z" fill="#7a7d26"/>
<path d="M262.9 102l.6-4.1 .9-5.4-.7 2.7z" fill="#7e4d26"/>
<path d="M262.8 105l.5-4 .9-6.1-.7 3z" fill="#7f5526"/>
<path d="M262.6 108.1l.6-3.9 .8-6.4-.7 3.2z" fill="#805e26"/>
<path d="M263.5 97.9l.7-3 1.1-3.7-.9 1.3z" fill="#863d27"/>
<path d="M262.5 111.3l.6-3.7 .8-6.7-.7 3.3z" fill="#816926"/>
<path d="M263.3 101l.7-3.2 1.1-4.6-.9 1.7z" fill="#864327"/>
<path d="M264.2 94.9l.9-1.7 1.3-1.9-1.1-.1z" fill="#953428"/>
<path d="M263.2 104.2l.7-3.3 .9-5.3-.8 2.2z" fill="#854c27"/>
<path d="M265.1 93.2l1-.6 1.5-.2-1.2-1.1z" fill="#f13d2f"/>
<path d="M264 97.8l.8-2.2 1.3-3-1 .6z" fill="#903728"/>
<path d="M260.9 122.9l.5-3.7 .6-3.9 .5-4 .6-3.7 .8-6.7 .9-5.3 1.3-3 1.5-.2-1.2-1.1-1.1-.1-.9 1.3-.7 2.7-.8 6.8-.6 7.4-.7 7.2z" class="m"/>
<path d="M310.6 85.5l4.6 1.6 5-2.7-4.5-.4z" fill="#e33e2e"/>
<path d="M310.6 85.5l4.6 1.6 5-2.7-4.5-.4z" class="m"/>
<path d="M366.6 84.4l4.8 1.4 4.1-4.5-4.7-1.4z" fill="#ff3131"/>
<path d="M366.6 84.4l4.8 1.4 4.1-4.5-4.7-1.4z" class="m"/>
<path d="M297.4 116.2l1-1.6 1-1.6 1-1.7 .9-2.3 1.1-3.6 1.2-3.6 1.1-3.6 1.1-3.4-1 1.5-1 1.7-1 1.9-.9 2.1-1.1 4.1-1.1 3.9-1.1 3.4z" fill="#747226"/>
<path d="M297.4 116.2l1-1.6 1.2-3.1-1 1.9z" fill="#458126"/>
<path d="M298.6 113.4l1-1.9 1.1-3.6-1 2.1z" fill="#577e26"/>
<path d="M299.7 110l1-2.1 1.1-4-1 2.2z" fill="#6e7c26"/>
<path d="M300.8 106.1l1-2.2 1-4-.9 2.1z" fill="#7f7626"/>
<path d="M298.4 114.6l1-1.6 1.1-3.4-.9 1.9z" fill="#5a8026"/>
<path d="M299.6 111.5l.9-1.9 1.1-3.7-.9 2z" fill="#6e7e26"/>
<path d="M300.7 107.9l.9-2 1.1-4-.9 2z" fill="#7f7926"/>
<path d="M301.8 103.9l.9-2 1.1-3.9-1 1.9z" fill="#826a27"/>
<path d="M299.4 113l1-1.7 1.1-3.6-1 1.9z" fill="#6e8026"/>
<path d="M300.5 109.6l1-1.9 1.1-3.8-1 2z" fill="#7f7b26"/>
<path d="M301.6 105.9l1-2 1.1-3.8-1 1.8z" fill="#826d27"/>
<path d="M302.7 101.9l1-1.8 1.1-3.8-1 1.7z" fill="#865f27"/>
<path d="M300.4 111.3l.9-2.3 1.1-3.6-.9 2.3z" fill="#7b7626"/>
<path d="M301.5 107.7l.9-2.3 1.2-3.6-1 2.1z" fill="#7c6926"/>
<path d="M302.6 103.9l1-2.1 1.1-3.6-1 1.9z" fill="#7e5c26"/>
<path d="M303.7 100.1l1-1.9 1.1-3.4-1 1.5z" fill="#824f27"/>
<path d="M297.4 116.2l1-1.6 1-1.6 1-1.7 .9-2.3 1.1-3.6 1.2-3.6 1.1-3.6 1.1-3.4-1 1.5-1 1.7-1 1.9-.9 2.1-1.1 4.1-1.1 3.9-1.1 3.4z" class="m"/>
<path d="M348 84.8l4.7 1.4 4.4-4.6-4.7-1.4z" fill="#ff3131"/>
<path d="M348 84.8l4.7 1.4 4.4-4.6-4.7-1.4z" class="m"/>
<path d="M329.3 85.1l4.7 1.4 4.6-4.5-4.6-1.4z" fill="#ff3131"/>
<path d="M329.3 85.1l4.7 1.4 4.6-4.5-4.6-1.4z" class="m"/>
<path d="M301.9 102l.9-2.1 1-1.9 1-1.7 1-1.5 1.2-3 1.2-2.6 1.2-2.1 1.2-1.6-1.1-.1-1.1 .1-1.1 .5-1.1 .7-1.1 3.3-1.1 3.7-1.1 4.1z" fill="#964528"/>
<path d="M301.9 102l.9-2.1 1.1-4.1-1 2z" fill="#826727"/>
<path d="M302.9 97.8l1-2 1.1-3.7-1 1.6z" fill="#855827"/>
<path d="M305.1 90l1-1.2 1.2-2.8-1.1 .7z" fill="#923d28"/>
<path d="M304 93.7l1-1.6 1.1-3.3-1 1.2z" fill="#8b4a27"/>
<path d="M306.1 88.8l1.1-.9 1.2-2.4-1.1 .5z" fill="#a23829"/>
<path d="M302.8 99.9l1-1.9 1.1-3.8-1 1.6z" fill="#865b27"/>
<path d="M305 92.1l1-1.3 1.2-2.9-1.1 .9z" fill="#914128"/>
<path d="M303.9 95.8l1-1.6 1.1-3.4-1 1.3z" fill="#8b4d27"/>
<path d="M307.2 87.9l1.1-.5 1.2-2-1.1 .1z" fill="#b8352b"/>
<path d="M306 90.8l1.1-.9 1.2-2.5-1.1 .5z" fill="#9d3b29"/>
<path d="M303.8 98l1-1.7 1.1-3.4-1 1.3z" fill="#8a5127"/>
<path d="M304.9 94.2l1-1.3 1.2-3-1.1 .9z" fill="#904428"/>
<path d="M308.3 87.4l1.1-.3 1.2-1.6-1.1-.1z" fill="#cc322d"/>
<path d="M307.1 89.9l1.1-.7 1.2-2.1-1.1 .3z" fill="#ac362a"/>
<path d="M305.9 92.9l1.1-1.1 1.2-2.6-1.1 .7z" fill="#913b28"/>
<path d="M304.8 96.3l1-1.5 1.2-3-1.1 1.1z" fill="#894527"/>
<path d="M301.9 102l.9-2.1 1-1.9 1-1.7 1-1.5 1.2-3 1.2-2.6 1.2-2.1 1.2-1.6-1.1-.1-1.1 .1-1.1 .5-1.1 .7-1.1 3.3-1.1 3.7-1.1 4.1z" class="m"/>
<path d="M371.4 85.8l4.8 1.4 4.1-4.5-4.8-1.4z" fill="#ff3131"/>
<path d="M371.4 85.8l4.8 1.4 4.1-4.5-4.8-1.4z" class="m"/>
<path d="M292 119.2l1.5 0 1.4-.3 1.4-1.2 1.8-1.6 1.6-3 1.6-4.1-1.3 2.9-1.3 2.2-1.3 2.1-1.6 2.4-1.8 1z" fill="#436e25"/>
<path d="M295.8 118.6l1.3-1.3 1.6-3.2-1.3 2.1z" fill="#3c8727"/>
<path d="M294 119.6l1.4-.6 1.7-1.7-1.3 1.3z" fill="#3c9a28"/>
<path d="M297.1 117.3l1.4-1.7 1.5-3.7-1.3 2.2z" fill="#538527"/>
<path d="M295.4 119l1.4-1 1.7-2.4-1.4 1.7z" fill="#4c8f28"/>
<path d="M292 119.2l1.5 0 1.9-.2-1.4 .6z" fill="#2e4b22"/>
<path d="M298.5 115.6l1.2-2.5 1.6-4.1-1.3 2.9z" fill="#6b7e26"/>
<path d="M293.5 119.2l1.4-.3 1.9-.9-1.4 1z" fill="#334b22"/>
<path d="M296.8 118l1.3-1.9 1.6-3-1.2 2.5z" fill="#3b4b22"/>
<path d="M294.9 118.9l1.4-1.2 1.8-1.6-1.3 1.9z" fill="#3b4d22"/>
<path d="M292 119.2l1.5 0 1.4-.3 1.4-1.2 1.8-1.6 1.6-3 1.6-4.1-1.3 2.9-1.3 2.2-1.3 2.1-1.6 2.4-1.8 1z" class="m"/>
<path d="M315.2 87.1l4.6 1.2 4.9-4.6-4.5 .7z" fill="#da342e"/>
<path d="M315.2 87.1l4.6 1.2 4.9-4.6-4.5 .7z" class="m"/>
<path d="M417.3 128.3l1.5-3.3 1.6-3.5 1.6-3.4 1.6-3.3 1.8-11.4 1.5-7.8 1.1-3.6 .6 .9-1.1-1.7-1.2-1.1-1.3-.3-1.3 .3-1.3 5.1-1.5 8.6-1.7 11.6z" fill="#99672d"/>
<path d="M417.3 128.3l1.5-3.3 1.9-12.9-1.5 3.3z" fill="#299b54"/>
<path d="M418.8 125l1.6-3.5 1.9-12.6-1.6 3.2z" fill="#389c29"/>
<path d="M420.4 121.5l1.6-3.4 1.9-12.1-1.6 2.9z" fill="#659c29"/>
<path d="M419.2 115.4l1.5-3.3 1.7-10.9-1.5 2.6z" fill="#919c29"/>
<path d="M422 118.1l1.6-3.3 1.8-11.4-1.5 2.6z" fill="#919d29"/>
<path d="M420.7 112.1l1.6-3.2 1.6-9.9-1.5 2.2z" fill="#9c8829"/>
<path d="M420.9 103.8l1.5-2.6 1.5-7.5-1.5 1.5z" fill="#9e6029"/>
<path d="M422.3 108.9l1.6-2.9 1.5-8.9-1.5 1.9z" fill="#9d7229"/>
<path d="M422.4 95.2l1.5-1.5 1.1-3.9-1.3 .3z" fill="#a63a29"/>
<path d="M422.4 101.2l1.5-2.2 1.4-6.4-1.4 1.1z" fill="#a05029"/>
<path d="M423.9 93.7l1.4-1.1 1-2.5-1.3-.3z" fill="#ba352b"/>
<path d="M423.9 106l1.5-2.6 1.5-7.8-1.5 1.5z" fill="#9f5e29"/>
<path d="M425.3 92.6l1.4-.6 .8-.8-1.2-1.1z" fill="#ef372f"/>
<path d="M423.9 99l1.5-1.9 1.3-5.1-1.4 .6z" fill="#a34229"/>
<path d="M426.7 92l1.3 0 .6 .9-1.1-1.7z" fill="#f73a30"/>
<path d="M425.4 97.1l1.5-1.5 1.1-3.6-1.3 0z" fill="#a9382a"/>
<path d="M417.3 128.3l1.5-3.3 1.6-3.5 1.6-3.4 1.6-3.3 1.8-11.4 1.5-7.8 1.1-3.6 .6 .9-1.1-1.7-1.2-1.1-1.3-.3-1.3 .3-1.3 5.1-1.5 8.6-1.7 11.6z" class="m"/>
<path d="M352.7 86.2l4.8 1.4 4.3-4.6-4.7-1.4z" fill="#ff3131"/>
<path d="M352.7 86.2l4.8 1.4 4.3-4.6-4.7-1.4z" class="m"/>
<path d="M334 86.5l4.7 1.4 4.6-4.5-4.7-1.4z" fill="#ff3131"/>
<path d="M334 86.5l4.7 1.4 4.6-4.5-4.7-1.4z" class="m"/>
<path d="M376.2 87.2l4.9 2.9 4-5.7-4.8-1.7z" fill="#ff3932"/>
<path d="M376.2 87.2l4.9 2.9 4-5.7-4.8-1.7z" class="m"/>
<path d="M259.9 132.7l.7-2.7 .7-2.8 .6-3 .7-3 .8-6.4 .9-6.4 .9-5.7 1.1-4.3-1 1.2-.8 2-.7 2.6-.7 3.4-.7 7-.8 6.7-.8 6z" fill="#68722b"/>
<path d="M259.9 132.7l.7-2.7 .9-5.8-.7 3.1z" fill="#267f5c"/>
<path d="M260.8 127.3l.7-3.1 .7-6.4-.6 3.5z" fill="#2b7f26"/>
<path d="M260.6 130l.7-2.8 .8-6.2-.6 3.2z" fill="#268031"/>
<path d="M261.6 121.3l.6-3.5 .8-6.8-.6 3.6z" fill="#5e7f26"/>
<path d="M261.5 124.2l.6-3.2 .8-6.6-.7 3.4z" fill="#4f8026"/>
<path d="M261.3 127.2l.6-3 .9-6.4-.7 3.2z" fill="#418127"/>
<path d="M262.4 114.6l.6-3.6 .8-6.8-.7 3.4z" fill="#827427"/>
<path d="M262.2 117.8l.7-3.4 .7-6.7-.6 3.3z" fill="#827f27"/>
<path d="M262.1 121l.7-3.2 .7-6.6-.6 3.2z" fill="#758327"/>
<path d="M261.9 124.2l.7-3 .8-6.4-.6 3z" fill="#658427"/>
<path d="M263 111l.6-3.3 .9-6.1-.7 2.6z" fill="#866027"/>
<path d="M262.9 114.4l.6-3.2 .9-6.3-.8 2.8z" fill="#866c27"/>
<path d="M262.8 117.8l.6-3 .9-6.4-.8 2.8z" fill="#867827"/>
<path d="M263.6 107.7l.8-2.8 .9-5.3-.8 2z" fill="#8b5027"/>
<path d="M263.5 111.2l.8-2.8 .9-5.7-.8 2.2z" fill="#8a5b27"/>
<path d="M264.4 104.9l.8-2.2 1.1-4.3-1 1.2z" fill="#914228"/>
<path d="M259.9 132.7l.7-2.7 .7-2.8 .6-3 .7-3 .8-6.4 .9-6.4 .9-5.7 1.1-4.3-1 1.2-.8 2-.7 2.6-.7 3.4-.7 7-.8 6.7-.8 6z" class="m"/>
<path d="M381.1 90.1l4.8 2.9 4.1-7.4-4.9-1.2z" fill="#ff4633"/>
<path d="M381.1 90.1l4.8 2.9 4.1-7.4-4.9-1.2z" class="m"/>
<path d="M357.5 87.6l4.8 1.4 4.3-4.6-4.8-1.4z" fill="#ff3131"/>
<path d="M357.5 87.6l4.8 1.4 4.3-4.6-4.8-1.4z" class="m"/>
<path d="M319.8 88.3l4.7 1.5 4.8-4.7-4.6-1.4z" fill="#ff3131"/>
<path d="M319.8 88.3l4.7 1.5 4.8-4.7-4.6-1.4z" class="m"/>
<path d="M338.7 87.9l4.7 1.5 4.6-4.6-4.7-1.4z" fill="#ff3131"/>
<path d="M338.7 87.9l4.7 1.5 4.6-4.6-4.7-1.4z" class="m"/>
<path d="M385.9 93l5 .9 4-7-4.9-1.3z" fill="#ff4331"/>
<path d="M385.9 93l5 .9 4-7-4.9-1.3z" class="m"/>
<path d="M401.1 94.5l1.3 .4 1.2 .7 1.3 .9 1.2 1.2 .7 2.4 .5 5 .3 8.3 .1 10.3-.9-6-.8-5.9-.9-5.5-.9-4.7-.6-4.8-.7-2.4-.9-.6z" fill="#4d2f23"/>
<path d="M406.7 108.2l.9 5.2 .1 10.3-.9-6z" fill="#213a22"/>
<path d="M405.7 103.6l1 4.6 .1 9.5-.8-5.9z" fill="#2e3921"/>
<path d="M404.7 99.8l1 3.8 .3 8.2-.9-5.5z" fill="#383821"/>
<path d="M403.6 96.8l1.1 3 .4 6.5-.9-4.7z" fill="#373021"/>
<path d="M406.3 101.5l1 3.6 .3 8.3-.9-5.2z" fill="#393821"/>
<path d="M405.2 98.6l1.1 2.9 .4 6.7-1-4.6z" fill="#383121"/>
<path d="M404 96.2l1.2 2.4 .5 5-1-3.8z" fill="#362b21"/>
<path d="M402.9 94.4l1.1 1.8 .7 3.6-1.1-3z" fill="#362820"/>
<path d="M405.6 97.8l1.2 2.3 .5 5-1-3.6z" fill="#372b21"/>
<path d="M404.5 96.1l1.1 1.7 .7 3.7-1.1-2.9z" fill="#372821"/>
<path d="M403.3 94.8l1.2 1.3 .7 2.5-1.2-2.4z" fill="#372521"/>
<path d="M402 93.8l1.3 1 .7 1.4-1.1-1.8z" fill="#362321"/>
<path d="M404.9 96.5l1.2 1.2 .7 2.4-1.2-2.3z" fill="#372521"/>
<path d="M403.6 95.6l1.3 .9 .7 1.3-1.1-1.7z" fill="#372321"/>
<path d="M401.1 94.5l1.3 .4 .9-.1-1.3-1z" fill="#ff3731"/>
<path d="M402.4 94.9l1.2 .7 .9 .5-1.2-1.3z" fill="#f33b30"/>
<path d="M401.1 94.5l1.3 .4 1.2 .7 1.3 .9 1.2 1.2 .7 2.4 .5 5 .3 8.3 .1 10.3-.9-6-.8-5.9-.9-5.5-.9-4.7-.6-4.8-.7-2.4-.9-.6z" class="m"/>
<path d="M305.8 94.8l2.1-2.3 2.3-.6 2.5-2.7 2.5-2.1-2.3-.9-2.3-.7-2.4 3.7z" fill="#d2342d"/>
<path d="M308.2 89.2l2.2-.4 2.5-2.6-2.3-.7z" fill="#dd332e"/>
<path d="M310.4 88.8l2.3 .4 2.5-2.1-2.3-.9z" fill="#fb3230"/>
<path d="M305.8 94.8l2.1-2.3 2.5-3.7-2.2 .4z" fill="#9e3829"/>
<path d="M307.9 92.5l2.3-.6 2.5-2.7-2.3-.4z" fill="#d1332d"/>
<path d="M305.8 94.8l2.1-2.3 2.3-.6 2.5-2.7 2.5-2.1-2.3-.9-2.3-.7-2.4 3.7z" class="m"/>
<path d="M362.3 89l4.8 1.5 4.3-4.7-4.8-1.4z" fill="#ff3131"/>
<path d="M362.3 89l4.8 1.5 4.3-4.7-4.8-1.4z" class="m"/>
<path d="M398.5 130.9l1.1 3.8 1.1 4 1.1 4.1 1 4.1 .3 9.1 .8 .6 1.5-9.2 1.8-13.3-1.5 2-1.4 2.1-1.5 2-1.4 2-1.5 9.5-.8-.8-.3-9.5z" fill="#393a7f"/>
<path d="M399.1 150.9l1.1 2.6 1-2.2-1.3 .4z" fill="#8532ff"/>
<path d="M400.2 153.5l1.2 1.8 1.2-4.9-1.4 .9z" fill="#8831ff"/>
<path d="M401.4 155.3l1.2 1 1.4-7.3-1.4 1.4z" fill="#662cc5"/>
<path d="M402.6 156.3l1.3 .3 1.5-9.2-1.4 1.6z" fill="#552bb7"/>
<path d="M402 153.1l1.1 2.9 .8 .6-1.3-.3z" fill="#2c2139"/>
<path d="M399.9 151.7l1.3-.4 1.6-11.1-1.4 2z" fill="#2b2aaf"/>
<path d="M400.9 149.6l1.1 3.5 .6 3.2-1.2-1z" fill="#29213b"/>
<path d="M401.2 151.3l1.4-.9 1.7-12.2-1.5 2z" fill="#2a48ab"/>
<path d="M399.8 145.7l1.1 3.9 .5 5.7-1.2-1.8z" fill="#25213d"/>
<path d="M402.6 150.4l1.4-1.4 1.7-12.9-1.4 2.1z" fill="#2a71a9"/>
<path d="M398.8 141.4l1 4.3 .4 7.8-1.1-2.6z" fill="#21253e"/>
<path d="M404 149l1.4-1.6 1.8-13.3-1.5 2z" fill="#2a9da9"/>
<path d="M401.8 142.8l1 4.1 .3 9.1-1.1-2.9z" fill="#212a3f"/>
<path d="M400.7 138.7l1.1 4.1 .2 10.3-1.1-3.5z" fill="#21393f"/>
<path d="M399.6 134.7l1.1 4 .2 10.9-1.1-3.9z" fill="#213f36"/>
<path d="M398.5 130.9l1.1 3.8 .2 11-1-4.3z" fill="#213f26"/>
<path d="M398.5 130.9l1.1 3.8 1.1 4 1.1 4.1 1 4.1 .3 9.1 .8 .6 1.5-9.2 1.8-13.3-1.5 2-1.4 2.1-1.5 2-1.4 2-1.5 9.5-.8-.8-.3-9.5z" class="m"/>
<path d="M387.5 114.3l1.1 4.1 1 4.7 1.1 5.1 1 5.2 .7 3.7 1.3-6.7 1.5-10.9 1.4-9.2-1.4 .9-1.3 1-1.3 .8-1.3 .6-1.3 7.9-1.1 3-.7-4.3z" fill="#47a54a"/>
<path d="M391.3 134.1l1.1 3 1.3-6.7-1.3 .3z" fill="#34ffff"/>
<path d="M390.3 130l1 4.1 1.1-3.4-1.2-.9z" fill="#35ffef"/>
<path d="M390 127.8l1.2 2 1.3-8.2-1.3 .4z" fill="#30f846"/>
<path d="M389.2 125.2l1.1 4.8 .9-.2-1.2-2z" fill="#2ee16c"/>
<path d="M388.9 124.5l1.1 3.3 1.2-5.8-1.2-.5z" fill="#3dff35"/>
<path d="M391.2 129.8l1.2 .9 1.4-10-1.3 .9z" fill="#2dcd3f"/>
<path d="M390.7 128.2l1 5.2 .7 3.7-1.1-3z" fill="#203530"/>
<path d="M392.4 130.7l1.3-.3 1.5-10.9-1.4 1.2z" fill="#2bbb2b"/>
<path d="M388.2 120.2l1 5 .8 2.6-1.1-3.3z" fill="#223120"/>
<path d="M390 121.5l1.2 .5 1.4-9-1.3 .6z" fill="#8acd2d"/>
<path d="M389.6 123.1l1.1 5.1 .6 5.9-1-4.1z" fill="#213725"/>
<path d="M391.2 122l1.3-.4 1.4-9.4-1.3 .8z" fill="#8cbe2b"/>
<path d="M392.5 121.6l1.3-.9 1.4-9.5-1.3 1z" fill="#97b52b"/>
<path d="M388.6 118.4l1 4.7 .7 6.9-1.1-4.8z" fill="#283721"/>
<path d="M393.8 120.7l1.4-1.2 1.4-9.2-1.4 .9z" fill="#a7af2a"/>
<path d="M387.5 114.3l1.1 4.1 .6 6.8-1-5z" fill="#323721"/>
<path d="M387.5 114.3l1.1 4.1 1 4.7 1.1 5.1 1 5.2 .7 3.7 1.3-6.7 1.5-10.9 1.4-9.2-1.4 .9-1.3 1-1.3 .8-1.3 .6-1.3 7.9-1.1 3-.7-4.3z" class="m"/>
<path d="M258.9 142.2l.8-1.8 .7-2.1 .8-2.1 .8-2.2 .9-5.6 .9-5.8 .9-5.9 1-5.7-.9 2.1-.7 2.4-.8 2.8-.7 2.9-.8 6.1-.9 5.6-1 5z" fill="#4b8338"/>
<path d="M258.9 142.2l.8-1.8 1-4.7-.8 2.2z" fill="#277783"/>
<path d="M259.9 137.9l.8-2.2 .9-5.3-.7 2.5z" fill="#27835f"/>
<path d="M259.7 140.4l.7-2.1 1-5-.7 2.4z" fill="#27846d"/>
<path d="M260.9 132.9l.7-2.5 .9-5.9-.7 2.8z" fill="#278328"/>
<path d="M260.7 135.7l.7-2.4 .9-5.6-.7 2.7z" fill="#278439"/>
<path d="M260.4 138.3l.8-2.1 1-5.3-.8 2.4z" fill="#278549"/>
<path d="M261.8 127.3l.7-2.8 .8-6.2-.7 2.9z" fill="#558427"/>
<path d="M261.6 130.4l.7-2.7 .9-6-.7 2.8z" fill="#468527"/>
<path d="M261.4 133.3l.8-2.4 .9-5.8-.8 2.6z" fill="#378627"/>
<path d="M261.2 136.2l.8-2.2 .9-5.6-.7 2.5z" fill="#298627"/>
<path d="M262.5 124.5l.7-2.8 .9-6.2-.8 2.8z" fill="#778727"/>
<path d="M262.3 127.7l.8-2.6 .9-6-.8 2.6z" fill="#668727"/>
<path d="M262.2 130.9l.7-2.5 .9-5.8-.7 2.5z" fill="#568827"/>
<path d="M263.2 121.7l.8-2.6 .8-6-.7 2.4z" fill="#8a7e27"/>
<path d="M263.1 125.1l.7-2.5 .9-5.9-.7 2.4z" fill="#878a27"/>
<path d="M264 119.1l.7-2.4 1-5.7-.9 2.1z" fill="#8d6e27"/>
<path d="M258.9 142.2l.8-1.8 .7-2.1 .8-2.1 .8-2.2 .9-5.6 .9-5.8 .9-5.9 1-5.7-.9 2.1-.7 2.4-.8 2.8-.7 2.9-.8 6.1-.9 5.6-1 5z" class="m"/>
<path d="M263.1 107.6l.9-4.3 1.1-3.1 1.2-1.8 1.8-2.6 2.3 1.3 2.5 3.9-1.8-3.1-1.8-3-1.7-2.5-2 .9-1.4 5.6z" fill="#bf432b"/>
<path d="M268.7 94.8l1.7 2.3 2.5 3.9-1.8-3.1z" fill="#bc592b"/>
<path d="M265.6 93.3l1.5 .1 2.2 1.5-1.7-2.5z" fill="#f1442f"/>
<path d="M267.1 93.4l1.6 1.4 2.4 3.1-1.8-3z" fill="#cc4b2d"/>
<path d="M263.1 107.6l.9-4.3 1.3-6.9-1.1 2.5z" fill="#885027"/>
<path d="M264.2 98.9l1.1-2.5 1.8-3-1.5-.1z" fill="#973728"/>
<path d="M265.3 96.4l1.3-1 2.1-.6-1.6-1.4z" fill="#eb3b2f"/>
<path d="M264 103.3l1.1-3.1 1.5-4.8-1.3 1z" fill="#923e28"/>
<path d="M266.6 95.4l1.5 .4 2.3 1.3-1.7-2.3z" fill="#f1402f"/>
<path d="M265.1 100.2l1.2-1.8 1.8-2.6-1.5-.4z" fill="#ad352a"/>
<path d="M263.1 107.6l.9-4.3 1.1-3.1 1.2-1.8 1.8-2.6 2.3 1.3 2.5 3.9-1.8-3.1-1.8-3-1.7-2.5-2 .9-1.4 5.6z" class="m"/>
<path d="M343.4 89.4l4.8 1.4 4.5-4.6-4.7-1.4z" fill="#ff3131"/>
<path d="M343.4 89.4l4.8 1.4 4.5-4.6-4.7-1.4z" class="m"/>
<path d="M324.5 89.8l4.7 1.4 4.8-4.7-4.7-1.4z" fill="#ff3131"/>
<path d="M324.5 89.8l4.7 1.4 4.8-4.7-4.7-1.4z" class="m"/>
<path d="M391.7 133.4l1 4.7 1.1 3.8 1.1 2.6 1.2 1.3 1.4-8.9 1.6-12.5 1.5-10.4 1.4-7.3-1.4 .8-1.3 .9-1.4 .9-1.3 1-1.4 9.2-1.5 10.9-1.3 6.7z" fill="#5b9c77"/>
<path d="M393.8 141.9l1.1 2.6 1.3-6.3-1.4 .7z" fill="#3365ff"/>
<path d="M394.9 144.5l1.2 1.3 1.4-8.9-1.3 1.3z" fill="#2d4dcd"/>
<path d="M392.7 138.1l1.1 3.8 1-3-1.2-.3z" fill="#3495ff"/>
<path d="M392.4 137.1l1.2 1.5 1.4-9.2-1.3 1z" fill="#2dd8d9"/>
<path d="M391.7 133.4l1 4.7 .9 .5-1.2-1.5z" fill="#2da5cf"/>
<path d="M393.6 138.6l1.2 .3 1.6-11-1.4 1.5z" fill="#2bbeb3"/>
<path d="M394.8 138.9l1.4-.7 1.5-12-1.3 1.7z" fill="#2ab28d"/>
<path d="M396.2 138.2l1.3-1.3 1.6-12.5-1.4 1.8z" fill="#2aab66"/>
<path d="M393.7 130.4l1.3-1 1.5-11.3-1.3 1.4z" fill="#3fb12a"/>
<path d="M395 129.4l1.4-1.5 1.5-11.2-1.4 1.4z" fill="#56ac2a"/>
<path d="M396.4 127.9l1.3-1.7 1.6-10.9-1.4 1.4z" fill="#6faa2a"/>
<path d="M395.2 119.5l1.3-1.4 1.4-8.8-1.3 1z" fill="#aca22a"/>
<path d="M397.7 126.2l1.4-1.8 1.5-10.4-1.3 1.3z" fill="#8aa92a"/>
<path d="M396.5 118.1l1.4-1.4 1.4-8.3-1.4 .9z" fill="#ac942a"/>
<path d="M397.9 116.7l1.4-1.4 1.3-7.8-1.3 .9z" fill="#ac872a"/>
<path d="M399.3 115.3l1.3-1.3 1.4-7.3-1.4 .8z" fill="#ac7a2a"/>
<path d="M391.7 133.4l1 4.7 1.1 3.8 1.1 2.6 1.2 1.3 1.4-8.9 1.6-12.5 1.5-10.4 1.4-7.3-1.4 .8-1.3 .9-1.4 .9-1.3 1-1.4 9.2-1.5 10.9-1.3 6.7z" class="m"/>
<path d="M390.9 93.9l5.1 0 3.8-3.3-4.9-3.7z" fill="#ff4531"/>
<path d="M390.9 93.9l5.1 0 3.8-3.3-4.9-3.7z" class="m"/>
<path d="M402.8 146.9l1.1 3.9 1 3.6 1.1 3.1 1.1 2.7 .8 1.2 1.4-8.3 1.9-13.4 1.9-13.2-1.5 1.8-1.5 1.9-1.5 1.9-1.4 2-1.8 13.3-1.5 9.2-.8-.6z" fill="#464e87"/>
<path d="M403.1 156l1.1 2.3 1-2-1.3 .3z" fill="#9f32ff"/>
<path d="M404.2 158.3l1.2 1.6 1.1-4.3-1.3 .7z" fill="#a232ff"/>
<path d="M405.4 159.9l1.2 1 1.3-6.4-1.4 1.1z" fill="#7d2dcd"/>
<path d="M406.6 160.9l1.3 .5 1.4-8.3-1.4 1.4z" fill="#6d2bbb"/>
<path d="M403.9 156.6l1.3-.3 1.6-10.7-1.4 1.8z" fill="#442ab1"/>
<path d="M406 157.5l1.1 2.7 .8 1.2-1.3-.5z" fill="#2e213b"/>
<path d="M404.9 154.4l1.1 3.1 .6 3.4-1.2-1z" fill="#2d213c"/>
<path d="M405.2 156.3l1.3-.7 1.7-11.9-1.4 1.9z" fill="#302aad"/>
<path d="M403.9 150.8l1 3.6 .5 5.5-1.2-1.6z" fill="#29213e"/>
<path d="M406.5 155.6l1.4-1.1 1.8-12.8-1.5 2z" fill="#2a41ab"/>
<path d="M402.8 146.9l1.1 3.9 .3 7.5-1.1-2.3z" fill="#23213f"/>
<path d="M407.9 154.5l1.4-1.4 1.9-13.4-1.5 2z" fill="#2a6baa"/>
<path d="M405.4 147.4l1.4-1.8 1.8-13.5-1.4 2z" fill="#2aa889"/>
<path d="M406.8 145.6l1.4-1.9 1.9-13.5-1.5 1.9z" fill="#2aa85e"/>
<path d="M408.2 143.7l1.5-2 1.9-13.4-1.5 1.9z" fill="#2aa833"/>
<path d="M409.7 141.7l1.5-2 1.9-13.2-1.5 1.8z" fill="#43a92a"/>
<path d="M402.8 146.9l1.1 3.9 1 3.6 1.1 3.1 1.1 2.7 .8 1.2 1.4-8.3 1.9-13.4 1.9-13.2-1.5 1.8-1.5 1.9-1.5 1.9-1.4 2-1.8 13.3-1.5 9.2-.8-.6z" class="m"/>
<path d="M275.7 104.4l1.3 1.3 1.2 1.3 1.3 1.2 1.2 1.1 1.7 2.1 1.8 2.3 1.7 2.2 1.6 2-1.1-.7-1.2-.7-1.1-.9-1.2-1.1-1.8-2.7-1.8-2.7-1.8-2.6z" fill="#3b3821"/>
<path d="M281.1 111.8l1.2 1.2 1.8 2.6-1.2-1.1z" fill="#363e21"/>
<path d="M282.3 113l1.2 1.1 1.7 2.4-1.1-.9z" fill="#343f21"/>
<path d="M283.5 114.1l1.2 1 1.7 2.1-1.2-.7z" fill="#333f21"/>
<path d="M284.7 115.1l1.2 .8 1.6 2-1.1-.7z" fill="#324021"/>
<path d="M279.3 109.1l1.2 1.3 1.8 2.6-1.2-1.2z" fill="#3d3b21"/>
<path d="M280.5 110.4l1.3 1.2 1.7 2.5-1.2-1.1z" fill="#3e3d21"/>
<path d="M281.8 111.6l1.2 1.1 1.7 2.4-1.2-1z" fill="#3e3f21"/>
<path d="M283 112.7l1.2 1 1.7 2.2-1.2-.8z" fill="#3c3f21"/>
<path d="M277.5 106.5l1.3 1.4 1.7 2.5-1.2-1.3z" fill="#3c3321"/>
<path d="M278.8 107.9l1.2 1.2 1.8 2.5-1.3-1.2z" fill="#3d3521"/>
<path d="M280 109.1l1.2 1.2 1.8 2.4-1.2-1.1z" fill="#3e3721"/>
<path d="M281.2 110.3l1.2 1.1 1.8 2.3-1.2-1z" fill="#3e3921"/>
<path d="M275.7 104.4l1.3 1.3 1.8 2.2-1.3-1.4z" fill="#3b2c21"/>
<path d="M277 105.7l1.2 1.3 1.8 2.1-1.2-1.2z" fill="#3c2e21"/>
<path d="M278.2 107l1.3 1.2 1.7 2.1-1.2-1.2z" fill="#3d3021"/>
<path d="M279.5 108.2l1.2 1.1 1.7 2.1-1.2-1.1z" fill="#3d3121"/>
<path d="M275.7 104.4l1.3 1.3 1.2 1.3 1.3 1.2 1.2 1.1 1.7 2.1 1.8 2.3 1.7 2.2 1.6 2-1.1-.7-1.2-.7-1.1-.9-1.2-1.1-1.8-2.7-1.8-2.7-1.8-2.6z" class="m"/>
<path d="M270.8 99.5l1.2 1.1 1.2 1.2 1.3 1.3 1.2 1.3 1.8 2.1 1.8 2.6 1.8 2.7 1.8 2.7-1.2-1.1-1.2-1.3-1.2-1.4-1.3-1.6-1.9-3.3-1.8-3-1.8-2.3z" fill="#553923"/>
<path d="M279.9 110.5l1.2 1.3 1.8 2.7-1.2-1.1z" fill="#383e21"/>
<path d="M278.7 109.1l1.2 1.4 1.8 2.9-1.2-1.3z" fill="#3a3d21"/>
<path d="M277.4 107.5l1.3 1.6 1.8 3-1.2-1.4z" fill="#3c3c21"/>
<path d="M276.1 105.8l1.3 1.7 1.9 3.2-1.3-1.6z" fill="#3c3921"/>
<path d="M278.1 107.7l1.2 1.4 1.8 2.7-1.2-1.3z" fill="#3d3821"/>
<path d="M276.8 106.1l1.3 1.6 1.8 2.8-1.2-1.4z" fill="#3c3621"/>
<path d="M275.6 104.5l1.2 1.6 1.9 3-1.3-1.6z" fill="#3b3321"/>
<path d="M274.3 102.8l1.3 1.7 1.8 3-1.3-1.7z" fill="#3b3121"/>
<path d="M276.3 105.1l1.2 1.4 1.8 2.6-1.2-1.4z" fill="#3c3121"/>
<path d="M275 103.6l1.3 1.5 1.8 2.6-1.3-1.6z" fill="#3b2e21"/>
<path d="M273.7 102l1.3 1.6 1.8 2.5-1.2-1.6z" fill="#3a2c21"/>
<path d="M272.5 100.5l1.2 1.5 1.9 2.5-1.3-1.7z" fill="#3a2a21"/>
<path d="M274.5 103.1l1.2 1.3 1.8 2.1-1.2-1.4z" fill="#3b2a21"/>
<path d="M273.2 101.8l1.3 1.3 1.8 2-1.3-1.5z" fill="#c0562c"/>
<path d="M272 100.6l1.2 1.2 1.8 1.8-1.3-1.6z" fill="#c74e2c"/>
<path d="M270.8 99.5l1.2 1.1 1.7 1.4-1.2-1.5z" fill="#d1462d"/>
<path d="M270.8 99.5l1.2 1.1 1.2 1.2 1.3 1.3 1.2 1.3 1.8 2.1 1.8 2.6 1.8 2.7 1.8 2.7-1.2-1.1-1.2-1.3-1.2-1.4-1.3-1.6-1.9-3.3-1.8-3-1.8-2.3z" class="m"/>
<path d="M367.1 90.5l4.9 1.4 4.2-4.7-4.8-1.4z" fill="#ff3131"/>
<path d="M367.1 90.5l4.9 1.4 4.2-4.7-4.8-1.4z" class="m"/>
<path d="M266.3 98.4l1-.5 1.1 .1 1.2 .6 1.2 .9 1.7 1 1.8 2.3 1.8 3 1.9 3.3-1.2-1.8-1.3-1.9-1.3-2.1-1.3-2.3-1.9-3.1-1.8-1.9-1.6 .1z" fill="#9d3c29"/>
<path d="M274.9 103.9l1.2 1.9 1.9 3.3-1.2-1.8z" fill="#3b3621"/>
<path d="M273.6 102l1.3 1.9 1.9 3.4-1.3-1.9z" fill="#3a3321"/>
<path d="M272.3 99.9l1.3 2.1 1.9 3.4-1.3-2.1z" fill="#393021"/>
<path d="M271 97.9l1.3 2 1.9 3.4-1.3-2.3z" fill="#392c21"/>
<path d="M273 101l1.3 1.8 1.8 3-1.2-1.9z" fill="#3a2e21"/>
<path d="M271.7 99.2l1.3 1.8 1.9 2.9-1.3-1.9z" fill="#392b21"/>
<path d="M270.4 97.5l1.3 1.7 1.9 2.8-1.3-2.1z" fill="#bb5a2b"/>
<path d="M269.2 96l1.2 1.5 1.9 2.4-1.3-2z" fill="#c44f2c"/>
<path d="M271.2 99l1.3 1.5 1.8 2.3-1.3-1.8z" fill="#c0542c"/>
<path d="M267.6 96.1l1.2 .6 1.6 .8-1.2-1.5z" fill="#ee3c2f"/>
<path d="M270 97.7l1.2 1.3 1.8 2-1.3-1.8z" fill="#c94b2c"/>
<path d="M268.8 96.7l1.2 1 1.7 1.5-1.3-1.7z" fill="#d8422d"/>
<path d="M266.3 98.4l1-.5 1.5-1.2-1.2-.6z" fill="#d9332e"/>
<path d="M267.3 97.9l1.1 .1 1.6-.3-1.2-1z" fill="#ff3731"/>
<path d="M268.4 98l1.2 .6 1.6 .4-1.2-1.3z" fill="#f43a30"/>
<path d="M269.6 98.6l1.2 .9 1.7 1-1.3-1.5z" fill="#e03f2e"/>
<path d="M266.3 98.4l1-.5 1.1 .1 1.2 .6 1.2 .9 1.7 1 1.8 2.3 1.8 3 1.9 3.3-1.2-1.8-1.3-1.9-1.3-2.1-1.3-2.3-1.9-3.1-1.8-1.9-1.6 .1z" class="m"/>
<path d="M280.7 109.3l1.2 1.1 1.2 1 1.2 .9 1.2 .8 1.7 1.8 1.7 1.7 1.6 1.5 1.5 1.1-1.1-.1-1.1-.3-1.1-.4-1.2-.5-1.6-2-1.7-2.2-1.8-2.3z" fill="#3b3d21"/>
<path d="M285.9 115.9l1.1 .7 1.7 1.8-1.2-.5z" fill="#314121"/>
<path d="M287 116.6l1.2 .6 1.6 1.6-1.1-.4z" fill="#314221"/>
<path d="M288.2 117.2l1.1 .5 1.6 1.4-1.1-.3z" fill="#324422"/>
<path d="M289.3 117.7l1.2 .4 1.5 1.1-1.1-.1z" fill="#334622"/>
<path d="M284.2 113.7l1.1 .9 1.7 2-1.1-.7z" fill="#3b4021"/>
<path d="M285.3 114.6l1.2 .7 1.7 1.9-1.2-.6z" fill="#3a4021"/>
<path d="M286.5 115.3l1.2 .7 1.6 1.7-1.1-.5z" fill="#3a4121"/>
<path d="M287.7 116l1.2 .6 1.6 1.5-1.2-.4z" fill="#3b4221"/>
<path d="M282.4 111.4l1.2 1 1.7 2.2-1.1-.9z" fill="#3f3a21"/>
<path d="M283.6 112.4l1.2 .9 1.7 2-1.2-.7z" fill="#3f3c21"/>
<path d="M284.8 113.3l1.2 .8 1.7 1.9-1.2-.7z" fill="#403d21"/>
<path d="M286 114.1l1.2 .8 1.7 1.7-1.2-.6z" fill="#403e21"/>
<path d="M280.7 109.3l1.2 1.1 1.7 2-1.2-1z" fill="#3e3321"/>
<path d="M281.9 110.4l1.2 1 1.7 1.9-1.2-.9z" fill="#3e3421"/>
<path d="M283.1 111.4l1.2 .9 1.7 1.8-1.2-.8z" fill="#3f3621"/>
<path d="M284.3 112.3l1.2 .8 1.7 1.8-1.2-.8z" fill="#3f3721"/>
<path d="M280.7 109.3l1.2 1.1 1.2 1 1.2 .9 1.2 .8 1.7 1.8 1.7 1.7 1.6 1.5 1.5 1.1-1.1-.1-1.1-.3-1.1-.4-1.2-.5-1.6-2-1.7-2.2-1.8-2.3z" class="m"/>
<path d="M310.2 91.9l4.6 1.1 5-4.7-4.6-1.2z" fill="#f83230"/>
<path d="M310.2 91.9l4.6 1.1 5-4.7-4.6-1.2z" class="m"/>
<path d="M396 93.9l1.7 .1 1.7 .2 1.7 .3 1.2-.7 1.1 1.9 .8 5.9-1.4-5-1.5-3.6-1.5-2.4-1.2-.4-1.3 1.3z" fill="#ca372c"/>
<path d="M401.8 93.2l1.6 2.5 .8 5.9-1.4-5z" fill="#352920"/>
<path d="M400.2 91.4l1.6 1.8 1 3.4-1.5-3.6z" fill="#352620"/>
<path d="M398.6 90.2l1.6 1.2 1.1 1.6-1.5-2.4z" fill="#e8472f"/>
<path d="M400.7 92.7l1.6 1.1 1.1 1.9-1.6-2.5z" fill="#e1462e"/>
<path d="M397.3 91.5l1.7 .4 1.2-.5-1.6-1.2z" fill="#ff3731"/>
<path d="M399 91.9l1.7 .8 1.1 .5-1.6-1.8z" fill="#fc3d30"/>
<path d="M396 93.9l1.7 .1 1.3-2.1-1.7-.4z" fill="#ee342f"/>
<path d="M397.7 94l1.7 .2 1.3-1.5-1.7-.8z" fill="#fe3430"/>
<path d="M399.4 94.2l1.7 .3 1.2-.7-1.6-1.1z" fill="#ff3631"/>
<path d="M396 93.9l1.7 .1 1.7 .2 1.7 .3 1.2-.7 1.1 1.9 .8 5.9-1.4-5-1.5-3.6-1.5-2.4-1.2-.4-1.3 1.3z" class="m"/>
<path d="M381.8 99.4l1.6 3.4 1.5 3.9 1.5 3.5 1.5-5.7 1.6-6.1 1.4-4.5-1.7-.1-1.6-.3-1.7-.5-1.4 3.5-1.4 2.6z" fill="#fd9c33"/>
<path d="M384.5 96.5l1.6 1.1 1.5-4.1-1.7-.5z" fill="#ff7434"/>
<path d="M386.1 97.6l1.7 .5 1.4-4.3-1.6-.3z" fill="#ff6b31"/>
<path d="M384.7 101.6l1.6 1.9 1.5-5.4-1.7-.5z" fill="#ffa935"/>
<path d="M384.9 106.7l1.5 3.5 1.5-5.7-1.6-1z" fill="#fffb36"/>
<path d="M383.1 99.1l1.6 2.5 1.4-4-1.6-1.1z" fill="#ffa437"/>
<path d="M386.3 103.5l1.6 1 1.6-6.1-1.7-.3z" fill="#ff9831"/>
<path d="M387.8 98.1l1.7 .3 1.4-4.5-1.7-.1z" fill="#f0612f"/>
<path d="M383.4 102.8l1.5 3.9 1.4-3.2-1.6-1.9z" fill="#ffcc35"/>
<path d="M381.8 99.4l1.6 3.4 1.3-1.2-1.6-2.5z" fill="#ff9333"/>
<path d="M381.8 99.4l1.6 3.4 1.5 3.9 1.5 3.5 1.5-5.7 1.6-6.1 1.4-4.5-1.7-.1-1.6-.3-1.7-.5-1.4 3.5-1.4 2.6z" class="m"/>
<path d="M348.2 90.8l4.8 1.5 4.5-4.7-4.8-1.4z" fill="#ff3131"/>
<path d="M348.2 90.8l4.8 1.5 4.5-4.7-4.8-1.4z" class="m"/>
<path d="M301.3 109l.9-2.8 .9-2.8 1-2.5 1-1.9 1.3-2 1.2-1.8 1.3-1.7 1.3-1.6-1.2 .1-1.1 .5-1 1-1.1 1.3-1.1 3.4-1.1 3.6-1.2 3.6z" fill="#834027"/>
<path d="M301.3 109l.9-2.8 1.2-3.4-1 2.6z" fill="#786426"/>
<path d="M304.7 98.2l1-1.9 1.2-2.8-1.1 1.3z" fill="#844427"/>
<path d="M302.4 105.4l1-2.6 1.1-3.3-.9 2.3z" fill="#7b5926"/>
<path d="M303.6 101.8l.9-2.3 1.2-3.2-1 1.9z" fill="#7e4e26"/>
<path d="M305.7 96.3l1-1.4 1.2-2.4-1 1z" fill="#8a3b27"/>
<path d="M304.5 99.5l1-2 1.2-2.6-1 1.4z" fill="#824227"/>
<path d="M303.4 102.8l.9-2.4 1.2-2.9-1 2z" fill="#7c4a26"/>
<path d="M302.2 106.2l.9-2.8 1.2-3-.9 2.4z" fill="#4b3922"/>
<path d="M306.7 94.9l1.1-1 1.2-1.9-1.1 .5z" fill="#9e3629"/>
<path d="M305.5 97.5l1.1-1.4 1.2-2.2-1.1 1z" fill="#8a3927"/>
<path d="M307.8 93.9l1.1-.4 1.3-1.6-1.2 .1z" fill="#bd332b"/>
<path d="M304.3 100.4l1-2 1.3-2.3-1.1 1.4z" fill="#823f27"/>
<path d="M306.6 96.1l1-.9 1.3-1.7-1.1 .4z" fill="#a23529"/>
<path d="M305.3 98.4l1.1-1.4 1.2-1.8-1 .9z" fill="#8b3627"/>
<path d="M304.1 100.9l1-1.9 1.3-2-1.1 1.4z" fill="#833a27"/>
<path d="M301.3 109l.9-2.8 .9-2.8 1-2.5 1-1.9 1.3-2 1.2-1.8 1.3-1.7 1.3-1.6-1.2 .1-1.1 .5-1 1-1.1 1.3-1.1 3.4-1.1 3.6-1.2 3.6z" class="m"/>
<path d="M329.2 91.2l4.7 1.5 4.8-4.8-4.7-1.4z" fill="#ff3131"/>
<path d="M329.2 91.2l4.7 1.5 4.8-4.8-4.7-1.4z" class="m"/>
<path d="M372 91.9l5 2 4.1-3.8-4.9-2.9z" fill="#ff3932"/>
<path d="M372 91.9l5 2 4.1-3.8-4.9-2.9z" class="m"/>
<path d="M377 93.9l2.4 2 2.4 3.5 2-1.3 2.1-5.1-2.4-1.2-2.4-1.7-2.1 2.1z" fill="#ff6134"/>
<path d="M381.4 94.9l2.4 3.2 2.1-5.1-2.4-1.2z" fill="#ff7636"/>
<path d="M379 92.2l2.4 2.7 2.1-3.1-2.4-1.7z" fill="#ff5835"/>
<path d="M379.4 95.9l2.4 3.5 2-1.3-2.4-3.2z" fill="#ff6c33"/>
<path d="M377 93.9l2.4 2 2-1-2.4-2.7z" fill="#ff4b33"/>
<path d="M377 93.9l2.4 2 2.4 3.5 2-1.3 2.1-5.1-2.4-1.2-2.4-1.7-2.1 2.1z" class="m"/>
<path d="M386.4 110.2l1.2 2 1.2 1.2 1.2 .4 1.3-.2 1.3-7.5 1.2-5.5 1.1-3.9 1.1-2.8-1.3 0-1.3 0-1.2 0-1.3 0-1.1 3.2-1.1 4.2-1.2 4.9z" fill="#d9832e"/>
<path d="M386.4 110.2l1.2 2 1.2-5.5-1.3-.5z" fill="#ffff34"/>
<path d="M387.6 112.2l1.2 1.2 1.2-6.6-1.2-.1z" fill="#f9e230"/>
<path d="M388.8 113.4l1.2 .4 1.3-7.2-1.3 .2z" fill="#d6c32d"/>
<path d="M387.5 106.2l1.3 .5 1.2-5.4-1.3 0z" fill="#eca12f"/>
<path d="M390 113.8l1.3-.2 1.3-7.5-1.3 .5z" fill="#c4ae2c"/>
<path d="M388.8 106.7l1.2 .1 1.2-5.6-1.2 .1z" fill="#d58f2d"/>
<path d="M388.7 101.3l1.3 0 1.1-4.2-1.3 0z" fill="#e0702e"/>
<path d="M389.8 97.1l1.3 0 1.1-3.2-1.3 0z" fill="#e3542e"/>
<path d="M390 106.8l1.3-.2 1.2-5.7-1.3 .3z" fill="#c7812c"/>
<path d="M390 101.3l1.2-.1 1.2-4.2-1.3 .1z" fill="#d4662d"/>
<path d="M391.1 97.1l1.3-.1 1-3.1-1.2 0z" fill="#dc4e2e"/>
<path d="M392.4 97l1.2-.1 1.1-3-1.3 0z" fill="#d8482d"/>
<path d="M391.3 106.6l1.3-.5 1.2-5.5-1.3 .3z" fill="#bd752b"/>
<path d="M391.2 101.2l1.3-.3 1.1-4-1.2 .1z" fill="#cd5e2d"/>
<path d="M393.6 96.9l1.3-.2 1.1-2.8-1.3 0z" fill="#d6432d"/>
<path d="M392.5 100.9l1.3-.3 1.1-3.9-1.3 .2z" fill="#c8562c"/>
<path d="M386.4 110.2l1.2 2 1.2 1.2 1.2 .4 1.3-.2 1.3-7.5 1.2-5.5 1.1-3.9 1.1-2.8-1.3 0-1.3 0-1.2 0-1.3 0-1.1 3.2-1.1 4.2-1.2 4.9z" class="m"/>
<path d="M393.9 118.7l1.2 2.5 1.1 2.9 1.2 3.2 1.1 3.6 .3 10.5 .3 9.5 .8 .8 1.5-9.5-1.4 1.7-1.3 1.3-1.3 .8-1.3-.2-.8-2-.4-9.7-.4-9.4z" fill="#32335b"/>
<path d="M396.4 147.4l1.1 2.4 1.2-4.6-1.3 .8z" fill="#6535ff"/>
<path d="M397.5 149.8l1.2 1.4 1.3-7.3-1.3 1.3z" fill="#4c2dd3"/>
<path d="M395.3 143.8l1.1 3.6 1-1.4-1.3-.2z" fill="#432ff2"/>
<path d="M398.7 151.2l1.2 .5 1.5-9.5-1.4 1.7z" fill="#3d2bb8"/>
<path d="M398 147.5l1.1 3.4 .8 .8-1.2-.5z" fill="#272138"/>
<path d="M397 143.4l1 4.1 .7 3.7-1.2-1.4z" fill="#24213b"/>
<path d="M396 138.8l1 4.6 .5 6.4-1.1-2.4z" fill="#21273c"/>
<path d="M394.9 134.1l1.1 4.7 .4 8.6-1.1-3.6z" fill="#21363d"/>
<path d="M397.8 137l1 4.4 .3 9.5-1.1-3.4z" fill="#21353e"/>
<path d="M396.7 132.7l1.1 4.3 .2 10.5-1-4.1z" fill="#213e38"/>
<path d="M395.6 128.5l1.1 4.2 .3 10.7-1-4.6z" fill="#213e27"/>
<path d="M394.5 124.7l1.1 3.8 .4 10.3-1.1-4.7z" fill="#293d21"/>
<path d="M397.4 127.3l1.1 3.6 .3 10.5-1-4.4z" fill="#293e21"/>
<path d="M396.2 124.1l1.2 3.2 .4 9.7-1.1-4.3z" fill="#333e21"/>
<path d="M395.1 121.2l1.1 2.9 .5 8.6-1.1-4.2z" fill="#3c3d21"/>
<path d="M393.9 118.7l1.2 2.5 .5 7.3-1.1-3.8z" fill="#3c3621"/>
<path d="M393.9 118.7l1.2 2.5 1.1 2.9 1.2 3.2 1.1 3.6 .3 10.5 .3 9.5 .8 .8 1.5-9.5-1.4 1.7-1.3 1.3-1.3 .8-1.3-.2-.8-2-.4-9.7-.4-9.4z" class="m"/>
<path d="M285.5 113.1l1.6 1 1.6 .9 1.5 .3 2.2 1.5 2 1 1.9-.1-1.4 1.2-1.4 .3-1.5 0-2.1-1.5-2.1-2.2z" fill="#414522"/>
<path d="M289.9 117.7l1.6 .4 2 1.1-1.5 0z" fill="#364722"/>
<path d="M291.5 118.1l1.5 .3 1.9 .5-1.4 .3z" fill="#394922"/>
<path d="M293 118.4l1.4-.6 1.9-.1-1.4 1.2z" fill="#435123"/>
<path d="M287.8 115.5l1.5 .8 2.2 1.8-1.6-.4z" fill="#404321"/>
<path d="M289.3 116.3l1.6 .6 2.1 1.5-1.5-.3z" fill="#414422"/>
<path d="M290.9 116.9l1.5-.1 2 1-1.4 .6z" fill="#4d4e22"/>
<path d="M285.5 113.1l1.6 1 2.2 2.2-1.5-.8z" fill="#403921"/>
<path d="M287.1 114.1l1.6 .9 2.2 1.9-1.6-.6z" fill="#403a21"/>
<path d="M288.7 115l1.5 .3 2.2 1.5-1.5 .1z" fill="#4a4122"/>
<path d="M285.5 113.1l1.6 1 1.6 .9 1.5 .3 2.2 1.5 2 1 1.9-.1-1.4 1.2-1.4 .3-1.5 0-2.1-1.5-2.1-2.2z" class="m"/>
<path d="M353 92.3l4.9 1.5 4.4-4.8-4.8-1.4z" fill="#ff3131"/>
<path d="M353 92.3l4.9 1.5 4.4-4.8-4.8-1.4z" class="m"/>
<path d="M296.3 117.7l1-2 .9-2.7 .9-3 .9-3 1.3-1.8 1.3-2 1.3-2.1 1.2-2.1-1 1.9-1 2.5-.9 2.8-.9 2.8-1.2 3.2-1.2 2.6-1.2 1.9z" fill="#504323"/>
<path d="M300.1 112.2l1-2.8 1.1-3.2-.9 2.8z" fill="#4c4822"/>
<path d="M298.9 114.8l1-2.6 1.2-2.8-1 2.8z" fill="#4e4f22"/>
<path d="M297.7 116.7l.9-2.4 1.3-2.1-1 2.6z" fill="#4b5223"/>
<path d="M296.3 117.7l1-2 1.3-1.4-.9 2.4z" fill="#4b5423"/>
<path d="M301.1 109.4l.9-3.1 1.1-2.9-.9 2.8z" fill="#4e4022"/>
<path d="M299.9 112.2l.8-3.1 1.3-2.8-.9 3.1z" fill="#514723"/>
<path d="M298.6 114.3l.9-2.9 1.2-2.3-.8 3.1z" fill="#534d23"/>
<path d="M297.3 115.7l.9-2.7 1.3-1.6-.9 2.9z" fill="#565123"/>
<path d="M302 106.3l.9-2.9 1.2-2.5-1 2.5z" fill="#4e3722"/>
<path d="M300.7 109.1l.9-3.2 1.3-2.5-.9 2.9z" fill="#513c23"/>
<path d="M299.5 111.4l.9-3.2 1.2-2.3-.9 3.2z" fill="#534223"/>
<path d="M298.2 113l.9-3 1.3-1.8-.9 3.2z" fill="#564623"/>
<path d="M302.9 103.4l1-2.3 1.2-2.1-1 1.9z" fill="#4c2e22"/>
<path d="M301.6 105.9l1-2.7 1.3-2.1-1 2.3z" fill="#503223"/>
<path d="M300.4 108.2l.9-3 1.3-2-1 2.7z" fill="#533623"/>
<path d="M299.1 110l.9-3 1.3-1.8-.9 3z" fill="#553a23"/>
<path d="M296.3 117.7l1-2 .9-2.7 .9-3 .9-3 1.3-1.8 1.3-2 1.3-2.1 1.2-2.1-1 1.9-1 2.5-.9 2.8-.9 2.8-1.2 3.2-1.2 2.6-1.2 1.9z" class="m"/>
<path d="M314.8 93l4.7 1.5 5-4.7-4.7-1.5z" fill="#ff3131"/>
<path d="M314.8 93l4.7 1.5 5-4.7-4.7-1.5z" class="m"/>
<path d="M333.9 92.7l4.8 1.5 4.7-4.8-4.7-1.5z" fill="#ff3131"/>
<path d="M333.9 92.7l4.8 1.5 4.7-4.8-4.7-1.5z" class="m"/>
<path d="M382.7 104.2l1.3 1.7 1.2 2.2 1.1 2.7 1.2 3.5 .7 5.9 .7 4.3 1.1-3 1.3-7.9-1.3 .2-1.2-.4-1.2-1.2-1.2-2-.9 .2-.9-2.6-.9-2.4z" fill="#84912a"/>
<path d="M387.9 120.3l1 4.2 1.1-3-1.2-1.5z" fill="#70ff34"/>
<path d="M388.8 120l1.2 1.5 1.3-7.9-1.3 .2z" fill="#9eef2f"/>
<path d="M387.7 117.5l1.1 2.5 1.2-6.2-1.2-.4z" fill="#d2ff34"/>
<path d="M386.6 114.1l1.1 3.4 1.1-4.1-1.2-1.2z" fill="#ffff36"/>
<path d="M386.8 115.8l1.1 4.5 .9-.3-1.1-2.5z" fill="#98f02f"/>
<path d="M385.5 110.4l1.1 3.7 1-1.9-1.2-2z" fill="#ffff33"/>
<path d="M387.1 115.5l1.1 4.7 .7 4.3-1-4.2z" fill="#2a3320"/>
<path d="M385.7 111.5l1.1 4.3 .9 1.7-1.1-3.4z" fill="#c2d32d"/>
<path d="M384.6 107.8l1.1 3.7 .9 2.6-1.1-3.7z" fill="#cdb12d"/>
<path d="M386 111.4l1.1 4.1 .8 4.8-1.1-4.5z" fill="#333420"/>
<path d="M384.9 108l1.1 3.4 .8 4.4-1.1-4.3z" fill="#332f20"/>
<path d="M386.3 110.8l1.2 3.5 .7 5.9-1.1-4.7z" fill="#363320"/>
<path d="M383.7 105.4l1.2 2.6 .8 3.5-1.1-3.7z" fill="#322a20"/>
<path d="M385.2 108.1l1.1 2.7 .8 4.7-1.1-4.1z" fill="#342d20"/>
<path d="M384 105.9l1.2 2.2 .8 3.3-1.1-3.4z" fill="#342920"/>
<path d="M382.7 104.2l1.3 1.7 .9 2.1-1.2-2.6z" fill="#d5632d"/>
<path d="M382.7 104.2l1.3 1.7 1.2 2.2 1.1 2.7 1.2 3.5 .7 5.9 .7 4.3 1.1-3 1.3-7.9-1.3 .2-1.2-.4-1.2-1.2-1.2-2-.9 .2-.9-2.6-.9-2.4z" class="m"/>
<path d="M412.8 104.1l1.3 .5 1.3 .9 1.2 1.2 1.3 1.6 .3 5.5 0 9.2-.1 11.2-.1 9.2-.9-3.7-.9-4.5-.9-5-.8-5.1-.1-10.1-.2-7.1-.6-3.6z" fill="#323225"/>
<path d="M417.2 129.2l.9 5-.1 9.2-.9-3.7z" fill="#21283d"/>
<path d="M416.3 124.2l.9 5-.1 10.5-.9-4.5z" fill="#213b3d"/>
<path d="M415.4 119.4l.9 4.8-.1 11-.9-5z" fill="#213d2d"/>
<path d="M414.4 115l1 4.4-.1 10.8-.8-5.1z" fill="#263d21"/>
<path d="M417.3 118.5l.9 4.5-.1 11.2-.9-5z" fill="#223d21"/>
<path d="M416.3 114.5l1 4-.1 10.7-.9-5z" fill="#2f3d21"/>
<path d="M415.3 110.9l1 3.6 0 9.7-.9-4.8z" fill="#3a3c21"/>
<path d="M414.2 107.9l1.1 3 .1 8.5-1-4.4z" fill="#3c3621"/>
<path d="M417.1 110.7l1.1 3.1 0 9.2-.9-4.5z" fill="#3d3821"/>
<path d="M416 108.1l1.1 2.6 .2 7.8-1-4z" fill="#3c3221"/>
<path d="M414.8 106l1.2 2.1 .3 6.4-1-3.6z" fill="#3b2d21"/>
<path d="M413.6 104.3l1.2 1.7 .5 4.9-1.1-3z" fill="#3a2921"/>
<path d="M416.6 106.7l1.3 1.6 .3 5.5-1.1-3.1z" fill="#3a2921"/>
<path d="M415.4 105.5l1.2 1.2 .5 4-1.1-2.6z" fill="#3a2621"/>
<path d="M414.1 104.6l1.3 .9 .6 2.6-1.2-2.1z" fill="#3a2421"/>
<path d="M412.8 104.1l1.3 .5 .7 1.4-1.2-1.7z" fill="#392221"/>
<path d="M412.8 104.1l1.3 .5 1.3 .9 1.2 1.2 1.3 1.6 .3 5.5 0 9.2-.1 11.2-.1 9.2-.9-3.7-.9-4.5-.9-5-.8-5.1-.1-10.1-.2-7.1-.6-3.6z" class="m"/>
<path d="M357.9 93.8l4.9 1.5 4.3-4.8-4.8-1.5z" fill="#ff3131"/>
<path d="M357.9 93.8l4.9 1.5 4.3-4.8-4.8-1.5z" class="m"/>
<path d="M396.1 145.8l1.3 .2 1.3-.8 1.3-1.3 1.4-1.7 1.7-13.1 1.6-11.3 1.5-8.2 1.2-5.4-1.3 .5-1.4 .5-1.4 .7-1.3 .8-1.4 7.3-1.5 10.4-1.6 12.5z" fill="#73884a"/>
<path d="M396.1 145.8l1.3 .2 1.5-10.9-1.4 1.8z" fill="#2b5ab8"/>
<path d="M397.4 146l1.3-.8 1.6-12.1-1.4 2z" fill="#2a76ae"/>
<path d="M398.7 145.2l1.3-1.3 1.7-12.8-1.4 2z" fill="#2a9ba9"/>
<path d="M400 143.9l1.4-1.7 1.7-13.1-1.4 2z" fill="#2aa88d"/>
<path d="M397.5 136.9l1.4-1.8 1.6-12.5-1.4 1.8z" fill="#2aa93e"/>
<path d="M398.9 135.1l1.4-2 1.6-12.2-1.4 1.7z" fill="#39a82a"/>
<path d="M400.3 133.1l1.4-2 1.6-11.8-1.4 1.6z" fill="#58a82a"/>
<path d="M399.1 124.4l1.4-1.8 1.5-9.8-1.4 1.2z" fill="#a4a92a"/>
<path d="M401.7 131.1l1.4-2 1.6-11.3-1.4 1.5z" fill="#76a82a"/>
<path d="M400.5 122.6l1.4-1.7 1.5-9.3-1.4 1.2z" fill="#aa9b2a"/>
<path d="M401.9 120.9l1.4-1.6 1.5-8.7-1.4 1z" fill="#aa8c2a"/>
<path d="M400.6 114l1.4-1.2 1.3-6.9-1.3 .8z" fill="#ac6e2a"/>
<path d="M402 112.8l1.4-1.2 1.3-6.4-1.4 .7z" fill="#ad632a"/>
<path d="M403.3 119.3l1.4-1.5 1.5-8.2-1.4 1z" fill="#ab7e2a"/>
<path d="M403.4 111.6l1.4-1 1.3-5.9-1.4 .5z" fill="#ae592a"/>
<path d="M404.8 110.6l1.4-1 1.2-5.4-1.3 .5z" fill="#af4f2a"/>
<path d="M396.1 145.8l1.3 .2 1.3-.8 1.3-1.3 1.4-1.7 1.7-13.1 1.6-11.3 1.5-8.2 1.2-5.4-1.3 .5-1.4 .5-1.4 .7-1.3 .8-1.4 7.3-1.5 10.4-1.6 12.5z" class="m"/>
<path d="M319.5 94.5l4.8 1.5 4.9-4.8-4.7-1.4z" fill="#ff3131"/>
<path d="M319.5 94.5l4.8 1.5 4.9-4.8-4.7-1.4z" class="m"/>
<path d="M391.3 113.6l1.3-.6 1.3-.8 1.3-1 1.4-.9 1.3-6.6 1.1-4.4 1.1-3 1-1.8-1.3-.3-1.3-.1-1.2-.1-1.3-.1-1.1 2.8-1.1 3.9-1.2 5.5z" fill="#c45a2c"/>
<path d="M391.3 113.6l1.3-.6 1.3-7.4-1.3 .5z" fill="#bb9e2b"/>
<path d="M392.6 113l1.3-.8 1.3-7.2-1.3 .6z" fill="#b58f2b"/>
<path d="M392.6 106.1l1.3-.5 1.2-5.3-1.3 .3z" fill="#b96b2b"/>
<path d="M393.9 112.2l1.3-1 1.3-6.8-1.3 .6z" fill="#b1822a"/>
<path d="M394.9 96.7l1.3-.1 1.1-2.6-1.3-.1z" fill="#d73e2d"/>
<path d="M393.8 100.6l1.3-.3 1.1-3.7-1.3 .1z" fill="#c64f2c"/>
<path d="M393.9 105.6l1.3-.6 1.2-5.1-1.3 .4z" fill="#b5622b"/>
<path d="M396.2 96.6l1.3-.2 1-2.3-1.2-.1z" fill="#da3a2e"/>
<path d="M395.1 100.3l1.3-.4 1.1-3.5-1.3 .2z" fill="#c5492c"/>
<path d="M395.2 111.2l1.4-.9 1.3-6.6-1.4 .7z" fill="#af772a"/>
<path d="M397.5 96.4l1.3-.1 1-2.1-1.3-.1z" fill="#e0362e"/>
<path d="M395.2 105l1.3-.6 1.2-4.8-1.3 .3z" fill="#b4592b"/>
<path d="M398.8 96.3l1.3 0 1-1.8-1.3-.3z" fill="#e8342f"/>
<path d="M396.4 99.9l1.3-.3 1.1-3.3-1.3 .1z" fill="#c7432c"/>
<path d="M396.5 104.4l1.4-.7 1.1-4.4-1.3 .3z" fill="#b5522b"/>
<path d="M397.7 99.6l1.3-.3 1.1-3-1.3 0z" fill="#cb3e2c"/>
<path d="M391.3 113.6l1.3-.6 1.3-.8 1.3-1 1.4-.9 1.3-6.6 1.1-4.4 1.1-3 1-1.8-1.3-.3-1.3-.1-1.2-.1-1.3-.1-1.1 2.8-1.1 3.9-1.2 5.5z" class="m"/>
<path d="M338.7 94.2l4.8 1.4 4.7-4.8-4.8-1.4z" fill="#ff3131"/>
<path d="M338.7 94.2l4.8 1.4 4.7-4.8-4.8-1.4z" class="m"/>
<path d="M262.6 121.2l.7-2.9 .8-2.8 .7-2.4 .9-2.1 1-5 1.2-3.8 1.3-2.2 1.6-.5-1.2-.9-1.2-.6-1.1-.1-1 .5-1.1 4.3-.9 5.7-.9 6.4z" fill="#a24c29"/>
<path d="M262.6 121.2l.7-2.9 .9-6.3-.8 2.8z" fill="#868427"/>
<path d="M263.4 114.8l.8-2.8 .9-6-.8 2.4z" fill="#8a6627"/>
<path d="M263.3 118.3l.8-2.8 .9-6-.8 2.5z" fill="#8a7227"/>
<path d="M264.3 108.4l.8-2.4 1-4.8-.9 1.5z" fill="#904c28"/>
<path d="M265.2 102.7l.9-1.5 1.2-3.3-1 .5z" fill="#9a3828"/>
<path d="M264.2 112l.8-2.5 .9-5.3-.8 1.8z" fill="#8e5728"/>
<path d="M264.1 115.5l.7-2.4 1-5.6-.8 2z" fill="#8d6227"/>
<path d="M265.1 106l.8-1.8 1.2-4-1 1z" fill="#964028"/>
<path d="M266.1 101.2l1-1 1.3-2.2-1.1-.1z" fill="#b4332b"/>
<path d="M265 109.5l.8-2 1.1-4.5-1 1.2z" fill="#944a28"/>
<path d="M267.1 100.2l1-.3 1.5-1.3-1.2-.6z" fill="#de332e"/>
<path d="M265.9 104.2l1-1.2 1.2-3.1-1 .3z" fill="#9f3729"/>
<path d="M264.8 113.1l.9-2.1 1-5-.9 1.5z" fill="#925428"/>
<path d="M268.1 99.9l1.1 .1 1.6-.5-1.2-.9z" fill="#ff3631"/>
<path d="M265.8 107.5l.9-1.5 1.2-3.8-1 .8z" fill="#9a3f29"/>
<path d="M266.9 103l1-.8 1.3-2.2-1.1-.1z" fill="#bb332b"/>
<path d="M262.6 121.2l.7-2.9 .8-2.8 .7-2.4 .9-2.1 1-5 1.2-3.8 1.3-2.2 1.6-.5-1.2-.9-1.2-.6-1.1-.1-1 .5-1.1 4.3-.9 5.7-.9 6.4z" class="m"/>
<path d="M305.1 99l4.6-1.1 5.1-4.9-4.6-1.1z" fill="#d6352d"/>
<path d="M305.1 99l4.6-1.1 5.1-4.9-4.6-1.1z" class="m"/>
<path d="M362.8 95.3l4.9 1.5 4.3-4.9-4.9-1.4z" fill="#ff3131"/>
<path d="M362.8 95.3l4.9 1.5 4.3-4.9-4.9-1.4z" class="m"/>
<path d="M343.5 95.6l4.9 1.5 4.6-4.8-4.8-1.5z" fill="#ff3131"/>
<path d="M343.5 95.6l4.9 1.5 4.6-4.8-4.8-1.5z" class="m"/>
<path d="M324.3 96l4.8 1.5 4.8-4.8-4.7-1.5z" fill="#ff3131"/>
<path d="M324.3 96l4.8 1.5 4.8-4.8-4.7-1.5z" class="m"/>
<path d="M367.7 96.8l5 1.5 4.3-4.4-5-2z" fill="#ff3331"/>
<path d="M367.7 96.8l5 1.5 4.3-4.4-5-2z" class="m"/>
<path d="M396.6 110.3l1.8-1.3 1.8-1.2 1.8-1.1 1.5-6.2 1.4-2.9 1.2 .1-1.7-1.6-1.6-1-1.7-.6-1.4 2.7-1.5 4.9z" fill="#d3442d"/>
<path d="M399.7 97.2l1.8-.1 1.3-2-1.7-.6z" fill="#f0352f"/>
<path d="M396.6 110.3l1.8-1.3 1.6-7.6-1.8 .7z" fill="#b0662a"/>
<path d="M401.5 97.1l1.7 .1 1.2-1.1-1.6-1z" fill="#ff3631"/>
<path d="M403.2 97.2l1.7 .4 1.2 .1-1.7-1.6z" fill="#ff3931"/>
<path d="M398.2 102.1l1.8-.7 1.5-4.3-1.8 .1z" fill="#c3422c"/>
<path d="M398.4 109l1.8-1.2 1.6-6.9-1.8 .5z" fill="#b0592a"/>
<path d="M400 101.4l1.8-.5 1.4-3.7-1.7-.1z" fill="#cd3c2d"/>
<path d="M401.8 100.9l1.7-.4 1.4-2.9-1.7-.4z" fill="#dd382e"/>
<path d="M400.2 107.8l1.8-1.1 1.5-6.2-1.7 .4z" fill="#b14e2a"/>
<path d="M396.6 110.3l1.8-1.3 1.8-1.2 1.8-1.1 1.5-6.2 1.4-2.9 1.2 .1-1.7-1.6-1.6-1-1.7-.6-1.4 2.7-1.5 4.9z" class="m"/>
<path d="M377.7 100.2l1.3 .7 1.2 .9 1.3 1 1.2 1.4 1 1.2 .9 2.4 .9 2.6 .9-.2-1.1-2.6-1.2-2.9-1.1-2.8-1.2-2.5-1-.4-1 0-1 .5z" fill="#ed6b2f"/>
<path d="M384.3 106.8l1.2 3.6 .9-.2-1.1-2.6z" fill="#facf30"/>
<path d="M383.2 103.6l1.1 3.2 1 .8-1.2-2.9z" fill="#e79f2f"/>
<path d="M382 101l1.2 2.6 .9 1.1-1.1-2.8z" fill="#e7802f"/>
<path d="M383.4 104.7l1.2 3.1 .9 2.6-1.2-3.6z" fill="#cf912d"/>
<path d="M380.8 99l1.2 2 1 .9-1.2-2.5z" fill="#ef6a2f"/>
<path d="M382.2 102.3l1.2 2.4 .9 2.1-1.1-3.2z" fill="#d8782d"/>
<path d="M381 100.4l1.2 1.9 1 1.3-1.2-2.6z" fill="#e6652f"/>
<path d="M379.8 99l1.2 1.4 1 .6-1.2-2z" fill="#f85730"/>
<path d="M382.5 103.3l1.2 2.1 .9 2.4-1.2-3.1z" fill="#d36e2d"/>
<path d="M381.3 101.7l1.2 1.6 .9 1.4-1.2-2.4z" fill="#e45f2e"/>
<path d="M380 100.4l1.3 1.3 .9 .6-1.2-1.9z" fill="#f75330"/>
<path d="M378.8 99.5l1.2 .9 1 0-1.2-1.4z" fill="#ff4931"/>
<path d="M381.5 102.8l1.2 1.4 1 1.2-1.2-2.1z" fill="#e7572f"/>
<path d="M380.2 101.8l1.3 1 1 .5-1.2-1.6z" fill="#fa4d30"/>
<path d="M377.7 100.2l1.3 .7 1-.5-1.2-.9z" fill="#ff3e32"/>
<path d="M379 100.9l1.2 .9 1.1-.1-1.3-1.3z" fill="#ff4531"/>
<path d="M377.7 100.2l1.3 .7 1.2 .9 1.3 1 1.2 1.4 1 1.2 .9 2.4 .9 2.6 .9-.2-1.1-2.6-1.2-2.9-1.1-2.8-1.2-2.5-1-.4-1 0-1 .5z" class="m"/>
<path d="M290.2 115.3l1.1-.5 1.1-1.1 1-1.4 1-1.7 1.5-.5 1.4-.7 1.4-1 1.3-1.4-.9 3-.9 3-.9 2.7-1 2-1.4 .2-1.5-.5-1.6-.9z" fill="#564623"/>
<path d="M294.9 117.9l1-1.6 1.4-.6-1 2z" fill="#4f5623"/>
<path d="M293.4 117.4l1-1.2 1.5 .1-1 1.6z" fill="#555523"/>
<path d="M295.9 116.3l.9-2.3 1.4-1-.9 2.7z" fill="#585223"/>
<path d="M294.4 116.2l1-1.9 1.4-.3-.9 2.3z" fill="#585023"/>
<path d="M291.8 116.5l1.1-.9 1.5 .6-1 1.2z" fill="#554e23"/>
<path d="M296.8 114l.9-2.8 1.4-1.2-.9 3z" fill="#584823"/>
<path d="M292.9 115.6l1-1.5 1.5 .2-1 1.9z" fill="#574a23"/>
<path d="M295.4 114.3l.9-2.4 1.4-.7-.9 2.8z" fill="#594723"/>
<path d="M290.2 115.3l1.1-.5 1.6 .8-1.1 .9z" fill="#534623"/>
<path d="M297.7 111.2l1-2.8 1.3-1.4-.9 3z" fill="#573c23"/>
<path d="M293.9 114.1l1-1.9 1.4-.3-.9 2.4z" fill="#584323"/>
<path d="M291.3 114.8l1.1-1.1 1.5 .4-1 1.5z" fill="#564323"/>
<path d="M296.3 111.9l1-2.5 1.4-1-1 2.8z" fill="#583c23"/>
<path d="M292.4 113.7l1-1.4 1.5-.1-1 1.9z" fill="#563d23"/>
<path d="M294.9 112.2l1-2.1 1.4-.7-1 2.5z" fill="#583923"/>
<path d="M293.4 112.3l1-1.7 1.5-.5-1 2.1z" fill="#563623"/>
<path d="M290.2 115.3l1.1-.5 1.1-1.1 1-1.4 1-1.7 1.5-.5 1.4-.7 1.4-1 1.3-1.4-.9 3-.9 3-.9 2.7-1 2-1.4 .2-1.5-.5-1.6-.9z" class="m"/>
<path d="M309.7 97.9l4.7 1.5 5.1-4.9-4.7-1.5z" fill="#ff3131"/>
<path d="M309.7 97.9l4.7 1.5 5.1-4.9-4.7-1.5z" class="m"/>
<path d="M262 134l.8-2.3 .8-2.3 .8-2.2 .8-2.1 1-5.4 1.1-5.1 1.1-4.5 1.2-3.6-1.1 .6-1 .9-.9 1.3-.9 1.7-1 5.7-.9 5.9-.9 5.8z" fill="#886e28"/>
<path d="M262 134l.8-2.3 .9-5.7-.8 2.4z" fill="#468827"/>
<path d="M262.9 128.4l.8-2.4 .9-5.8-.8 2.4z" fill="#758a27"/>
<path d="M262.8 131.7l.8-2.3 .9-5.7-.8 2.3z" fill="#648a27"/>
<path d="M263.8 122.6l.8-2.4 1-5.7-.9 2.2z" fill="#8d7a27"/>
<path d="M263.7 126l.8-2.3 1-5.6-.9 2.1z" fill="#8c8627"/>
<path d="M263.6 129.4l.8-2.2 1-5.6-.9 2.1z" fill="#828c27"/>
<path d="M264.7 116.7l.9-2.2 1-5.2-.9 1.7z" fill="#916028"/>
<path d="M264.6 120.2l.9-2.1 1-5.4-.9 1.8z" fill="#906c28"/>
<path d="M264.5 123.7l.9-2.1 .9-5.4-.8 1.9z" fill="#8f7828"/>
<path d="M265.6 114.5l.9-1.8 1-4.7-.9 1.3z" fill="#955328"/>
<path d="M264.4 127.2l.8-2.1 1-5.4-.8 1.9z" fill="#8f8328"/>
<path d="M265.5 118.1l.8-1.9 1.1-5-.9 1.5z" fill="#945f28"/>
<path d="M265.4 121.6l.8-1.9 1.1-5.1-1 1.6z" fill="#936a28"/>
<path d="M266.5 112.7l.9-1.5 1.1-4.1-1 .9z" fill="#9b4929"/>
<path d="M266.3 116.2l1-1.6 1.1-4.5-1 1.1z" fill="#985328"/>
<path d="M267.4 111.2l1-1.1 1.2-3.6-1.1 .6z" fill="#a04029"/>
<path d="M262 134l.8-2.3 .8-2.3 .8-2.2 .8-2.1 1-5.4 1.1-5.1 1.1-4.5 1.2-3.6-1.1 .6-1 .9-.9 1.3-.9 1.7-1 5.7-.9 5.9-.9 5.8z" class="m"/>
<path d="M348.4 97.1l4.9 1.6 4.6-4.9-4.9-1.5z" fill="#ff3131"/>
<path d="M348.4 97.1l4.9 1.6 4.6-4.9-4.9-1.5z" class="m"/>
<path d="M407.4 104.2l1.4-.3 1.3-.1 1.4 0 1.3 .3 .8 .2 .6 3.6 .2 7.1 .1 10.1-.9-5.1-1-4.8-.9-4.4-1.1-3.7-.5-4.7-.7-1.8-.9 .7z" fill="#7e3126"/>
<path d="M413.4 111l1 4 .1 10.1-.9-5.1z" fill="#323c21"/>
<path d="M412.4 107.6l1 3.4 .2 9-1-4.8z" fill="#3b3a21"/>
<path d="M411.3 104.7l1.1 2.9 .2 7.6-.9-4.4z" fill="#3b3321"/>
<path d="M410.1 102.4l1.2 2.3 .4 6.1-1.1-3.7z" fill="#392e21"/>
<path d="M413 105.4l1.2 2.5 .2 7.1-1-4z" fill="#3b3021"/>
<path d="M411.9 103.4l1.1 2 .4 5.6-1-3.4z" fill="#392b21"/>
<path d="M410.6 101.8l1.3 1.6 .5 4.2-1.1-2.9z" fill="#392821"/>
<path d="M409.4 100.6l1.2 1.2 .7 2.9-1.2-2.3z" fill="#392521"/>
<path d="M412.4 103.1l1.2 1.2 .6 3.6-1.2-2.5z" fill="#3a2621"/>
<path d="M411.1 102.2l1.3 .9 .6 2.3-1.1-2z" fill="#392421"/>
<path d="M408.5 101.3l1.3 .3 .8 .2-1.2-1.2z" fill="#fa3730"/>
<path d="M407.4 104.2l1.4-.3 1-2.3-1.3-.3z" fill="#dd362e"/>
<path d="M408.8 103.9l1.3-.1 1-1.6-1.3-.6z" fill="#f1352f"/>
<path d="M410.1 103.8l1.4 0 .9-.7-1.3-.9z" fill="#ff3631"/>
<path d="M411.5 103.8l1.3 .3 .8 .2-1.2-1.2z" fill="#f83830"/>
<path d="M407.4 104.2l1.4-.3 1.3-.1 1.4 0 1.3 .3 .8 .2 .6 3.6 .2 7.1 .1 10.1-.9-5.1-1-4.8-.9-4.4-1.1-3.7-.5-4.7-.7-1.8-.9 .7z" class="m"/>
<path d="M329.1 97.5l4.8 1.6 4.8-4.9-4.8-1.5z" fill="#ff3131"/>
<path d="M329.1 97.5l4.8 1.6 4.8-4.9-4.8-1.5z" class="m"/>
<path d="M372.7 98.3l2.5 .9 2.5 1 2.1-1.2 2 .4-2.4-3.5-2.4-2-2.1 2z" fill="#ff3f32"/>
<path d="M377.3 97.1l2.5 1.9 2 .4-2.4-3.5z" fill="#ff4f31"/>
<path d="M374.9 95.9l2.4 1.2 2.1-1.2-2.4-2z" fill="#ff3d32"/>
<path d="M372.7 98.3l2.5 .9 2.1-2.1-2.4-1.2z" fill="#ff3431"/>
<path d="M375.2 99.2l2.5 1 2.1-1.2-2.5-1.9z" fill="#ff3c32"/>
<path d="M372.7 98.3l2.5 .9 2.5 1 2.1-1.2 2 .4-2.4-3.5-2.4-2-2.1 2z" class="m"/>
<path d="M388.9 111.8l1.2 1.3 1.3 1.6 1.2 1.8 1.3 2.2 .6 6 .4 9.4 .4 9.7 .8 2-1.2-1.3-1.1-2.6-1.1-3.8-1-4.7-.5-8.8-.6-7.1-.8-4z" fill="#2f3427"/>
<path d="M394.3 139.5l1 4.3 .8 2-1.2-1.3z" fill="#202236"/>
<path d="M393.3 134.5l1 5 .6 5-1.1-2.6z" fill="#212e39"/>
<path d="M392.2 129.5l1.1 5 .5 7.4-1.1-3.8z" fill="#213a37"/>
<path d="M391.2 124.6l1 4.9 .5 8.6-1-4.7z" fill="#213b27"/>
<path d="M393.9 129.4l1 4.7 .4 9.7-1-4.3z" fill="#213d33"/>
<path d="M392.8 125l1.1 4.4 .4 10.1-1-5z" fill="#213c22"/>
<path d="M391.7 121l1.1 4 .5 9.5-1.1-5z" fill="#2c3c21"/>
<path d="M390.6 117.5l1.1 3.5 .5 8.5-1-4.9z" fill="#373b21"/>
<path d="M393.4 121.3l1.1 3.4 .4 9.4-1-4.7z" fill="#333c21"/>
<path d="M392.2 118.3l1.2 3 .5 8.1-1.1-4.4z" fill="#3b3a21"/>
<path d="M391 115.7l1.2 2.6 .6 6.7-1.1-4z" fill="#3a3421"/>
<path d="M389.8 113.5l1.2 2.2 .7 5.3-1.1-3.5z" fill="#392f21"/>
<path d="M392.6 116.5l1.3 2.2 .6 6-1.1-3.4z" fill="#3a3121"/>
<path d="M391.4 114.7l1.2 1.8 .8 4.8-1.2-3z" fill="#392d21"/>
<path d="M390.1 113.1l1.3 1.6 .8 3.6-1.2-2.6z" fill="#392a21"/>
<path d="M388.9 111.8l1.2 1.3 .9 2.6-1.2-2.2z" fill="#392721"/>
<path d="M388.9 111.8l1.2 1.3 1.3 1.6 1.2 1.8 1.3 2.2 .6 6 .4 9.4 .4 9.7 .8 2-1.2-1.3-1.1-2.6-1.1-3.8-1-4.7-.5-8.8-.6-7.1-.8-4z" class="m"/>
<path d="M402 106.7l1.8-1 1.8-.8 1.8-.7 1.4-3.4 1.1 .7 .7 5.6-1.4-4.1-1.5-3.1-1.6-2.2-1.2-.1-1.4 2.9z" fill="#ba372b"/>
<path d="M408.3 99.7l1.6 1.8 .7 5.6-1.4-4.1z" fill="#382821"/>
<path d="M406.6 98.4l1.7 1.3 .9 3.3-1.5-3.1z" fill="#382521"/>
<path d="M404.9 97.6l1.7 .8 1.1 1.5-1.6-2.2z" fill="#e53e2f"/>
<path d="M403.5 100.5l1.8-.1 1.3-2-1.7-.8z" fill="#f1362f"/>
<path d="M405.3 100.4l1.8 0 1.2-.7-1.7-1.3z" fill="#ff3831"/>
<path d="M402 106.7l1.8-1 1.5-5.3-1.8 .1z" fill="#b7452b"/>
<path d="M407.1 100.4l1.7 .4 1.1 .7-1.6-1.8z" fill="#f63b30"/>
<path d="M403.8 105.7l1.8-.8 1.5-4.5-1.8 0z" fill="#c03e2c"/>
<path d="M405.6 104.9l1.8-.7 1.4-3.4-1.7-.4z" fill="#d43a2d"/>
<path d="M402 106.7l1.8-1 1.8-.8 1.8-.7 1.4-3.4 1.1 .7 .7 5.6-1.4-4.1-1.5-3.1-1.6-2.2-1.2-.1-1.4 2.9z" class="m"/>
<path d="M265.7 111l1.8-3 2.1-1.5 2.8-3.5 3.3 1.4-2.5-2.6-2.4-2.3-2.9 2.7z" fill="#d43f2d"/>
<path d="M267.9 102.2l2.2-.2 3.1-.2-2.4-2.3z" fill="#ff3f31"/>
<path d="M270.1 102l2.3 1 3.3 1.4-2.5-2.6z" fill="#e8432f"/>
<path d="M265.7 111l1.8-3 2.6-6-2.2 .2z" fill="#a04029"/>
<path d="M267.5 108l2.1-1.5 2.8-3.5-2.3-1z" fill="#ca392c"/>
<path d="M265.7 111l1.8-3 2.1-1.5 2.8-3.5 3.3 1.4-2.5-2.6-2.4-2.3-2.9 2.7z" class="m"/>
<path d="M353.3 98.7l5 1.5 4.5-4.9-4.9-1.5z" fill="#ff3131"/>
<path d="M353.3 98.7l5 1.5 4.5-4.9-4.9-1.5z" class="m"/>
<path d="M314.4 99.4l4.8 1.6 5.1-5-4.8-1.5z" fill="#ff3131"/>
<path d="M314.4 99.4l4.8 1.6 5.1-5-4.8-1.5z" class="m"/>
<path d="M401.4 142.2l1.4-2 1.5-2 1.4-2.1 1.5-2 1.7-12.3 1.5-9.1 1.3-5.8 1.1-2.8-1.3-.3-1.4 0-1.3 .1-1.4 .3-1.2 5.4-1.5 8.2-1.6 11.3z" fill="#93782e"/>
<path d="M401.4 142.2l1.4-2 1.8-13.1-1.5 2z" fill="#2aa861"/>
<path d="M402.8 140.2l1.5-2 1.7-12.9-1.4 1.8z" fill="#2aa836"/>
<path d="M404.3 138.2l1.4-2.1 1.7-12.6-1.4 1.8z" fill="#41a82a"/>
<path d="M405.7 136.1l1.5-2 1.7-12.3-1.5 1.7z" fill="#60a82a"/>
<path d="M403.1 129.1l1.5-2 1.6-10.8-1.5 1.5z" fill="#93a82a"/>
<path d="M404.6 127.1l1.4-1.8 1.6-10.3-1.4 1.3z" fill="#a9a32a"/>
<path d="M406 125.3l1.4-1.8 1.6-9.7-1.4 1.2z" fill="#a9932a"/>
<path d="M404.7 117.8l1.5-1.5 1.4-7.6-1.4 .9z" fill="#ab712a"/>
<path d="M407.4 123.5l1.5-1.7 1.5-9.1-1.4 1.1z" fill="#aa842a"/>
<path d="M406.2 116.3l1.4-1.3 1.3-7-1.3 .7z" fill="#ac652a"/>
<path d="M406.2 109.6l1.4-.9 1.2-4.8-1.4 .3z" fill="#b0472a"/>
<path d="M407.6 115l1.4-1.2 1.3-6.5-1.4 .7z" fill="#ad5a2a"/>
<path d="M407.6 108.7l1.3-.7 1.2-4.2-1.3 .1z" fill="#b6402b"/>
<path d="M408.9 108l1.4-.7 1.2-3.5-1.4 0z" fill="#c03b2b"/>
<path d="M409 113.8l1.4-1.1 1.3-5.8-1.4 .4z" fill="#ae4f2a"/>
<path d="M410.3 107.3l1.4-.4 1.1-2.8-1.3-.3z" fill="#d1372d"/>
<path d="M401.4 142.2l1.4-2 1.5-2 1.4-2.1 1.5-2 1.7-12.3 1.5-9.1 1.3-5.8 1.1-2.8-1.3-.3-1.4 0-1.3 .1-1.4 .3-1.2 5.4-1.5 8.2-1.6 11.3z" class="m"/>
<path d="M333.9 99.1l4.9 1.5 4.7-5-4.8-1.4z" fill="#ff3131"/>
<path d="M333.9 99.1l4.9 1.5 4.7-5-4.8-1.4z" class="m"/>
<path d="M300 107l2-4 2.4-.1 2.6-2.5 2.7-2.5-2.4-.5-2.2 1.6-2.5 4.2z" fill="#a63029"/>
<path d="M302.6 103.2l2.1-3 2.6-2.8-2.2 1.6z" fill="#8a3427"/>
<path d="M304.7 100.2l2.3 .2 2.7-2.5-2.4-.5z" fill="#e7312f"/>
<path d="M300 107l2-4 2.7-2.8-2.1 3z" fill="#4e2a22"/>
<path d="M302 103l2.4-.1 2.6-2.5-2.3-.2z" fill="#d9312e"/>
<path d="M300 107l2-4 2.4-.1 2.6-2.5 2.7-2.5-2.4-.5-2.2 1.6-2.5 4.2z" class="m"/>
<path d="M269.6 106.5l2.2-.2 2.3 .6 3.2-.3 3.4 2.7-2.5-2.3-2.5-2.6-3.3-1.4z" fill="#e4462e"/>
<path d="M272.4 103l2.4 1.7 3.4 2.3-2.5-2.6z" fill="#d34c2d"/>
<path d="M274.8 104.7l2.5 1.9 3.4 2.7-2.5-2.3z" fill="#c6562c"/>
<path d="M269.6 106.5l2.2-.2 3-1.6-2.4-1.7z" fill="#fb3930"/>
<path d="M271.8 106.3l2.3 .6 3.2-.3-2.5-1.9z" fill="#fc3c30"/>
<path d="M269.6 106.5l2.2-.2 2.3 .6 3.2-.3 3.4 2.7-2.5-2.3-2.5-2.6-3.3-1.4z" class="m"/>
<path d="M358.3 100.2l5 1.5 4.4-4.9-4.9-1.5z" fill="#ff3131"/>
<path d="M358.3 100.2l5 1.5 4.4-4.9-4.9-1.5z" class="m"/>
<path d="M319.2 101l4.8 1.5 5.1-5-4.8-1.5z" fill="#ff3131"/>
<path d="M319.2 101l4.8 1.5 5.1-5-4.8-1.5z" class="m"/>
<path d="M338.8 100.6l4.9 1.5 4.7-5-4.9-1.5z" fill="#ff3131"/>
<path d="M338.8 100.6l4.9 1.5 4.7-5-4.9-1.5z" class="m"/>
<path d="M274.1 106.9l1.6 .7 1.6 .9 1.6 .9 2.2 .3 2.2 1.4 2.2 2-1.6-1.1-1.6-1.3-1.6-1.4-2.3-2.1-2.2-.9z" fill="#a83f2a"/>
<path d="M278.4 107.2l1.6 1.4 2.3 2.1-1.6-1.4z" fill="#3d2c21"/>
<path d="M280 108.6l1.7 1.3 2.2 2.1-1.6-1.3z" fill="#3d2e21"/>
<path d="M281.7 109.9l1.6 1.2 2.2 2-1.6-1.1z" fill="#3e2f21"/>
<path d="M276.2 106.3l1.6 1.1 2.2 1.2-1.6-1.4z" fill="#d44b2d"/>
<path d="M277.8 107.4l1.6 1.2 2.3 1.3-1.7-1.3z" fill="#cd512d"/>
<path d="M279.4 108.6l1.7 1.1 2.2 1.4-1.6-1.2z" fill="#c8562c"/>
<path d="M274.1 106.9l1.6 .7 2.1-.2-1.6-1.1z" fill="#f83a30"/>
<path d="M275.7 107.6l1.6 .9 2.1 .1-1.6-1.2z" fill="#ee3e2f"/>
<path d="M277.3 108.5l1.6 .9 2.2 .3-1.7-1.1z" fill="#e6422f"/>
<path d="M274.1 106.9l1.6 .7 1.6 .9 1.6 .9 2.2 .3 2.2 1.4 2.2 2-1.6-1.1-1.6-1.3-1.6-1.4-2.3-2.1-2.2-.9z" class="m"/>
<path d="M363.3 101.7l5 1.6 4.4-5-5-1.5z" fill="#ff3131"/>
<path d="M363.3 101.7l5 1.6 4.4-5-5-1.5z" class="m"/>
<path d="M304.4 102.9l4.8 1.6 5.2-5.1-4.7-1.5z" fill="#ff3131"/>
<path d="M304.4 102.9l4.8 1.6 5.2-5.1-4.7-1.5z" class="m"/>
<path d="M278.9 109.4l1.7 1 1.6 .9 1.6 .9 2.1 .4 2.2 1.2 2.1 1.5-1.5-.3-1.6-.9-1.6-1-2.2-2-2.2-1.4z" fill="#904328"/>
<path d="M283.3 111.1l1.6 1.1 2.2 1.9-1.6-1z" fill="#3e3121"/>
<path d="M284.9 112.2l1.6 1 2.2 1.8-1.6-.9z" fill="#3f3221"/>
<path d="M286.5 113.2l1.6 .6 2.1 1.5-1.5-.3z" fill="#453622"/>
<path d="M281.1 109.7l1.6 1.1 2.2 1.4-1.6-1.1z" fill="#c45b2c"/>
<path d="M282.7 110.8l1.6 1.1 2.2 1.3-1.6-1z" fill="#c15f2c"/>
<path d="M284.3 111.9l1.6 .7 2.2 1.2-1.6-.6z" fill="#3f2c21"/>
<path d="M278.9 109.4l1.7 1 2.1 .4-1.6-1.1z" fill="#df462e"/>
<path d="M280.6 110.4l1.6 .9 2.1 .6-1.6-1.1z" fill="#d94b2e"/>
<path d="M282.2 111.3l1.6 .9 2.1 .4-1.6-.7z" fill="#cf4c2d"/>
<path d="M278.9 109.4l1.7 1 1.6 .9 1.6 .9 2.1 .4 2.2 1.2 2.1 1.5-1.5-.3-1.6-.9-1.6-1-2.2-2-2.2-1.4z" class="m"/>
<path d="M343.7 102.1l5 1.6 4.6-5-4.9-1.6z" fill="#ff3131"/>
<path d="M343.7 102.1l5 1.6 4.6-5-4.9-1.6z" class="m"/>
<path d="M324 102.5l4.9 1.6 5-5-4.8-1.6z" fill="#ff3131"/>
<path d="M324 102.5l4.9 1.6 5-5-4.8-1.6z" class="m"/>
<path d="M383.7 108.4l1.3 .7 1.3 .7 1.3 .9 1.3 1.1 .9 1.7 .8 4 .6 7.1 .5 8.8-1-5.2-1.1-5.1-1-4.7-1.1-4.1-.8-4-1-1.8-.9-.5z" fill="#633424"/>
<path d="M390.1 120.1l1.1 4.5 .5 8.8-1-5.2z" fill="#283a21"/>
<path d="M389 116.3l1.1 3.8 .6 8.1-1.1-5.1z" fill="#333921"/>
<path d="M387.8 113l1.2 3.3 .6 6.8-1-4.7z" fill="#383521"/>
<path d="M386.7 110.3l1.1 2.7 .8 5.4-1.1-4.1z" fill="#362f21"/>
<path d="M389.4 114.6l1.2 2.9 .6 7.1-1.1-4.5z" fill="#393621"/>
<path d="M388.2 112.1l1.2 2.5 .7 5.5-1.1-3.8z" fill="#383021"/>
<path d="M387 110.1l1.2 2 .8 4.2-1.2-3.3z" fill="#372b21"/>
<path d="M385.7 108.5l1.3 1.6 .8 2.9-1.1-2.7z" fill="#362820"/>
<path d="M388.5 111.7l1.3 1.8 .8 4-1.2-2.9z" fill="#382b21"/>
<path d="M387.3 110.3l1.2 1.4 .9 2.9-1.2-2.5z" fill="#382821"/>
<path d="M386 109l1.3 1.3 .9 1.8-1.2-2z" fill="#372621"/>
<path d="M384.8 108l1.2 1 1 1.1-1.3-1.6z" fill="#e14c2e"/>
<path d="M387.6 110.7l1.3 1.1 .9 1.7-1.3-1.8z" fill="#382521"/>
<path d="M386.3 109.8l1.3 .9 .9 1-1.2-1.4z" fill="#df472e"/>
<path d="M383.7 108.4l1.3 .7 1-.1-1.2-1z" fill="#fa3d30"/>
<path d="M385 109.1l1.3 .7 1 .5-1.3-1.3z" fill="#ee422f"/>
<path d="M383.7 108.4l1.3 .7 1.3 .7 1.3 .9 1.3 1.1 .9 1.7 .8 4 .6 7.1 .5 8.8-1-5.2-1.1-5.1-1-4.7-1.1-4.1-.8-4-1-1.8-.9-.5z" class="m"/>
<path d="M368.3 103.3l5.1 1.6 4.3-4.7-5-1.9z" fill="#ff3331"/>
<path d="M368.3 103.3l5.1 1.6 4.3-4.7-5-1.9z" class="m"/>
<path d="M265.2 125.1l.9-1.9 .9-1.7 .9-1.5 1-1.3 1.2-4.1 1.2-3.5 1.4-2.5 1.4-1.7-1.1-.4-1.2-.2-1.1 0-1.1 .2-1.2 3.6-1.1 4.5-1.1 5.1z" fill="#ab4a2a"/>
<path d="M265.2 125.1l.9-1.9 1-5.2-.9 1.7z" fill="#927628"/>
<path d="M266.2 119.7l.9-1.7 1.1-4.7-.9 1.3z" fill="#975e28"/>
<path d="M266.1 123.2l.9-1.7 1.1-4.9-1 1.4z" fill="#956928"/>
<path d="M267.3 114.6l.9-1.3 1.2-4-1 .8z" fill="#9d4929"/>
<path d="M268.4 110.1l1-.8 1.3-3-1.1 .2z" fill="#af3a2a"/>
<path d="M267.1 118l1-1.4 1.1-4.3-1 1z" fill="#9b5329"/>
<path d="M269.4 109.3l1.1-.5 1.3-2.5-1.1 0z" fill="#c1362c"/>
<path d="M268.2 113.3l1-1 1.3-3.5-1.1 .5z" fill="#a34129"/>
<path d="M267 121.5l.9-1.5 1.2-4.5-1 1.1z" fill="#995e28"/>
<path d="M270.5 108.8l1.1-.2 1.4-2.1-1.2-.2z" fill="#d5332d"/>
<path d="M268.1 116.6l1-1.1 1.2-3.9-1.1 .7z" fill="#9f4a29"/>
<path d="M269.2 112.3l1.1-.7 1.3-3-1.1 .2z" fill="#b23c2a"/>
<path d="M271.6 108.6l1.1 0 1.4-1.7-1.1-.4z" fill="#e8322f"/>
<path d="M267.9 120l1-1.3 1.2-4.1-1 .9z" fill="#9d5429"/>
<path d="M270.3 111.6l1-.5 1.4-2.5-1.1 0z" fill="#c2382c"/>
<path d="M269.1 115.5l1-.9 1.2-3.5-1 .5z" fill="#a74329"/>
<path d="M265.2 125.1l.9-1.9 .9-1.7 .9-1.5 1-1.3 1.2-4.1 1.2-3.5 1.4-2.5 1.4-1.7-1.1-.4-1.2-.2-1.1 0-1.1 .2-1.2 3.6-1.1 4.5-1.1 5.1z" class="m"/>
<path d="M407.2 134.1l1.4-2 1.5-1.9 1.5-1.9 1.5-1.8 1.6-10.3 1.4-6.6 1-2.6 .8 1.3-1.3-1.6-1.2-1.2-1.3-.9-1.3-.5-1.1 2.8-1.3 5.8-1.5 9.1z" fill="#b45d2b"/>
<path d="M407.2 134.1l1.4-2 1.7-11.8-1.4 1.5z" fill="#7fa92a"/>
<path d="M408.6 132.1l1.5-1.9 1.7-11.4-1.5 1.5z" fill="#9ca92a"/>
<path d="M410.1 130.2l1.5-1.9 1.7-10.8-1.5 1.3z" fill="#a99e2a"/>
<path d="M408.9 121.8l1.4-1.5 1.5-8.6-1.4 1z" fill="#ab762a"/>
<path d="M411.6 128.3l1.5-1.8 1.6-10.3-1.4 1.3z" fill="#aa8e2a"/>
<path d="M410.3 120.3l1.5-1.5 1.5-7.9-1.5 .8z" fill="#ac692a"/>
<path d="M410.4 112.7l1.4-1 1.3-5.2-1.4 .4z" fill="#b0462a"/>
<path d="M411.7 106.9l1.4-.4 1-1.9-1.3-.5z" fill="#e9362f"/>
<path d="M411.8 118.8l1.5-1.3 1.4-7.3-1.4 .7z" fill="#ad5d2a"/>
<path d="M413.1 106.5l1.4-.1 .9-.9-1.3-.9z" fill="#ff3731"/>
<path d="M414.5 106.4l1.3 .2 .8 .1-1.2-1.2z" fill="#fc3830"/>
<path d="M415.8 106.6l1.3 .4 .8 1.3-1.3-1.6z" fill="#392221"/>
<path d="M411.8 111.7l1.5-.8 1.2-4.5-1.4 .1z" fill="#b43f2b"/>
<path d="M413.3 117.5l1.4-1.3 1.4-6.6-1.4 .6z" fill="#ae522a"/>
<path d="M413.3 110.9l1.4-.7 1.1-3.6-1.3-.2z" fill="#c13a2c"/>
<path d="M414.7 110.2l1.4-.6 1-2.6-1.3-.4z" fill="#d7382d"/>
<path d="M407.2 134.1l1.4-2 1.5-1.9 1.5-1.9 1.5-1.8 1.6-10.3 1.4-6.6 1-2.6 .8 1.3-1.3-1.6-1.2-1.2-1.3-.9-1.3-.5-1.1 2.8-1.3 5.8-1.5 9.1z" class="m"/>
<path d="M309.2 104.5l4.8 1.6 5.2-5.1-4.8-1.6z" fill="#ff3131"/>
<path d="M309.2 104.5l4.8 1.6 5.2-5.1-4.8-1.6z" class="m"/>
<path d="M294.4 110.6l2.1-2.6 2.4 .1 2.7-2.6 2.8-2.6-2.4 .1-2 4-2.7 2.4z" fill="#932f28"/>
<path d="M297.3 109.4l2-3.8 2.7-2.6-2 4z" fill="#522c23"/>
<path d="M299.3 105.6l2.3-.1 2.8-2.6-2.4 .1z" fill="#d3322d"/>
<path d="M294.4 110.6l2.1-2.6 2.8-2.4-2 3.8z" fill="#512b23"/>
<path d="M296.5 108l2.4 .1 2.7-2.6-2.3 .1z" fill="#d4312d"/>
<path d="M294.4 110.6l2.1-2.6 2.4 .1 2.7-2.6 2.8-2.6-2.4 .1-2 4-2.7 2.4z" class="m"/>
<path d="M348.7 103.7l5 1.6 4.6-5.1-5-1.5z" fill="#ff3131"/>
<path d="M348.7 103.7l5 1.6 4.6-5.1-5-1.5z" class="m"/>
<path d="M328.9 104.1l5 1.6 4.9-5.1-4.9-1.5z" fill="#ff3131"/>
<path d="M328.9 104.1l5 1.6 4.9-5.1-4.9-1.5z" class="m"/>
<path d="M373.4 104.9l5.2 1.6 4.1-2.3-5-4z" fill="#ff3e32"/>
<path d="M373.4 104.9l5.2 1.6 4.1-2.3-5-4z" class="m"/>
<path d="M378.6 106.5l1.7 .5 1.7 .7 1.7 .7 1.4-.3 1.3 1.4 1.1 4.8-1.6-4.4-1.5-3.3-1.7-2.4-1.3-.1-1.4 .9z" fill="#df412e"/>
<path d="M384.7 107.2l1.7 2.3 1.1 4.8-1.6-4.4z" fill="#352920"/>
<path d="M383.1 105.4l1.6 1.8 1.2 2.7-1.5-3.3z" fill="#d65c2d"/>
<path d="M381.4 104.1l1.7 1.3 1.3 1.2-1.7-2.4z" fill="#ef4f2f"/>
<path d="M383.4 106.8l1.7 1.3 1.3 1.4-1.7-2.3z" fill="#e54e2e"/>
<path d="M380 105l1.7 .8 1.4-.4-1.7-1.3z" fill="#ff3e31"/>
<path d="M381.7 105.8l1.7 1 1.3 .4-1.6-1.8z" fill="#fa4530"/>
<path d="M378.6 106.5l1.7 .5 1.4-1.2-1.7-.8z" fill="#ff3431"/>
<path d="M380.3 107l1.7 .7 1.4-.9-1.7-1z" fill="#ff3731"/>
<path d="M382 107.7l1.7 .7 1.4-.3-1.7-1.3z" fill="#ff3b31"/>
<path d="M378.6 106.5l1.7 .5 1.7 .7 1.7 .7 1.4-.3 1.3 1.4 1.1 4.8-1.6-4.4-1.5-3.3-1.7-2.4-1.3-.1-1.4 .9z" class="m"/>
<path d="M283.8 112.2l1.6 .5 1.6 .2 1.5-.1 2-.9 2-.7 1.9-.6-1.3 2.2-1.4 1.7-1.5 .8-2.1-1.5-2.2-1.2z" fill="#743825"/>
<path d="M288.1 113.8l1.5-.3 2.1 1-1.5 .8z" fill="#503b23"/>
<path d="M289.6 113.5l1.4-1 2.1 .3-1.4 1.7z" fill="#543823"/>
<path d="M285.9 112.6l1.6 .2 2.1 .7-1.5 .3z" fill="#4a3022"/>
<path d="M291 112.5l1.5-1.3 1.9-.6-1.3 2.2z" fill="#533123"/>
<path d="M287.5 112.8l1.5-.3 2 0-1.4 1z" fill="#4f2f22"/>
<path d="M289 112.5l1.5-.6 2-.7-1.5 1.3z" fill="#4f2b22"/>
<path d="M283.8 112.2l1.6 .5 2.1 .1-1.6-.2z" fill="#c0482c"/>
<path d="M287 112.9l1.5-.1 2-.9-1.5 .6z" fill="#ba3c2b"/>
<path d="M283.8 112.2l1.6 .5 1.6 .2 1.5-.1 2-.9 2-.7 1.9-.6-1.3 2.2-1.4 1.7-1.5 .8-2.1-1.5-2.2-1.2z" class="m"/>
<path d="M353.7 105.3l5 1.6 4.6-5.2-5-1.5z" fill="#ff3131"/>
<path d="M353.7 105.3l5 1.6 4.6-5.2-5-1.5z" class="m"/>
<path d="M314 106.1l4.9 1.6 5.1-5.2-4.8-1.5z" fill="#ff3131"/>
<path d="M314 106.1l4.9 1.6 5.1-5.2-4.8-1.5z" class="m"/>
<path d="M385.5 158.3l1.2 3.2 1.2 3 1.2 2.9 1.2 2.6 .7 4.9 1.4-7 1.7-13.6 1.6-13-1.4 .4-1.3 .3-1.4 .3-1.4 .2-1.6 13.1-1.5 11.4-1 .8z" fill="#416d8c"/>
<path d="M388.5 172.1l1.3 1.5 1.2-5.6-1.3-.1z" fill="#6a32ff"/>
<path d="M387.3 170.1l1.2 2 1.2-4.2-1.3-.3z" fill="#6d36ff"/>
<path d="M389.8 173.6l1.2 1.3 1.4-7-1.4 .1z" fill="#632fef"/>
<path d="M386.1 167.8l1.2 2.3 1.1-2.5-1.3-.6z" fill="#5935ff"/>
<path d="M389.1 167.4l1.2 2.6 .7 4.9-1.2-1.3z" fill="#26213f"/>
<path d="M387.1 167l1.3 .6 1.6-12.2-1.4 .2z" fill="#2d84d0"/>
<path d="M387.9 164.5l1.2 2.9 .7 6.2-1.3-1.5z" fill="#222140"/>
<path d="M388.4 167.6l1.3 .3 1.6-12.8-1.3 .3z" fill="#2c8bcb"/>
<path d="M389.7 167.9l1.3 .1 1.7-13.3-1.4 .4z" fill="#2c96c8"/>
<path d="M386.7 161.5l1.2 3 .6 7.6-1.2-2z" fill="#212840"/>
<path d="M391 168l1.4-.1 1.7-13.6-1.4 .4z" fill="#2ca5c6"/>
<path d="M385.5 158.3l1.2 3.2 .6 8.6-1.2-2.3z" fill="#213240"/>
<path d="M388.6 155.6l1.4-.2 1.6-13.1-1.4 .2z" fill="#3ec72c"/>
<path d="M390 155.4l1.3-.3 1.7-13.1-1.4 .3z" fill="#49c62c"/>
<path d="M391.3 155.1l1.4-.4 1.6-13-1.3 .3z" fill="#55c52c"/>
<path d="M392.7 154.7l1.4-.4 1.6-13-1.4 .4z" fill="#62c42c"/>
<path d="M385.5 158.3l1.2 3.2 1.2 3 1.2 2.9 1.2 2.6 .7 4.9 1.4-7 1.7-13.6 1.6-13-1.4 .4-1.3 .3-1.4 .3-1.4 .2-1.6 13.1-1.5 11.4-1 .8z" class="m"/>
<path d="M333.9 105.7l4.9 1.6 4.9-5.2-4.9-1.5z" fill="#ff3131"/>
<path d="M333.9 105.7l4.9 1.6 4.9-5.2-4.9-1.5z" class="m"/>
<path d="M298.9 108.1l4.8 1.6 5.5-5.2-4.8-1.6z" fill="#ff3131"/>
<path d="M298.9 108.1l4.8 1.6 5.5-5.2-4.8-1.6z" class="m"/>
<path d="M380.6 145.2l1.2 3.2 1.2 3.3 1.3 3.3 1.2 3.3 .6 9.5 1-.8 1.5-11.4 1.6-13.1-1.3 .2-1.4 .1-1.3-.1-1.4-.1-1.4 11.7-1.3 5.8-.8-5.5z" fill="#297a6d"/>
<path d="M384.9 165l1.2 2.8 1-.8-1.3-1z" fill="#3530f2"/>
<path d="M383.7 161.8l1.2 3.2 .9 1-1.2-1.4z" fill="#202435"/>
<path d="M384.6 164.6l1.2 1.4 1.5-10.3-1.3-.2z" fill="#2e91e3"/>
<path d="M383.3 162.6l1.3 2 1.4-9.1-1.4-.4z" fill="#30b0f9"/>
<path d="M385.8 166l1.3 1 1.5-11.4-1.3 .1z" fill="#2d85d6"/>
<path d="M382.1 160.1l1.2 2.5 1.3-7.5-1.2-.8z" fill="#33e7ff"/>
<path d="M382.5 158.3l1.2 3.5 .9 2.8-1.3-2z" fill="#212c37"/>
<path d="M381.3 154.6l1.2 3.7 .8 4.3-1.2-2.5z" fill="#213639"/>
<path d="M383.4 154.3l1.2 .8 1.6-12.4-1.4-.1z" fill="#2dd539"/>
<path d="M384.3 155l1.2 3.3 .6 9.5-1.2-2.8z" fill="#213e40"/>
<path d="M384.6 155.1l1.4 .4 1.5-12.7-1.3-.1z" fill="#2dd036"/>
<path d="M386 155.5l1.3 .2 1.6-13-1.4 .1z" fill="#2ccc2e"/>
<path d="M383 151.7l1.3 3.3 .6 10-1.2-3.2z" fill="#214037"/>
<path d="M387.3 155.7l1.3-.1 1.6-13.1-1.3 .2z" fill="#34c92c"/>
<path d="M381.8 148.4l1.2 3.3 .7 10.1-1.2-3.5z" fill="#21402a"/>
<path d="M380.6 145.2l1.2 3.2 .7 9.9-1.2-3.7z" fill="#243f21"/>
<path d="M380.6 145.2l1.2 3.2 1.2 3.3 1.3 3.3 1.2 3.3 .6 9.5 1-.8 1.5-11.4 1.6-13.1-1.3 .2-1.4 .1-1.3-.1-1.4-.1-1.4 11.7-1.3 5.8-.8-5.5z" class="m"/>
<path d="M390.3 170l1.2 2.4 1.3 2.1 1.2 2 1.3 1.8 .9-.8 1.6-10.8 1.8-14.3 1.8-12.5-1.4 .3-1.5 .4-1.4 .4-1.4 .3-1.6 13-1.7 13.6-1.4 7z" fill="#527586"/>
<path d="M391 174.9l1.3 .9 1.4-8.1-1.3 .2z" fill="#5d2edc"/>
<path d="M394 176.5l1.3 1.8 .9-.8-1.3-.4z" fill="#8a2fec"/>
<path d="M392.8 174.5l1.2 2 .9 .6-1.3-.6z" fill="#2d213b"/>
<path d="M392.3 175.8l1.3 .7 1.5-9.1-1.4 .3z" fill="#572dd3"/>
<path d="M391.5 172.4l1.3 2.1 .8 2-1.3-.7z" fill="#2c213d"/>
<path d="M393.6 176.5l1.3 .6 1.6-10-1.4 .3z" fill="#522dce"/>
<path d="M390.3 170l1.2 2.4 .8 3.4-1.3-.9z" fill="#29213e"/>
<path d="M394.9 177.1l1.3 .4 1.6-10.8-1.3 .4z" fill="#4b2ccc"/>
<path d="M392.4 167.9l1.3-.2 1.7-13.9-1.3 .5z" fill="#2cb7c5"/>
<path d="M393.7 167.7l1.4-.3 1.7-14.1-1.4 .5z" fill="#2cc4bf"/>
<path d="M395.1 167.4l1.4-.3 1.7-14.2-1.4 .4z" fill="#2cc4ac"/>
<path d="M396.5 167.1l1.3-.4 1.8-14.3-1.4 .5z" fill="#2cc399"/>
<path d="M394.1 154.3l1.3-.5 1.7-12.8-1.4 .3z" fill="#70c42c"/>
<path d="M395.4 153.8l1.4-.5 1.7-12.7-1.4 .4z" fill="#7ec42c"/>
<path d="M396.8 153.3l1.4-.4 1.8-12.7-1.5 .4z" fill="#8bc32c"/>
<path d="M398.2 152.9l1.4-.5 1.8-12.5-1.4 .3z" fill="#99c32c"/>
<path d="M390.3 170l1.2 2.4 1.3 2.1 1.2 2 1.3 1.8 .9-.8 1.6-10.8 1.8-14.3 1.8-12.5-1.4 .3-1.5 .4-1.4 .4-1.4 .3-1.6 13-1.7 13.6-1.4 7z" class="m"/>
<path d="M268.9 118.7l2.1-1.8 2.1-.9 2.8-4.8 3-1.8-2.4-1.4-2.4-1.1-2.8 4.2z" fill="#d83b2d"/>
<path d="M271.3 111.1l2.3-.2 2.9-2.9-2.4-1.1z" fill="#eb362f"/>
<path d="M268.9 118.7l2.1-1.8 2.6-6-2.3 .2z" fill="#af452a"/>
<path d="M273.6 110.9l2.3 .3 3-1.8-2.4-1.4z" fill="#ff3731"/>
<path d="M271 116.9l2.1-.9 2.8-4.8-2.3-.3z" fill="#c73c2c"/>
<path d="M268.9 118.7l2.1-1.8 2.1-.9 2.8-4.8 3-1.8-2.4-1.4-2.4-1.1-2.8 4.2z" class="m"/>
<path d="M358.7 106.9l5.1 1.6 4.5-5.2-5-1.6z" fill="#ff3131"/>
<path d="M358.7 106.9l5.1 1.6 4.5-5.2-5-1.6z" class="m"/>
<path d="M318.9 107.7l4.9 1.6 5.1-5.2-4.9-1.6z" fill="#ff3131"/>
<path d="M318.9 107.7l4.9 1.6 5.1-5.2-4.9-1.6z" class="m"/>
<path d="M338.8 107.3l5 1.6 4.9-5.2-5-1.6z" fill="#ff3131"/>
<path d="M338.8 107.3l5 1.6 4.9-5.2-5-1.6z" class="m"/>
<path d="M400.8 120.7l1.3 .8 1.4 1 1.3 1.2 1.3 1.4 .5 5.4 .3 9.2 0 11.4 .2 9.1-1.1-2.7-1.1-3.1-1-3.6-1.1-3.9-.2-11.1-.3-8.5-.7-4.9z" fill="#333528"/>
<path d="M405.9 147.3l1 3.8 .2 9.1-1.1-2.7z" fill="#212440"/>
<path d="M404.8 143.4l1.1 3.9 .1 10.2-1.1-3.1z" fill="#213340"/>
<path d="M403.7 139.6l1.1 3.8 .1 11-1-3.6z" fill="#21403e"/>
<path d="M402.6 135.8l1.1 3.8 .2 11.2-1.1-3.9z" fill="#21402f"/>
<path d="M405.8 136.2l1.1 3.5 0 11.4-1-3.8z" fill="#214024"/>
<path d="M404.6 133l1.2 3.2 .1 11.1-1.1-3.9z" fill="#294021"/>
<path d="M403.5 130l1.1 3 .2 10.4-1.1-3.8z" fill="#333f21"/>
<path d="M402.3 127.3l1.2 2.7 .2 9.6-1.1-3.8z" fill="#3c3f21"/>
<path d="M405.4 128.1l1.2 2.4 .3 9.2-1.1-3.5z" fill="#3f3c21"/>
<path d="M404.2 125.9l1.2 2.2 .4 8.1-1.2-3.2z" fill="#3f3721"/>
<path d="M402.9 124l1.3 1.9 .4 7.1-1.1-3z" fill="#3e3321"/>
<path d="M401.6 122.4l1.3 1.6 .6 6-1.2-2.7z" fill="#3d2f21"/>
<path d="M404.8 123.7l1.3 1.4 .5 5.4-1.2-2.4z" fill="#3d2c21"/>
<path d="M403.5 122.5l1.3 1.2 .6 4.4-1.2-2.2z" fill="#3d2921"/>
<path d="M402.1 121.5l1.4 1 .7 3.4-1.3-1.9z" fill="#3d2721"/>
<path d="M400.8 120.7l1.3 .8 .8 2.5-1.3-1.6z" fill="#3d2521"/>
<path d="M400.8 120.7l1.3 .8 1.4 1 1.3 1.2 1.3 1.4 .5 5.4 .3 9.2 0 11.4 .2 9.1-1.1-2.7-1.1-3.1-1-3.6-1.1-3.9-.2-11.1-.3-8.5-.7-4.9z" class="m"/>
<path d="M363.8 108.5l5.2 2.2 4.4-5.8-5.1-1.6z" fill="#ff3331"/>
<path d="M363.8 108.5l5.2 2.2 4.4-5.8-5.1-1.6z" class="m"/>
<path d="M303.7 109.7l4.9 1.6 5.4-5.2-4.8-1.6z" fill="#ff3131"/>
<path d="M303.7 109.7l4.9 1.6 5.4-5.2-4.8-1.6z" class="m"/>
<path d="M288.5 112.8l4.8 .6 5.6-5.3-4.5 2.5z" fill="#c0382b"/>
<path d="M288.5 112.8l4.8 .6 5.6-5.3-4.5 2.5z" class="m"/>
<path d="M343.8 108.9l5.1 1.6 4.8-5.2-5-1.6z" fill="#ff3131"/>
<path d="M343.8 108.9l5.1 1.6 4.8-5.2-5-1.6z" class="m"/>
<path d="M323.8 109.3l5 1.6 5.1-5.2-5-1.6z" fill="#ff3131"/>
<path d="M323.8 109.3l5 1.6 5.1-5.2-5-1.6z" class="m"/>
<path d="M273.1 116l4.7-.1 6-3.7-4.9-2.8z" fill="#f64130"/>
<path d="M273.1 116l4.7-.1 6-3.7-4.9-2.8z" class="m"/>
<path d="M369 110.7l5.1 2.4 4.5-6.6-5.2-1.6z" fill="#ff3932"/>
<path d="M369 110.7l5.1 2.4 4.5-6.6-5.2-1.6z" class="m"/>
<path d="M375.5 134.5l1.3 2.3 1.3 2.6 1.2 2.8 1.3 3 .7 9.4 .8 5.5 1.3-5.8 1.4-11.7-1.3-.4-1.3-.6-1.3-.8-1.3-1.2-1.2 7.1-1.1-.9-.9-6.2z" fill="#35994a"/>
<path d="M380.9 157.1l1.2 3 1.3-5.8-1.3-1.2z" fill="#35ffff"/>
<path d="M379.7 153.6l1.2 3.5 1.2-4-1.3-1.7z" fill="#36fff6"/>
<path d="M378.5 149.8l1.2 3.8 1.1-2.2-1.2-2.1z" fill="#33ff90"/>
<path d="M380.1 150.7l1.2 3.9 .8 5.5-1.2-3z" fill="#213a33"/>
<path d="M382.1 153.1l1.3 1.2 1.4-11.7-1.3-.4z" fill="#2edc36"/>
<path d="M380.8 151.4l1.3 1.7 1.4-10.9-1.3-.6z" fill="#33ea2f"/>
<path d="M379.6 149.3l1.2 2.1 1.4-9.8-1.3-.8z" fill="#48fc30"/>
<path d="M377.3 145.8l1.2 4 1.1-.5-1.2-2.6z" fill="#30f931"/>
<path d="M378.4 146.7l1.2 2.6 1.3-8.5-1.3-1.2z" fill="#6aff32"/>
<path d="M378.9 146.9l1.2 3.8 .8 6.4-1.2-3.5z" fill="#213a28"/>
<path d="M377.7 143.1l1.2 3.8 .8 6.7-1.2-3.8z" fill="#253a21"/>
<path d="M376.4 139.6l1.3 3.5 .8 6.7-1.2-4z" fill="#2d3a21"/>
<path d="M379.3 142.2l1.3 3 .7 9.4-1.2-3.9z" fill="#2e3e21"/>
<path d="M378.1 139.4l1.2 2.8 .8 8.5-1.2-3.8z" fill="#363e21"/>
<path d="M376.8 136.8l1.3 2.6 .8 7.5-1.2-3.8z" fill="#3c3c21"/>
<path d="M375.5 134.5l1.3 2.3 .9 6.3-1.3-3.5z" fill="#3b3621"/>
<path d="M375.5 134.5l1.3 2.3 1.3 2.6 1.2 2.8 1.3 3 .7 9.4 .8 5.5 1.3-5.8 1.4-11.7-1.3-.4-1.3-.6-1.3-.8-1.3-1.2-1.2 7.1-1.1-.9-.9-6.2z" class="m"/>
<path d="M308.6 111.3l5 1.7 5.3-5.3-4.9-1.6z" fill="#ff3131"/>
<path d="M308.6 111.3l5 1.7 5.3-5.3-4.9-1.6z" class="m"/>
<path d="M348.9 110.5l5.1 1.6 4.7-5.2-5-1.6z" fill="#ff3131"/>
<path d="M348.9 110.5l5.1 1.6 4.7-5.2-5-1.6z" class="m"/>
<path d="M328.8 110.9l5 1.7 5-5.3-4.9-1.6z" fill="#ff3131"/>
<path d="M328.8 110.9l5 1.7 5-5.3-4.9-1.6z" class="m"/>
<path d="M374.1 113.1l5.2 1.9 4.4-6.6-5.1-1.9z" fill="#ff3d32"/>
<path d="M374.1 113.1l5.2 1.9 4.4-6.6-5.1-1.9z" class="m"/>
<path d="M293.3 113.4l4.9 1.7 5.5-5.4-4.8-1.6z" fill="#ff3131"/>
<path d="M293.3 113.4l4.9 1.7 5.5-5.4-4.8-1.6z" class="m"/>
<path d="M395.4 118.4l1.4 .4 1.3 .6 1.4 .6 1.3 .7 .8 1.7 .7 4.9 .3 8.5 .2 11.1-1-4.1-1.1-4.1-1.1-4-1.1-3.8-.5-7.5-.7-4.2-.9-1.4z" fill="#4f3223"/>
<path d="M401.5 132.3l1.1 3.5 .2 11.1-1-4.1z" fill="#223f21"/>
<path d="M400.4 129l1.1 3.3 .3 10.5-1.1-4.1z" fill="#2d3f21"/>
<path d="M399.2 126l1.2 3 .3 9.7-1.1-4z" fill="#363e21"/>
<path d="M398 123.4l1.2 2.6 .4 8.7-1.1-3.8z" fill="#3e3d21"/>
<path d="M401.1 124.9l1.2 2.4 .3 8.5-1.1-3.5z" fill="#3e3b21"/>
<path d="M399.8 122.7l1.3 2.2 .4 7.4-1.1-3.3z" fill="#3d3521"/>
<path d="M398.6 120.9l1.2 1.8 .6 6.3-1.2-3z" fill="#3c3121"/>
<path d="M397.3 119.2l1.3 1.7 .6 5.1-1.2-2.6z" fill="#3c2d21"/>
<path d="M400.4 121l1.2 1.4 .7 4.9-1.2-2.4z" fill="#3c2c21"/>
<path d="M399 119.7l1.4 1.3 .7 3.9-1.3-2.2z" fill="#3c2921"/>
<path d="M397.7 118.7l1.3 1 .8 3-1.2-1.8z" fill="#3c2721"/>
<path d="M396.4 117.8l1.3 .9 .9 2.2-1.3-1.7z" fill="#3c2521"/>
<path d="M395.4 118.4l1.4 .4 .9-.1-1.3-.9z" fill="#f43630"/>
<path d="M396.8 118.8l1.3 .6 .9 .3-1.3-1z" fill="#e4372e"/>
<path d="M399.5 120l1.3 .7 .8 1.7-1.2-1.4z" fill="#3c2421"/>
<path d="M398.1 119.4l1.4 .6 .9 1-1.4-1.3z" fill="#3b2321"/>
<path d="M395.4 118.4l1.4 .4 1.3 .6 1.4 .6 1.3 .7 .8 1.7 .7 4.9 .3 8.5 .2 11.1-1-4.1-1.1-4.1-1.1-4-1.1-3.8-.5-7.5-.7-4.2-.9-1.4z" class="m"/>
<path d="M277.8 115.9l4.8 1.3 5.9-4.4-4.7-.6z" fill="#e5382e"/>
<path d="M277.8 115.9l4.8 1.3 5.9-4.4-4.7-.6z" class="m"/>
<path d="M379.3 115l5.3 1.3 4.3-4.5-5.2-3.4z" fill="#ff4532"/>
<path d="M379.3 115l5.3 1.3 4.3-4.5-5.2-3.4z" class="m"/>
<path d="M313.6 113l4.9 1.7 5.3-5.4-4.9-1.6z" fill="#ff3131"/>
<path d="M313.6 113l4.9 1.7 5.3-5.4-4.9-1.6z" class="m"/>
<path d="M354 112.1l5.2 1.7 4.6-5.3-5.1-1.6z" fill="#ff3131"/>
<path d="M354 112.1l5.2 1.7 4.6-5.3-5.1-1.6z" class="m"/>
<path d="M333.8 112.6l5.1 1.6 4.9-5.3-5-1.6z" fill="#ff3131"/>
<path d="M333.8 112.6l5.1 1.6 4.9-5.3-5-1.6z" class="m"/>
<path d="M384.6 116.3l2.7 .5 2.7 .4 2.1-2.5 1.8 4-2.5-4-2.5-2.9-2.1 .6z" fill="#c9362c"/>
<path d="M389.5 113.4l2.6 1.3 1.8 4-2.5-4z" fill="#392621"/>
<path d="M386.8 112.4l2.7 1 1.9 1.3-2.5-2.9z" fill="#ec432f"/>
<path d="M384.6 116.3l2.7 .5 2.2-3.4-2.7-1z" fill="#ff3931"/>
<path d="M387.3 116.8l2.7 .4 2.1-2.5-2.6-1.3z" fill="#ff3931"/>
<path d="M384.6 116.3l2.7 .5 2.7 .4 2.1-2.5 1.8 4-2.5-4-2.5-2.9-2.1 .6z" class="m"/>
<path d="M298.2 115.1l4.9 1.7 5.5-5.5-4.9-1.6z" fill="#ff3131"/>
<path d="M298.2 115.1l4.9 1.7 5.5-5.5-4.9-1.6z" class="m"/>
<path d="M390 117.2l1.3 .3 1.4 .3 1.3 .3 1.4 .3 1-.6 .9 1.4 .7 4.2 .5 7.5-1.1-3.6-1.2-3.2-1.1-2.9-1.2-2.5-.9-3.1-.9-.9-1 .7z" fill="#8c3027"/>
<path d="M396.8 121l1.2 2.4 .5 7.5-1.1-3.6z" fill="#3d3721"/>
<path d="M395.6 118.9l1.2 2.1 .6 6.3-1.2-3.2z" fill="#3c3221"/>
<path d="M394.3 117.2l1.3 1.7 .6 5.2-1.1-2.9z" fill="#3b2e21"/>
<path d="M393 115.6l1.3 1.6 .8 4-1.2-2.5z" fill="#3a2b21"/>
<path d="M396 117.8l1.3 1.4 .7 4.2-1.2-2.4z" fill="#3b2a21"/>
<path d="M394.7 116.6l1.3 1.2 .8 3.2-1.2-2.1z" fill="#3b2821"/>
<path d="M393.4 115.6l1.3 1 .9 2.3-1.3-1.7z" fill="#3b2621"/>
<path d="M392.1 114.7l1.3 .9 .9 1.6-1.3-1.6z" fill="#3a2421"/>
<path d="M391.1 115.4l1.3 .4 1-.2-1.3-.9z" fill="#f73630"/>
<path d="M392.4 115.8l1.4 .6 .9 .2-1.3-1z" fill="#ea382f"/>
<path d="M395.1 117l1.3 .8 .9 1.4-1.3-1.4z" fill="#3b2421"/>
<path d="M393.8 116.4l1.3 .6 .9 .8-1.3-1.2z" fill="#da3b2e"/>
<path d="M390 117.2l1.3 .3 1.1-1.7-1.3-.4z" fill="#fc3330"/>
<path d="M391.3 117.5l1.4 .3 1.1-1.4-1.4-.6z" fill="#ff3331"/>
<path d="M392.7 117.8l1.3 .3 1.1-1.1-1.3-.6z" fill="#ff3431"/>
<path d="M394 118.1l1.4 .3 1-.6-1.3-.8z" fill="#ff3531"/>
<path d="M390 117.2l1.3 .3 1.4 .3 1.3 .3 1.4 .3 1-.6 .9 1.4 .7 4.2 .5 7.5-1.1-3.6-1.2-3.2-1.1-2.9-1.2-2.5-.9-3.1-.9-.9-1 .7z" class="m"/>
<path d="M359.2 113.8l5.2 2.4 4.6-5.5-5.2-2.2z" fill="#ff3732"/>
<path d="M359.2 113.8l5.2 2.4 4.6-5.5-5.2-2.2z" class="m"/>
<path d="M369.5 122.3l1.7 3 1.7 3.3 1.7 3.3 1.6-6.6 1.6-6.1 1.5-4.2-1.7-.5-1.7-.7-1.8-.7-1.5 3.2-1.6 3.6z" fill="#ff8935"/>
<path d="M372.6 116.3l1.7 1.1 1.6-3.6-1.8-.7z" fill="#ff5834"/>
<path d="M372.9 128.6l1.7 3.3 1.6-6.6-1.7-1.7z" fill="#ffd936"/>
<path d="M374.3 117.4l1.8 1 1.5-3.9-1.7-.7z" fill="#ff5b34"/>
<path d="M372.8 121.8l1.7 1.8 1.6-5.2-1.8-1z" fill="#ff8835"/>
<path d="M374.5 123.6l1.7 1.7 1.6-6.1-1.7-.8z" fill="#ff8d34"/>
<path d="M376.1 118.4l1.7 .8 1.5-4.2-1.7-.5z" fill="#ff5c33"/>
<path d="M371 119.9l1.8 1.9 1.5-4.4-1.7-1.1z" fill="#ff7d36"/>
<path d="M371.2 125.3l1.7 3.3 1.6-5-1.7-1.8z" fill="#ffbe37"/>
<path d="M369.5 122.3l1.7 3 1.6-3.5-1.8-1.9z" fill="#ff9b36"/>
<path d="M369.5 122.3l1.7 3 1.7 3.3 1.7 3.3 1.6-6.6 1.6-6.1 1.5-4.2-1.7-.5-1.7-.7-1.8-.7-1.5 3.2-1.6 3.6z" class="m"/>
<path d="M374.6 131.9l1.2 2.3 1.3 2.2 1.3 1.8 1.2 1.4 1.4-8.6 1.3-6.7 1.2-4.7 1.1-3.3-1.3-.3-1.3-.3-1.3-.3-1.4-.4-1.1 3-1.2 4-1.2 5z" fill="#fd9731"/>
<path d="M378.4 138.2l1.2 1.4 1.4-8.6-1.3-.7z" fill="#f8f230"/>
<path d="M377.1 136.4l1.3 1.8 1.3-7.9-1.3-.9z" fill="#fff631"/>
<path d="M375.8 134.2l1.3 2.2 1.3-7-1.3-1.1z" fill="#fff733"/>
<path d="M374.6 131.9l1.2 2.3 1.3-5.9-1.3-1.3z" fill="#fff434"/>
<path d="M375.8 127l1.3 1.3 1.2-5.6-1.3-.7z" fill="#ffa732"/>
<path d="M377.1 128.3l1.3 1.1 1.2-6-1.3-.7z" fill="#ffa631"/>
<path d="M378.4 129.4l1.3 .9 1.2-6.4-1.3-.5z" fill="#fba330"/>
<path d="M379.7 130.3l1.3 .7 1.3-6.7-1.4-.4z" fill="#f19f2f"/>
<path d="M378.2 118l1.3 .5 1.2-3.1-1.4-.4z" fill="#ff5532"/>
<path d="M377 122l1.3 .7 1.2-4.2-1.3-.5z" fill="#ff7532"/>
<path d="M378.3 122.7l1.3 .7 1.2-4.5-1.3-.4z" fill="#ff7331"/>
<path d="M379.5 118.5l1.3 .4 1.2-3.2-1.3-.3z" fill="#ff5331"/>
<path d="M379.6 123.4l1.3 .5 1.2-4.6-1.3-.4z" fill="#ff7131"/>
<path d="M380.8 118.9l1.3 .4 1.2-3.3-1.3-.3z" fill="#ff5131"/>
<path d="M380.9 123.9l1.4 .4 1.2-4.7-1.4-.3z" fill="#f86e30"/>
<path d="M382.1 119.3l1.4 .3 1.1-3.3-1.3-.3z" fill="#ff4e31"/>
<path d="M374.6 131.9l1.2 2.3 1.3 2.2 1.3 1.8 1.2 1.4 1.4-8.6 1.3-6.7 1.2-4.7 1.1-3.3-1.3-.3-1.3-.3-1.3-.3-1.4-.4-1.1 3-1.2 4-1.2 5z" class="m"/>
<path d="M282.6 117.2l4.9 1.7 5.8-5.5-4.8-.6z" fill="#ee322f"/>
<path d="M282.6 117.2l4.9 1.7 5.8-5.5-4.8-.6z" class="m"/>
<path d="M318.5 114.7l5.1 1.6 5.2-5.4-5-1.6z" fill="#ff3131"/>
<path d="M318.5 114.7l5.1 1.6 5.2-5.4-5-1.6z" class="m"/>
<path d="M364.4 116.2l2.5 2.5 2.6 3.6 2.3-4.2 2.3-5-2.6-1.2-2.5-1.2-2.3 3z" fill="#ff5735"/>
<path d="M366.7 113.7l2.5 2.1 2.3-3.9-2.5-1.2z" fill="#ff4835"/>
<path d="M369.2 115.8l2.6 2.3 2.3-5-2.6-1.2z" fill="#ff5835"/>
<path d="M366.9 118.7l2.6 3.6 2.3-4.2-2.6-2.3z" fill="#ff6f36"/>
<path d="M364.4 116.2l2.5 2.5 2.3-2.9-2.5-2.1z" fill="#ff4e35"/>
<path d="M364.4 116.2l2.5 2.5 2.6 3.6 2.3-4.2 2.3-5-2.6-1.2-2.5-1.2-2.3 3z" class="m"/>
<path d="M338.9 114.2l5.1 1.7 4.9-5.4-5.1-1.6z" fill="#ff3131"/>
<path d="M338.9 114.2l5.1 1.7 4.9-5.4-5.1-1.6z" class="m"/>
<path d="M379.6 139.6l1.3 1.2 1.3 .8 1.3 .6 1.3 .4 1.5-10.2 1.3-7.2 1.2-4.8 1.2-3.2-1.4-.2-1.3-.2-1.3-.3-1.4-.2-1.1 3.3-1.2 4.7-1.3 6.7z" fill="#e6872f"/>
<path d="M379.6 139.6l1.3 1.2 1.4-9.3-1.3-.5z" fill="#e6ea2f"/>
<path d="M380.9 140.8l1.3 .8 1.4-9.7-1.3-.4z" fill="#d6e02e"/>
<path d="M382.2 141.6l1.3 .6 1.4-10-1.3-.3z" fill="#cdd82d"/>
<path d="M383.5 142.2l1.3 .4 1.5-10.2-1.4-.2z" fill="#cad32d"/>
<path d="M381 131l1.3 .5 1.3-6.9-1.3-.3z" fill="#e99b2f"/>
<path d="M382.3 131.5l1.3 .4 1.3-7-1.3-.3z" fill="#e2972e"/>
<path d="M383.6 131.9l1.3 .3 1.4-7.1-1.4-.2z" fill="#dd912e"/>
<path d="M384.9 132.2l1.4 .2 1.3-7.2-1.3-.1z" fill="#d88c2d"/>
<path d="M382.3 124.3l1.3 .3 1.2-4.7-1.3-.3z" fill="#f26a2f"/>
<path d="M383.5 119.6l1.3 .3 1.2-3.4-1.4-.2z" fill="#fb4c30"/>
<path d="M383.6 124.6l1.3 .3 1.2-4.8-1.3-.2z" fill="#ed672f"/>
<path d="M384.8 119.9l1.3 .2 1.2-3.3-1.3-.3z" fill="#f84930"/>
<path d="M384.9 124.9l1.4 .2 1.2-4.8-1.4-.2z" fill="#e8632f"/>
<path d="M386.1 120.1l1.4 .2 1.1-3.3-1.3-.2z" fill="#f54630"/>
<path d="M386.3 125.1l1.3 .1 1.2-4.8-1.3-.1z" fill="#e55e2e"/>
<path d="M387.5 120.3l1.3 .1 1.2-3.2-1.4-.2z" fill="#f44330"/>
<path d="M379.6 139.6l1.3 1.2 1.3 .8 1.3 .6 1.3 .4 1.5-10.2 1.3-7.2 1.2-4.8 1.2-3.2-1.4-.2-1.3-.2-1.3-.3-1.4-.2-1.1 3.3-1.2 4.7-1.3 6.7z" class="m"/>
<path d="M370.2 127.5l1.4 1.4 1.3 1.6 1.3 1.9 1.3 2.1 .9 5.1 .9 6.2 1.1 .9 1.2-7.1-1.2-1.4-1.3-1.8-1.3-2.2-1.2-2.3-1.1 1.5-1.1-2.1-1.1-2.5z" fill="#7c8a29"/>
<path d="M377.1 143.6l1.3 3.1 1.2-7.1-1.2-1.4z" fill="#9cff34"/>
<path d="M376.1 141.8l1.2 4 1.1 .9-1.3-3.1z" fill="#65dc2e"/>
<path d="M375.9 140.3l1.2 3.3 1.3-5.4-1.3-1.8z" fill="#dbff35"/>
<path d="M374.7 136.8l1.2 3.5 1.2-3.9-1.3-2.2z" fill="#ffff36"/>
<path d="M374.9 138l1.2 3.8 1 1.8-1.2-3.3z" fill="#97d22d"/>
<path d="M373.5 133.4l1.2 3.4 1.1-2.6-1.2-2.3z" fill="#ffff35"/>
<path d="M373.7 134.4l1.2 3.6 1 2.3-1.2-3.5z" fill="#c8ce2d"/>
<path d="M375.2 136.4l1.2 3.2 .9 6.2-1.2-4z" fill="#353921"/>
<path d="M372.4 131.3l1.3 3.1 1 2.4-1.2-3.4z" fill="#ceb02d"/>
<path d="M373.9 133.5l1.3 2.9 .9 5.4-1.2-3.8z" fill="#383521"/>
<path d="M372.6 131l1.3 2.5 1 4.5-1.2-3.6z" fill="#363020"/>
<path d="M371.3 128.8l1.3 2.2 1.1 3.4-1.3-3.1z" fill="#362c20"/>
<path d="M374.2 132.4l1.3 2.1 .9 5.1-1.2-3.2z" fill="#393121"/>
<path d="M372.9 130.5l1.3 1.9 1 4-1.3-2.9z" fill="#392d21"/>
<path d="M371.6 128.9l1.3 1.6 1 3-1.3-2.5z" fill="#382a21"/>
<path d="M370.2 127.5l1.4 1.4 1 2.1-1.3-2.2z" fill="#372821"/>
<path d="M370.2 127.5l1.4 1.4 1.3 1.6 1.3 1.9 1.3 2.1 .9 5.1 .9 6.2 1.1 .9 1.2-7.1-1.2-1.4-1.3-1.8-1.3-2.2-1.2-2.3-1.1 1.5-1.1-2.1-1.1-2.5z" class="m"/>
<path d="M303.1 116.8l5 1.7 5.5-5.5-5-1.7z" fill="#ff3131"/>
<path d="M303.1 116.8l5 1.7 5.5-5.5-5-1.7z" class="m"/>
<path d="M323.6 116.3l5 1.7 5.2-5.4-5-1.7z" fill="#ff3131"/>
<path d="M323.6 116.3l5 1.7 5.2-5.4-5-1.7z" class="m"/>
<path d="M344 115.9l5.2 1.7 4.8-5.5-5.1-1.6z" fill="#ff3131"/>
<path d="M344 115.9l5.2 1.7 4.8-5.5-5.1-1.6z" class="m"/>
<path d="M287.5 118.9l4.9 1.7 5.8-5.5-4.9-1.7z" fill="#ff3131"/>
<path d="M287.5 118.9l4.9 1.7 5.8-5.5-4.9-1.7z" class="m"/>
<path d="M384.8 142.6l1.4 .1 1.3 .1 1.4-.1 1.3-.2 1.5-10.2 1.4-6.9 1.2-4.5 1.1-2.5-1.4-.3-1.3-.3-1.4-.3-1.3-.3-1.2 3.2-1.2 4.8-1.3 7.2z" fill="#dd752e"/>
<path d="M384.8 142.6l1.4 .1 1.4-10.2-1.3-.1z" fill="#cbd02d"/>
<path d="M386.2 142.7l1.3 .1 1.5-10.3-1.4 0z" fill="#cdcc2d"/>
<path d="M387.5 142.8l1.4-.1 1.4-10.3-1.3 .1z" fill="#cbc32c"/>
<path d="M388.9 142.7l1.3-.2 1.5-10.2-1.4 .1z" fill="#cabc2c"/>
<path d="M386.3 132.4l1.3 .1 1.4-7.2-1.4-.1z" fill="#d5872d"/>
<path d="M387.6 132.5l1.4 0 1.3-7.1-1.3-.1z" fill="#d2812d"/>
<path d="M389 132.5l1.3-.1 1.4-7-1.4 0z" fill="#d07c2d"/>
<path d="M387.6 125.2l1.4 .1 1.2-4.8-1.4-.1z" fill="#e35a2e"/>
<path d="M388.8 120.4l1.4 .1 1.1-3-1.3-.3z" fill="#f44030"/>
<path d="M390.3 132.4l1.4-.1 1.4-6.9-1.4 0z" fill="#ce762d"/>
<path d="M389 125.3l1.3 .1 1.2-4.7-1.3-.2z" fill="#e1562e"/>
<path d="M390.2 120.5l1.3 .2 1.2-2.9-1.4-.3z" fill="#f53d30"/>
<path d="M390.3 125.4l1.4 0 1.2-4.6-1.4-.1z" fill="#e0522e"/>
<path d="M391.5 120.7l1.4 .1 1.1-2.7-1.3-.3z" fill="#f73a30"/>
<path d="M392.9 120.8l1.4 .1 1.1-2.5-1.4-.3z" fill="#f93830"/>
<path d="M391.7 125.4l1.4 0 1.2-4.5-1.4-.1z" fill="#e04e2e"/>
<path d="M384.8 142.6l1.4 .1 1.3 .1 1.4-.1 1.3-.2 1.5-10.2 1.4-6.9 1.2-4.5 1.1-2.5-1.4-.3-1.3-.3-1.4-.3-1.3-.3-1.2 3.2-1.2 4.8-1.3 7.2z" class="m"/>
<path d="M308.1 118.5l5 1.7 5.4-5.5-4.9-1.7z" fill="#ff3131"/>
<path d="M308.1 118.5l5 1.7 5.4-5.5-4.9-1.7z" class="m"/>
<path d="M349.2 117.6l5.2 1.7 4.8-5.5-5.2-1.7z" fill="#ff3131"/>
<path d="M349.2 117.6l5.2 1.7 4.8-5.5-5.2-1.7z" class="m"/>
<path d="M328.6 118l5.2 1.7 5.1-5.5-5.1-1.6z" fill="#ff3131"/>
<path d="M328.6 118l5.2 1.7 5.1-5.5-5.1-1.6z" class="m"/>
<path d="M292.4 120.6l5 1.8 5.7-5.6-4.9-1.7z" fill="#ff3131"/>
<path d="M292.4 120.6l5 1.8 5.7-5.6-4.9-1.7z" class="m"/>
<path d="M364.9 123.5l1.8 1.1 1.8 1.3 1.7 1.6 1.5 2 1.4 3.5 1.5-1.1-1.7-3.3-1.7-3.3-1.7-3-1.5 .3-1.5 .1z" fill="#ef7530"/>
<path d="M371.4 128.8l1.7 4.2 1.5-1.1-1.7-3.3z" fill="#ffcd32"/>
<path d="M369.7 125.3l1.7 3.5 1.5-.2-1.7-3.3z" fill="#ff9c31"/>
<path d="M368 122.6l1.7 2.7 1.5 0-1.7-3z" fill="#ff7931"/>
<path d="M370 126.7l1.7 2.8 1.4 3.5-1.7-4.2z" fill="#cc7e2d"/>
<path d="M368.2 124.4l1.8 2.3 1.4 2.1-1.7-3.5z" fill="#de6b2e"/>
<path d="M366.5 122.7l1.7 1.7 1.5 .9-1.7-2.7z" fill="#f35b30"/>
<path d="M368.5 125.9l1.7 1.6 1.5 2-1.7-2.8z" fill="#db5b2e"/>
<path d="M366.7 124.6l1.8 1.3 1.5 .8-1.8-2.3z" fill="#f25130"/>
<path d="M364.9 123.5l1.8 1.1 1.5-.2-1.7-1.7z" fill="#ff4731"/>
<path d="M364.9 123.5l1.8 1.1 1.8 1.3 1.7 1.6 1.5 2 1.4 3.5 1.5-1.1-1.7-3.3-1.7-3.3-1.7-3-1.5 .3-1.5 .1z" class="m"/>
<path d="M354.4 119.3l5.2 1.8 4.8-4.9-5.2-2.4z" fill="#ff3431"/>
<path d="M354.4 119.3l5.2 1.8 4.8-4.9-5.2-2.4z" class="m"/>
<path d="M390.2 142.5l1.4-.2 1.4-.3 1.3-.3 1.4-.4 1.6-9.6 1.3-6.4 1.2-3.6 1-1-1.3-.7-1.4-.6-1.3-.6-1.4-.4-1.1 2.5-1.2 4.5-1.4 6.9z" fill="#dd632e"/>
<path d="M390.2 142.5l1.4-.2 1.5-10.1-1.4 .1z" fill="#c8b52c"/>
<path d="M391.6 142.3l1.4-.3 1.5-10-1.4 .2z" fill="#c7ad2c"/>
<path d="M393 142l1.3-.3 1.6-9.8-1.4 .1z" fill="#c7a62c"/>
<path d="M394.3 141.7l1.4-.4 1.6-9.6-1.4 .2z" fill="#c69f2c"/>
<path d="M391.7 132.3l1.4-.1 1.3-6.8-1.3 0z" fill="#cd702d"/>
<path d="M393.1 132.2l1.4-.2 1.3-6.7-1.4 .1z" fill="#cc6b2c"/>
<path d="M394.3 120.9l1.4 .2 1.1-2.3-1.4-.4z" fill="#fc3730"/>
<path d="M393.1 125.4l1.3 0 1.3-4.3-1.4-.2z" fill="#e04a2e"/>
<path d="M394.5 132l1.4-.1 1.3-6.6-1.4 0z" fill="#cc652c"/>
<path d="M395.7 121.1l1.3 .1 1.1-1.8-1.3-.6z" fill="#fe3530"/>
<path d="M397 121.2l1.4 .2 1.1-1.4-1.4-.6z" fill="#ff3531"/>
<path d="M394.4 125.4l1.4-.1 1.2-4.1-1.3-.1z" fill="#e2462e"/>
<path d="M395.9 131.9l1.4-.2 1.3-6.4-1.4 0z" fill="#cc5f2c"/>
<path d="M398.4 121.4l1.4 .3 1-1-1.3-.7z" fill="#ff3531"/>
<path d="M395.8 125.3l1.4 0 1.2-3.9-1.4-.2z" fill="#e5422e"/>
<path d="M397.2 125.3l1.4 0 1.2-3.6-1.4-.3z" fill="#e93f2f"/>
<path d="M390.2 142.5l1.4-.2 1.4-.3 1.3-.3 1.4-.4 1.6-9.6 1.3-6.4 1.2-3.6 1-1-1.3-.7-1.4-.6-1.3-.6-1.4-.4-1.1 2.5-1.2 4.5-1.4 6.9z" class="m"/>
<path d="M313.1 120.2l5.1 1.7 5.4-5.6-5.1-1.6z" fill="#ff3131"/>
<path d="M313.1 120.2l5.1 1.7 5.4-5.6-5.1-1.6z" class="m"/>
<path d="M333.8 119.7l5.1 1.8 5.1-5.6-5.1-1.7z" fill="#ff3131"/>
<path d="M333.8 119.7l5.1 1.8 5.1-5.6-5.1-1.7z" class="m"/>
<path d="M359.6 121.1l2.7 1 2.6 1.4 2.4-1 2.2-.2-2.6-3.6-2.5-2.5-2.4 2.3z" fill="#ff4532"/>
<path d="M364.6 120.1l2.7 2.4 2.2-.2-2.6-3.6z" fill="#ff5832"/>
<path d="M362 118.5l2.6 1.6 2.3-1.4-2.5-2.5z" fill="#ff4333"/>
<path d="M359.6 121.1l2.7 1 2.3-2-2.6-1.6z" fill="#ff3832"/>
<path d="M362.3 122.1l2.6 1.4 2.4-1-2.7-2.4z" fill="#ff4232"/>
<path d="M359.6 121.1l2.7 1 2.6 1.4 2.4-1 2.2-.2-2.6-3.6-2.5-2.5-2.4 2.3z" class="m"/>
<path d="M297.4 122.4l5 1.7 5.7-5.6-5-1.7z" fill="#ff3131"/>
<path d="M297.4 122.4l5 1.7 5.7-5.6-5-1.7z" class="m"/>
<path d="M318.2 121.9l5.1 1.7 5.3-5.6-5-1.7z" fill="#ff3131"/>
<path d="M318.2 121.9l5.1 1.7 5.3-5.6-5-1.7z" class="m"/>
<path d="M338.9 121.5l5.3 1.7 5-5.6-5.2-1.7z" fill="#ff3131"/>
<path d="M338.9 121.5l5.3 1.7 5-5.6-5.2-1.7z" class="m"/>
<path d="M395.7 141.3l1.4-.3 1.4-.4 1.5-.4 1.4-.3 1.5-9.1 1.3-5.4 1.1-1.9 .8 1.6-1.3-1.4-1.3-1.2-1.4-1-1.3-.8-1 1-1.2 3.6-1.3 6.4z" fill="#d3532d"/>
<path d="M395.7 141.3l1.4-.3 1.6-9.5-1.4 .2z" fill="#c6972c"/>
<path d="M397.1 141l1.4-.4 1.6-9.3-1.4 .2z" fill="#c6902c"/>
<path d="M398.5 140.6l1.5-.4 1.5-9.2-1.4 .3z" fill="#c5892c"/>
<path d="M400 140.2l1.4-.3 1.5-9.1-1.4 .2z" fill="#c5812c"/>
<path d="M399.8 121.7l1.4 .3 .9-.5-1.3-.8z" fill="#fc3630"/>
<path d="M401.2 122l1.3 .4 1 .1-1.4-1z" fill="#eb362f"/>
<path d="M397.3 131.7l1.4-.2 1.3-6.2-1.4 0z" fill="#cd5a2d"/>
<path d="M402.5 122.4l1.4 .5 .9 .8-1.3-1.2z" fill="#d6372d"/>
<path d="M403.9 122.9l1.4 .6 .8 1.6-1.3-1.4z" fill="#3c2321"/>
<path d="M398.7 131.5l1.4-.2 1.3-6-1.4 0z" fill="#ce552d"/>
<path d="M398.6 125.3l1.4 0 1.2-3.3-1.4-.3z" fill="#ee3c2f"/>
<path d="M400 125.3l1.4 0 1.1-2.9-1.3-.4z" fill="#f53a30"/>
<path d="M400.1 131.3l1.4-.3 1.3-5.7-1.4 0z" fill="#d0502d"/>
<path d="M401.4 125.3l1.4 0 1.1-2.4-1.4-.5z" fill="#fc3930"/>
<path d="M401.5 131l1.4-.2 1.3-5.4-1.4-.1z" fill="#d24c2d"/>
<path d="M402.8 125.3l1.4 .1 1.1-1.9-1.4-.6z" fill="#ff3731"/>
<path d="M395.7 141.3l1.4-.3 1.4-.4 1.5-.4 1.4-.3 1.5-9.1 1.3-5.4 1.1-1.9 .8 1.6-1.3-1.4-1.3-1.2-1.4-1-1.3-.8-1 1-1.2 3.6-1.3 6.4z" class="m"/>
<path d="M387.7 139.6l1.4 .8 1.3 .9 1.4 1 1.4 1 .8 5.2 .5 9.1 .3 11.7 .5 9-1.3-1.8-1.2-2-1.3-2.1-1.2-2.4-.4-11.3-.6-10-.7-6.3z" fill="#33362a"/>
<path d="M393.6 166.8l1.2 2.5 .5 9-1.3-1.8z" fill="#212242"/>
<path d="M392.4 164.1l1.2 2.7 .4 9.7-1.2-2z" fill="#212b42"/>
<path d="M391.1 161.4l1.3 2.7 .4 10.4-1.3-2.1z" fill="#213443"/>
<path d="M389.9 158.7l1.2 2.7 .4 11-1.2-2.4z" fill="#213f43"/>
<path d="M393.2 155.3l1.3 2.3 .3 11.7-1.2-2.5z" fill="#224328"/>
<path d="M391.9 153l1.3 2.3 .4 11.5-1.2-2.7z" fill="#244321"/>
<path d="M390.6 150.8l1.3 2.2 .5 11.1-1.3-2.7z" fill="#2a4221"/>
<path d="M389.3 148.7l1.3 2.1 .5 10.6-1.2-2.7z" fill="#314221"/>
<path d="M392.6 146.8l1.4 1.7 .5 9.1-1.3-2.3z" fill="#424021"/>
<path d="M391.3 145.3l1.3 1.5 .6 8.5-1.3-2.3z" fill="#413c21"/>
<path d="M389.9 143.8l1.4 1.5 .6 7.7-1.3-2.2z" fill="#413921"/>
<path d="M388.6 142.4l1.3 1.4 .7 7-1.3-2.1z" fill="#403621"/>
<path d="M391.8 142.3l1.4 1 .8 5.2-1.4-1.7z" fill="#402e21"/>
<path d="M390.4 141.3l1.4 1 .8 4.5-1.3-1.5z" fill="#402c21"/>
<path d="M389.1 140.4l1.3 .9 .9 4-1.4-1.5z" fill="#402b21"/>
<path d="M387.7 139.6l1.4 .8 .8 3.4-1.3-1.4z" fill="#402921"/>
<path d="M387.7 139.6l1.4 .8 1.3 .9 1.4 1 1.4 1 .8 5.2 .5 9.1 .3 11.7 .5 9-1.3-1.8-1.2-2-1.3-2.1-1.2-2.4-.4-11.3-.6-10-.7-6.3z" class="m"/>
<path d="M302.4 124.1l5.1 1.8 5.6-5.7-5-1.7z" fill="#ff3131"/>
<path d="M302.4 124.1l5.1 1.8 5.6-5.7-5-1.7z" class="m"/>
<path d="M323.3 123.6l5.2 1.8 5.3-5.7-5.2-1.7z" fill="#ff3131"/>
<path d="M323.3 123.6l5.2 1.8 5.3-5.7-5.2-1.7z" class="m"/>
<path d="M344.2 123.2l5.2 1.8 5-5.7-5.2-1.7z" fill="#ff3131"/>
<path d="M344.2 123.2l5.2 1.8 5-5.7-5.2-1.7z" class="m"/>
<path d="M307.5 125.9l5.2 1.7 5.5-5.7-5.1-1.7z" fill="#ff3131"/>
<path d="M307.5 125.9l5.2 1.7 5.5-5.7-5.1-1.7z" class="m"/>
<path d="M349.4 125l5.3 1.7 4.9-5.6-5.2-1.8z" fill="#ff3131"/>
<path d="M349.4 125l5.3 1.7 4.9-5.6-5.2-1.8z" class="m"/>
<path d="M328.5 125.4l5.2 1.8 5.2-5.7-5.1-1.8z" fill="#ff3131"/>
<path d="M328.5 125.4l5.2 1.8 5.2-5.7-5.1-1.8z" class="m"/>
<path d="M382.1 136.6l1.4 .7 1.4 .7 1.4 .8 1.4 .8 .9 2.8 .7 6.3 .6 10 .4 11.3-1.2-2.6-1.2-2.9-1.2-3-1.2-3.2-.6-10.4-.8-6.9-1-3.4z" fill="#373624"/>
<path d="M388.6 156l1.3 2.7 .4 11.3-1.2-2.6z" fill="#21423c"/>
<path d="M387.4 153.2l1.2 2.8 .5 11.4-1.2-2.9z" fill="#214231"/>
<path d="M386.1 150.5l1.3 2.7 .5 11.3-1.2-3z" fill="#214226"/>
<path d="M384.9 147.9l1.2 2.6 .6 11-1.2-3.2z" fill="#264121"/>
<path d="M388 146.6l1.3 2.1 .6 10-1.3-2.7z" fill="#374221"/>
<path d="M386.7 144.7l1.3 1.9 .6 9.4-1.2-2.8z" fill="#3d4121"/>
<path d="M385.4 142.8l1.3 1.9 .7 8.5-1.3-2.7z" fill="#413f21"/>
<path d="M384.1 141l1.3 1.8 .7 7.7-1.2-2.6z" fill="#403b21"/>
<path d="M387.2 141.1l1.4 1.3 .7 6.3-1.3-2.1z" fill="#3f3321"/>
<path d="M385.9 139.9l1.3 1.2 .8 5.5-1.3-1.9z" fill="#3f3121"/>
<path d="M384.5 138.7l1.4 1.2 .8 4.8-1.3-1.9z" fill="#3f2f21"/>
<path d="M383.1 137.6l1.4 1.1 .9 4.1-1.3-1.8z" fill="#3f2d21"/>
<path d="M382.1 136.6l1.4 .7 1 1.4-1.4-1.1z" fill="#3e2521"/>
<path d="M383.5 137.3l1.4 .7 1 1.9-1.4-1.2z" fill="#3e2621"/>
<path d="M386.3 138.8l1.4 .8 .9 2.8-1.4-1.3z" fill="#3f2821"/>
<path d="M384.9 138l1.4 .8 .9 2.3-1.3-1.2z" fill="#3f2721"/>
<path d="M382.1 136.6l1.4 .7 1.4 .7 1.4 .8 1.4 .8 .9 2.8 .7 6.3 .6 10 .4 11.3-1.2-2.6-1.2-2.9-1.2-3-1.2-3.2-.6-10.4-.8-6.9-1-3.4z" class="m"/>
<path d="M377 192.3l1.3 1.5 1.3 1.4 1.4 1.2 1.3 1.2 1.2-3.4 1.6-13.2 1.7-14.5 1.6-11.3-1.4-.7-1.4-.8-1.4-.7-1.4-.7-1.5 10.1-1.6 13.6-1.5 13.2z" fill="#76968f"/>
<path d="M381 196.4l1.3 1.2 1.2-3.4-1.3-1.1z" fill="#9736ff"/>
<path d="M379.6 195.2l1.4 1.2 1.2-3.3-1.4-1.1z" fill="#8a36ff"/>
<path d="M378.3 193.8l1.3 1.4 1.2-3.2-1.3-1.3z" fill="#7a36ff"/>
<path d="M377 192.3l1.3 1.5 1.2-3.1-1.3-1.5z" fill="#6637ff"/>
<path d="M382.2 193.1l1.3 1.1 1.6-13.2-1.3-1.1z" fill="#2e65dd"/>
<path d="M380.8 192l1.4 1.1 1.6-13.2-1.4-1.2z" fill="#2e77df"/>
<path d="M379.5 190.7l1.3 1.3 1.6-13.3-1.4-1.3z" fill="#2e8ce1"/>
<path d="M378.2 189.2l1.3 1.5 1.5-13.3-1.3-1.4z" fill="#2ea5e4"/>
<path d="M383.8 179.9l1.3 1.1 1.7-14.5-1.4-1z" fill="#38db2e"/>
<path d="M382.4 178.7l1.4 1.2 1.6-14.4-1.4-1z" fill="#42dc2e"/>
<path d="M381 177.4l1.4 1.3 1.6-14.2-1.3-1z" fill="#4edd2e"/>
<path d="M379.7 176l1.3 1.4 1.7-13.9-1.4-1.1z" fill="#5bdf2e"/>
<path d="M381.3 162.4l1.4 1.1 1.5-10.5-1.4-.7z" fill="#e6bf2f"/>
<path d="M382.7 163.5l1.3 1 1.6-10.8-1.4-.7z" fill="#e3c22e"/>
<path d="M384 164.5l1.4 1 1.6-11-1.4-.8z" fill="#e1c42e"/>
<path d="M385.4 165.5l1.4 1 1.6-11.3-1.4-.7z" fill="#dfc72e"/>
<path d="M377 192.3l1.3 1.5 1.3 1.4 1.4 1.2 1.3 1.2 1.2-3.4 1.6-13.2 1.7-14.5 1.6-11.3-1.4-.7-1.4-.8-1.4-.7-1.4-.7-1.5 10.1-1.6 13.6-1.5 13.2z" class="m"/>
<path d="M354.7 126.7l5.4 1.8 4.8-5-5.3-2.4z" fill="#ff3431"/>
<path d="M354.7 126.7l5.4 1.8 4.8-5-5.3-2.4z" class="m"/>
<path d="M312.7 127.6l5.1 1.8 5.5-5.8-5.1-1.7z" fill="#ff3131"/>
<path d="M312.7 127.6l5.1 1.8 5.5-5.8-5.1-1.7z" class="m"/>
<path d="M333.7 127.2l5.3 1.8 5.2-5.8-5.3-1.7z" fill="#ff3131"/>
<path d="M333.7 127.2l5.3 1.8 5.2-5.8-5.3-1.7z" class="m"/>
<path d="M376.5 134.2l1.4 .6 1.4 .6 1.4 .6 1.4 .6 1 1 1 3.4 .8 6.9 .6 10.4-1.2-3.3-1.3-3.3-1.2-3.3-1.2-3.2-.9-6.6-1-3.4-1-1.2z" fill="#593423"/>
<path d="M383.6 145.3l1.3 2.6 .6 10.4-1.2-3.3z" fill="#2e4121"/>
<path d="M382.3 142.9l1.3 2.4 .7 9.7-1.3-3.3z" fill="#364021"/>
<path d="M381 140.7l1.3 2.2 .7 8.8-1.2-3.3z" fill="#3d3f21"/>
<path d="M379.7 138.6l1.3 2.1 .8 7.7-1.2-3.2z" fill="#3e3b21"/>
<path d="M382.8 139.4l1.3 1.6 .8 6.9-1.3-2.6z" fill="#3f3721"/>
<path d="M381.4 137.9l1.4 1.5 .8 5.9-1.3-2.4z" fill="#3e3321"/>
<path d="M380.1 136.5l1.3 1.4 .9 5-1.3-2.2z" fill="#3d3021"/>
<path d="M378.7 135.2l1.4 1.3 .9 4.2-1.3-2.1z" fill="#3d2e21"/>
<path d="M381.8 136.6l1.3 1 1 3.4-1.3-1.6z" fill="#3e2b21"/>
<path d="M380.4 135.7l1.4 .9 1 2.8-1.4-1.5z" fill="#3e2921"/>
<path d="M379 134.8l1.4 .9 1 2.2-1.3-1.4z" fill="#3d2821"/>
<path d="M377.7 134l1.3 .8 1.1 1.7-1.4-1.3z" fill="#3d2621"/>
<path d="M376.5 134.2l1.4 .6 1.1 0-1.3-.8z" fill="#e3392e"/>
<path d="M377.9 134.8l1.4 .6 1.1 .3-1.4-.9z" fill="#d93a2d"/>
<path d="M379.3 135.4l1.4 .6 1.1 .6-1.4-.9z" fill="#ce3c2d"/>
<path d="M380.7 136l1.4 .6 1 1-1.3-1z" fill="#3d2421"/>
<path d="M376.5 134.2l1.4 .6 1.4 .6 1.4 .6 1.4 .6 1 1 1 3.4 .8 6.9 .6 10.4-1.2-3.3-1.3-3.3-1.2-3.3-1.2-3.2-.9-6.6-1-3.4-1-1.2z" class="m"/>
<path d="M371.7 183.9l1.3 2.5 1.3 2.2 1.3 2 1.4 1.7 1.2-3.1 1.5-13.2 1.6-13.6 1.5-10.1-1.4-.8-1.4-.8-1.4-.9-1.4-.8-1.4 8.5-1.5 11.8-1.4 12.1z" fill="#78bc8c"/>
<path d="M375.6 190.6l1.4 1.7 1.2-3.1-1.4-1.6z" fill="#4d37ff"/>
<path d="M374.3 188.6l1.3 2 1.2-3-1.3-1.8z" fill="#373eff"/>
<path d="M373 186.4l1.3 2.2 1.2-2.8-1.3-2.1z" fill="#367aff"/>
<path d="M371.7 183.9l1.3 2.5 1.2-2.7-1.3-2.3z" fill="#36c0ff"/>
<path d="M376.8 187.6l1.4 1.6 1.5-13.2-1.3-1.5z" fill="#2fc3e7"/>
<path d="M375.5 185.8l1.3 1.8 1.6-13.1-1.4-1.6z" fill="#2fe7eb"/>
<path d="M374.2 183.7l1.3 2.1 1.5-12.9-1.3-1.7z" fill="#2ff0d1"/>
<path d="M372.9 181.4l1.3 2.3 1.5-12.5-1.4-1.9z" fill="#30f6ad"/>
<path d="M378.4 174.5l1.3 1.5 1.6-13.6-1.4-1.2z" fill="#6be22e"/>
<path d="M377 172.9l1.4 1.6 1.5-13.3-1.4-1.2z" fill="#7ce52e"/>
<path d="M375.7 171.2l1.3 1.7 1.5-12.9-1.3-1.2z" fill="#90e92f"/>
<path d="M374.3 169.3l1.4 1.9 1.5-12.4-1.4-1.3z" fill="#a6ed2f"/>
<path d="M378.5 160l1.4 1.2 1.5-9.7-1.4-.8z" fill="#ecb92f"/>
<path d="M379.9 161.2l1.4 1.2 1.5-10.1-1.4-.8z" fill="#e9bc2f"/>
<path d="M377.2 158.8l1.3 1.2 1.5-9.3-1.4-.9z" fill="#f0b52f"/>
<path d="M375.8 157.5l1.4 1.3 1.4-9-1.4-.8z" fill="#f4b130"/>
<path d="M371.7 183.9l1.3 2.5 1.3 2.2 1.3 2 1.4 1.7 1.2-3.1 1.5-13.2 1.6-13.6 1.5-10.1-1.4-.8-1.4-.8-1.4-.9-1.4-.8-1.4 8.5-1.5 11.8-1.4 12.1z" class="m"/>
<path d="M360.1 128.5l5.4 1.8 4.7-2.8-5.3-4z" fill="#ff3e32"/>
<path d="M360.1 128.5l5.4 1.8 4.7-2.8-5.3-4z" class="m"/>
<path d="M317.8 129.4l5.3 1.9 5.4-5.9-5.2-1.8z" fill="#ff3131"/>
<path d="M317.8 129.4l5.3 1.9 5.4-5.9-5.2-1.8z" class="m"/>
<path d="M365.5 130.3l2.8 .9 2.7 1 2.3-1.3 2.2 3.6-2.6-4-2.7-3-2.3 .5z" fill="#c8392c"/>
<path d="M370.6 129.3l2.7 1.6 2.2 3.6-2.6-4z" fill="#392721"/>
<path d="M367.9 128l2.7 1.3 2.3 1.2-2.7-3z" fill="#ec4c2f"/>
<path d="M365.5 130.3l2.8 .9 2.3-1.9-2.7-1.3z" fill="#ff3631"/>
<path d="M368.3 131.2l2.7 1 2.3-1.3-2.7-1.6z" fill="#fe3930"/>
<path d="M365.5 130.3l2.8 .9 2.7 1 2.3-1.3 2.2 3.6-2.6-4-2.7-3-2.3 .5z" class="m"/>
<path d="M371 132.2l1.4 .5 1.4 .5 1.3 .5 1.4 .5 1.2-.2 1 1.2 1 3.4 .9 6.6-1.3-3-1.2-2.8-1.3-2.6-1.3-2.3-1.1-2.7-1.1-.9-1.1 .3z" fill="#883227"/>
<path d="M378.4 136.6l1.3 2 .9 6.6-1.3-3z" fill="#3d3621"/>
<path d="M377.1 134.8l1.3 1.8 .9 5.6-1.2-2.8z" fill="#3c3221"/>
<path d="M375.8 133.2l1.3 1.6 1 4.6-1.3-2.6z" fill="#3b2f21"/>
<path d="M374.4 131.8l1.4 1.4 1 3.6-1.3-2.3z" fill="#3b2c21"/>
<path d="M377.4 134l1.3 1.2 1 3.4-1.3-2z" fill="#3d2b21"/>
<path d="M376 132.9l1.4 1.1 1 2.6-1.3-1.8z" fill="#3c2921"/>
<path d="M374.7 131.9l1.3 1 1.1 1.9-1.3-1.6z" fill="#3b2821"/>
<path d="M373.3 130.9l1.4 1 1.1 1.3-1.4-1.4z" fill="#3b2621"/>
<path d="M372.2 131.2l1.3 .6 1.2 .1-1.4-1z" fill="#e93e2f"/>
<path d="M373.5 131.8l1.4 .7 1.1 .4-1.3-1z" fill="#de402e"/>
<path d="M374.9 132.5l1.4 .7 1.1 .8-1.4-1.1z" fill="#d3422d"/>
<path d="M376.3 133.2l1.4 .8 1 1.2-1.3-1.2z" fill="#3c2521"/>
<path d="M371 132.2l1.4 .5 1.1-.9-1.3-.6z" fill="#fb3530"/>
<path d="M372.4 132.7l1.4 .5 1.1-.7-1.4-.7z" fill="#f73630"/>
<path d="M373.8 133.2l1.3 .5 1.2-.5-1.4-.7z" fill="#f23730"/>
<path d="M375.1 133.7l1.4 .5 1.2-.2-1.4-.8z" fill="#eb382f"/>
<path d="M371 132.2l1.4 .5 1.4 .5 1.3 .5 1.4 .5 1.2-.2 1 1.2 1 3.4 .9 6.6-1.3-3-1.2-2.8-1.3-2.6-1.3-2.3-1.1-2.7-1.1-.9-1.1 .3z" class="m"/>
<path d="M339 129l5.3 1.8 5.1-5.8-5.2-1.8z" fill="#ff3131"/>
<path d="M339 129l5.3 1.8 5.1-5.8-5.2-1.8z" class="m"/>
<path d="M366.4 171.6l1.3 3.4 1.4 3.2 1.3 3 1.3 2.7 1.2-2.5 1.4-12.1 1.5-11.8 1.4-8.5-1.4-.9-1.4-.9-1.4-.9-1.4-1-1.3 6.5-1.3 9-1.4 9.1z" fill="#99e65b"/>
<path d="M370.4 181.2l1.3 2.7 1.2-2.5-1.3-2.6z" fill="#35ffff"/>
<path d="M369.1 178.2l1.3 3 1.2-2.4-1.3-2.8z" fill="#35ffff"/>
<path d="M371.6 178.8l1.3 2.6 1.4-12.1-1.3-2z" fill="#30fc81"/>
<path d="M367.7 175l1.4 3.2 1.2-2.2-1.4-3z" fill="#34ffae"/>
<path d="M370.3 176l1.3 2.8 1.4-11.5-1.4-2z" fill="#31ff4e"/>
<path d="M366.4 171.6l1.3 3.4 1.2-2-1.3-3.1z" fill="#34ff51"/>
<path d="M368.9 173l1.4 3 1.3-10.7-1.3-2.3z" fill="#4aff32"/>
<path d="M367.6 169.9l1.3 3.1 1.4-10-1.3-2.2z" fill="#7eff32"/>
<path d="M373 167.3l1.3 2 1.5-11.8-1.4-1.4z" fill="#c0f230"/>
<path d="M371.6 165.3l1.4 2 1.4-11.2-1.4-1.4z" fill="#ddf830"/>
<path d="M370.3 163l1.3 2.3 1.4-10.6-1.3-1.4z" fill="#fdfe30"/>
<path d="M369 160.8l1.3 2.2 1.4-9.7-1.4-1.5z" fill="#fff031"/>
<path d="M374.4 156.1l1.4 1.4 1.4-8.5-1.4-.9z" fill="#f9ad30"/>
<path d="M373 154.7l1.4 1.4 1.4-8-1.4-.9z" fill="#ffa831"/>
<path d="M371.7 153.3l1.3 1.4 1.4-7.5-1.4-.9z" fill="#ffa331"/>
<path d="M370.3 151.8l1.4 1.5 1.3-7-1.4-1z" fill="#ff9e32"/>
<path d="M366.4 171.6l1.3 3.4 1.4 3.2 1.3 3 1.3 2.7 1.2-2.5 1.4-12.1 1.5-11.8 1.4-8.5-1.4-.9-1.4-.9-1.4-.9-1.4-1-1.3 6.5-1.3 9-1.4 9.1z" class="m"/>
<path d="M323.1 131.3l5.2 1.8 5.4-5.9-5.2-1.8z" fill="#ff3131"/>
<path d="M323.1 131.3l5.2 1.8 5.4-5.9-5.2-1.8z" class="m"/>
<path d="M344.3 130.8l5.4 1.8 5-5.9-5.3-1.7z" fill="#ff3131"/>
<path d="M344.3 130.8l5.4 1.8 5-5.9-5.3-1.7z" class="m"/>
<path d="M349.7 132.6l5.4 2.3 5-6.4-5.4-1.8z" fill="#ff3231"/>
<path d="M349.7 132.6l5.4 2.3 5-6.4-5.4-1.8z" class="m"/>
<path d="M328.3 133.1l5.4 1.9 5.3-6-5.3-1.8z" fill="#ff3131"/>
<path d="M328.3 133.1l5.4 1.9 5.3-6-5.3-1.8z" class="m"/>
<path d="M355.1 134.9l5.5 3.1 4.9-7.7-5.4-1.8z" fill="#ff3932"/>
<path d="M355.1 134.9l5.5 3.1 4.9-7.7-5.4-1.8z" class="m"/>
<path d="M361 158l1.4 3.3 1.3 3.4 1.4 3.5 1.3 3.4 1.2-1.7 1.4-9.1 1.3-9 1.3-6.5-1.4-.9-1.3-.9-1.4-1-1.4-.9-1.3 4.3-1.2 5.6-1.3 5.2z" fill="#ead733"/>
<path d="M365.1 168.2l1.3 3.4 1.2-1.7-1.3-3.3z" fill="#65ff33"/>
<path d="M366.3 166.6l1.3 3.3 1.4-9.1-1.4-2.4z" fill="#b8ff33"/>
<path d="M363.7 164.7l1.4 3.5 1.2-1.6-1.3-3.4z" fill="#abff33"/>
<path d="M365 163.2l1.3 3.4 1.3-8.2-1.3-2.3z" fill="#f7ff34"/>
<path d="M362.4 161.3l1.3 3.4 1.3-1.5-1.4-3.3z" fill="#efff33"/>
<path d="M363.6 159.9l1.4 3.3 1.3-7.1-1.4-2.3z" fill="#ffff34"/>
<path d="M367.6 158.4l1.4 2.4 1.3-9-1.4-1.5z" fill="#ffe432"/>
<path d="M362.3 156.7l1.3 3.2 1.3-6.1-1.3-2.3z" fill="#ffff35"/>
<path d="M361 158l1.4 3.3 1.2-1.4-1.3-3.2z" fill="#ffff33"/>
<path d="M366.3 156.1l1.3 2.3 1.3-8.1-1.3-1.5z" fill="#ffd732"/>
<path d="M364.9 153.8l1.4 2.3 1.3-7.3-1.4-1.4z" fill="#ffc933"/>
<path d="M363.6 151.5l1.3 2.3 1.3-6.4-1.4-1.5z" fill="#ffba34"/>
<path d="M368.9 150.3l1.4 1.5 1.3-6.5-1.4-.9z" fill="#ff9732"/>
<path d="M367.6 148.8l1.3 1.5 1.3-5.9-1.3-.9z" fill="#ff9133"/>
<path d="M366.2 147.4l1.4 1.4 1.3-5.3-1.4-1z" fill="#ff8a33"/>
<path d="M364.8 145.9l1.4 1.5 1.3-4.9-1.4-.9z" fill="#ff8234"/>
<path d="M361 158l1.4 3.3 1.3 3.4 1.4 3.5 1.3 3.4 1.2-1.7 1.4-9.1 1.3-9 1.3-6.5-1.4-.9-1.3-.9-1.4-1-1.4-.9-1.3 4.3-1.2 5.6-1.3 5.2z" class="m"/>
<path d="M333.7 135l5.4 1.8 5.2-6-5.3-1.8z" fill="#ff3131"/>
<path d="M333.7 135l5.4 1.8 5.2-6-5.3-1.8z" class="m"/>
<path d="M360.6 138l5.5 3.6 4.9-9.4-5.5-1.9z" fill="#ff4634"/>
<path d="M360.6 138l5.5 3.6 4.9-9.4-5.5-1.9z" class="m"/>
<path d="M339.1 136.8l5.4 1.9 5.2-6.1-5.4-1.8z" fill="#ff3131"/>
<path d="M339.1 136.8l5.4 1.9 5.2-6.1-5.4-1.8z" class="m"/>
<path d="M366.1 141.6l2.8 1.9 2.7 1.8 2.5-7.6 2.4-3.5-2.7-1-2.8-1-2.4 3.5z" fill="#ff4732"/>
<path d="M368.6 135.7l2.8 1 2.4-3.5-2.8-1z" fill="#ff3531"/>
<path d="M371.4 136.7l2.7 1 2.4-3.5-2.7-1z" fill="#ff3731"/>
<path d="M366.1 141.6l2.8 1.9 2.5-6.8-2.8-1z" fill="#ff5534"/>
<path d="M368.9 143.5l2.7 1.8 2.5-7.6-2.7-1z" fill="#ff5b33"/>
<path d="M366.1 141.6l2.8 1.9 2.7 1.8 2.5-7.6 2.4-3.5-2.7-1-2.8-1-2.4 3.5z" class="m"/>
<path d="M355.5 147.4l1.9 3 1.8 3.6 1.8 4 1.7-2.8 1.7-7.5 1.7-6.1-1.8-1.3-1.9-1.2-1.8-1.1-1.7 3.6-1.7 3.8z" fill="#ff9d35"/>
<path d="M360.9 151.6l1.8 3.6 1.7-7.5-1.8-2.2z" fill="#ffc635"/>
<path d="M359.2 154l1.8 4 1.7-2.8-1.8-3.6z" fill="#ffe834"/>
<path d="M359.1 148.3l1.8 3.3 1.7-6.1-1.8-2.1z" fill="#ffa836"/>
<path d="M362.6 145.5l1.8 2.2 1.7-6.1-1.8-1.3z" fill="#ff8135"/>
<path d="M360.8 143.4l1.8 2.1 1.7-5.2-1.9-1.2z" fill="#ff7436"/>
<path d="M358.9 141.6l1.9 1.8 1.6-4.3-1.8-1.1z" fill="#ff6536"/>
<path d="M357.4 150.4l1.8 3.6 1.7-2.4-1.8-3.3z" fill="#ffb934"/>
<path d="M357.2 145.4l1.9 2.9 1.7-4.9-1.9-1.8z" fill="#ff8b37"/>
<path d="M355.5 147.4l1.9 3 1.7-2.1-1.9-2.9z" fill="#ff9235"/>
<path d="M355.5 147.4l1.9 3 1.8 3.6 1.8 4 1.7-2.8 1.7-7.5 1.7-6.1-1.8-1.3-1.9-1.2-1.8-1.1-1.7 3.6-1.7 3.8z" class="m"/>
<path d="M371.6 145.3l2.8 1.9 2.8 1.8 2.5-9.4 2.4-3-2.8-1.2-2.8-1.2-2.4 3.5z" fill="#ff4d32"/>
<path d="M374.1 137.7l2.8 1 2.4-3.3-2.8-1.2z" fill="#ff3831"/>
<path d="M376.9 138.7l2.8 .9 2.4-3-2.8-1.2z" fill="#ff3a31"/>
<path d="M371.6 145.3l2.8 1.9 2.5-8.5-2.8-1z" fill="#ff6033"/>
<path d="M374.4 147.2l2.8 1.8 2.5-9.4-2.8-.9z" fill="#ff6332"/>
<path d="M371.6 145.3l2.8 1.9 2.8 1.8 2.5-9.4 2.4-3-2.8-1.2-2.8-1.2-2.4 3.5z" class="m"/>
<path d="M344.5 138.7l5.5 2.6 5.1-6.4-5.4-2.3z" fill="#ff3532"/>
<path d="M344.5 138.7l5.5 2.6 5.1-6.4-5.4-2.3z" class="m"/>
<path d="M350 141.3l2.8 2.5 2.7 3.6 2.6-3.9 2.5-5.5-2.7-1.7-2.8-1.4-2.5 3.4z" fill="#ff5635"/>
<path d="M352.6 138.3l2.7 2.3 2.6-4.3-2.8-1.4z" fill="#ff4535"/>
<path d="M355.3 140.6l2.8 2.9 2.5-5.5-2.7-1.7z" fill="#ff5b36"/>
<path d="M352.8 143.8l2.7 3.6 2.6-3.9-2.8-2.9z" fill="#ff6b36"/>
<path d="M350 141.3l2.8 2.5 2.5-3.2-2.7-2.3z" fill="#ff4b35"/>
<path d="M350 141.3l2.8 2.5 2.7 3.6 2.6-3.9 2.5-5.5-2.7-1.7-2.8-1.4-2.5 3.4z" class="m"/>
<path d="M377.2 149l2.8 1.7 2.8 1.6 2.6-11 2.3-1.7-2.8-1.6-2.8-1.4-2.4 3z" fill="#ff5231"/>
<path d="M379.7 139.6l2.9 .9 2.3-2.5-2.8-1.4z" fill="#ff3c31"/>
<path d="M382.6 140.5l2.8 .8 2.3-1.7-2.8-1.6z" fill="#ff3e31"/>
<path d="M377.2 149l2.8 1.7 2.6-10.2-2.9-.9z" fill="#ff6631"/>
<path d="M380 150.7l2.8 1.6 2.6-11-2.8-.8z" fill="#ff6731"/>
<path d="M377.2 149l2.8 1.7 2.8 1.6 2.6-11 2.3-1.7-2.8-1.6-2.8-1.4-2.4 3z" class="m"/>
<path d="M382.8 152.3l2.8 1.4 2.8 1.5 2.7-12.1 2.1 .2-2.8-2-2.7-1.7-2.3 1.7z" fill="#f35530"/>
<path d="M385.4 141.3l2.9 .9 2.1-.9-2.7-1.7z" fill="#f44030"/>
<path d="M388.3 142.2l2.8 .9 2.1 .2-2.8-2z" fill="#e2412e"/>
<path d="M382.8 152.3l2.8 1.4 2.7-11.5-2.9-.9z" fill="#fc6930"/>
<path d="M385.6 153.7l2.8 1.5 2.7-12.1-2.8-.9z" fill="#f86930"/>
<path d="M382.8 152.3l2.8 1.4 2.8 1.5 2.7-12.1 2.1 .2-2.8-2-2.7-1.7-2.3 1.7z" class="m"/></g>
<line x1="247.6" y1="149.4" x2="240.4" y2="102.6" class="bx"/>
<line x1="247.6" y1="149.4" x2="382.1" y2="202.0" class="bx"/>
<line x1="240.4" y1="102.6" x2="384.1" y2="152.5" class="bx"/>
<line x1="240.4" y1="102.6" x2="322.3" y2="36.7" class="bx"/>
<line x1="322.3" y1="36.7" x2="444.9" y2="68.7" class="bx"/>
<line x1="382.1" y1="202.0" x2="384.1" y2="152.5" class="bx"/>
<line x1="382.1" y1="202.0" x2="439.9" y2="113.1" class="bx"/>
<line x1="439.9" y1="113.1" x2="444.9" y2="68.7" class="bx"/>
<line x1="384.1" y1="152.5" x2="444.9" y2="68.7" class="bx"/><path d="M247.4 147.9L249.0 148.5M247.0 145.4L250.0 146.6M246.6 142.9L248.2 143.5M246.2 140.3L247.8 140.9M245.8 137.8L247.4 138.4M245.4 135.2L248.5 136.3M245.0 132.6L246.6 133.2M244.6 129.9L246.2 130.5M244.2 127.3L245.8 127.9M243.8 124.6L246.9 125.8M243.4 121.9L245.0 122.5M243.0 119.2L244.6 119.8M242.6 116.5L244.2 117.1M242.2 113.8L245.3 114.9M241.7 111.0L243.4 111.6M241.3 108.2L242.9 108.8M240.9 105.4L242.5 106.0M240.4 102.6L243.6 103.7M247.6 149.4L250.4 146.9M259.7 154.1L261.1 152.7M272.0 158.9L273.4 157.5M284.6 163.9L286.0 162.4M297.5 168.9L298.9 167.4M310.7 174.1L313.2 171.2M324.3 179.4L325.6 177.8M338.2 184.8L339.5 183.2M352.5 190.4L353.7 188.7M367.1 196.1L368.3 194.4M382.1 202.0L384.3 198.7M382.1 202.0L380.2 201.2M387.2 194.2L385.2 193.5M392.1 186.7L388.4 185.3M396.8 179.4L394.9 178.7M401.4 172.4L399.5 171.7M405.8 165.6L403.9 164.9M410.1 159.0L406.5 157.8M414.2 152.6L412.4 152.0M418.2 146.5L416.4 145.9M422.1 140.5L420.3 139.9M425.9 134.7L422.5 133.6M429.5 129.0L427.8 128.5M433.1 123.6L431.4 123.0M436.5 118.3L434.8 117.7M439.9 113.1L436.7 112.1" stroke="#333" stroke-width="0.6" fill="none"/>
<text x="227.4" y="63.2" class="s h" font-size="14" letter-spacing="0.5">(b)</text>
<text transform="translate(224.3 126.5) rotate(-90)" class="s h" font-size="14" font-style="italic">TE</text>
<g class="t" font-size="10.5" text-anchor="end">
<text x="238.2" y="105">1.0</text>
<text x="239.7" y="115.9">0.8</text>
<text x="241.9" y="127.2">0.6</text>
<text x="243.3" y="137.9">0.4</text>
<text x="245" y="148.1">0.2</text>
</g>
<g class="t" font-size="10.5" text-anchor="middle">
<text x="241.3" y="163.2">0.5</text>
<text x="302.5" y="187.8">1.0</text>
<text x="372.3" y="214">1.5</text>
</g>
<g class="t" font-size="10.5" text-anchor="middle">
<text x="397.5" y="193.7">2</text>
<text x="415" y="167.1">4</text>
<text x="430.2" y="143.6">6</text>
<text x="443.5" y="122.9">8</text>
</g>
<text x="275.2" y="204.6" class="s h" font-size="18.5" font-style="italic">f</text>
<text x="285.4" y="205.2" class="s h" font-size="17.5" font-style="italic">/</text>
<text x="292.8" y="204.6" class="s h" font-size="18.5" font-style="italic">f</text>
<text x="301.6" y="206.3" class="t" font-size="10.5" style="stroke-width:0.1px">0</text>
<g class="s" font-size="13" font-style="italic">
<text x="417.5" y="174.8">N<tspan font-size="8" font-style="normal" dy="1.5">3</tspan><tspan dy="-1.5">L</tspan><tspan font-size="8" font-style="normal" dy="1.5">3</tspan></text>
<text x="418.5" y="194.6">N<tspan font-size="8" font-style="normal" dy="1.5">1</tspan><tspan dy="-1.5">L</tspan><tspan font-size="8" font-style="normal" dy="1.5">1</tspan></text>
</g>
<line x1="416.3" y1="179.7" x2="444.4" y2="179.7" stroke="#444" stroke-width="1.3"/>

</svg></body></html>
